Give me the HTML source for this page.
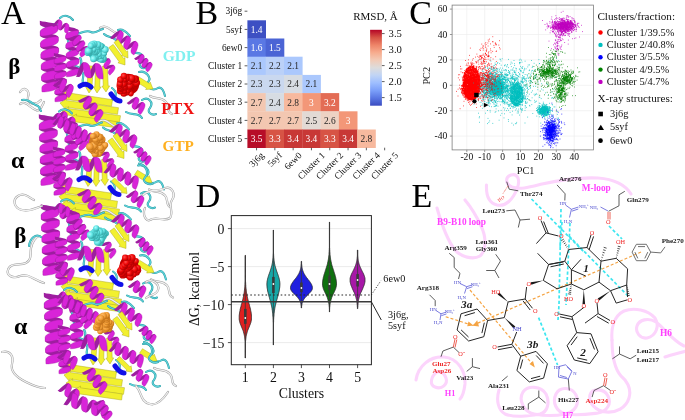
<!DOCTYPE html>
<html><head><meta charset="utf-8"><title>Figure</title>
<style>
html,body{margin:0;padding:0;background:#fff;width:685px;height:420px;overflow:hidden}
svg{display:block}
text{font-family:"Liberation Serif","Times New Roman",serif}
.bd{font-weight:bold}
</style></head><body>
<svg width="685" height="420" viewBox="0 0 685 420">
<rect width="685" height="420" fill="#fff"/>
<g id="A">
<defs>
<radialGradient id="gc" cx="0.38" cy="0.38" r="0.65"><stop offset="0" stop-color="#b0ffff"/><stop offset="0.55" stop-color="#60e4e4"/><stop offset="1" stop-color="#34a8a8"/></radialGradient>
<radialGradient id="gr" cx="0.38" cy="0.38" r="0.65"><stop offset="0" stop-color="#ff5050"/><stop offset="0.55" stop-color="#f00808"/><stop offset="1" stop-color="#b00000"/></radialGradient>
<radialGradient id="go" cx="0.38" cy="0.38" r="0.65"><stop offset="0" stop-color="#ffc070"/><stop offset="0.55" stop-color="#f4a038"/><stop offset="1" stop-color="#c07018"/></radialGradient>
</defs>
<defs><g id="mono">
<path d="M100 28 C106 24 110 30 116 33" fill="none" stroke="#9a9a9a" stroke-width="2.2" stroke-linecap="round" stroke-linejoin="round"/>
<path d="M100 28 C106 24 110 30 116 33" fill="none" stroke="#f2f2f2" stroke-width="1.3" stroke-linecap="round" stroke-linejoin="round"/>
<path d="M150 96 C156 100 160 96 166 102 C170 106 166 112 172 114" fill="none" stroke="#9a9a9a" stroke-width="2.2" stroke-linecap="round" stroke-linejoin="round"/>
<path d="M150 96 C156 100 160 96 166 102 C170 106 166 112 172 114" fill="none" stroke="#f2f2f2" stroke-width="1.3" stroke-linecap="round" stroke-linejoin="round"/>
<path d="M41 32 C46 28 52 22 58 25" fill="none" stroke="#2a9aa2" stroke-width="2.1" stroke-linecap="round" stroke-linejoin="round"/>
<path d="M41 32 C46 28 52 22 58 25" fill="none" stroke="#5fd3da" stroke-width="1.2" stroke-linecap="round" stroke-linejoin="round"/>
<path d="M70 34 C76 38 84 28 91 32 C95 34 99 30 103 29" fill="none" stroke="#2a9aa2" stroke-width="2.1" stroke-linecap="round" stroke-linejoin="round"/>
<path d="M70 34 C76 38 84 28 91 32 C95 34 99 30 103 29" fill="none" stroke="#5fd3da" stroke-width="1.2" stroke-linecap="round" stroke-linejoin="round"/>
<path d="M67 37 C70 46 70 56 72 62 C74 68 80 66 82 70" fill="none" stroke="#2a9aa2" stroke-width="2.1" stroke-linecap="round" stroke-linejoin="round"/>
<path d="M67 37 C70 46 70 56 72 62 C74 68 80 66 82 70" fill="none" stroke="#5fd3da" stroke-width="1.2" stroke-linecap="round" stroke-linejoin="round"/>
<path d="M134 53 C142 52 146 58 141 62 C137 66 143 70 146 67" fill="none" stroke="#2a9aa2" stroke-width="2.1" stroke-linecap="round" stroke-linejoin="round"/>
<path d="M134 53 C142 52 146 58 141 62 C137 66 143 70 146 67" fill="none" stroke="#5fd3da" stroke-width="1.2" stroke-linecap="round" stroke-linejoin="round"/>
<path d="M139 72 C146 70 152 78 148 82 C144 86 152 92 158 88 C162 86 164 92 165 96" fill="none" stroke="#2a9aa2" stroke-width="2.1" stroke-linecap="round" stroke-linejoin="round"/>
<path d="M139 72 C146 70 152 78 148 82 C144 86 152 92 158 88 C162 86 164 92 165 96" fill="none" stroke="#5fd3da" stroke-width="1.2" stroke-linecap="round" stroke-linejoin="round"/>
<path d="M118 30 C124 28 128 34 130 36" fill="none" stroke="#2a9aa2" stroke-width="2.1" stroke-linecap="round" stroke-linejoin="round"/>
<path d="M118 30 C124 28 128 34 130 36" fill="none" stroke="#5fd3da" stroke-width="1.2" stroke-linecap="round" stroke-linejoin="round"/>
<path d="M60 18 C64 14 70 16 73 20" fill="none" stroke="#2a9aa2" stroke-width="2.1" stroke-linecap="round" stroke-linejoin="round"/>
<path d="M60 18 C64 14 70 16 73 20" fill="none" stroke="#5fd3da" stroke-width="1.2" stroke-linecap="round" stroke-linejoin="round"/>
<path d="M80 58 C84 62 78 66 82 72 C86 76 80 80 84 84" fill="none" stroke="#2a9aa2" stroke-width="2.1" stroke-linecap="round" stroke-linejoin="round"/>
<path d="M80 58 C84 62 78 66 82 72 C86 76 80 80 84 84" fill="none" stroke="#5fd3da" stroke-width="1.2" stroke-linecap="round" stroke-linejoin="round"/>
<path d="M112 88 C118 92 116 98 112 100" fill="none" stroke="#2a9aa2" stroke-width="2.1" stroke-linecap="round" stroke-linejoin="round"/>
<path d="M112 88 C118 92 116 98 112 100" fill="none" stroke="#5fd3da" stroke-width="1.2" stroke-linecap="round" stroke-linejoin="round"/>
<path d="M142 100 C148 96 154 102 150 108 C146 112 152 116 156 114" fill="none" stroke="#2a9aa2" stroke-width="2.1" stroke-linecap="round" stroke-linejoin="round"/>
<path d="M142 100 C148 96 154 102 150 108 C146 112 152 116 156 114" fill="none" stroke="#5fd3da" stroke-width="1.2" stroke-linecap="round" stroke-linejoin="round"/>
<path d="M64 86 C60 92 66 96 62 100" fill="none" stroke="#2a9aa2" stroke-width="2.1" stroke-linecap="round" stroke-linejoin="round"/>
<path d="M64 86 C60 92 66 96 62 100" fill="none" stroke="#5fd3da" stroke-width="1.2" stroke-linecap="round" stroke-linejoin="round"/>
<path d="M126 112 C132 116 138 112 142 118" fill="none" stroke="#2a9aa2" stroke-width="2.1" stroke-linecap="round" stroke-linejoin="round"/>
<path d="M126 112 C132 116 138 112 142 118" fill="none" stroke="#5fd3da" stroke-width="1.2" stroke-linecap="round" stroke-linejoin="round"/>
<path d="M104 34 C108 38 112 36 116 40" fill="none" stroke="#2a9aa2" stroke-width="2.1" stroke-linecap="round" stroke-linejoin="round"/>
<path d="M104 34 C108 38 112 36 116 40" fill="none" stroke="#5fd3da" stroke-width="1.2" stroke-linecap="round" stroke-linejoin="round"/>
<path d="M39.8 20.8 L40.5 21.1 L42.4 21.4 L45.4 21.8 L48.8 22.4 L52.3 23.0 L55.2 23.8 L57.2 24.8 L57.9 25.8 L58.1 29.6 L57.4 29.3 L55.4 29.0 L52.5 28.6 L49.0 28.1 L45.5 27.4 L42.6 26.6 L40.6 25.6 L39.9 24.6ZM40.1 32.0 L40.8 32.3 L42.8 32.6 L45.7 33.0 L49.2 33.5 L52.6 34.2 L55.6 35.0 L57.6 36.0 L58.3 37.0 L58.4 40.8 L57.7 40.5 L55.7 40.1 L52.8 39.7 L49.3 39.2 L45.9 38.5 L42.9 37.7 L40.9 36.8 L40.2 35.7ZM40.4 43.1 L41.1 43.4 L43.1 43.8 L46.0 44.2 L49.5 44.7 L53.0 45.4 L55.9 46.2 L57.9 47.1 L58.6 48.2 L58.7 52.0 L58.0 51.6 L56.1 51.3 L53.1 50.9 L49.7 50.4 L46.2 49.7 L43.3 48.9 L41.3 48.0 L40.6 46.9ZM40.8 54.3 L41.5 54.6 L43.4 54.9 L46.4 55.3 L49.8 55.9 L53.3 56.5 L56.2 57.3 L58.2 58.3 L58.9 59.3 L59.1 63.1 L58.4 62.8 L56.4 62.5 L53.5 62.1 L50.0 61.6 L46.5 60.9 L43.6 60.1 L41.6 59.1 L40.9 58.1ZM41.1 65.5 L41.8 65.8 L43.8 66.1 L46.7 66.5 L50.2 67.0 L53.6 67.7 L56.6 68.5 L58.6 69.5 L59.3 70.5 L59.4 74.3 L58.7 74.0 L56.7 73.6 L53.8 73.2 L50.3 72.7 L46.9 72.0 L43.9 71.2 L41.9 70.3 L41.2 69.2ZM41.4 76.6 L42.1 76.9 L44.1 77.3 L47.0 77.7 L50.5 78.2 L54.0 78.9 L56.9 79.7 L58.9 80.6 L59.6 81.7 L59.7 85.5 L59.0 85.1 L57.1 84.8 L54.1 84.4 L50.7 83.9 L47.2 83.2 L44.3 82.4 L42.3 81.5 L41.6 80.4Z" fill="#9e1ea0"/>
<path d="M57.9 25.7 L57.2 25.6 L55.3 25.5 L52.4 25.8 L49.0 26.4 L45.5 27.4 L42.7 28.7 L40.7 30.2 L40.1 31.9 L40.2 35.8 L40.9 36.0 L42.9 36.0 L45.8 35.8 L49.2 35.1 L52.6 34.2 L55.5 32.9 L57.4 31.3 L58.1 29.7ZM58.3 36.9 L57.6 36.7 L55.6 36.7 L52.7 37.0 L49.3 37.6 L45.9 38.6 L43.0 39.9 L41.1 41.4 L40.4 43.0 L40.6 47.0 L41.3 47.2 L43.2 47.2 L46.1 46.9 L49.5 46.3 L53.0 45.3 L55.8 44.0 L57.8 42.5 L58.4 40.9ZM58.6 48.1 L57.9 47.9 L56.0 47.9 L53.0 48.1 L49.6 48.8 L46.2 49.7 L43.3 51.0 L41.4 52.6 L40.8 54.2 L40.9 58.2 L41.6 58.4 L43.5 58.4 L46.5 58.1 L49.9 57.5 L53.3 56.5 L56.2 55.2 L58.1 53.7 L58.7 52.1ZM58.9 59.2 L58.2 59.1 L56.3 59.0 L53.4 59.3 L50.0 59.9 L46.5 60.9 L43.7 62.2 L41.7 63.7 L41.1 65.4 L41.2 69.3 L41.9 69.5 L43.9 69.5 L46.8 69.3 L50.2 68.6 L53.6 67.7 L56.5 66.4 L58.4 64.8 L59.1 63.2ZM59.3 70.4 L58.6 70.2 L56.6 70.2 L53.7 70.5 L50.3 71.1 L46.9 72.1 L44.0 73.4 L42.1 74.9 L41.4 76.5 L41.6 80.5 L42.3 80.7 L44.2 80.7 L47.1 80.4 L50.5 79.8 L54.0 78.8 L56.8 77.5 L58.8 76.0 L59.4 74.4ZM59.6 81.6 L58.9 81.4 L57.0 81.4 L54.0 81.6 L50.6 82.3 L47.2 83.2 L44.3 84.5 L42.4 86.1 L41.8 87.7 L41.9 91.7 L42.6 91.9 L44.5 91.9 L47.5 91.6 L50.9 91.0 L54.3 90.0 L57.2 88.7 L59.1 87.2 L59.7 85.6Z" fill="#d824d8" stroke="#a01aa0" stroke-width="0.35"/>
<path d="M65.4 26.0 L65.9 26.3 L67.3 26.6 L69.4 27.1 L71.9 27.5 L74.4 28.1 L76.5 28.9 L78.0 29.6 L78.5 30.5 L78.5 33.2 L78.0 32.9 L76.6 32.6 L74.5 32.1 L72.0 31.7 L69.5 31.1 L67.4 30.3 L65.9 29.6 L65.4 28.7ZM65.6 35.6 L66.1 35.9 L67.5 36.2 L69.6 36.7 L72.1 37.1 L74.6 37.7 L76.7 38.5 L78.2 39.2 L78.7 40.1 L78.7 42.8 L78.2 42.5 L76.8 42.2 L74.7 41.7 L72.2 41.3 L69.7 40.7 L67.6 39.9 L66.1 39.2 L65.6 38.3ZM65.8 45.2 L66.3 45.5 L67.7 45.8 L69.8 46.3 L72.3 46.7 L74.8 47.3 L76.9 48.1 L78.4 48.8 L78.9 49.7 L78.9 52.4 L78.4 52.1 L77.0 51.8 L74.9 51.3 L72.4 50.9 L69.9 50.3 L67.8 49.5 L66.3 48.8 L65.8 47.9ZM66.0 54.8 L66.5 55.1 L67.9 55.4 L70.0 55.9 L72.5 56.3 L75.0 56.9 L77.1 57.7 L78.6 58.4 L79.1 59.3 L79.1 62.0 L78.6 61.7 L77.2 61.4 L75.1 60.9 L72.6 60.5 L70.1 59.9 L68.0 59.1 L66.5 58.4 L66.0 57.5ZM66.2 64.4 L66.7 64.7 L68.1 65.0 L70.2 65.5 L72.7 65.9 L75.2 66.5 L77.3 67.3 L78.8 68.0 L79.3 68.9 L79.3 71.6 L78.8 71.3 L77.4 71.0 L75.3 70.5 L72.8 70.1 L70.3 69.5 L68.2 68.7 L66.7 68.0 L66.2 67.1Z" fill="#9e1ea0"/>
<path d="M78.5 30.4 L78.0 30.4 L76.6 30.5 L74.5 30.7 L72.0 31.3 L69.5 32.0 L67.4 33.0 L66.0 34.2 L65.6 35.5 L65.6 38.4 L66.1 38.4 L67.5 38.3 L69.6 38.1 L72.1 37.5 L74.6 36.8 L76.7 35.8 L78.1 34.6 L78.5 33.3ZM78.7 40.0 L78.2 40.0 L76.8 40.1 L74.7 40.3 L72.2 40.9 L69.7 41.6 L67.6 42.6 L66.2 43.8 L65.8 45.1 L65.8 48.0 L66.3 48.0 L67.7 47.9 L69.8 47.7 L72.3 47.1 L74.8 46.4 L76.9 45.4 L78.3 44.2 L78.7 42.9ZM78.9 49.6 L78.4 49.6 L77.0 49.7 L74.9 49.9 L72.4 50.5 L69.9 51.2 L67.8 52.2 L66.4 53.4 L66.0 54.7 L66.0 57.6 L66.5 57.6 L67.9 57.5 L70.0 57.3 L72.5 56.7 L75.0 56.0 L77.1 55.0 L78.5 53.8 L78.9 52.5ZM79.1 59.2 L78.6 59.2 L77.2 59.3 L75.1 59.5 L72.6 60.1 L70.1 60.8 L68.0 61.8 L66.6 63.0 L66.2 64.3 L66.2 67.2 L66.7 67.2 L68.1 67.1 L70.2 66.9 L72.7 66.3 L75.2 65.6 L77.3 64.6 L78.7 63.4 L79.1 62.1ZM79.3 68.8 L78.8 68.8 L77.4 68.9 L75.3 69.1 L72.8 69.7 L70.3 70.4 L68.2 71.4 L66.8 72.6 L66.4 73.9 L66.4 76.8 L66.9 76.8 L68.3 76.7 L70.4 76.5 L72.9 75.9 L75.4 75.2 L77.5 74.2 L78.9 73.0 L79.3 71.7Z" fill="#d824d8" stroke="#a01aa0" stroke-width="0.35"/>
<path d="M51.6 25.8 L52.0 25.6 L52.7 24.9 L53.7 23.8 L54.9 22.4 L56.1 21.1 L57.3 20.1 L58.3 19.5 L59.1 19.5 L60.9 20.4 L60.5 20.6 L59.8 21.3 L58.8 22.5 L57.6 23.8 L56.4 25.1 L55.2 26.1 L54.2 26.7 L53.4 26.7ZM58.6 29.3 L59.0 29.1 L59.7 28.4 L60.7 27.3 L61.9 25.9 L63.1 24.6 L64.3 23.6 L65.3 23.0 L66.1 23.0 L67.9 23.9 L67.5 24.1 L66.8 24.8 L65.8 26.0 L64.6 27.3 L63.4 28.6 L62.2 29.6 L61.2 30.2 L60.4 30.2Z" fill="#9e1ea0"/>
<path d="M59.1 19.5 L58.9 19.8 L58.5 20.7 L58.1 22.1 L57.7 23.8 L57.4 25.6 L57.4 27.3 L57.8 28.6 L58.5 29.3 L60.4 30.3 L60.6 29.9 L61.0 29.0 L61.4 27.6 L61.8 25.9 L62.1 24.1 L62.1 22.5 L61.7 21.2 L61.0 20.5ZM66.1 23.0 L65.9 23.3 L65.5 24.2 L65.1 25.6 L64.7 27.3 L64.4 29.1 L64.4 30.8 L64.8 32.1 L65.5 32.8 L67.4 33.8 L67.6 33.4 L68.0 32.5 L68.4 31.1 L68.8 29.4 L69.1 27.6 L69.1 26.0 L68.7 24.7 L68.0 24.0Z" fill="#d824d8" stroke="#a01aa0" stroke-width="0.35"/>
<path d="M68.9 38.2 L69.4 38.1 L70.5 37.7 L72.2 37.0 L74.1 36.1 L76.2 35.4 L78.0 34.9 L79.3 34.7 L80.0 35.0 L81.2 37.0 L80.8 37.0 L79.7 37.5 L78.0 38.2 L76.0 39.0 L74.0 39.8 L72.2 40.3 L70.9 40.4 L70.2 40.1ZM72.6 43.8 L73.0 43.8 L74.2 43.3 L75.8 42.6 L77.8 41.8 L79.8 41.0 L81.6 40.5 L83.0 40.4 L83.7 40.7 L84.9 42.7 L84.5 42.7 L83.3 43.2 L81.7 43.9 L79.7 44.7 L77.7 45.5 L75.9 46.0 L74.5 46.1 L73.8 45.8ZM76.3 49.5 L76.7 49.5 L77.8 49.0 L79.5 48.3 L81.5 47.5 L83.5 46.7 L85.3 46.2 L86.6 46.1 L87.3 46.4 L88.6 48.3 L88.1 48.4 L87.0 48.8 L85.3 49.5 L83.4 50.4 L81.3 51.1 L79.5 51.6 L78.2 51.8 L77.5 51.5Z" fill="#9e1ea0"/>
<path d="M80.0 35.0 L79.5 35.1 L78.5 35.7 L77.1 36.8 L75.5 38.2 L74.0 39.8 L72.9 41.4 L72.4 42.8 L72.6 43.8 L73.9 45.8 L74.3 45.7 L75.3 45.1 L76.8 44.1 L78.4 42.7 L79.8 41.1 L80.9 39.5 L81.5 38.1 L81.3 37.0ZM83.6 40.7 L83.2 40.8 L82.2 41.4 L80.7 42.4 L79.1 43.8 L77.7 45.4 L76.6 47.0 L76.0 48.4 L76.2 49.5 L77.5 51.5 L78.0 51.4 L79.0 50.8 L80.4 49.7 L82.0 48.3 L83.5 46.7 L84.6 45.1 L85.1 43.7 L84.9 42.7ZM87.3 46.3 L86.9 46.4 L85.8 47.0 L84.4 48.1 L82.8 49.5 L81.3 51.1 L80.2 52.7 L79.7 54.1 L79.9 55.1 L81.2 57.2 L81.6 57.1 L82.7 56.5 L84.1 55.4 L85.7 54.0 L87.2 52.4 L88.3 50.8 L88.8 49.4 L88.6 48.4Z" fill="#d824d8" stroke="#a01aa0" stroke-width="0.35"/>
<path d="M109.8 37.4 L110.3 37.3 L111.4 36.4 L112.9 35.1 L114.6 33.6 L116.5 32.1 L118.2 30.9 L119.6 30.3 L120.5 30.4 L122.6 31.9 L122.0 32.1 L121.0 32.9 L119.5 34.2 L117.7 35.8 L115.9 37.3 L114.1 38.4 L112.7 39.0 L111.8 38.9ZM117.1 42.8 L117.6 42.6 L118.7 41.8 L120.2 40.4 L122.0 38.9 L123.8 37.4 L125.5 36.2 L126.9 35.6 L127.8 35.7 L129.9 37.2 L129.4 37.4 L128.3 38.2 L126.8 39.6 L125.0 41.1 L123.2 42.6 L121.5 43.8 L120.1 44.4 L119.2 44.3ZM124.4 48.1 L125.0 47.9 L126.0 47.1 L127.5 45.8 L129.3 44.2 L131.1 42.7 L132.9 41.6 L134.3 41.0 L135.2 41.1 L137.2 42.6 L136.7 42.7 L135.6 43.6 L134.1 44.9 L132.4 46.4 L130.5 47.9 L128.8 49.1 L127.4 49.7 L126.5 49.6Z" fill="#9e1ea0"/>
<path d="M120.5 30.4 L120.2 30.7 L119.4 31.8 L118.5 33.5 L117.5 35.6 L116.7 37.9 L116.3 40.0 L116.4 41.7 L117.1 42.7 L119.2 44.3 L119.5 44.0 L120.2 42.9 L121.2 41.2 L122.2 39.0 L123.0 36.8 L123.4 34.7 L123.3 33.0 L122.6 31.9ZM127.8 35.7 L127.5 36.0 L126.8 37.1 L125.8 38.8 L124.8 41.0 L124.0 43.2 L123.6 45.3 L123.7 47.0 L124.4 48.1 L126.5 49.6 L126.8 49.3 L127.6 48.2 L128.5 46.5 L129.5 44.4 L130.3 42.1 L130.7 40.0 L130.6 38.3 L129.9 37.3ZM135.1 41.0 L134.8 41.4 L134.1 42.5 L133.1 44.2 L132.1 46.3 L131.4 48.6 L130.9 50.7 L131.1 52.3 L131.7 53.4 L133.9 55.0 L134.2 54.6 L134.9 53.5 L135.9 51.8 L136.9 49.7 L137.6 47.4 L138.1 45.3 L137.9 43.7 L137.3 42.6Z" fill="#d824d8" stroke="#a01aa0" stroke-width="0.35"/>
<path d="M134.1 58.5 L134.5 58.3 L135.3 57.8 L136.5 56.9 L137.9 55.9 L139.4 55.0 L140.8 54.3 L141.8 54.0 L142.5 54.1 L143.9 55.5 L143.5 55.7 L142.7 56.2 L141.5 57.1 L140.1 58.1 L138.6 59.0 L137.2 59.7 L136.2 60.0 L135.5 59.9ZM138.1 62.5 L138.5 62.3 L139.3 61.8 L140.5 60.9 L141.9 59.9 L143.4 59.0 L144.8 58.3 L145.8 58.0 L146.5 58.1 L147.9 59.5 L147.5 59.7 L146.7 60.2 L145.5 61.1 L144.1 62.1 L142.6 63.0 L141.2 63.7 L140.2 64.0 L139.5 63.9ZM142.1 66.5 L142.5 66.3 L143.3 65.8 L144.5 64.9 L145.9 63.9 L147.4 63.0 L148.8 62.3 L149.8 62.0 L150.5 62.1 L151.9 63.5 L151.5 63.7 L150.7 64.2 L149.5 65.1 L148.1 66.1 L146.6 67.0 L145.2 67.7 L144.2 68.0 L143.5 67.9Z" fill="#9e1ea0"/>
<path d="M142.4 54.1 L142.1 54.2 L141.4 54.9 L140.4 56.0 L139.4 57.4 L138.5 58.9 L137.9 60.4 L137.7 61.6 L138.1 62.4 L139.6 63.9 L139.9 63.8 L140.6 63.1 L141.6 62.0 L142.6 60.6 L143.5 59.1 L144.1 57.6 L144.3 56.4 L143.9 55.6ZM146.4 58.1 L146.1 58.2 L145.4 58.9 L144.4 60.0 L143.4 61.4 L142.5 62.9 L141.9 64.4 L141.7 65.6 L142.1 66.4 L143.6 67.9 L143.9 67.8 L144.6 67.1 L145.6 66.0 L146.6 64.6 L147.5 63.1 L148.1 61.6 L148.3 60.4 L147.9 59.6ZM150.4 62.1 L150.1 62.2 L149.4 62.9 L148.4 64.0 L147.4 65.4 L146.5 66.9 L145.9 68.4 L145.7 69.6 L146.1 70.4 L147.6 71.9 L147.9 71.8 L148.6 71.1 L149.6 70.0 L150.6 68.6 L151.5 67.1 L152.1 65.6 L152.3 64.4 L151.9 63.6Z" fill="#d824d8" stroke="#a01aa0" stroke-width="0.35"/>
<path d="M108.8 47.6 L119.2 61.8 L117.9 62.8 L125.0 65.0 L125.0 57.6 L123.7 58.5 L113.2 44.4Z" fill="#f2f02e" stroke="#aeac22" stroke-width="0.5" stroke-linejoin="round"/>
<path d="M114.0 42.4 L122.5 54.5 L121.4 55.3 L128.0 58.0 L127.7 50.8 L126.5 51.7 L118.0 39.6Z" fill="#f2f02e" stroke="#aeac22" stroke-width="0.5" stroke-linejoin="round"/>
<path d="M88.6 65.8 L87.0 86.8 L85.5 86.7 L89.0 93.0 L93.3 87.3 L91.9 87.2 L93.4 66.2Z" fill="#f2f02e" stroke="#aeac22" stroke-width="0.5" stroke-linejoin="round"/>
<path d="M95.6 65.9 L94.8 86.9 L93.3 86.9 L97.0 93.0 L101.1 87.1 L99.7 87.1 L100.4 66.1Z" fill="#f2f02e" stroke="#aeac22" stroke-width="0.5" stroke-linejoin="round"/>
<path d="M102.6 66.1 L103.3 86.1 L101.9 86.2 L106.0 92.0 L109.7 85.9 L108.2 85.9 L107.4 65.9Z" fill="#f2f02e" stroke="#aeac22" stroke-width="0.5" stroke-linejoin="round"/>
<path d="M112.5 99.7 L66.4 92.6 L66.7 90.6 L60.0 95.0 L65.1 101.2 L65.4 99.2 L111.5 106.3Z" fill="#f2f02e" stroke="#aeac22" stroke-width="0.5" stroke-linejoin="round"/>
<path d="M118.5 107.7 L66.4 100.5 L66.7 98.5 L60.0 103.0 L65.2 109.1 L65.5 107.1 L117.5 114.3Z" fill="#f2f02e" stroke="#aeac22" stroke-width="0.5" stroke-linejoin="round"/>
<path d="M120.5 115.7 L68.4 108.5 L68.7 106.5 L62.0 111.0 L67.2 117.1 L67.5 115.1 L119.5 122.3Z" fill="#f2f02e" stroke="#aeac22" stroke-width="0.5" stroke-linejoin="round"/>
<path d="M118.4 122.0 L76.4 115.8 L76.6 114.0 L70.0 118.0 L75.2 123.7 L75.5 121.9 L117.6 128.0Z" fill="#f2f02e" stroke="#aeac22" stroke-width="0.5" stroke-linejoin="round"/>
<path d="M135.5 81.3 L146.5 88.1 L145.6 89.5 L153.0 89.0 L150.2 82.1 L149.4 83.5 L138.5 76.7Z" fill="#f2f02e" stroke="#aeac22" stroke-width="0.5" stroke-linejoin="round"/>
<path d="M53.9 53.0 L54.4 53.3 L55.7 53.5 L57.6 53.8 L59.9 54.2 L62.2 54.7 L64.2 55.2 L65.5 55.9 L66.0 56.6 L66.0 59.1 L65.6 58.9 L64.3 58.7 L62.3 58.4 L60.0 58.0 L57.7 57.5 L55.7 56.9 L54.4 56.3 L53.9 55.6ZM54.1 60.7 L54.5 60.9 L55.8 61.2 L57.8 61.5 L60.1 61.9 L62.4 62.3 L64.4 62.9 L65.7 63.6 L66.1 64.3 L66.2 66.8 L65.7 66.6 L64.4 66.3 L62.5 66.0 L60.2 65.6 L57.9 65.2 L55.9 64.6 L54.6 63.9 L54.1 63.2ZM54.2 68.4 L54.7 68.6 L56.0 68.8 L57.9 69.1 L60.3 69.5 L62.6 70.0 L64.5 70.6 L65.8 71.2 L66.3 71.9 L66.4 74.5 L65.9 74.2 L64.6 74.0 L62.6 73.7 L60.3 73.3 L58.0 72.8 L56.1 72.3 L54.8 71.6 L54.3 70.9ZM54.4 76.0 L54.9 76.3 L56.2 76.5 L58.1 76.8 L60.4 77.2 L62.7 77.7 L64.7 78.2 L66.0 78.9 L66.5 79.6 L66.5 82.1 L66.1 81.9 L64.8 81.7 L62.8 81.4 L60.5 81.0 L58.2 80.5 L56.2 79.9 L54.9 79.3 L54.4 78.6ZM54.6 83.7 L55.0 83.9 L56.3 84.2 L58.3 84.5 L60.6 84.9 L62.9 85.3 L64.9 85.9 L66.2 86.6 L66.6 87.3 L66.7 89.8 L66.2 89.6 L64.9 89.3 L63.0 89.0 L60.7 88.6 L58.4 88.2 L56.4 87.6 L55.1 86.9 L54.6 86.2ZM54.7 91.4 L55.2 91.6 L56.5 91.8 L58.4 92.1 L60.8 92.5 L63.1 93.0 L65.0 93.6 L66.3 94.2 L66.8 94.9 L66.9 97.5 L66.4 97.2 L65.1 97.0 L63.1 96.7 L60.8 96.3 L58.5 95.8 L56.6 95.3 L55.3 94.6 L54.8 93.9Z" fill="#9e1ea0"/>
<path d="M66.0 56.5 L65.5 56.4 L64.2 56.4 L62.3 56.6 L60.0 57.0 L57.7 57.7 L55.8 58.5 L54.5 59.5 L54.1 60.6 L54.1 63.3 L54.6 63.4 L55.9 63.4 L57.8 63.2 L60.1 62.8 L62.4 62.2 L64.3 61.3 L65.6 60.3 L66.0 59.2ZM66.1 64.2 L65.7 64.1 L64.4 64.1 L62.4 64.3 L60.1 64.7 L57.9 65.3 L55.9 66.2 L54.7 67.2 L54.2 68.3 L54.3 71.0 L54.7 71.1 L56.0 71.1 L58.0 70.9 L60.3 70.5 L62.6 69.8 L64.5 69.0 L65.8 68.0 L66.2 66.9ZM66.3 71.9 L65.8 71.8 L64.5 71.8 L62.6 71.9 L60.3 72.3 L58.0 73.0 L56.1 73.9 L54.8 74.9 L54.4 76.0 L54.4 78.6 L54.9 78.7 L56.2 78.7 L58.2 78.6 L60.4 78.2 L62.7 77.5 L64.6 76.6 L65.9 75.6 L66.4 74.5ZM66.5 79.5 L66.0 79.4 L64.7 79.4 L62.8 79.6 L60.5 80.0 L58.2 80.7 L56.3 81.5 L55.0 82.5 L54.6 83.6 L54.6 86.3 L55.1 86.4 L56.4 86.4 L58.3 86.2 L60.6 85.8 L62.9 85.2 L64.8 84.3 L66.1 83.3 L66.5 82.2ZM66.6 87.2 L66.2 87.1 L64.9 87.1 L62.9 87.3 L60.6 87.7 L58.4 88.3 L56.4 89.2 L55.2 90.2 L54.7 91.3 L54.8 94.0 L55.2 94.1 L56.5 94.1 L58.5 93.9 L60.8 93.5 L63.1 92.8 L65.0 92.0 L66.3 91.0 L66.7 89.9ZM66.8 94.9 L66.3 94.8 L65.0 94.8 L63.1 94.9 L60.8 95.3 L58.5 96.0 L56.6 96.9 L55.3 97.9 L54.9 99.0 L54.9 101.6 L55.4 101.7 L56.7 101.7 L58.7 101.6 L60.9 101.2 L63.2 100.5 L65.1 99.6 L66.4 98.6 L66.9 97.5Z" fill="#d824d8" stroke="#a01aa0" stroke-width="0.35"/>
<path d="M75.8 76.8 L76.3 76.3 L76.9 74.7 L77.7 72.4 L78.6 69.6 L79.7 66.8 L80.8 64.4 L82.0 62.9 L83.0 62.4 L86.2 62.7 L85.7 63.2 L85.1 64.8 L84.3 67.1 L83.4 69.9 L82.3 72.7 L81.2 75.1 L80.0 76.6 L79.0 77.1ZM87.8 77.8 L88.3 77.3 L88.9 75.7 L89.7 73.4 L90.6 70.6 L91.7 67.8 L92.8 65.4 L94.0 63.9 L95.0 63.4 L98.2 63.7 L97.7 64.2 L97.1 65.8 L96.3 68.1 L95.4 70.9 L94.3 73.7 L93.2 76.1 L92.0 77.6 L91.0 78.1Z" fill="#9e1ea0"/>
<path d="M83.0 62.4 L82.9 63.0 L82.9 64.6 L83.0 67.0 L83.4 69.9 L84.0 72.9 L85.0 75.4 L86.3 77.1 L87.7 77.8 L91.0 78.1 L91.1 77.5 L91.1 75.9 L91.0 73.5 L90.6 70.6 L90.0 67.6 L89.0 65.1 L87.7 63.4 L86.3 62.7ZM95.0 63.4 L94.9 64.0 L94.9 65.6 L95.0 68.0 L95.4 70.9 L96.0 73.9 L97.0 76.4 L98.3 78.1 L99.7 78.8 L103.0 79.1 L103.1 78.5 L103.1 76.9 L103.0 74.5 L102.6 71.6 L102.0 68.6 L101.0 66.1 L99.7 64.4 L98.3 63.7Z" fill="#d824d8" stroke="#a01aa0" stroke-width="0.35"/>
<path d="M99.5 60.5 L99.9 60.5 L100.9 60.2 L102.3 59.7 L104.0 59.1 L105.7 58.6 L107.3 58.2 L108.4 58.2 L109.1 58.6 L110.3 60.3 L109.8 60.2 L108.8 60.5 L107.4 61.0 L105.7 61.6 L104.0 62.2 L102.5 62.5 L101.3 62.5 L100.6 62.1ZM104.0 67.0 L104.4 67.0 L105.4 66.7 L106.8 66.2 L108.5 65.6 L110.2 65.1 L111.8 64.7 L112.9 64.7 L113.6 65.1 L114.8 66.8 L114.3 66.7 L113.3 67.0 L111.9 67.5 L110.2 68.1 L108.5 68.7 L107.0 69.0 L105.8 69.0 L105.1 68.6Z" fill="#9e1ea0"/>
<path d="M109.1 58.6 L108.8 58.8 L108.1 59.4 L107.0 60.4 L105.8 61.7 L104.7 63.2 L104.0 64.6 L103.7 65.9 L103.9 66.9 L105.2 68.7 L105.4 68.5 L106.2 67.9 L107.3 66.8 L108.5 65.5 L109.5 64.1 L110.3 62.6 L110.6 61.3 L110.3 60.3ZM113.6 65.1 L113.3 65.3 L112.6 65.9 L111.5 66.9 L110.3 68.2 L109.2 69.7 L108.5 71.1 L108.2 72.4 L108.4 73.4 L109.7 75.2 L109.9 75.0 L110.7 74.4 L111.8 73.3 L113.0 72.0 L114.0 70.6 L114.8 69.1 L115.1 67.8 L114.8 66.8Z" fill="#d824d8" stroke="#a01aa0" stroke-width="0.35"/>
<path d="M77.8 100.6 L78.3 100.5 L79.5 99.9 L81.3 99.0 L83.4 97.9 L85.5 96.9 L87.4 96.1 L88.9 95.8 L89.8 96.2 L91.4 98.1 L90.8 98.1 L89.6 98.7 L87.9 99.7 L85.8 100.8 L83.7 101.8 L81.8 102.6 L80.3 102.8 L79.4 102.5ZM83.4 107.3 L84.0 107.2 L85.2 106.6 L86.9 105.7 L89.0 104.6 L91.2 103.5 L93.1 102.8 L94.6 102.5 L95.4 102.8 L97.1 104.7 L96.5 104.8 L95.3 105.4 L93.6 106.3 L91.5 107.4 L89.3 108.5 L87.4 109.2 L85.9 109.5 L85.1 109.2ZM89.1 113.9 L89.7 113.9 L90.9 113.3 L92.6 112.3 L94.7 111.2 L96.8 110.2 L98.7 109.4 L100.2 109.2 L101.1 109.5 L102.7 111.4 L102.2 111.5 L101.0 112.1 L99.2 113.0 L97.1 114.1 L95.0 115.1 L93.1 115.9 L91.6 116.2 L90.7 115.8Z" fill="#9e1ea0"/>
<path d="M89.7 96.1 L89.3 96.4 L88.4 97.2 L87.0 98.6 L85.5 100.5 L84.2 102.4 L83.3 104.4 L83.0 106.0 L83.4 107.2 L85.1 109.2 L85.5 109.0 L86.5 108.1 L87.8 106.7 L89.3 104.9 L90.6 102.9 L91.5 100.9 L91.8 99.3 L91.4 98.1ZM95.4 102.8 L95.0 103.0 L94.0 103.9 L92.7 105.3 L91.2 107.1 L89.9 109.1 L89.0 111.1 L88.7 112.7 L89.1 113.9 L90.8 115.9 L91.2 115.6 L92.1 114.8 L93.5 113.4 L95.0 111.5 L96.3 109.6 L97.2 107.6 L97.5 106.0 L97.1 104.8ZM101.0 109.4 L100.7 109.7 L99.7 110.6 L98.3 112.0 L96.9 113.8 L95.6 115.8 L94.6 117.7 L94.3 119.4 L94.7 120.5 L96.5 122.6 L96.8 122.3 L97.8 121.4 L99.2 120.0 L100.6 118.2 L101.9 116.2 L102.9 114.3 L103.2 112.6 L102.8 111.5Z" fill="#d824d8" stroke="#a01aa0" stroke-width="0.35"/>
<path d="M126.6 103.0 L127.1 102.8 L128.1 102.1 L129.5 101.0 L131.2 99.6 L132.9 98.4 L134.5 97.4 L135.8 96.9 L136.6 97.0 L138.4 98.5 L137.9 98.7 L136.9 99.4 L135.5 100.5 L133.8 101.9 L132.1 103.1 L130.5 104.1 L129.2 104.6 L128.4 104.5ZM132.6 108.0 L133.1 107.8 L134.1 107.1 L135.5 106.0 L137.2 104.6 L138.9 103.4 L140.5 102.4 L141.8 101.9 L142.6 102.0 L144.4 103.5 L143.9 103.7 L142.9 104.4 L141.5 105.5 L139.8 106.9 L138.1 108.1 L136.5 109.1 L135.2 109.6 L134.4 109.5Z" fill="#9e1ea0"/>
<path d="M136.6 97.0 L136.3 97.3 L135.5 98.2 L134.5 99.7 L133.5 101.5 L132.6 103.5 L132.0 105.4 L132.0 107.0 L132.5 107.9 L134.4 109.5 L134.7 109.2 L135.5 108.3 L136.5 106.8 L137.5 105.0 L138.4 103.0 L139.0 101.1 L139.0 99.5 L138.5 98.6ZM142.6 102.0 L142.3 102.3 L141.5 103.2 L140.5 104.7 L139.5 106.5 L138.6 108.5 L138.0 110.4 L138.0 112.0 L138.5 112.9 L140.4 114.5 L140.7 114.2 L141.5 113.3 L142.5 111.8 L143.5 110.0 L144.4 108.0 L145.0 106.1 L145.0 104.5 L144.5 103.6Z" fill="#d824d8" stroke="#a01aa0" stroke-width="0.35"/>
<path d="M52.8 85.2 L53.3 85.0 L54.4 84.2 L55.9 82.9 L57.8 81.5 L59.7 80.0 L61.4 78.9 L62.8 78.4 L63.7 78.5 L65.7 80.1 L65.2 80.2 L64.1 81.0 L62.6 82.3 L60.7 83.8 L58.8 85.2 L57.1 86.3 L55.7 86.9 L54.8 86.7ZM59.8 90.7 L60.3 90.5 L61.4 89.7 L62.9 88.4 L64.8 87.0 L66.7 85.5 L68.4 84.4 L69.8 83.9 L70.7 84.0 L72.7 85.6 L72.2 85.7 L71.1 86.5 L69.6 87.8 L67.7 89.3 L65.8 90.7 L64.1 91.8 L62.7 92.4 L61.8 92.2Z" fill="#9e1ea0"/>
<path d="M63.7 78.5 L63.3 78.8 L62.6 79.8 L61.5 81.5 L60.5 83.6 L59.6 85.8 L59.1 87.9 L59.1 89.6 L59.7 90.6 L61.8 92.3 L62.2 92.0 L62.9 90.9 L64.0 89.2 L65.0 87.2 L65.9 84.9 L66.4 82.9 L66.4 81.2 L65.8 80.1ZM70.7 84.0 L70.3 84.3 L69.6 85.3 L68.5 87.0 L67.5 89.1 L66.6 91.3 L66.1 93.4 L66.1 95.1 L66.7 96.1 L68.8 97.8 L69.2 97.5 L69.9 96.4 L71.0 94.7 L72.0 92.7 L72.9 90.4 L73.4 88.4 L73.4 86.7 L72.8 85.6Z" fill="#d824d8" stroke="#a01aa0" stroke-width="0.35"/>
<path d="M53.6 118.5 L54.1 118.3 L55.2 117.5 L56.7 116.1 L58.4 114.6 L60.3 113.0 L62.0 111.8 L63.4 111.2 L64.4 111.3 L66.4 112.8 L65.9 112.9 L64.8 113.8 L63.3 115.1 L61.6 116.7 L59.7 118.2 L58.0 119.4 L56.6 120.0 L55.6 119.9ZM61.6 124.0 L62.1 123.8 L63.2 123.0 L64.7 121.6 L66.4 120.1 L68.3 118.5 L70.0 117.3 L71.4 116.7 L72.4 116.8 L74.4 118.3 L73.9 118.4 L72.8 119.3 L71.3 120.6 L69.6 122.2 L67.7 123.7 L66.0 124.9 L64.6 125.5 L63.6 125.4Z" fill="#9e1ea0"/>
<path d="M64.3 111.3 L64.0 111.7 L63.4 112.8 L62.5 114.6 L61.6 116.7 L60.9 119.0 L60.6 121.2 L60.8 122.9 L61.5 123.9 L63.7 125.4 L64.0 125.1 L64.6 123.9 L65.5 122.2 L66.4 120.0 L67.1 117.7 L67.4 115.6 L67.2 113.9 L66.5 112.8ZM72.3 116.8 L72.0 117.2 L71.4 118.3 L70.5 120.1 L69.6 122.2 L68.9 124.5 L68.6 126.7 L68.8 128.4 L69.5 129.4 L71.7 130.9 L72.0 130.6 L72.6 129.4 L73.5 127.7 L74.4 125.5 L75.1 123.2 L75.4 121.1 L75.2 119.4 L74.5 118.3Z" fill="#d824d8" stroke="#a01aa0" stroke-width="0.35"/>
<path d="M80 86 Q86 82 91 87" fill="none" stroke="#1010e8" stroke-width="5" stroke-linecap="round"/>
<path d="M111 94 Q116 101 120 101" fill="none" stroke="#1010e8" stroke-width="5" stroke-linecap="round"/>
</g></defs>
<use href="#mono" transform="translate(0 0)"/>
<use href="#mono" transform="translate(-1 93.5)"/>
<use href="#mono" transform="translate(1 183.5)"/>
<use href="#mono" transform="translate(4 272)"/>
<g transform="translate(-1 93.5)">
<path d="M104.3 78.7 L104.8 78.4 L105.7 77.4 L106.9 75.9 L108.5 74.1 L110.0 72.4 L111.5 71.0 L112.8 70.2 L113.7 70.1 L115.9 71.3 L115.5 71.6 L114.6 72.6 L113.3 74.1 L111.8 75.9 L110.2 77.6 L108.7 79.0 L107.4 79.8 L106.5 79.9ZM111.8 82.7 L112.3 82.4 L113.2 81.4 L114.4 79.9 L116.0 78.1 L117.5 76.4 L119.0 75.0 L120.3 74.2 L121.2 74.1 L123.4 75.3 L123.0 75.6 L122.1 76.6 L120.8 78.1 L119.3 79.9 L117.7 81.6 L116.2 83.0 L114.9 83.8 L114.0 83.9ZM119.3 86.7 L119.8 86.4 L120.7 85.4 L121.9 83.9 L123.5 82.1 L125.0 80.4 L126.5 79.0 L127.8 78.2 L128.7 78.1 L130.9 79.3 L130.5 79.6 L129.6 80.6 L128.3 82.1 L126.8 83.9 L125.2 85.6 L123.7 87.0 L122.4 87.8 L121.5 87.9ZM126.8 90.7 L127.3 90.4 L128.2 89.4 L129.4 87.9 L131.0 86.1 L132.5 84.4 L134.0 83.0 L135.3 82.2 L136.2 82.1 L138.4 83.3 L138.0 83.6 L137.1 84.6 L135.8 86.1 L134.3 87.9 L132.7 89.6 L131.2 91.0 L129.9 91.8 L129.0 91.9Z" fill="#9e1ea0"/>
<path d="M113.7 70.1 L113.4 70.5 L112.8 71.6 L112.0 73.4 L111.3 75.6 L110.8 78.0 L110.7 80.1 L111.0 81.7 L111.8 82.7 L114.1 83.9 L114.4 83.5 L115.0 82.4 L115.7 80.6 L116.4 78.4 L116.9 76.0 L117.1 73.9 L116.8 72.3 L116.0 71.3ZM121.2 74.1 L120.9 74.5 L120.3 75.6 L119.5 77.4 L118.8 79.6 L118.3 82.0 L118.2 84.1 L118.5 85.7 L119.3 86.7 L121.6 87.9 L121.9 87.5 L122.5 86.4 L123.2 84.6 L123.9 82.4 L124.4 80.0 L124.6 77.9 L124.3 76.3 L123.5 75.3ZM128.7 78.1 L128.4 78.5 L127.8 79.6 L127.0 81.4 L126.3 83.6 L125.8 86.0 L125.7 88.1 L126.0 89.7 L126.8 90.7 L129.1 91.9 L129.4 91.5 L130.0 90.4 L130.7 88.6 L131.4 86.4 L131.9 84.0 L132.1 81.9 L131.8 80.3 L131.0 79.3ZM136.2 82.1 L135.9 82.5 L135.3 83.6 L134.5 85.4 L133.8 87.6 L133.3 90.0 L133.2 92.1 L133.5 93.7 L134.3 94.7 L136.6 95.9 L136.9 95.5 L137.5 94.4 L138.2 92.6 L138.9 90.4 L139.4 88.0 L139.6 85.9 L139.3 84.3 L138.5 83.3Z" fill="#d824d8" stroke="#a01aa0" stroke-width="0.35"/>
<path d="M112.4 87.6 L122.9 98.1 L121.8 99.1 L128.0 100.0 L127.1 93.8 L126.1 94.9 L115.6 84.4Z" fill="#f2f02e" stroke="#aeac22" stroke-width="0.5" stroke-linejoin="round"/>
<path d="M53.3 30.6 L53.7 30.3 L54.5 29.4 L55.6 28.0 L57.0 26.3 L58.4 24.7 L59.8 23.4 L60.9 22.7 L61.7 22.6 L63.7 23.8 L63.3 24.0 L62.5 24.9 L61.4 26.4 L60.0 28.0 L58.6 29.6 L57.2 30.9 L56.1 31.7 L55.3 31.7ZM59.3 33.9 L59.7 33.6 L60.5 32.7 L61.6 31.3 L63.0 29.7 L64.4 28.0 L65.8 26.8 L66.9 26.0 L67.7 26.0 L69.7 27.1 L69.3 27.4 L68.5 28.3 L67.4 29.7 L66.0 31.3 L64.6 33.0 L63.2 34.2 L62.1 35.0 L61.3 35.0ZM65.3 37.2 L65.7 37.0 L66.5 36.1 L67.6 34.6 L69.0 33.0 L70.4 31.4 L71.8 30.1 L72.9 29.3 L73.7 29.3 L75.7 30.4 L75.3 30.7 L74.5 31.6 L73.4 33.0 L72.0 34.7 L70.6 36.3 L69.2 37.6 L68.1 38.3 L67.3 38.4ZM71.3 40.6 L71.7 40.3 L72.5 39.4 L73.6 38.0 L75.0 36.3 L76.4 34.7 L77.8 33.4 L78.9 32.7 L79.7 32.6 L81.7 33.8 L81.3 34.0 L80.5 34.9 L79.4 36.4 L78.0 38.0 L76.6 39.6 L75.2 40.9 L74.1 41.7 L73.3 41.7ZM77.3 43.9 L77.7 43.6 L78.5 42.7 L79.6 41.3 L81.0 39.7 L82.4 38.0 L83.8 36.8 L84.9 36.0 L85.7 36.0 L87.7 37.1 L87.3 37.4 L86.5 38.3 L85.4 39.7 L84.0 41.3 L82.6 43.0 L81.2 44.2 L80.1 45.0 L79.3 45.0ZM83.3 47.2 L83.7 47.0 L84.5 46.1 L85.6 44.6 L87.0 43.0 L88.4 41.4 L89.8 40.1 L90.9 39.3 L91.7 39.3 L93.7 40.4 L93.3 40.7 L92.5 41.6 L91.4 43.0 L90.0 44.7 L88.6 46.3 L87.2 47.6 L86.1 48.3 L85.3 48.4Z" fill="#9e1ea0"/>
<path d="M61.6 22.6 L61.3 22.9 L60.7 23.9 L59.9 25.5 L59.2 27.5 L58.6 29.6 L58.4 31.6 L58.6 33.0 L59.3 33.9 L61.4 35.1 L61.7 34.8 L62.3 33.7 L63.1 32.1 L63.8 30.1 L64.4 28.0 L64.6 26.1 L64.4 24.6 L63.7 23.8ZM67.6 25.9 L67.3 26.2 L66.7 27.3 L65.9 28.9 L65.2 30.9 L64.6 33.0 L64.4 34.9 L64.6 36.4 L65.3 37.2 L67.4 38.4 L67.7 38.1 L68.3 37.1 L69.1 35.5 L69.8 33.5 L70.4 31.4 L70.6 29.4 L70.4 28.0 L69.7 27.1ZM73.6 29.3 L73.3 29.6 L72.7 30.6 L71.9 32.2 L71.2 34.2 L70.6 36.3 L70.4 38.2 L70.6 39.7 L71.3 40.6 L73.4 41.7 L73.7 41.4 L74.3 40.4 L75.1 38.8 L75.8 36.8 L76.4 34.7 L76.6 32.8 L76.4 31.3 L75.7 30.4ZM79.6 32.6 L79.3 32.9 L78.7 33.9 L77.9 35.5 L77.2 37.5 L76.6 39.6 L76.4 41.6 L76.6 43.0 L77.3 43.9 L79.4 45.1 L79.7 44.8 L80.3 43.7 L81.1 42.1 L81.8 40.1 L82.4 38.0 L82.6 36.1 L82.4 34.6 L81.7 33.8ZM85.6 35.9 L85.3 36.2 L84.7 37.3 L83.9 38.9 L83.2 40.9 L82.6 43.0 L82.4 44.9 L82.6 46.4 L83.3 47.2 L85.4 48.4 L85.7 48.1 L86.3 47.1 L87.1 45.5 L87.8 43.5 L88.4 41.4 L88.6 39.4 L88.4 38.0 L87.7 37.1ZM91.6 39.3 L91.3 39.6 L90.7 40.6 L89.9 42.2 L89.2 44.2 L88.6 46.3 L88.4 48.2 L88.6 49.7 L89.3 50.6 L91.4 51.7 L91.7 51.4 L92.3 50.4 L93.1 48.8 L93.8 46.8 L94.4 44.7 L94.6 42.8 L94.4 41.3 L93.7 40.4Z" fill="#d824d8" stroke="#a01aa0" stroke-width="0.35"/>
<path d="M140 70 C148 72 150 80 146 84 C142 88 150 92 154 90" fill="none" stroke="#2a9aa2" stroke-width="2.1" stroke-linecap="round" stroke-linejoin="round"/>
<path d="M140 70 C148 72 150 80 146 84 C142 88 150 92 154 90" fill="none" stroke="#5fd3da" stroke-width="1.2" stroke-linecap="round" stroke-linejoin="round"/>
</g>
<g transform="translate(4 272)">
<path d="M104.3 78.7 L104.8 78.4 L105.7 77.4 L106.9 75.9 L108.5 74.1 L110.0 72.4 L111.5 71.0 L112.8 70.2 L113.7 70.1 L115.9 71.3 L115.5 71.6 L114.6 72.6 L113.3 74.1 L111.8 75.9 L110.2 77.6 L108.7 79.0 L107.4 79.8 L106.5 79.9ZM111.8 82.7 L112.3 82.4 L113.2 81.4 L114.4 79.9 L116.0 78.1 L117.5 76.4 L119.0 75.0 L120.3 74.2 L121.2 74.1 L123.4 75.3 L123.0 75.6 L122.1 76.6 L120.8 78.1 L119.3 79.9 L117.7 81.6 L116.2 83.0 L114.9 83.8 L114.0 83.9ZM119.3 86.7 L119.8 86.4 L120.7 85.4 L121.9 83.9 L123.5 82.1 L125.0 80.4 L126.5 79.0 L127.8 78.2 L128.7 78.1 L130.9 79.3 L130.5 79.6 L129.6 80.6 L128.3 82.1 L126.8 83.9 L125.2 85.6 L123.7 87.0 L122.4 87.8 L121.5 87.9ZM126.8 90.7 L127.3 90.4 L128.2 89.4 L129.4 87.9 L131.0 86.1 L132.5 84.4 L134.0 83.0 L135.3 82.2 L136.2 82.1 L138.4 83.3 L138.0 83.6 L137.1 84.6 L135.8 86.1 L134.3 87.9 L132.7 89.6 L131.2 91.0 L129.9 91.8 L129.0 91.9Z" fill="#9e1ea0"/>
<path d="M113.7 70.1 L113.4 70.5 L112.8 71.6 L112.0 73.4 L111.3 75.6 L110.8 78.0 L110.7 80.1 L111.0 81.7 L111.8 82.7 L114.1 83.9 L114.4 83.5 L115.0 82.4 L115.7 80.6 L116.4 78.4 L116.9 76.0 L117.1 73.9 L116.8 72.3 L116.0 71.3ZM121.2 74.1 L120.9 74.5 L120.3 75.6 L119.5 77.4 L118.8 79.6 L118.3 82.0 L118.2 84.1 L118.5 85.7 L119.3 86.7 L121.6 87.9 L121.9 87.5 L122.5 86.4 L123.2 84.6 L123.9 82.4 L124.4 80.0 L124.6 77.9 L124.3 76.3 L123.5 75.3ZM128.7 78.1 L128.4 78.5 L127.8 79.6 L127.0 81.4 L126.3 83.6 L125.8 86.0 L125.7 88.1 L126.0 89.7 L126.8 90.7 L129.1 91.9 L129.4 91.5 L130.0 90.4 L130.7 88.6 L131.4 86.4 L131.9 84.0 L132.1 81.9 L131.8 80.3 L131.0 79.3ZM136.2 82.1 L135.9 82.5 L135.3 83.6 L134.5 85.4 L133.8 87.6 L133.3 90.0 L133.2 92.1 L133.5 93.7 L134.3 94.7 L136.6 95.9 L136.9 95.5 L137.5 94.4 L138.2 92.6 L138.9 90.4 L139.4 88.0 L139.6 85.9 L139.3 84.3 L138.5 83.3Z" fill="#d824d8" stroke="#a01aa0" stroke-width="0.35"/>
<path d="M112.4 87.6 L122.9 98.1 L121.8 99.1 L128.0 100.0 L127.1 93.8 L126.1 94.9 L115.6 84.4Z" fill="#f2f02e" stroke="#aeac22" stroke-width="0.5" stroke-linejoin="round"/>
<path d="M53.3 30.6 L53.7 30.3 L54.5 29.4 L55.6 28.0 L57.0 26.3 L58.4 24.7 L59.8 23.4 L60.9 22.7 L61.7 22.6 L63.7 23.8 L63.3 24.0 L62.5 24.9 L61.4 26.4 L60.0 28.0 L58.6 29.6 L57.2 30.9 L56.1 31.7 L55.3 31.7ZM59.3 33.9 L59.7 33.6 L60.5 32.7 L61.6 31.3 L63.0 29.7 L64.4 28.0 L65.8 26.8 L66.9 26.0 L67.7 26.0 L69.7 27.1 L69.3 27.4 L68.5 28.3 L67.4 29.7 L66.0 31.3 L64.6 33.0 L63.2 34.2 L62.1 35.0 L61.3 35.0ZM65.3 37.2 L65.7 37.0 L66.5 36.1 L67.6 34.6 L69.0 33.0 L70.4 31.4 L71.8 30.1 L72.9 29.3 L73.7 29.3 L75.7 30.4 L75.3 30.7 L74.5 31.6 L73.4 33.0 L72.0 34.7 L70.6 36.3 L69.2 37.6 L68.1 38.3 L67.3 38.4ZM71.3 40.6 L71.7 40.3 L72.5 39.4 L73.6 38.0 L75.0 36.3 L76.4 34.7 L77.8 33.4 L78.9 32.7 L79.7 32.6 L81.7 33.8 L81.3 34.0 L80.5 34.9 L79.4 36.4 L78.0 38.0 L76.6 39.6 L75.2 40.9 L74.1 41.7 L73.3 41.7ZM77.3 43.9 L77.7 43.6 L78.5 42.7 L79.6 41.3 L81.0 39.7 L82.4 38.0 L83.8 36.8 L84.9 36.0 L85.7 36.0 L87.7 37.1 L87.3 37.4 L86.5 38.3 L85.4 39.7 L84.0 41.3 L82.6 43.0 L81.2 44.2 L80.1 45.0 L79.3 45.0ZM83.3 47.2 L83.7 47.0 L84.5 46.1 L85.6 44.6 L87.0 43.0 L88.4 41.4 L89.8 40.1 L90.9 39.3 L91.7 39.3 L93.7 40.4 L93.3 40.7 L92.5 41.6 L91.4 43.0 L90.0 44.7 L88.6 46.3 L87.2 47.6 L86.1 48.3 L85.3 48.4Z" fill="#9e1ea0"/>
<path d="M61.6 22.6 L61.3 22.9 L60.7 23.9 L59.9 25.5 L59.2 27.5 L58.6 29.6 L58.4 31.6 L58.6 33.0 L59.3 33.9 L61.4 35.1 L61.7 34.8 L62.3 33.7 L63.1 32.1 L63.8 30.1 L64.4 28.0 L64.6 26.1 L64.4 24.6 L63.7 23.8ZM67.6 25.9 L67.3 26.2 L66.7 27.3 L65.9 28.9 L65.2 30.9 L64.6 33.0 L64.4 34.9 L64.6 36.4 L65.3 37.2 L67.4 38.4 L67.7 38.1 L68.3 37.1 L69.1 35.5 L69.8 33.5 L70.4 31.4 L70.6 29.4 L70.4 28.0 L69.7 27.1ZM73.6 29.3 L73.3 29.6 L72.7 30.6 L71.9 32.2 L71.2 34.2 L70.6 36.3 L70.4 38.2 L70.6 39.7 L71.3 40.6 L73.4 41.7 L73.7 41.4 L74.3 40.4 L75.1 38.8 L75.8 36.8 L76.4 34.7 L76.6 32.8 L76.4 31.3 L75.7 30.4ZM79.6 32.6 L79.3 32.9 L78.7 33.9 L77.9 35.5 L77.2 37.5 L76.6 39.6 L76.4 41.6 L76.6 43.0 L77.3 43.9 L79.4 45.1 L79.7 44.8 L80.3 43.7 L81.1 42.1 L81.8 40.1 L82.4 38.0 L82.6 36.1 L82.4 34.6 L81.7 33.8ZM85.6 35.9 L85.3 36.2 L84.7 37.3 L83.9 38.9 L83.2 40.9 L82.6 43.0 L82.4 44.9 L82.6 46.4 L83.3 47.2 L85.4 48.4 L85.7 48.1 L86.3 47.1 L87.1 45.5 L87.8 43.5 L88.4 41.4 L88.6 39.4 L88.4 38.0 L87.7 37.1ZM91.6 39.3 L91.3 39.6 L90.7 40.6 L89.9 42.2 L89.2 44.2 L88.6 46.3 L88.4 48.2 L88.6 49.7 L89.3 50.6 L91.4 51.7 L91.7 51.4 L92.3 50.4 L93.1 48.8 L93.8 46.8 L94.4 44.7 L94.6 42.8 L94.4 41.3 L93.7 40.4Z" fill="#d824d8" stroke="#a01aa0" stroke-width="0.35"/>
<path d="M140 70 C148 72 150 80 146 84 C142 88 150 92 154 90" fill="none" stroke="#2a9aa2" stroke-width="2.1" stroke-linecap="round" stroke-linejoin="round"/>
<path d="M140 70 C148 72 150 80 146 84 C142 88 150 92 154 90" fill="none" stroke="#5fd3da" stroke-width="1.2" stroke-linecap="round" stroke-linejoin="round"/>
</g>
<path d="M20 92 C24 86 30 90 28 97 C26 104 36 106 41 100" fill="none" stroke="#9a9a9a" stroke-width="2.2" stroke-linecap="round" stroke-linejoin="round"/>
<path d="M20 92 C24 86 30 90 28 97 C26 104 36 106 41 100" fill="none" stroke="#f2f2f2" stroke-width="1.3" stroke-linecap="round" stroke-linejoin="round"/>
<path d="M20 104 C26 100 30 108 36 110 C40 112 42 106 44 102" fill="none" stroke="#9a9a9a" stroke-width="2.2" stroke-linecap="round" stroke-linejoin="round"/>
<path d="M20 104 C26 100 30 108 36 110 C40 112 42 106 44 102" fill="none" stroke="#f2f2f2" stroke-width="1.3" stroke-linecap="round" stroke-linejoin="round"/>
<path d="M42 206 C36 208 30 212 22 210 C14 208 12 200 18 196 C24 192 30 198 34 200" fill="none" stroke="#9a9a9a" stroke-width="2.2" stroke-linecap="round" stroke-linejoin="round"/>
<path d="M42 206 C36 208 30 212 22 210 C14 208 12 200 18 196 C24 192 30 198 34 200" fill="none" stroke="#f2f2f2" stroke-width="1.3" stroke-linecap="round" stroke-linejoin="round"/>
<path d="M40 236 C36 236 32 242 31 248 C30 254 32 260 26 263 C20 266 10 262 8 270 C6 276 14 279 20 276 C28 273 34 280 44 283" fill="none" stroke="#9a9a9a" stroke-width="2.2" stroke-linecap="round" stroke-linejoin="round"/>
<path d="M40 236 C36 236 32 242 31 248 C30 254 32 260 26 263 C20 266 10 262 8 270 C6 276 14 279 20 276 C28 273 34 280 44 283" fill="none" stroke="#f2f2f2" stroke-width="1.3" stroke-linecap="round" stroke-linejoin="round"/>
<path d="M2 352 C10 350 14 356 12 364 C10 372 18 378 26 382 C34 386 40 388 45 388" fill="none" stroke="#9a9a9a" stroke-width="2.2" stroke-linecap="round" stroke-linejoin="round"/>
<path d="M2 352 C10 350 14 356 12 364 C10 372 18 378 26 382 C34 386 40 388 45 388" fill="none" stroke="#f2f2f2" stroke-width="1.3" stroke-linecap="round" stroke-linejoin="round"/>
<path d="M143 195 C150 188 160 192 165 188 C172 186 176 194 172 200 C168 206 174 212 170 218 C164 222 156 216 150 220 C146 222 142 214 145 208" fill="none" stroke="#9a9a9a" stroke-width="2.2" stroke-linecap="round" stroke-linejoin="round"/>
<path d="M143 195 C150 188 160 192 165 188 C172 186 176 194 172 200 C168 206 174 212 170 218 C164 222 156 216 150 220 C146 222 142 214 145 208" fill="none" stroke="#f2f2f2" stroke-width="1.3" stroke-linecap="round" stroke-linejoin="round"/>
<path d="M146 282 C152 278 160 284 158 290 C156 296 150 294 146 298" fill="none" stroke="#9a9a9a" stroke-width="2.2" stroke-linecap="round" stroke-linejoin="round"/>
<path d="M146 282 C152 278 160 284 158 290 C156 296 150 294 146 298" fill="none" stroke="#f2f2f2" stroke-width="1.3" stroke-linecap="round" stroke-linejoin="round"/>
<path d="M22 100 C28 98 32 104 38 106 C40 108 40 110 41 111" fill="none" stroke="#2a9aa2" stroke-width="2.1" stroke-linecap="round" stroke-linejoin="round"/>
<path d="M22 100 C28 98 32 104 38 106 C40 108 40 110 41 111" fill="none" stroke="#5fd3da" stroke-width="1.2" stroke-linecap="round" stroke-linejoin="round"/>
<path d="M29 246 C30 238 36 233 41 237" fill="none" stroke="#2a9aa2" stroke-width="2.1" stroke-linecap="round" stroke-linejoin="round"/>
<path d="M29 246 C30 238 36 233 41 237" fill="none" stroke="#5fd3da" stroke-width="1.2" stroke-linecap="round" stroke-linejoin="round"/>
<path d="M63.3 404.4 L63.8 404.0 L64.7 402.7 L66.0 400.7 L67.4 398.4 L69.0 396.1 L70.5 394.2 L71.9 393.1 L72.9 392.9 L75.7 393.9 L75.2 394.3 L74.3 395.5 L73.0 397.5 L71.6 399.9 L70.0 402.1 L68.5 404.0 L67.1 405.2 L66.1 405.3ZM73.3 407.9 L73.8 407.5 L74.7 406.2 L76.0 404.2 L77.4 401.9 L79.0 399.6 L80.5 397.7 L81.9 396.6 L82.9 396.4 L85.7 397.4 L85.2 397.8 L84.3 399.0 L83.0 401.0 L81.6 403.4 L80.0 405.6 L78.5 407.5 L77.1 408.7 L76.1 408.8ZM83.3 411.4 L83.8 411.0 L84.7 409.7 L86.0 407.7 L87.4 405.4 L89.0 403.1 L90.5 401.2 L91.9 400.1 L92.9 399.9 L95.7 400.9 L95.2 401.3 L94.3 402.5 L93.0 404.5 L91.6 406.9 L90.0 409.1 L88.5 411.0 L87.1 412.2 L86.1 412.3ZM93.3 414.9 L93.8 414.5 L94.7 413.2 L96.0 411.2 L97.4 408.9 L99.0 406.6 L100.5 404.7 L101.9 403.6 L102.9 403.4 L105.7 404.4 L105.2 404.8 L104.3 406.0 L103.0 408.0 L101.6 410.4 L100.0 412.6 L98.5 414.5 L97.1 415.7 L96.1 415.8Z" fill="#9e1ea0"/>
<path d="M72.9 392.9 L72.6 393.4 L72.2 394.8 L71.7 397.1 L71.3 399.8 L71.2 402.5 L71.4 405.0 L72.1 406.9 L73.2 407.8 L76.1 408.9 L76.4 408.4 L76.8 406.9 L77.3 404.7 L77.7 402.0 L77.8 399.2 L77.6 396.7 L76.9 394.9 L75.8 393.9ZM82.9 396.4 L82.6 396.9 L82.2 398.3 L81.7 400.6 L81.3 403.3 L81.2 406.0 L81.4 408.5 L82.1 410.4 L83.2 411.3 L86.1 412.4 L86.4 411.9 L86.8 410.4 L87.3 408.2 L87.7 405.5 L87.8 402.7 L87.6 400.2 L86.9 398.4 L85.8 397.4ZM92.9 399.9 L92.6 400.4 L92.2 401.8 L91.7 404.1 L91.3 406.8 L91.2 409.5 L91.4 412.0 L92.1 413.9 L93.2 414.8 L96.1 415.9 L96.4 415.4 L96.8 413.9 L97.3 411.7 L97.7 409.0 L97.8 406.2 L97.6 403.7 L96.9 401.9 L95.8 400.9ZM102.9 403.4 L102.6 403.9 L102.2 405.3 L101.7 407.6 L101.3 410.3 L101.2 413.0 L101.4 415.5 L102.1 417.4 L103.2 418.3 L106.1 419.4 L106.4 418.9 L106.8 417.4 L107.3 415.2 L107.7 412.5 L107.8 409.7 L107.6 407.2 L106.9 405.4 L105.8 404.4Z" fill="#d824d8" stroke="#a01aa0" stroke-width="0.35"/>
<path d="M93.4 403.3 L93.9 403.2 L94.9 402.8 L96.4 402.1 L98.2 401.4 L100.0 400.6 L101.6 400.2 L102.9 400.0 L103.5 400.3 L104.7 402.0 L104.3 402.1 L103.3 402.5 L101.8 403.2 L100.0 404.0 L98.1 404.7 L96.5 405.2 L95.3 405.3 L94.6 405.0ZM97.1 408.6 L97.5 408.6 L98.6 408.2 L100.1 407.5 L101.9 406.7 L103.7 406.0 L105.3 405.5 L106.5 405.3 L107.2 405.6 L108.4 407.4 L108.0 407.4 L106.9 407.8 L105.4 408.5 L103.6 409.3 L101.8 410.0 L100.2 410.5 L99.0 410.7 L98.3 410.4ZM100.8 414.0 L101.2 413.9 L102.2 413.5 L103.7 412.8 L105.5 412.0 L107.4 411.3 L109.0 410.8 L110.2 410.7 L110.9 411.0 L112.1 412.7 L111.6 412.8 L110.6 413.2 L109.1 413.9 L107.3 414.6 L105.5 415.4 L103.9 415.8 L102.6 416.0 L102.0 415.7Z" fill="#9e1ea0"/>
<path d="M103.5 400.3 L103.1 400.4 L102.2 401.0 L100.9 402.0 L99.5 403.3 L98.3 404.8 L97.3 406.3 L96.9 407.6 L97.1 408.6 L98.3 410.4 L98.7 410.3 L99.6 409.7 L100.9 408.7 L102.3 407.3 L103.6 405.8 L104.5 404.3 L104.9 403.0 L104.7 402.1ZM107.2 405.6 L106.8 405.7 L105.9 406.3 L104.6 407.3 L103.2 408.7 L101.9 410.2 L101.0 411.7 L100.6 413.0 L100.8 413.9 L102.0 415.7 L102.4 415.6 L103.3 415.0 L104.6 414.0 L106.0 412.7 L107.2 411.2 L108.2 409.7 L108.6 408.4 L108.4 407.4ZM110.8 410.9 L110.5 411.1 L109.6 411.7 L108.3 412.7 L106.9 414.0 L105.6 415.5 L104.6 417.0 L104.2 418.3 L104.4 419.3 L105.7 421.1 L106.0 420.9 L106.9 420.3 L108.2 419.3 L109.6 418.0 L110.9 416.5 L111.9 415.0 L112.3 413.7 L112.1 412.7Z" fill="#d824d8" stroke="#a01aa0" stroke-width="0.35"/>
<path d="M136 386 C142 392 140 402 150 404 C158 406 164 398 168 392" fill="none" stroke="#9a9a9a" stroke-width="2.2" stroke-linecap="round" stroke-linejoin="round"/>
<path d="M136 386 C142 392 140 402 150 404 C158 406 164 398 168 392" fill="none" stroke="#f2f2f2" stroke-width="1.3" stroke-linecap="round" stroke-linejoin="round"/>
<ellipse cx="97.5" cy="51.5" rx="9.8" ry="9.8" fill="#3cbcbc"/>
<circle cx="103.1" cy="58.7" r="3.7" fill="url(#gc)"/>
<circle cx="102.4" cy="59.3" r="3.7" fill="url(#gc)"/>
<circle cx="102.6" cy="58.3" r="3.7" fill="url(#gc)"/>
<circle cx="100.5" cy="59.3" r="3.3" fill="url(#gc)"/>
<circle cx="101.5" cy="55.9" r="3.1" fill="url(#gc)"/>
<circle cx="104.1" cy="53.2" r="2.8" fill="url(#gc)"/>
<circle cx="98.9" cy="56.1" r="3.4" fill="url(#gc)"/>
<circle cx="105.2" cy="49.6" r="3.5" fill="url(#gc)"/>
<circle cx="95.4" cy="57.5" r="3.6" fill="url(#gc)"/>
<circle cx="98.5" cy="54.0" r="3.1" fill="url(#gc)"/>
<circle cx="95.2" cy="57.1" r="3.0" fill="url(#gc)"/>
<circle cx="93.5" cy="58.8" r="3.4" fill="url(#gc)"/>
<circle cx="95.2" cy="52.1" r="3.6" fill="url(#gc)"/>
<circle cx="96.0" cy="51.0" r="3.8" fill="url(#gc)"/>
<circle cx="101.1" cy="45.9" r="3.0" fill="url(#gc)"/>
<circle cx="100.3" cy="46.2" r="3.3" fill="url(#gc)"/>
<circle cx="94.3" cy="51.2" r="3.7" fill="url(#gc)"/>
<circle cx="97.5" cy="46.5" r="3.2" fill="url(#gc)"/>
<circle cx="92.7" cy="50.2" r="3.4" fill="url(#gc)"/>
<circle cx="93.5" cy="48.9" r="2.8" fill="url(#gc)"/>
<circle cx="97.7" cy="44.6" r="3.5" fill="url(#gc)"/>
<circle cx="88.3" cy="52.4" r="3.7" fill="url(#gc)"/>
<circle cx="89.4" cy="50.9" r="3.6" fill="url(#gc)"/>
<circle cx="88.4" cy="50.8" r="3.7" fill="url(#gc)"/>
<circle cx="94.1" cy="43.9" r="3.5" fill="url(#gc)"/>
<circle cx="91.6" cy="45.7" r="3.0" fill="url(#gc)"/>
<circle cx="92.0" cy="44.8" r="3.6" fill="url(#gc)"/>
<circle cx="90.7" cy="45.7" r="3.0" fill="url(#gc)"/>
<ellipse cx="128" cy="84.5" rx="11.1" ry="10.7" fill="#c00000"/>
<circle cx="130.9" cy="93.6" r="2.8" fill="url(#gr)"/>
<circle cx="136.5" cy="82.8" r="3.6" fill="url(#gr)"/>
<circle cx="126.7" cy="92.6" r="2.9" fill="url(#gr)"/>
<circle cx="130.1" cy="88.3" r="3.3" fill="url(#gr)"/>
<circle cx="127.6" cy="90.0" r="3.3" fill="url(#gr)"/>
<circle cx="130.7" cy="86.5" r="3.4" fill="url(#gr)"/>
<circle cx="123.8" cy="93.4" r="3.3" fill="url(#gr)"/>
<circle cx="128.9" cy="86.7" r="3.7" fill="url(#gr)"/>
<circle cx="129.7" cy="85.7" r="3.6" fill="url(#gr)"/>
<circle cx="135.7" cy="78.9" r="3.4" fill="url(#gr)"/>
<circle cx="123.7" cy="90.5" r="3.4" fill="url(#gr)"/>
<circle cx="135.2" cy="78.9" r="3.3" fill="url(#gr)"/>
<circle cx="134.4" cy="79.5" r="3.8" fill="url(#gr)"/>
<circle cx="132.5" cy="79.4" r="3.0" fill="url(#gr)"/>
<circle cx="124.5" cy="87.3" r="3.5" fill="url(#gr)"/>
<circle cx="120.2" cy="91.1" r="3.4" fill="url(#gr)"/>
<circle cx="124.1" cy="87.0" r="2.8" fill="url(#gr)"/>
<circle cx="129.3" cy="81.7" r="3.1" fill="url(#gr)"/>
<circle cx="131.6" cy="78.2" r="3.7" fill="url(#gr)"/>
<circle cx="120.6" cy="88.3" r="3.6" fill="url(#gr)"/>
<circle cx="120.1" cy="87.9" r="2.8" fill="url(#gr)"/>
<circle cx="125.2" cy="82.4" r="3.1" fill="url(#gr)"/>
<circle cx="124.2" cy="83.0" r="2.8" fill="url(#gr)"/>
<circle cx="123.2" cy="83.8" r="3.6" fill="url(#gr)"/>
<circle cx="119.4" cy="86.0" r="2.9" fill="url(#gr)"/>
<circle cx="125.8" cy="79.0" r="2.9" fill="url(#gr)"/>
<circle cx="125.9" cy="78.0" r="3.8" fill="url(#gr)"/>
<circle cx="119.9" cy="83.7" r="3.2" fill="url(#gr)"/>
<circle cx="123.9" cy="79.4" r="3.1" fill="url(#gr)"/>
<circle cx="120.7" cy="79.4" r="2.8" fill="url(#gr)"/>
<circle cx="120.3" cy="79.6" r="3.2" fill="url(#gr)"/>
<circle cx="123.9" cy="76.0" r="3.2" fill="url(#gr)"/>
<ellipse cx="97" cy="145" rx="8.6" ry="11.5" fill="#d07a20"/>
<circle cx="98.7" cy="153.4" r="3.5" fill="url(#go)"/>
<circle cx="103.8" cy="146.7" r="3.1" fill="url(#go)"/>
<circle cx="101.5" cy="149.0" r="3.7" fill="url(#go)"/>
<circle cx="105.1" cy="145.1" r="3.1" fill="url(#go)"/>
<circle cx="95.6" cy="153.6" r="3.4" fill="url(#go)"/>
<circle cx="94.9" cy="154.0" r="3.2" fill="url(#go)"/>
<circle cx="100.4" cy="147.7" r="3.4" fill="url(#go)"/>
<circle cx="95.6" cy="150.8" r="3.0" fill="url(#go)"/>
<circle cx="95.3" cy="147.3" r="3.0" fill="url(#go)"/>
<circle cx="92.4" cy="150.0" r="3.5" fill="url(#go)"/>
<circle cx="101.9" cy="139.7" r="3.6" fill="url(#go)"/>
<circle cx="98.9" cy="142.6" r="3.4" fill="url(#go)"/>
<circle cx="91.3" cy="148.5" r="3.7" fill="url(#go)"/>
<circle cx="90.6" cy="149.1" r="3.0" fill="url(#go)"/>
<circle cx="100.0" cy="139.4" r="3.7" fill="url(#go)"/>
<circle cx="93.9" cy="145.5" r="3.0" fill="url(#go)"/>
<circle cx="93.8" cy="145.6" r="3.8" fill="url(#go)"/>
<circle cx="96.7" cy="141.3" r="3.4" fill="url(#go)"/>
<circle cx="100.2" cy="137.2" r="3.4" fill="url(#go)"/>
<circle cx="89.9" cy="146.7" r="3.8" fill="url(#go)"/>
<circle cx="96.3" cy="140.0" r="3.6" fill="url(#go)"/>
<circle cx="99.0" cy="137.1" r="3.6" fill="url(#go)"/>
<circle cx="95.5" cy="139.4" r="2.9" fill="url(#go)"/>
<circle cx="96.4" cy="134.4" r="3.2" fill="url(#go)"/>
<circle cx="94.0" cy="136.0" r="2.9" fill="url(#go)"/>
<circle cx="92.8" cy="136.1" r="3.0" fill="url(#go)"/>
<ellipse cx="98.5" cy="235" rx="8.6" ry="7.8" fill="#3cbcbc"/>
<circle cx="99.9" cy="242.2" r="3.7" fill="url(#gc)"/>
<circle cx="101.3" cy="240.2" r="3.2" fill="url(#gc)"/>
<circle cx="100.5" cy="239.7" r="3.5" fill="url(#gc)"/>
<circle cx="106.2" cy="233.6" r="2.8" fill="url(#gc)"/>
<circle cx="97.6" cy="242.1" r="3.7" fill="url(#gc)"/>
<circle cx="103.5" cy="234.6" r="3.3" fill="url(#gc)"/>
<circle cx="104.3" cy="232.9" r="3.6" fill="url(#gc)"/>
<circle cx="104.0" cy="233.1" r="3.1" fill="url(#gc)"/>
<circle cx="100.8" cy="234.7" r="3.2" fill="url(#gc)"/>
<circle cx="103.1" cy="232.0" r="3.1" fill="url(#gc)"/>
<circle cx="96.2" cy="237.8" r="3.8" fill="url(#gc)"/>
<circle cx="102.7" cy="231.1" r="3.2" fill="url(#gc)"/>
<circle cx="96.3" cy="237.3" r="3.3" fill="url(#gc)"/>
<circle cx="99.6" cy="232.1" r="3.8" fill="url(#gc)"/>
<circle cx="94.7" cy="235.5" r="3.7" fill="url(#gc)"/>
<circle cx="91.9" cy="237.8" r="3.2" fill="url(#gc)"/>
<circle cx="97.0" cy="232.7" r="3.1" fill="url(#gc)"/>
<circle cx="92.7" cy="235.1" r="3.6" fill="url(#gc)"/>
<circle cx="91.8" cy="235.3" r="2.9" fill="url(#gc)"/>
<circle cx="94.6" cy="232.2" r="3.2" fill="url(#gc)"/>
<circle cx="92.0" cy="234.2" r="3.7" fill="url(#gc)"/>
<circle cx="90.5" cy="235.0" r="3.7" fill="url(#gc)"/>
<circle cx="96.0" cy="228.9" r="3.0" fill="url(#gc)"/>
<circle cx="96.3" cy="228.1" r="2.9" fill="url(#gc)"/>
<ellipse cx="129" cy="267" rx="9.8" ry="11.5" fill="#c00000"/>
<circle cx="136.4" cy="272.2" r="3.5" fill="url(#gr)"/>
<circle cx="137.9" cy="270.3" r="3.3" fill="url(#gr)"/>
<circle cx="133.6" cy="274.4" r="3.0" fill="url(#gr)"/>
<circle cx="130.3" cy="277.2" r="3.4" fill="url(#gr)"/>
<circle cx="138.0" cy="268.0" r="2.9" fill="url(#gr)"/>
<circle cx="134.5" cy="269.2" r="3.5" fill="url(#gr)"/>
<circle cx="130.5" cy="273.0" r="3.4" fill="url(#gr)"/>
<circle cx="129.5" cy="273.1" r="3.2" fill="url(#gr)"/>
<circle cx="122.8" cy="274.9" r="3.6" fill="url(#gr)"/>
<circle cx="135.9" cy="261.0" r="3.0" fill="url(#gr)"/>
<circle cx="130.7" cy="265.1" r="3.2" fill="url(#gr)"/>
<circle cx="129.9" cy="265.9" r="3.6" fill="url(#gr)"/>
<circle cx="123.9" cy="271.8" r="3.2" fill="url(#gr)"/>
<circle cx="127.3" cy="268.3" r="3.5" fill="url(#gr)"/>
<circle cx="128.9" cy="266.6" r="3.4" fill="url(#gr)"/>
<circle cx="121.7" cy="273.2" r="3.7" fill="url(#gr)"/>
<circle cx="128.0" cy="264.6" r="3.8" fill="url(#gr)"/>
<circle cx="130.8" cy="261.2" r="3.5" fill="url(#gr)"/>
<circle cx="120.5" cy="271.3" r="3.6" fill="url(#gr)"/>
<circle cx="124.5" cy="266.8" r="3.0" fill="url(#gr)"/>
<circle cx="121.1" cy="270.1" r="3.5" fill="url(#gr)"/>
<circle cx="131.1" cy="259.6" r="3.6" fill="url(#gr)"/>
<circle cx="124.0" cy="266.4" r="3.2" fill="url(#gr)"/>
<circle cx="124.7" cy="265.2" r="3.4" fill="url(#gr)"/>
<circle cx="122.8" cy="266.8" r="3.3" fill="url(#gr)"/>
<circle cx="131.9" cy="257.8" r="3.8" fill="url(#gr)"/>
<circle cx="124.4" cy="265.1" r="3.1" fill="url(#gr)"/>
<circle cx="126.4" cy="262.7" r="3.2" fill="url(#gr)"/>
<circle cx="128.6" cy="258.0" r="2.8" fill="url(#gr)"/>
<circle cx="125.2" cy="257.8" r="3.2" fill="url(#gr)"/>
<ellipse cx="103" cy="323" rx="8.2" ry="9.8" fill="#d07a20"/>
<circle cx="108.7" cy="328.4" r="3.6" fill="url(#go)"/>
<circle cx="109.7" cy="326.5" r="3.2" fill="url(#go)"/>
<circle cx="109.8" cy="325.8" r="2.8" fill="url(#go)"/>
<circle cx="110.7" cy="323.5" r="3.5" fill="url(#go)"/>
<circle cx="105.1" cy="329.1" r="3.6" fill="url(#go)"/>
<circle cx="106.3" cy="327.8" r="3.8" fill="url(#go)"/>
<circle cx="109.2" cy="322.4" r="3.0" fill="url(#go)"/>
<circle cx="100.2" cy="331.1" r="3.1" fill="url(#go)"/>
<circle cx="106.5" cy="324.7" r="3.6" fill="url(#go)"/>
<circle cx="106.4" cy="324.3" r="2.9" fill="url(#go)"/>
<circle cx="107.0" cy="322.1" r="3.1" fill="url(#go)"/>
<circle cx="99.8" cy="327.2" r="3.3" fill="url(#go)"/>
<circle cx="106.7" cy="319.5" r="3.2" fill="url(#go)"/>
<circle cx="106.0" cy="318.0" r="3.3" fill="url(#go)"/>
<circle cx="96.6" cy="327.3" r="3.7" fill="url(#go)"/>
<circle cx="97.5" cy="325.0" r="3.4" fill="url(#go)"/>
<circle cx="106.2" cy="315.7" r="3.5" fill="url(#go)"/>
<circle cx="101.8" cy="320.0" r="3.4" fill="url(#go)"/>
<circle cx="101.1" cy="320.6" r="3.0" fill="url(#go)"/>
<circle cx="106.5" cy="315.2" r="3.2" fill="url(#go)"/>
<circle cx="98.6" cy="321.7" r="3.8" fill="url(#go)"/>
<circle cx="99.2" cy="320.3" r="3.7" fill="url(#go)"/>
<circle cx="103.3" cy="316.1" r="3.6" fill="url(#go)"/>
<circle cx="100.9" cy="318.2" r="3.3" fill="url(#go)"/>
<text x="1" y="23.8" font-size="34">A</text>
<text x="8.2" y="73.8" font-size="23" font-weight="bold">β</text>
<text x="11.1" y="167.7" font-size="24" font-weight="bold">α</text>
<text x="14.3" y="243" font-size="23" font-weight="bold">β</text>
<text x="14" y="333.8" font-size="24" font-weight="bold">α</text>
<text x="162.7" y="61.1" font-size="15.6" font-weight="bold" fill="#80f0f0">GDP</text>
<text x="161.2" y="114.4" font-size="16.6" font-weight="bold" fill="#f01010">PTX</text>
<text x="162.6" y="151" font-size="15.2" font-weight="bold" fill="#ffb020">GTP</text>
</g>
<g id="B">
<text x="195.6" y="23.9" font-size="34">B</text>
<rect x="247.40" y="20.30" width="18.60" height="18.50" fill="#3d50c3"/>
<text x="256.55" y="32.70" font-size="9.4" fill="#ffffff" text-anchor="middle">1.4</text>
<rect x="247.40" y="38.50" width="18.60" height="18.50" fill="#5a78e4"/>
<text x="256.55" y="50.90" font-size="9.4" fill="#ffffff" text-anchor="middle">1.6</text>
<rect x="265.70" y="38.50" width="18.60" height="18.50" fill="#4b64d5"/>
<text x="274.85" y="50.90" font-size="9.4" fill="#ffffff" text-anchor="middle">1.5</text>
<rect x="247.40" y="56.70" width="18.60" height="18.50" fill="#abc8fd"/>
<text x="256.55" y="69.10" font-size="9.4" fill="#262626" text-anchor="middle">2.1</text>
<rect x="265.70" y="56.70" width="18.60" height="18.50" fill="#bbd1f8"/>
<text x="274.85" y="69.10" font-size="9.4" fill="#262626" text-anchor="middle">2.2</text>
<rect x="284.00" y="56.70" width="18.60" height="18.50" fill="#abc8fd"/>
<text x="293.15" y="69.10" font-size="9.4" fill="#262626" text-anchor="middle">2.1</text>
<rect x="247.40" y="74.90" width="18.60" height="18.50" fill="#cad8ef"/>
<text x="256.55" y="87.30" font-size="9.4" fill="#262626" text-anchor="middle">2.3</text>
<rect x="265.70" y="74.90" width="18.60" height="18.50" fill="#cad8ef"/>
<text x="274.85" y="87.30" font-size="9.4" fill="#262626" text-anchor="middle">2.3</text>
<rect x="284.00" y="74.90" width="18.60" height="18.50" fill="#d7dce3"/>
<text x="293.15" y="87.30" font-size="9.4" fill="#262626" text-anchor="middle">2.4</text>
<rect x="302.30" y="74.90" width="18.60" height="18.50" fill="#abc8fd"/>
<text x="311.45" y="87.30" font-size="9.4" fill="#262626" text-anchor="middle">2.1</text>
<rect x="247.40" y="93.10" width="18.60" height="18.50" fill="#f3c7b1"/>
<text x="256.55" y="105.50" font-size="9.4" fill="#262626" text-anchor="middle">2.7</text>
<rect x="265.70" y="93.10" width="18.60" height="18.50" fill="#d7dce3"/>
<text x="274.85" y="105.50" font-size="9.4" fill="#262626" text-anchor="middle">2.4</text>
<rect x="284.00" y="93.10" width="18.60" height="18.50" fill="#f7b99e"/>
<text x="293.15" y="105.50" font-size="9.4" fill="#262626" text-anchor="middle">2.8</text>
<rect x="302.30" y="93.10" width="18.60" height="18.50" fill="#f39778"/>
<text x="311.45" y="105.50" font-size="9.4" fill="#ffffff" text-anchor="middle">3</text>
<rect x="320.60" y="93.10" width="18.60" height="18.50" fill="#e36c55"/>
<text x="329.75" y="105.50" font-size="9.4" fill="#ffffff" text-anchor="middle">3.2</text>
<rect x="247.40" y="111.30" width="18.60" height="18.50" fill="#f3c7b1"/>
<text x="256.55" y="123.70" font-size="9.4" fill="#262626" text-anchor="middle">2.7</text>
<rect x="265.70" y="111.30" width="18.60" height="18.50" fill="#f3c7b1"/>
<text x="274.85" y="123.70" font-size="9.4" fill="#262626" text-anchor="middle">2.7</text>
<rect x="284.00" y="111.30" width="18.60" height="18.50" fill="#f3c7b1"/>
<text x="293.15" y="123.70" font-size="9.4" fill="#262626" text-anchor="middle">2.7</text>
<rect x="302.30" y="111.30" width="18.60" height="18.50" fill="#e2dad5"/>
<text x="311.45" y="123.70" font-size="9.4" fill="#262626" text-anchor="middle">2.5</text>
<rect x="320.60" y="111.30" width="18.60" height="18.50" fill="#edd2c3"/>
<text x="329.75" y="123.70" font-size="9.4" fill="#262626" text-anchor="middle">2.6</text>
<rect x="338.90" y="111.30" width="18.60" height="18.50" fill="#f39778"/>
<text x="348.05" y="123.70" font-size="9.4" fill="#ffffff" text-anchor="middle">3</text>
<rect x="247.40" y="129.50" width="18.60" height="18.50" fill="#b70d28"/>
<text x="256.55" y="141.90" font-size="9.4" fill="#ffffff" text-anchor="middle">3.5</text>
<rect x="265.70" y="129.50" width="18.60" height="18.50" fill="#d75445"/>
<text x="274.85" y="141.90" font-size="9.4" fill="#ffffff" text-anchor="middle">3.3</text>
<rect x="284.00" y="129.50" width="18.60" height="18.50" fill="#c83836"/>
<text x="293.15" y="141.90" font-size="9.4" fill="#ffffff" text-anchor="middle">3.4</text>
<rect x="302.30" y="129.50" width="18.60" height="18.50" fill="#c83836"/>
<text x="311.45" y="141.90" font-size="9.4" fill="#ffffff" text-anchor="middle">3.4</text>
<rect x="320.60" y="129.50" width="18.60" height="18.50" fill="#d75445"/>
<text x="329.75" y="141.90" font-size="9.4" fill="#ffffff" text-anchor="middle">3.3</text>
<rect x="338.90" y="129.50" width="18.60" height="18.50" fill="#c83836"/>
<text x="348.05" y="141.90" font-size="9.4" fill="#ffffff" text-anchor="middle">3.4</text>
<rect x="357.20" y="129.50" width="18.60" height="18.50" fill="#f7b99e"/>
<text x="366.35" y="141.90" font-size="9.4" fill="#262626" text-anchor="middle">2.8</text>
<text x="242.2" y="14.40" font-size="9.4" text-anchor="end" fill="#111">3j6g</text>
<line x1="244.6" y1="11.20" x2="247.4" y2="11.20" stroke="#333" stroke-width="0.8"/>
<text x="242.2" y="32.60" font-size="9.4" text-anchor="end" fill="#111">5syf</text>
<line x1="244.6" y1="29.40" x2="247.4" y2="29.40" stroke="#333" stroke-width="0.8"/>
<text x="242.2" y="50.80" font-size="9.4" text-anchor="end" fill="#111">6ew0</text>
<line x1="244.6" y1="47.60" x2="247.4" y2="47.60" stroke="#333" stroke-width="0.8"/>
<text x="242.2" y="69.00" font-size="9.4" text-anchor="end" fill="#111">Cluster 1</text>
<line x1="244.6" y1="65.80" x2="247.4" y2="65.80" stroke="#333" stroke-width="0.8"/>
<text x="242.2" y="87.20" font-size="9.4" text-anchor="end" fill="#111">Cluster 2</text>
<line x1="244.6" y1="84.00" x2="247.4" y2="84.00" stroke="#333" stroke-width="0.8"/>
<text x="242.2" y="105.40" font-size="9.4" text-anchor="end" fill="#111">Cluster 3</text>
<line x1="244.6" y1="102.20" x2="247.4" y2="102.20" stroke="#333" stroke-width="0.8"/>
<text x="242.2" y="123.60" font-size="9.4" text-anchor="end" fill="#111">Cluster 4</text>
<line x1="244.6" y1="120.40" x2="247.4" y2="120.40" stroke="#333" stroke-width="0.8"/>
<text x="242.2" y="141.80" font-size="9.4" text-anchor="end" fill="#111">Cluster 5</text>
<line x1="244.6" y1="138.60" x2="247.4" y2="138.60" stroke="#333" stroke-width="0.8"/>
<line x1="256.55" y1="147.70" x2="256.55" y2="150.30" stroke="#333" stroke-width="0.8"/>
<text transform="translate(256.55,159.70) rotate(-45)" x="0" y="2.93" font-size="9.4" text-anchor="middle" fill="#111">3j6g</text>
<line x1="274.85" y1="147.70" x2="274.85" y2="150.30" stroke="#333" stroke-width="0.8"/>
<text transform="translate(274.85,159.52) rotate(-45)" x="0" y="2.93" font-size="9.4" text-anchor="middle" fill="#111">5syf</text>
<line x1="293.15" y1="147.70" x2="293.15" y2="150.30" stroke="#333" stroke-width="0.8"/>
<text transform="translate(293.15,160.99) rotate(-45)" x="0" y="2.93" font-size="9.4" text-anchor="middle" fill="#111">6ew0</text>
<line x1="311.45" y1="147.70" x2="311.45" y2="150.30" stroke="#333" stroke-width="0.8"/>
<text transform="translate(311.45,165.89) rotate(-45)" x="0" y="2.93" font-size="9.4" text-anchor="middle" fill="#111">Cluster 1</text>
<line x1="329.75" y1="147.70" x2="329.75" y2="150.30" stroke="#333" stroke-width="0.8"/>
<text transform="translate(329.75,165.89) rotate(-45)" x="0" y="2.93" font-size="9.4" text-anchor="middle" fill="#111">Cluster 2</text>
<line x1="348.05" y1="147.70" x2="348.05" y2="150.30" stroke="#333" stroke-width="0.8"/>
<text transform="translate(348.05,165.89) rotate(-45)" x="0" y="2.93" font-size="9.4" text-anchor="middle" fill="#111">Cluster 3</text>
<line x1="366.35" y1="147.70" x2="366.35" y2="150.30" stroke="#333" stroke-width="0.8"/>
<text transform="translate(366.35,165.89) rotate(-45)" x="0" y="2.93" font-size="9.4" text-anchor="middle" fill="#111">Cluster 4</text>
<line x1="384.65" y1="147.70" x2="384.65" y2="150.30" stroke="#333" stroke-width="0.8"/>
<text transform="translate(384.65,165.89) rotate(-45)" x="0" y="2.93" font-size="9.4" text-anchor="middle" fill="#111">Cluster 5</text>
<defs><linearGradient id="cbar" x1="0" y1="0" x2="0" y2="1"><stop offset="0.00" stop-color="#b40426"/><stop offset="0.10" stop-color="#d65244"/><stop offset="0.20" stop-color="#ee8468"/><stop offset="0.30" stop-color="#f7ac8e"/><stop offset="0.40" stop-color="#f2cbb7"/><stop offset="0.50" stop-color="#dddcdc"/><stop offset="0.60" stop-color="#c0d4f5"/><stop offset="0.70" stop-color="#9ebeff"/><stop offset="0.80" stop-color="#7b9ff9"/><stop offset="0.90" stop-color="#5977e3"/><stop offset="1.00" stop-color="#3b4cc0"/></linearGradient></defs>
<rect x="370.1" y="29.8" width="11.8" height="75.9" fill="url(#cbar)"/>
<line x1="381.9" y1="33.6" x2="384.6" y2="33.6" stroke="#333" stroke-width="0.8"/>
<text x="388.6" y="37.2" font-size="10.7" fill="#111">3.5</text>
<line x1="381.9" y1="49.6" x2="384.6" y2="49.6" stroke="#333" stroke-width="0.8"/>
<text x="388.6" y="53.2" font-size="10.7" fill="#111">3.0</text>
<line x1="381.9" y1="65.6" x2="384.6" y2="65.6" stroke="#333" stroke-width="0.8"/>
<text x="388.6" y="69.2" font-size="10.7" fill="#111">2.5</text>
<line x1="381.9" y1="81.6" x2="384.6" y2="81.6" stroke="#333" stroke-width="0.8"/>
<text x="388.6" y="85.2" font-size="10.7" fill="#111">2.0</text>
<line x1="381.9" y1="97.6" x2="384.6" y2="97.6" stroke="#333" stroke-width="0.8"/>
<text x="388.6" y="101.2" font-size="10.7" fill="#111">1.5</text>
<text x="353.2" y="19.9" font-size="11" fill="#111">RMSD, Å</text>
</g>
<g id="C">
<text x="409.3" y="23.6" font-size="34">C</text>
<line x1="466.8" y1="5.1" x2="466.8" y2="149.9" stroke="#ebebeb" stroke-width="0.6"/>
<line x1="484.7" y1="5.1" x2="484.7" y2="149.9" stroke="#ebebeb" stroke-width="0.6"/>
<line x1="502.6" y1="5.1" x2="502.6" y2="149.9" stroke="#ebebeb" stroke-width="0.6"/>
<line x1="520.5" y1="5.1" x2="520.5" y2="149.9" stroke="#ebebeb" stroke-width="0.6"/>
<line x1="538.4" y1="5.1" x2="538.4" y2="149.9" stroke="#ebebeb" stroke-width="0.6"/>
<line x1="556.3" y1="5.1" x2="556.3" y2="149.9" stroke="#ebebeb" stroke-width="0.6"/>
<line x1="574.2" y1="5.1" x2="574.2" y2="149.9" stroke="#ebebeb" stroke-width="0.6"/>
<line x1="452.1" y1="9.1" x2="593.4" y2="9.1" stroke="#ebebeb" stroke-width="0.6"/>
<line x1="452.1" y1="34.5" x2="593.4" y2="34.5" stroke="#ebebeb" stroke-width="0.6"/>
<line x1="452.1" y1="59.9" x2="593.4" y2="59.9" stroke="#ebebeb" stroke-width="0.6"/>
<line x1="452.1" y1="85.3" x2="593.4" y2="85.3" stroke="#ebebeb" stroke-width="0.6"/>
<line x1="452.1" y1="110.7" x2="593.4" y2="110.7" stroke="#ebebeb" stroke-width="0.6"/>
<line x1="452.1" y1="136.1" x2="593.4" y2="136.1" stroke="#ebebeb" stroke-width="0.6"/>
<path d="M503.0 90.7h0M499.7 80.0h0M497.5 79.1h0M503.7 100.1h0M497.1 82.4h0M508.9 91.2h0M504.3 79.6h0M502.6 94.3h0M486.9 83.9h0M480.2 76.4h0M480.9 85.9h0M487.8 90.4h0M504.9 86.3h0M472.8 83.2h0M502.4 89.0h0M484.6 83.7h0M491.3 80.7h0M515.7 80.7h0M502.6 96.0h0M496.0 87.0h0M504.3 88.6h0M488.3 88.7h0M519.3 74.1h0M513.3 89.1h0M495.3 106.0h0M512.1 77.2h0M503.9 93.2h0M500.7 94.1h0M502.2 94.0h0M520.3 81.9h0M505.4 83.8h0M504.5 77.3h0M496.0 86.2h0M513.8 98.3h0M487.1 80.8h0M510.8 70.1h0M497.4 87.1h0M518.1 94.2h0M499.1 84.7h0M500.0 101.7h0M497.9 85.3h0M507.2 86.9h0M500.6 78.0h0M502.9 84.0h0M517.0 93.9h0M502.7 94.0h0M498.9 97.5h0M502.9 93.3h0M487.5 91.1h0M482.7 69.7h0M499.3 79.9h0M505.0 108.2h0M493.0 82.4h0M505.5 92.4h0M500.9 86.1h0M511.4 92.7h0M490.6 87.3h0M503.4 78.5h0M506.1 80.3h0M514.7 89.7h0M504.1 82.7h0M501.6 70.0h0M489.4 91.3h0M477.5 95.6h0M482.0 94.8h0M492.9 95.0h0M504.6 74.2h0M518.0 101.0h0M502.2 85.5h0M501.1 79.2h0M516.2 83.1h0M502.4 80.9h0M495.5 76.5h0M518.1 86.6h0M514.6 88.1h0M494.7 85.1h0M496.3 88.1h0M498.5 85.3h0M486.5 80.7h0M522.8 82.0h0M490.4 91.0h0M519.9 74.9h0M500.5 82.3h0M481.9 94.6h0M502.7 88.6h0M494.0 92.1h0M496.5 86.7h0M489.7 77.1h0M519.0 83.4h0M506.5 87.7h0M497.7 83.4h0M510.6 85.3h0M501.2 88.2h0M517.1 94.1h0M507.6 82.9h0M486.4 96.5h0M514.6 86.7h0M509.5 95.0h0M513.0 96.3h0M497.5 101.6h0M488.0 95.8h0M508.9 95.9h0M525.5 101.4h0M489.3 72.8h0M512.8 78.9h0M502.9 95.6h0M483.3 69.0h0M506.1 88.4h0M500.1 88.3h0M492.7 74.4h0M501.0 79.3h0M483.3 92.6h0M502.3 91.7h0M491.1 82.1h0M491.0 80.0h0M505.3 81.0h0M507.3 91.1h0M527.3 75.5h0M513.7 87.2h0M502.8 75.0h0M497.5 94.7h0M502.0 88.7h0M499.5 98.4h0M502.7 68.2h0M494.7 70.3h0M464.0 83.2h0M519.0 88.4h0M488.9 79.5h0M516.6 89.4h0M503.6 87.5h0M503.5 95.2h0M509.6 89.9h0M490.5 92.6h0M494.8 97.8h0M487.7 86.8h0M502.9 76.1h0M523.7 101.1h0M497.4 94.9h0M507.5 64.5h0M506.0 87.4h0M504.0 78.3h0M499.8 86.4h0M517.3 91.0h0M502.9 101.8h0M496.3 84.5h0M481.2 102.1h0M514.6 96.3h0M511.0 89.0h0M505.6 85.7h0M500.6 88.5h0M521.1 93.0h0M502.3 82.8h0M495.4 102.4h0M509.1 88.6h0M498.8 78.0h0M502.2 95.9h0M498.3 86.0h0M500.3 89.0h0M483.9 85.9h0M492.7 96.0h0M493.8 93.2h0M521.3 85.2h0M495.8 89.7h0M503.0 79.1h0M508.5 106.1h0M499.9 86.2h0M490.5 90.9h0M488.0 78.0h0M518.4 79.9h0M516.0 101.7h0M506.1 93.0h0M526.4 86.2h0M495.9 75.8h0M503.5 101.3h0M514.5 79.5h0M492.7 83.5h0M506.5 86.2h0M505.6 90.7h0M499.4 87.6h0M505.5 87.2h0M509.0 104.8h0M510.1 88.5h0M482.8 91.5h0M479.6 75.3h0M513.3 94.4h0M501.2 72.6h0M498.5 81.9h0M510.6 108.3h0M505.6 81.0h0M489.0 87.5h0M500.9 77.6h0M504.4 77.6h0M516.3 97.6h0M516.0 83.7h0M509.2 86.8h0M498.3 84.9h0M487.4 75.0h0M512.5 86.3h0M505.6 97.0h0M482.2 80.9h0M505.1 91.5h0M498.5 97.3h0M505.5 77.1h0M491.8 95.2h0M508.6 70.9h0M519.2 93.4h0M519.1 84.5h0M499.5 77.9h0M533.4 86.4h0M522.1 82.2h0M505.0 73.0h0M498.4 96.9h0M488.0 97.7h0M507.0 78.6h0M497.0 83.9h0M502.4 83.2h0M493.1 85.3h0M490.7 76.4h0M502.4 95.9h0M484.6 88.0h0M495.2 79.2h0M513.2 83.3h0M521.0 81.0h0M507.6 86.0h0M494.0 93.3h0M501.1 93.4h0M502.4 78.2h0M501.8 88.5h0M514.5 79.8h0M502.5 72.5h0M510.8 78.3h0M481.3 87.5h0M516.3 74.3h0M489.9 81.3h0M489.4 91.4h0M493.3 81.5h0M510.0 81.2h0M508.2 79.3h0M488.5 71.5h0M525.3 85.1h0M505.9 87.7h0M504.9 88.4h0M525.9 78.6h0M484.3 78.9h0M487.0 94.7h0M512.8 79.3h0M486.3 84.8h0M519.7 62.6h0M509.3 78.3h0M515.5 78.3h0M499.6 74.4h0M491.3 100.5h0M512.8 84.4h0M492.6 71.0h0M498.3 87.7h0M502.0 87.2h0M489.5 87.4h0M502.5 99.6h0M525.4 86.8h0M493.8 87.4h0M495.7 81.3h0M502.3 78.6h0M510.3 87.1h0M506.0 86.4h0M494.3 79.5h0M500.2 83.1h0M505.8 88.0h0M486.7 88.6h0M486.9 82.5h0M499.5 69.3h0M504.1 89.4h0M501.1 84.2h0M498.5 79.2h0M499.8 83.0h0M504.1 77.2h0M505.8 89.3h0M501.3 84.0h0M509.6 73.0h0M508.5 90.2h0M506.4 91.4h0M495.2 85.7h0M510.6 91.9h0M505.5 74.4h0M509.5 98.5h0M515.1 90.1h0M484.3 96.5h0M501.2 65.2h0M507.5 74.6h0M487.4 82.3h0M518.3 84.7h0M506.3 103.7h0M522.1 87.1h0M500.1 76.7h0M494.7 91.8h0M507.7 89.0h0M514.9 81.0h0M502.3 94.6h0M510.0 97.6h0M507.8 85.2h0M507.3 79.0h0M483.3 93.2h0M502.3 90.8h0M482.6 84.7h0M495.8 80.2h0M475.9 85.0h0M513.8 91.4h0M495.8 87.9h0M512.1 63.2h0M501.5 92.9h0M511.2 103.3h0M516.6 90.8h0M506.6 95.1h0M496.5 87.6h0M513.9 105.6h0M501.1 87.6h0M505.4 100.1h0M502.6 101.2h0M491.4 86.3h0M500.6 95.1h0M515.5 74.4h0M492.0 91.0h0M495.1 74.3h0M515.5 92.4h0M508.9 83.7h0M515.3 85.8h0M516.2 79.8h0M492.8 89.8h0M494.6 94.1h0M506.1 79.7h0M503.9 84.8h0M514.0 82.3h0M497.7 98.9h0M529.9 106.0h0M503.8 90.0h0M521.4 86.9h0M491.3 89.1h0M508.4 80.5h0M483.2 75.1h0M511.0 81.2h0M501.3 89.9h0M510.4 85.0h0M509.0 80.0h0M498.7 78.8h0M516.6 87.8h0M494.1 84.8h0M500.3 94.3h0M483.9 78.7h0M498.5 110.8h0M514.5 87.0h0M511.5 106.5h0M500.2 84.7h0M517.5 92.4h0M511.1 83.4h0M526.1 103.4h0M509.8 94.2h0M478.7 93.7h0M500.7 91.9h0M511.2 84.9h0M482.7 91.3h0M494.1 85.0h0M495.7 84.9h0M475.3 99.0h0M506.0 98.0h0M526.8 88.2h0M481.4 80.0h0M488.5 83.5h0M504.0 70.0h0M507.1 74.4h0M506.6 87.0h0M499.2 87.3h0M496.5 82.5h0M482.8 87.7h0M525.1 105.8h0M518.9 94.4h0M494.9 101.0h0M502.3 87.4h0M499.5 88.8h0M497.8 87.2h0M490.0 84.6h0M530.4 87.4h0M500.1 92.8h0M511.5 78.0h0M500.5 96.3h0M506.2 89.1h0M521.6 81.9h0M504.0 83.3h0M520.9 70.4h0M495.0 83.2h0M511.0 93.5h0M519.7 73.8h0M512.0 85.4h0M495.0 92.9h0M492.0 69.3h0M498.6 74.5h0M495.2 91.3h0M506.7 102.3h0M500.6 74.2h0M493.9 79.7h0M488.4 91.9h0M495.3 70.2h0M511.4 87.0h0M507.3 89.0h0M510.6 88.3h0M517.8 91.8h0M507.7 91.7h0M485.5 86.5h0M499.9 89.9h0M486.7 102.7h0M504.3 77.1h0M482.5 85.5h0M501.9 81.5h0M504.1 82.2h0M509.6 81.5h0M502.5 96.8h0M533.9 78.9h0M497.4 80.4h0M512.4 77.7h0M497.2 87.7h0M491.3 79.4h0M497.3 69.1h0M485.7 84.3h0M504.8 86.3h0M481.7 83.8h0M512.6 93.0h0M502.1 80.0h0M510.6 82.8h0M489.0 80.8h0M520.4 90.0h0M516.9 83.7h0M514.3 82.6h0M501.1 110.4h0M512.2 83.5h0M502.0 90.9h0M517.5 83.6h0M482.1 85.5h0M503.2 89.0h0M518.8 90.9h0M512.8 78.1h0M513.4 106.9h0M512.3 90.3h0M504.8 104.1h0M491.9 87.0h0M508.5 94.7h0M497.8 90.8h0M499.7 89.1h0M501.4 77.7h0M502.7 95.9h0M491.4 85.8h0M511.0 78.4h0M505.2 78.5h0M516.6 108.8h0M527.3 86.0h0M511.9 89.1h0M504.2 101.9h0M487.2 97.5h0M502.4 100.7h0M505.2 81.9h0M506.3 94.6h0M503.4 92.4h0M496.7 68.8h0M513.8 94.3h0M504.8 88.6h0M515.4 83.9h0M494.5 86.3h0M517.3 75.5h0M517.3 82.2h0M489.8 99.3h0M501.8 76.3h0M498.7 96.4h0M517.3 84.2h0M507.9 94.4h0M495.3 91.2h0M502.6 83.2h0M497.1 88.6h0M503.4 82.9h0M497.9 98.0h0M505.6 96.0h0M517.4 93.3h0M530.3 80.6h0M512.7 85.1h0M525.3 103.3h0M479.5 79.3h0M511.0 95.1h0M511.8 87.4h0M508.5 93.9h0M502.1 97.2h0M475.9 93.7h0M490.6 96.6h0M500.3 80.0h0M507.5 79.8h0M492.0 73.9h0M502.7 92.5h0M515.3 86.7h0M515.6 88.2h0M501.9 93.2h0M515.7 84.9h0M500.1 86.6h0M504.0 79.9h0M515.3 84.4h0M508.5 80.6h0M507.3 91.5h0M498.0 106.2h0M507.5 104.0h0M514.5 82.0h0M498.4 91.9h0M503.7 88.4h0M499.6 71.7h0M500.3 68.0h0M507.5 81.5h0M494.4 86.0h0M506.3 75.1h0M482.0 78.4h0M478.5 79.3h0M522.1 78.5h0M510.8 75.7h0M506.6 85.1h0M502.3 93.1h0M524.1 89.8h0M504.5 79.2h0M510.0 85.8h0M513.0 87.6h0M523.9 70.2h0M499.4 95.9h0M498.8 80.9h0M499.8 75.6h0M504.4 110.0h0M516.7 78.0h0M492.5 84.4h0M515.1 80.6h0M494.7 96.0h0M513.4 84.6h0M489.6 74.1h0M494.6 67.9h0M512.0 82.3h0M508.8 104.8h0M517.1 77.6h0M513.4 98.4h0M494.0 79.4h0M501.7 73.6h0M520.6 66.4h0M489.7 85.6h0M500.3 89.5h0M506.3 86.1h0M516.6 68.7h0M503.0 81.6h0M504.6 90.0h0M492.1 82.2h0M512.5 91.1h0M494.8 106.4h0M530.7 74.8h0M506.6 110.6h0M512.4 90.0h0M500.5 83.1h0M500.4 83.0h0M511.9 84.4h0M497.7 77.2h0M502.4 80.0h0M500.8 97.4h0M507.4 92.5h0M507.3 88.5h0M501.5 85.2h0M512.1 78.2h0M519.1 88.3h0M494.0 83.6h0M494.9 89.4h0M494.4 98.3h0M493.6 67.5h0M494.2 69.9h0M502.5 97.5h0M510.8 76.0h0M493.9 104.0h0M506.8 88.0h0M515.7 110.1h0M518.6 89.3h0M507.3 93.6h0M495.6 78.5h0M503.6 79.5h0M502.3 88.9h0M531.1 80.3h0M501.5 86.5h0M508.2 97.4h0M497.1 80.6h0M483.3 79.7h0M509.4 88.4h0M490.8 84.6h0M503.4 92.5h0M495.9 85.7h0M481.2 77.6h0M522.4 68.3h0M498.9 90.0h0M498.5 80.7h0M502.3 88.0h0M502.0 71.1h0M501.2 80.3h0M496.4 90.0h0M510.7 96.1h0M497.0 96.3h0M517.1 98.2h0M519.7 86.7h0M500.9 95.4h0M486.6 89.9h0M496.6 84.7h0M482.1 80.0h0M502.8 96.0h0M514.9 87.3h0M500.7 80.5h0M507.8 85.8h0M510.3 103.8h0M502.6 74.5h0M492.7 74.9h0M488.6 99.7h0M505.7 74.3h0M510.8 99.3h0M498.7 81.9h0M499.0 90.6h0M510.7 98.6h0M517.5 98.7h0M519.3 94.0h0M484.6 86.8h0M506.8 84.6h0M513.9 84.8h0M491.9 101.0h0M511.0 90.0h0M514.1 97.6h0M507.1 65.9h0M494.9 83.9h0M491.2 89.8h0M517.3 83.6h0M489.4 106.3h0M497.6 76.9h0M505.9 91.8h0M494.5 95.1h0M497.2 79.7h0M505.1 94.9h0M495.4 91.0h0M501.9 113.4h0M494.5 100.5h0M502.4 86.9h0M511.7 96.0h0M518.2 91.0h0M495.8 83.2h0M509.1 93.2h0M519.8 91.8h0M515.7 101.7h0M505.0 74.6h0M488.8 75.1h0M522.1 80.4h0M517.8 93.3h0M523.6 97.0h0M501.8 86.2h0M504.0 89.6h0M496.6 87.7h0M522.3 72.7h0M506.1 79.8h0M505.2 95.6h0M502.3 95.0h0M483.9 98.0h0M495.8 93.6h0M505.2 64.7h0M493.9 90.0h0M521.6 90.6h0M506.1 75.3h0M520.2 104.3h0M503.3 86.0h0M483.6 95.9h0M535.4 94.5h0M518.2 92.9h0M491.2 100.0h0M488.2 86.1h0M506.3 95.9h0M508.0 91.5h0M493.9 76.4h0M503.7 81.6h0M487.3 76.6h0M497.1 71.3h0M486.8 73.3h0M505.2 91.7h0M527.1 74.5h0M494.8 96.2h0M500.4 85.1h0M523.5 85.0h0M489.1 76.1h0M507.0 90.7h0M486.5 79.1h0M509.4 93.2h0M495.3 93.6h0M509.9 72.0h0M499.3 91.7h0M496.1 68.7h0M499.6 94.8h0M522.0 68.3h0M534.4 77.9h0M514.5 99.1h0M514.8 89.3h0M489.1 93.6h0M494.4 65.3h0M536.9 94.4h0M524.8 79.8h0M520.6 102.3h0M521.7 87.8h0M488.6 86.4h0M476.6 72.7h0M504.1 79.1h0M501.0 87.0h0M526.2 99.7h0M502.5 98.9h0M493.6 85.0h0M513.9 76.8h0M499.7 76.1h0M504.4 102.7h0M494.0 90.0h0M492.2 77.7h0M488.2 101.1h0M531.3 92.3h0M494.4 94.3h0M499.0 95.2h0M506.5 90.5h0M510.3 82.8h0M498.1 72.5h0M497.7 75.2h0M501.3 79.4h0M504.2 92.1h0M486.0 80.7h0M491.7 94.7h0M523.5 95.7h0M498.8 101.2h0M484.8 101.5h0M495.1 63.0h0M534.8 102.2h0M490.6 89.5h0M500.4 88.9h0M485.2 81.9h0M508.6 90.0h0M517.4 88.7h0M531.2 81.6h0M506.1 70.8h0M488.0 100.0h0M491.7 92.8h0M502.3 78.6h0M498.8 83.4h0M497.2 94.8h0M510.8 82.8h0M492.1 90.5h0M501.8 97.3h0M534.9 95.6h0M502.6 86.5h0M492.7 79.8h0M491.0 84.4h0M497.9 94.7h0M498.2 86.2h0M488.4 102.8h0M509.1 104.1h0M512.6 101.4h0M500.0 94.5h0M535.5 77.0h0M517.1 103.3h0M508.1 94.9h0M518.4 82.0h0M508.0 80.0h0M494.7 82.3h0M501.2 89.3h0M508.6 74.9h0M527.3 98.7h0M511.9 84.7h0M501.9 93.1h0M508.1 72.5h0M512.1 114.9h0M480.3 97.2h0M507.5 87.0h0M519.9 77.1h0M505.0 101.5h0M500.6 84.1h0M504.4 83.9h0M522.1 79.6h0M513.8 76.4h0M511.3 87.0h0M471.1 87.9h0M489.8 83.9h0M522.0 77.7h0M489.9 101.3h0M504.4 102.3h0M507.0 79.8h0M502.2 99.4h0M514.6 88.0h0M503.6 87.0h0M495.9 105.9h0M503.1 77.5h0M497.1 94.7h0M510.9 86.7h0M494.8 88.2h0M482.4 76.0h0M512.9 83.6h0M507.6 99.3h0M511.0 88.2h0M529.3 94.2h0M498.6 94.8h0M508.0 80.1h0M503.9 86.5h0M478.7 86.4h0M499.5 83.9h0M481.2 82.1h0M492.7 85.8h0M484.8 90.2h0M484.3 83.2h0M502.4 79.3h0M489.3 93.8h0M490.2 82.6h0M494.6 93.6h0M477.1 78.2h0M485.8 76.1h0M486.9 78.1h0M495.2 77.7h0M493.9 88.3h0M487.8 86.1h0M504.7 87.6h0M488.4 84.5h0M486.4 87.2h0M499.2 78.3h0M491.5 94.1h0M489.4 86.5h0M485.7 78.3h0M489.3 102.4h0M490.1 80.8h0M489.1 83.7h0M497.6 86.5h0M507.4 86.7h0M503.1 87.2h0M497.2 73.5h0M492.1 84.4h0M491.3 67.8h0M499.2 81.9h0M489.9 83.0h0M491.4 88.3h0M484.1 77.6h0M495.0 86.2h0M490.4 80.4h0M487.2 84.5h0M501.3 76.5h0M503.7 91.8h0M489.8 91.3h0M482.7 71.1h0M484.0 81.7h0M490.7 80.9h0M493.7 67.9h0M496.5 73.6h0M488.4 81.7h0M484.9 74.0h0M486.0 84.9h0M497.1 89.5h0M486.0 78.7h0M486.6 88.6h0M478.7 94.9h0M489.6 78.7h0M495.4 93.3h0M495.4 93.4h0M493.9 94.8h0M501.7 84.2h0M503.1 86.3h0M493.6 77.6h0M491.0 91.2h0M483.8 90.2h0M495.4 87.2h0M477.6 84.2h0M497.5 78.9h0M493.6 66.0h0M497.7 79.7h0M499.1 70.3h0M497.8 83.1h0M498.7 77.6h0M488.7 102.9h0M487.2 79.4h0M491.1 76.8h0M501.3 98.8h0M488.1 71.2h0M501.2 93.9h0M498.8 94.3h0M486.9 83.7h0M483.3 73.7h0M499.9 79.6h0M509.0 85.6h0M488.5 91.4h0M505.6 88.9h0M484.5 88.0h0M502.6 81.1h0M487.6 93.1h0M494.0 76.2h0M490.3 79.0h0M495.1 85.9h0M501.1 90.7h0M482.1 88.3h0M499.3 88.6h0M500.2 80.6h0M486.3 92.4h0M485.5 67.7h0M500.2 79.2h0M490.9 73.8h0M483.7 75.7h0M490.5 88.0h0M476.9 91.0h0M484.7 76.5h0M497.7 84.4h0M482.2 99.8h0M487.0 87.0h0M494.4 96.3h0M489.8 93.1h0M487.8 94.0h0M487.7 82.1h0M506.3 87.5h0M493.8 102.9h0M495.5 78.5h0M498.1 75.5h0M500.9 94.6h0M489.0 80.0h0M494.2 85.1h0M486.2 89.5h0M478.7 81.5h0M490.2 82.8h0M495.2 75.2h0M497.1 83.6h0M488.4 74.1h0M484.7 87.9h0M486.3 85.5h0M500.4 93.3h0M503.9 82.6h0M485.4 93.2h0M495.2 94.0h0M493.1 94.6h0M498.9 90.7h0M496.5 88.2h0M494.6 86.8h0M499.9 80.9h0M505.1 84.2h0M499.9 84.3h0M491.3 101.3h0M490.8 74.8h0M488.0 82.5h0M508.1 86.7h0M499.5 77.0h0M495.5 90.4h0M505.6 79.4h0M497.2 87.4h0M485.8 84.8h0M491.2 66.4h0M497.2 89.3h0M489.9 74.3h0M503.4 87.1h0M500.1 96.3h0M489.4 91.5h0M491.3 84.5h0M492.4 85.0h0M500.8 86.0h0M491.9 82.8h0M495.4 77.8h0M489.5 84.6h0M489.0 84.1h0M488.7 101.0h0M502.3 88.6h0M492.6 102.5h0M495.3 84.3h0M495.1 87.4h0M502.9 84.8h0M507.7 77.9h0M497.9 77.0h0M505.7 82.4h0M492.6 92.4h0M501.8 76.1h0M490.6 73.8h0M494.0 84.2h0M490.6 79.5h0M490.3 79.0h0M496.7 97.1h0M479.5 84.1h0M490.1 88.9h0M486.3 83.8h0M485.7 90.6h0M493.7 83.7h0M495.6 83.0h0M482.1 89.8h0M495.0 83.8h0M499.9 94.7h0M485.4 78.8h0M503.8 96.4h0M487.8 75.6h0M488.5 81.0h0M481.9 85.2h0M484.0 75.3h0M499.4 79.5h0M492.5 90.0h0M498.7 82.3h0M493.3 78.4h0M505.2 90.2h0M485.3 85.0h0M498.0 88.8h0M505.8 96.0h0M489.2 84.3h0M484.0 87.0h0M494.1 106.6h0M493.7 68.3h0M488.3 85.9h0M484.2 78.1h0M490.4 87.7h0M491.8 77.9h0M498.5 80.7h0M489.5 74.0h0M487.5 90.2h0M481.7 84.4h0M498.0 82.0h0M494.7 76.1h0M502.2 93.8h0M494.6 71.0h0M485.7 92.8h0M505.0 87.4h0M501.7 80.1h0M491.7 85.0h0M496.0 72.8h0M499.6 95.6h0M485.0 74.2h0M495.5 79.8h0M476.4 91.5h0M494.1 81.2h0M507.8 86.1h0M487.7 85.8h0M485.7 78.9h0M495.7 80.6h0M489.8 98.4h0M499.0 91.4h0M496.7 88.9h0M503.2 84.8h0M506.0 77.4h0M491.2 74.0h0M490.6 89.1h0M503.2 79.7h0M493.0 82.1h0M487.8 75.5h0M493.4 71.1h0M493.8 85.2h0M488.4 76.9h0M483.3 100.0h0M483.6 97.5h0M497.2 82.1h0M484.9 93.3h0M505.1 77.5h0M490.9 93.4h0M495.4 101.0h0M489.0 89.3h0M484.2 101.8h0M487.9 67.3h0M492.1 83.9h0M506.4 82.3h0M492.9 89.7h0M504.1 84.5h0M500.3 89.1h0M490.9 85.6h0M493.2 77.7h0M501.5 73.9h0M501.2 92.6h0M492.3 78.9h0M491.4 88.8h0M498.2 87.3h0M499.9 80.5h0M494.6 72.5h0M498.3 86.2h0M490.1 94.3h0M497.8 62.5h0M493.3 73.4h0M500.5 104.9h0M489.4 85.6h0M491.2 87.8h0M497.5 95.3h0M486.1 97.6h0M486.5 87.2h0M501.1 90.7h0M486.4 79.4h0M489.8 84.6h0M501.0 74.7h0M496.3 89.9h0M496.9 88.7h0M503.6 88.9h0M499.0 89.5h0M505.6 69.8h0M502.0 82.9h0M491.0 77.2h0M479.9 81.9h0M488.2 89.0h0M482.7 96.5h0M494.9 83.0h0M488.0 78.7h0M485.1 80.6h0M493.0 83.6h0M483.1 82.9h0M486.7 86.3h0M506.1 90.0h0M490.8 72.0h0M483.1 71.5h0M498.1 78.9h0M493.4 80.0h0M493.6 96.2h0M488.2 82.3h0M487.4 92.0h0M485.8 75.9h0M483.3 73.7h0M496.3 105.6h0M486.0 92.6h0M494.8 76.2h0M491.1 83.1h0M488.2 100.4h0M479.7 88.0h0M495.3 80.4h0M494.0 92.0h0M494.1 88.3h0M497.9 68.7h0M503.3 103.2h0M499.9 93.1h0M483.1 84.1h0M487.3 80.3h0M499.8 78.6h0M492.1 69.7h0M491.9 85.7h0M488.1 79.2h0M506.2 75.3h0M485.6 78.5h0M501.4 101.8h0M495.3 79.3h0M490.0 93.5h0M486.6 96.6h0M502.9 85.6h0M497.5 91.0h0M503.9 76.6h0M501.3 82.0h0M487.6 85.8h0M491.5 77.1h0M481.8 77.5h0M503.2 100.7h0M497.6 94.5h0M489.4 84.4h0M495.0 76.3h0M486.1 85.8h0M490.8 76.5h0M495.7 82.9h0M500.1 85.0h0M490.9 86.0h0M491.8 79.7h0M490.2 91.0h0M497.5 95.3h0M481.1 81.9h0M490.1 86.4h0M489.8 80.9h0M498.5 86.4h0M484.8 95.7h0M500.0 80.4h0M498.8 79.1h0M500.9 83.3h0M487.4 82.0h0M487.6 86.5h0M494.2 85.3h0M489.1 55.7h0M493.6 69.8h0M494.7 94.0h0M494.9 81.9h0M491.7 83.9h0M489.2 80.3h0M486.5 94.5h0M492.9 92.7h0M491.2 85.6h0M491.8 88.7h0M498.8 86.9h0M488.3 78.8h0M504.6 82.8h0M491.0 96.7h0M500.6 89.3h0M490.2 103.8h0M495.8 89.4h0M491.8 73.7h0M483.7 88.3h0M495.7 83.1h0M484.8 73.5h0M490.7 73.4h0M499.3 94.2h0M512.8 92.0h0M488.9 78.0h0M468.8 80.2h0M491.8 92.7h0M497.3 89.7h0M494.5 90.3h0M503.1 76.5h0M489.8 73.9h0M504.3 95.4h0M498.3 75.4h0M494.2 83.1h0M493.6 83.5h0M496.6 81.8h0M499.0 86.9h0M490.9 84.1h0M489.9 91.5h0M491.1 87.4h0M490.3 73.1h0M499.3 76.5h0M497.8 88.4h0M481.4 77.4h0M489.4 78.4h0M484.7 90.9h0M491.3 88.1h0M490.0 87.4h0M487.7 84.8h0M497.1 85.4h0M489.8 76.3h0M494.2 87.8h0M491.2 78.8h0M496.8 104.9h0M490.9 87.7h0M495.6 64.5h0M493.9 79.3h0M502.7 83.0h0M487.6 83.3h0M494.2 80.5h0M492.6 74.2h0M491.4 91.2h0M506.8 90.7h0M494.9 94.5h0M500.1 98.3h0M500.6 84.1h0M494.8 86.4h0M495.1 86.6h0M487.5 68.2h0M488.3 68.8h0M493.5 85.0h0M481.3 90.5h0M499.1 85.8h0M504.7 100.0h0M484.6 93.3h0M496.1 88.3h0M499.5 79.2h0M488.9 78.4h0M487.7 84.2h0M482.8 76.6h0M497.0 84.4h0M495.7 69.9h0M487.5 80.6h0M493.2 80.3h0M499.5 84.5h0M493.1 85.1h0M498.0 81.2h0M500.9 88.7h0M494.1 85.3h0M496.6 93.1h0M499.6 88.0h0M499.1 85.9h0M501.8 84.8h0M478.5 95.7h0M493.8 75.6h0M491.6 77.9h0M507.7 89.0h0M482.0 89.4h0M490.2 100.3h0M485.6 67.0h0M493.5 82.2h0M490.1 67.9h0M496.0 98.4h0M479.6 94.4h0M489.0 103.8h0M496.1 83.5h0M500.7 89.2h0M488.9 90.7h0M489.4 70.7h0M507.2 82.2h0M488.7 87.7h0M482.1 74.2h0M489.5 80.8h0M493.5 94.0h0M489.7 88.9h0M497.2 76.3h0M494.6 77.5h0M500.4 88.6h0M493.1 74.3h0M493.8 78.9h0M497.9 84.0h0M487.3 92.4h0M498.1 80.3h0M501.1 82.6h0M490.8 86.0h0M487.7 81.5h0M491.9 97.2h0M503.5 82.9h0M504.3 84.7h0M495.7 92.1h0M495.0 104.3h0M494.7 75.4h0M502.1 81.7h0M490.9 61.1h0M500.0 91.5h0M498.6 92.8h0M504.8 84.6h0M499.6 79.0h0M490.5 93.5h0M495.7 74.3h0M495.5 83.5h0M487.3 88.5h0M490.2 72.4h0M485.2 99.2h0M482.4 86.8h0M500.1 85.7h0M494.3 93.9h0M499.3 89.6h0M499.9 88.8h0M501.2 83.5h0M495.8 91.4h0M499.5 90.7h0M492.4 84.3h0M498.9 84.7h0M492.1 83.9h0M500.1 93.2h0M492.4 91.6h0M496.7 91.3h0M499.8 88.3h0M502.1 86.7h0M491.7 89.6h0M498.9 90.5h0M499.0 85.9h0M499.9 87.7h0M497.9 85.6h0M496.9 92.5h0M498.6 92.6h0M492.3 87.1h0M495.8 87.2h0M498.9 85.9h0M499.0 87.5h0M499.6 86.1h0M495.6 90.5h0M492.0 84.5h0M499.6 91.0h0M494.8 87.7h0M501.4 90.5h0M501.5 92.4h0M500.9 92.3h0M495.5 93.3h0M495.6 92.0h0M495.9 83.7h0M499.9 89.8h0M501.1 92.0h0M494.0 82.8h0M495.0 83.7h0M495.6 81.7h0M496.1 82.4h0M494.4 83.1h0M494.1 86.8h0M496.8 84.6h0M499.5 89.6h0M498.4 94.5h0M496.7 81.7h0M499.0 94.2h0M491.7 86.8h0M496.7 94.3h0M493.4 89.9h0M499.6 82.7h0M495.7 85.6h0M492.4 89.9h0M496.8 89.4h0M499.0 81.5h0M493.9 82.5h0M494.7 89.0h0M500.6 83.5h0M495.1 82.1h0M498.2 87.8h0M494.7 83.5h0M500.1 85.3h0M492.5 86.3h0M495.6 81.6h0M499.8 83.0h0M499.3 89.7h0M492.6 88.8h0M493.5 84.8h0M497.6 88.3h0M497.5 85.5h0M496.2 83.9h0M499.3 86.8h0M495.0 90.5h0M492.2 89.1h0M502.0 84.4h0M493.6 90.5h0M499.4 83.1h0M492.4 90.9h0M494.4 92.9h0M496.2 93.6h0M497.0 88.2h0M491.9 90.7h0M498.3 90.4h0M498.2 85.4h0M501.2 87.2h0M500.8 91.1h0M501.9 90.1h0M500.2 88.1h0M502.3 85.2h0M501.3 90.5h0M494.7 82.2h0M495.6 92.6h0M497.5 89.8h0M497.0 88.8h0M495.2 82.8h0M500.9 88.5h0M499.6 84.5h0M493.9 86.3h0M497.2 90.9h0M498.1 92.7h0M495.3 85.1h0M493.1 83.2h0M495.9 90.7h0M494.0 93.9h0M491.6 89.5h0M500.1 85.7h0M491.9 86.5h0M499.5 83.5h0M494.4 84.3h0M492.0 85.6h0M491.5 88.4h0M495.9 85.2h0M491.3 88.4h0M496.8 86.8h0M497.2 88.5h0M495.2 92.4h0M499.3 85.3h0M493.9 90.8h0M499.3 84.0h0M500.8 86.2h0M492.0 84.8h0M501.6 92.0h0M497.2 83.9h0M495.4 84.8h0M495.8 93.5h0M498.7 85.6h0M493.2 88.5h0M501.8 90.1h0M497.4 88.2h0M497.7 94.1h0M493.0 84.2h0M498.5 84.0h0M499.4 90.0h0M501.4 88.7h0M494.7 85.4h0M492.4 91.4h0M492.7 89.9h0M498.4 84.5h0M501.7 84.9h0M501.6 86.9h0M497.4 85.5h0M500.9 88.1h0M499.5 92.0h0M492.0 84.5h0M500.3 86.9h0M500.5 90.3h0M491.1 87.4h0M493.9 90.8h0M492.5 91.5h0M496.8 90.2h0M496.5 92.4h0M497.2 91.0h0M501.5 92.0h0M492.8 86.3h0M494.4 89.1h0M496.6 85.9h0M494.5 84.5h0M498.8 87.4h0M494.8 92.1h0M500.8 84.0h0M494.5 90.6h0M495.7 85.6h0M498.2 84.0h0M495.1 89.7h0M491.8 90.1h0M495.7 86.4h0M501.0 91.9h0M493.6 87.2h0M501.2 91.4h0M497.8 94.1h0M495.4 86.2h0M502.1 86.9h0M502.8 88.0h0M496.7 93.3h0M499.9 92.5h0M493.6 87.5h0M494.7 89.1h0M493.2 92.1h0M497.6 81.7h0M496.3 84.9h0M495.1 87.1h0M494.4 85.1h0M492.9 85.3h0M495.4 84.2h0M502.3 85.0h0M502.0 86.0h0M502.7 87.1h0M500.0 83.8h0M501.1 91.7h0M491.4 90.0h0M497.2 86.7h0M495.7 93.1h0M495.0 86.1h0M502.0 90.1h0M497.8 91.2h0M492.8 91.5h0M500.1 89.7h0M492.7 90.6h0M497.6 93.7h0M500.7 82.9h0M494.7 93.9h0M494.1 91.2h0M498.6 82.5h0M494.6 86.9h0M498.8 88.7h0M498.0 93.8h0M492.6 83.7h0M498.6 93.7h0M497.0 93.0h0M493.6 84.1h0M491.9 88.2h0M496.5 93.2h0M493.6 86.5h0M493.3 83.2h0M500.5 89.0h0M496.1 94.6h0M495.1 93.9h0M500.9 83.7h0M502.2 90.0h0M493.6 93.7h0M499.0 94.5h0M495.6 83.3h0M498.4 84.0h0M501.8 90.1h0M500.9 82.8h0M495.4 82.8h0M497.2 89.1h0M498.0 87.3h0M495.9 92.6h0M498.3 82.0h0M502.0 91.0h0M493.5 89.2h0M492.7 87.8h0M500.4 85.0h0M498.0 86.2h0M496.8 87.9h0M501.1 89.6h0M493.1 90.1h0M493.1 92.6h0M499.6 87.9h0M494.7 82.1h0M494.4 90.0h0M494.1 91.9h0M497.6 82.1h0M498.9 89.5h0M499.4 81.8h0M494.2 82.0h0M491.6 90.7h0M496.9 87.7h0M493.1 91.4h0M500.1 92.5h0M492.1 91.3h0M499.6 89.0h0M498.8 89.3h0M492.0 90.4h0M498.4 84.8h0M497.4 89.7h0M495.2 88.0h0M501.8 87.3h0M499.1 83.5h0M501.2 84.5h0M494.6 82.4h0M496.7 87.8h0M492.0 84.7h0M492.5 84.1h0M491.3 89.5h0M493.6 92.7h0M497.3 92.3h0M499.7 89.4h0M493.1 92.9h0M497.5 83.5h0M493.0 86.4h0M499.6 93.0h0M499.0 82.7h0M501.8 89.5h0M501.3 85.7h0M494.5 83.9h0M492.1 85.9h0M493.8 90.3h0M498.4 84.8h0M502.7 88.3h0M502.5 88.6h0M492.0 87.2h0M496.3 90.7h0M496.0 88.9h0M491.4 86.5h0M502.6 89.8h0M500.1 87.6h0M494.9 83.0h0M497.7 88.6h0M496.7 83.6h0M492.1 86.8h0M495.6 84.1h0M496.6 81.7h0M502.7 87.6h0M498.6 89.8h0M502.0 87.9h0M493.4 88.6h0M497.8 90.8h0M494.5 91.0h0M494.3 91.7h0M501.5 84.0h0M491.8 87.1h0M497.4 88.2h0M496.7 86.4h0M491.0 88.1h0M498.8 83.2h0M501.5 89.6h0M499.4 84.9h0M501.3 84.0h0M501.5 88.3h0M492.4 88.8h0M499.2 90.4h0M491.8 86.9h0M499.4 89.7h0M498.7 86.3h0M498.9 92.9h0M494.3 82.4h0M495.2 84.9h0M495.6 91.5h0M497.5 90.6h0M501.0 85.2h0M502.1 89.5h0M496.9 90.5h0M495.0 92.5h0M493.2 85.4h0M495.7 89.7h0M500.3 91.3h0M494.2 86.4h0M496.6 84.9h0M495.3 81.3h0M495.2 88.1h0M495.8 91.8h0M501.7 88.4h0M493.3 87.1h0M496.4 87.3h0M491.8 90.4h0M499.8 87.1h0M498.1 92.3h0M499.2 81.9h0M495.8 81.2h0M501.6 84.0h0M500.4 86.0h0M497.4 94.0h0M501.9 85.0h0M494.8 89.8h0M494.5 81.8h0M498.8 87.3h0M493.0 84.8h0M494.5 86.3h0M499.5 89.4h0M495.2 86.5h0M497.3 94.8h0M495.4 89.6h0M492.9 92.6h0M499.4 87.5h0M494.8 84.9h0M496.6 84.8h0M499.8 94.2h0M496.4 90.0h0M501.0 83.5h0M499.4 90.6h0M502.6 86.0h0M492.3 90.7h0M494.6 90.3h0M492.7 87.5h0M494.7 89.0h0M493.2 88.8h0M496.1 88.5h0M495.5 82.5h0M496.2 93.3h0M498.6 91.2h0M496.4 88.3h0M501.9 91.6h0M495.0 88.8h0M493.6 88.1h0M497.2 86.9h0M499.9 90.7h0M494.0 90.7h0M497.8 83.0h0M495.2 91.4h0M498.5 85.0h0M496.0 81.9h0M500.1 89.0h0M494.4 90.7h0M497.4 83.1h0M493.9 87.4h0M494.6 82.7h0M498.7 87.9h0M495.5 84.5h0M493.3 86.7h0M498.7 85.1h0M492.0 90.7h0M500.6 88.3h0M496.5 92.5h0M493.6 85.3h0M502.2 86.0h0M494.8 86.0h0M495.9 94.2h0M502.8 87.7h0M494.5 90.1h0M497.3 90.9h0M492.0 86.0h0M495.1 91.3h0M499.2 90.2h0M496.6 86.1h0M495.3 82.9h0M502.7 86.8h0M500.7 93.0h0M500.9 85.1h0M498.2 83.6h0M496.9 94.9h0M492.2 88.7h0M493.0 83.0h0M495.0 93.3h0M500.9 91.7h0M499.6 83.0h0M498.1 90.1h0M494.0 88.2h0M495.6 88.7h0M501.8 84.1h0M491.4 85.5h0M492.8 90.5h0M499.3 87.6h0M495.7 90.0h0M496.4 83.4h0M497.4 92.4h0M497.1 84.9h0M497.0 85.9h0M499.3 83.0h0M491.7 88.6h0M497.3 89.7h0M494.7 85.1h0M499.8 85.9h0M495.4 92.8h0M501.6 88.7h0M498.5 92.1h0M502.1 85.3h0M500.7 88.2h0M500.1 89.3h0M501.3 91.6h0M501.3 84.0h0M492.8 92.4h0M496.1 85.3h0M496.3 85.0h0M493.3 89.9h0M496.3 81.2h0M492.4 89.3h0M492.4 86.6h0M495.8 91.7h0M503.0 88.1h0M494.9 86.3h0M496.6 93.2h0M496.2 93.7h0M500.9 83.7h0M493.5 92.8h0M500.0 90.6h0M494.9 85.3h0M491.2 86.3h0M501.2 89.8h0M495.1 91.0h0M495.3 86.3h0M496.0 94.2h0M502.5 87.4h0M498.4 83.0h0M493.3 87.9h0M501.2 85.1h0M502.8 89.5h0M497.7 93.3h0M501.6 84.8h0M491.4 87.6h0M499.5 93.3h0M493.2 85.9h0M496.7 85.1h0M493.0 84.5h0M502.2 89.8h0M502.7 89.6h0M495.0 89.5h0M499.0 88.2h0M501.1 90.8h0M493.6 83.0h0M495.5 88.7h0M501.0 90.8h0M499.2 85.5h0M492.9 93.1h0M499.7 85.2h0M495.7 86.7h0M493.2 83.7h0M494.1 89.8h0M495.2 84.0h0M497.1 90.5h0M496.8 92.0h0M498.5 86.2h0M497.9 91.4h0M493.6 91.5h0M496.9 84.2h0M494.6 93.0h0M497.7 83.4h0M495.8 82.4h0M501.5 75.4h0M496.0 102.3h0M495.5 81.2h0M496.9 95.7h0M496.3 91.7h0M497.4 85.8h0M511.2 88.4h0M494.6 85.1h0M498.7 90.5h0M500.5 88.8h0M490.6 91.2h0M495.6 86.3h0M490.3 84.6h0M493.7 87.8h0M490.5 88.3h0M497.6 81.3h0M494.2 82.9h0M501.1 72.8h0M495.5 78.0h0M495.1 93.1h0M494.2 88.8h0M493.2 99.6h0M501.1 94.8h0M491.0 81.4h0M501.9 86.8h0M495.8 90.0h0M491.4 92.6h0M497.1 90.9h0M494.0 91.1h0M493.8 93.7h0M502.1 93.5h0M499.3 91.8h0M484.8 93.0h0M495.8 88.6h0M495.7 79.7h0M494.6 92.0h0M503.4 84.3h0M492.9 96.7h0M493.0 100.4h0M497.2 82.7h0M501.4 98.2h0M490.5 97.4h0M495.7 96.9h0M495.3 78.5h0M499.3 93.6h0M506.4 98.3h0M500.1 86.6h0M494.7 86.2h0M493.3 86.4h0M485.5 89.1h0M496.9 103.4h0M500.4 85.1h0M499.5 80.6h0M494.3 76.8h0M503.5 91.6h0M491.7 87.6h0M501.3 91.0h0M498.7 82.9h0M494.1 88.6h0M501.1 83.0h0M492.0 94.9h0M492.8 94.5h0M498.1 93.3h0M504.8 92.1h0M500.5 82.5h0M493.9 91.9h0M503.9 96.4h0M507.4 89.9h0M497.9 94.0h0M497.1 87.6h0M492.3 93.9h0M492.2 91.1h0M490.6 94.6h0M492.4 93.1h0M489.8 85.4h0M502.3 83.2h0M497.3 85.1h0M486.6 89.8h0M498.9 81.4h0M499.6 83.2h0M492.5 88.0h0M493.9 101.8h0M490.0 92.4h0M501.5 76.1h0M489.2 91.4h0M494.8 90.3h0M502.1 85.8h0M492.2 71.6h0M497.9 82.4h0M498.4 89.4h0M490.8 98.3h0M501.9 93.1h0M491.7 85.6h0M494.5 85.5h0M491.9 90.6h0M498.0 90.2h0M494.7 95.7h0M497.8 71.6h0M494.1 87.7h0M501.3 86.2h0M495.9 84.0h0M500.0 85.3h0M494.3 83.5h0M499.5 84.8h0M489.5 91.7h0M493.8 90.1h0M498.7 95.2h0M501.7 84.5h0M496.3 80.3h0M504.5 90.6h0M503.3 86.1h0M487.8 97.2h0M497.4 88.8h0M497.2 91.9h0M499.4 78.5h0M501.9 84.8h0M494.9 98.4h0M501.1 86.0h0M488.6 89.0h0M499.4 87.5h0M491.4 83.3h0M491.4 89.3h0M500.7 94.2h0M493.7 89.4h0M499.5 84.9h0M496.3 100.7h0M497.9 93.3h0M495.0 88.3h0M489.3 87.8h0M502.4 100.6h0M502.4 92.1h0M497.2 84.4h0M496.3 91.7h0M493.5 93.6h0M492.6 77.3h0M492.4 78.0h0M490.8 94.8h0M496.1 89.3h0M502.2 95.6h0M494.7 96.0h0M498.7 88.0h0M499.0 79.4h0M493.5 87.4h0M499.7 85.8h0M496.4 93.8h0M503.4 92.6h0M502.7 85.6h0M495.6 89.9h0M495.6 85.0h0M504.4 86.8h0M492.7 90.9h0M505.3 88.5h0M502.5 85.4h0M494.8 83.9h0M496.4 99.0h0M491.8 97.8h0M492.5 86.6h0M500.8 91.8h0M498.3 78.1h0M498.6 81.9h0M508.6 86.7h0M497.8 81.1h0M494.8 80.3h0M501.4 86.4h0M499.5 83.9h0M494.7 95.7h0M492.6 77.2h0M498.8 81.2h0M495.0 93.5h0M493.3 93.3h0M493.9 96.9h0M503.0 85.2h0M496.0 83.0h0M497.9 94.9h0M490.5 93.5h0M491.0 82.8h0M489.0 100.6h0M497.3 89.5h0M494.0 94.4h0M487.5 88.2h0M506.9 85.7h0M497.1 92.0h0M493.3 88.1h0M501.3 89.2h0M498.7 85.9h0M498.4 88.3h0M503.5 92.3h0M495.9 73.3h0M500.2 92.5h0M492.9 76.0h0M491.9 93.6h0M492.2 85.2h0M498.0 95.3h0M496.9 87.4h0M494.5 97.8h0M501.8 87.4h0M490.7 83.3h0M499.6 83.7h0M501.0 90.2h0M498.3 91.9h0M499.2 82.9h0M495.5 102.0h0M491.6 85.2h0M501.8 87.0h0M493.3 80.1h0M499.4 94.1h0M503.3 88.3h0M501.7 81.8h0M497.8 83.9h0M497.8 92.5h0M501.8 82.1h0M502.7 85.2h0M492.4 87.0h0M490.4 88.0h0M498.3 86.8h0M499.4 86.1h0M497.0 79.4h0M497.2 82.9h0M495.0 87.4h0M497.9 78.1h0M490.0 86.2h0M499.1 90.2h0M501.0 95.8h0M499.2 87.9h0M492.4 82.3h0M494.9 89.6h0M498.0 88.0h0M496.3 91.8h0M497.9 89.8h0M498.4 84.7h0M492.4 90.9h0M498.9 86.7h0M495.1 101.7h0M493.6 86.7h0M498.2 81.1h0M497.5 98.8h0M501.2 91.8h0M499.7 88.7h0M501.3 87.1h0M495.1 88.6h0M501.1 90.0h0M500.0 75.9h0M502.4 102.0h0M503.0 86.1h0M493.2 89.7h0M492.6 92.4h0M494.6 93.8h0M503.1 75.8h0M498.3 83.8h0M490.7 84.3h0M496.0 94.2h0M490.2 94.3h0M506.1 91.6h0M499.5 87.9h0M491.7 91.2h0M498.7 92.4h0M508.6 92.4h0M498.9 97.4h0M490.9 81.1h0M495.3 84.1h0M500.1 86.1h0M504.8 97.1h0M500.5 85.7h0M499.8 92.9h0M492.2 90.1h0M500.2 89.3h0M504.1 95.3h0M493.3 88.7h0M493.2 91.5h0M493.1 93.5h0M498.7 93.8h0M496.3 79.3h0M504.9 87.0h0M503.2 90.6h0M500.0 99.0h0M498.5 96.4h0M490.3 93.2h0M495.9 87.2h0M497.0 90.1h0M504.5 76.9h0M497.2 83.7h0M502.2 85.5h0M499.1 85.6h0M500.0 94.1h0M495.2 88.3h0M490.6 89.8h0M500.9 84.7h0M502.0 75.6h0M488.7 79.7h0M494.8 88.1h0M496.6 87.6h0M500.3 85.2h0M491.3 80.5h0M506.5 73.9h0M496.2 96.7h0M499.2 83.0h0M497.0 93.2h0M502.4 82.6h0M515.8 84.1h0M517.6 98.0h0M520.4 94.8h0M517.1 105.8h0M515.5 105.7h0M518.7 98.3h0M511.9 100.9h0M512.7 101.2h0M514.7 88.7h0M521.4 89.1h0M516.6 103.8h0M517.7 90.1h0M514.7 102.2h0M511.6 100.1h0M520.3 101.3h0M520.5 89.9h0M512.3 101.8h0M515.7 91.2h0M517.9 95.4h0M516.1 93.1h0M517.3 103.6h0M512.1 97.2h0M513.6 86.1h0M519.8 104.5h0M514.2 94.4h0M518.7 89.2h0M518.8 101.1h0M511.4 96.6h0M519.2 104.6h0M519.9 101.7h0M512.6 95.4h0M511.0 97.4h0M514.0 90.0h0M519.8 88.6h0M515.9 91.7h0M513.8 102.1h0M511.7 95.7h0M513.9 87.2h0M519.3 88.0h0M514.3 87.4h0M510.5 94.8h0M518.2 98.0h0M520.6 88.0h0M515.4 103.5h0M511.7 100.1h0M519.8 90.4h0M517.0 98.1h0M522.3 89.6h0M517.3 104.9h0M522.4 100.7h0M511.8 94.4h0M518.3 85.1h0M511.2 100.9h0M519.4 88.2h0M511.2 101.3h0M519.0 85.9h0M518.2 97.3h0M516.0 98.9h0M519.7 99.9h0M516.2 87.0h0M510.9 96.7h0M513.6 88.1h0M517.0 105.3h0M515.9 85.2h0M518.7 94.8h0M520.1 98.1h0M513.7 104.4h0M520.6 88.0h0M517.0 93.9h0M520.3 88.7h0M516.9 98.9h0M511.9 92.0h0M522.5 100.6h0M514.8 96.3h0M510.9 90.4h0M516.2 102.6h0M510.4 100.1h0M512.2 102.6h0M518.0 96.4h0M521.6 98.7h0M517.8 85.0h0M520.2 95.1h0M522.4 94.2h0M519.3 91.7h0M519.7 94.6h0M517.4 88.8h0M520.3 95.1h0M521.6 102.2h0M515.1 99.8h0M518.4 101.5h0M521.0 97.8h0M521.5 90.4h0M522.3 89.2h0M517.1 86.4h0M516.4 105.2h0M518.0 91.8h0M518.9 86.9h0M515.2 99.1h0M521.0 102.4h0M520.1 101.4h0M514.3 97.2h0M519.7 86.2h0M521.0 98.7h0M512.1 98.3h0M515.3 97.5h0M521.7 88.4h0M519.4 101.5h0M512.9 86.5h0M515.6 97.7h0M513.0 87.8h0M518.4 88.9h0M518.8 87.8h0M519.6 87.8h0M514.8 104.6h0M515.4 105.4h0M518.6 98.1h0M516.3 105.2h0M518.3 97.6h0M516.7 93.9h0M520.2 96.8h0M517.8 100.5h0M518.0 85.6h0M517.1 86.8h0M520.8 93.9h0M511.9 101.5h0M523.0 98.0h0M518.5 86.8h0M515.2 103.7h0M517.4 84.9h0M520.3 95.7h0M523.3 97.4h0M514.1 92.3h0M515.9 92.9h0M510.6 91.2h0M513.6 94.1h0M513.2 91.3h0M519.9 100.8h0M518.6 96.4h0M513.8 100.8h0M512.5 93.1h0M516.5 98.2h0M518.8 102.7h0M512.1 97.4h0M514.1 97.4h0M515.8 104.7h0M520.5 91.9h0M517.6 94.4h0M522.8 98.0h0M512.1 95.9h0M516.7 98.3h0M514.6 100.1h0M520.0 96.0h0M517.8 96.1h0M520.4 96.3h0M518.5 98.2h0M514.6 90.9h0M521.6 99.3h0M518.6 92.1h0M516.8 93.5h0M516.1 99.6h0M515.1 89.4h0M519.2 93.7h0M520.5 100.7h0M510.4 91.2h0M510.3 97.2h0M514.7 102.0h0M515.0 104.5h0M521.8 100.1h0M513.1 88.0h0M518.5 104.3h0M512.7 98.2h0M521.9 90.8h0M513.6 101.5h0M514.1 103.6h0M522.0 91.1h0M514.9 93.6h0M510.7 90.7h0M516.7 97.1h0M513.6 89.4h0M512.6 100.8h0M510.4 92.3h0M515.2 96.6h0M521.5 99.4h0M519.5 90.5h0M516.0 92.9h0M520.4 93.4h0M514.6 103.3h0M516.1 98.1h0M520.7 102.6h0M516.0 97.1h0M514.9 99.8h0M518.1 100.8h0M516.3 97.8h0M514.7 105.2h0M520.8 86.6h0M510.2 98.5h0M517.8 90.6h0M522.6 98.1h0M518.0 100.9h0M520.1 93.3h0M522.0 97.8h0M518.4 96.4h0M516.0 94.9h0M514.8 105.3h0M517.9 101.1h0M511.7 88.8h0M513.0 90.5h0M517.3 98.1h0M511.8 93.2h0M513.7 96.3h0M517.6 92.4h0M517.4 95.6h0M517.0 101.9h0M513.2 92.8h0M520.5 96.3h0M520.4 86.1h0M522.7 93.0h0M513.7 103.1h0M517.0 89.6h0M516.5 104.5h0M522.0 92.1h0M517.7 102.8h0M519.9 95.2h0M519.4 97.1h0M512.1 96.8h0M520.1 96.4h0M523.0 93.7h0M513.3 89.5h0M511.3 91.2h0M511.8 87.6h0M511.7 99.3h0M518.6 92.1h0M515.6 89.0h0M510.4 99.5h0M516.2 97.3h0M518.5 99.1h0M514.3 102.9h0M512.6 103.1h0M522.0 99.8h0M521.8 90.7h0M516.2 104.2h0M512.4 93.3h0M518.1 96.1h0M511.2 92.2h0M515.4 92.6h0M522.0 99.7h0M519.0 94.4h0M517.1 96.5h0M515.9 106.0h0M516.3 90.5h0M513.7 102.2h0M517.7 93.1h0M517.0 105.9h0M516.1 96.3h0M514.4 86.5h0M520.6 87.2h0M519.3 91.0h0M516.4 96.0h0M515.2 94.6h0M515.0 96.4h0M513.8 86.5h0M517.2 102.9h0M520.0 86.2h0M515.2 86.5h0M519.0 102.6h0M515.3 99.5h0M514.8 99.5h0M522.8 90.4h0M509.9 97.9h0M513.1 90.1h0M522.2 90.9h0M511.8 100.6h0M520.0 93.1h0M515.7 99.7h0M522.5 95.8h0M522.0 101.5h0M514.0 84.8h0M513.4 99.5h0M517.4 92.6h0M512.6 93.7h0M515.8 92.3h0M512.3 103.7h0M513.2 91.8h0M514.4 85.4h0M514.0 98.8h0M509.7 95.6h0M519.2 88.6h0M522.3 90.7h0M513.3 101.9h0M522.1 98.9h0M517.5 92.5h0M514.5 96.1h0M520.6 93.7h0M517.0 84.7h0M512.0 102.7h0M520.0 87.5h0M511.3 92.5h0M516.1 92.6h0M521.6 88.0h0M511.5 90.7h0M521.7 92.2h0M511.3 101.0h0M514.0 98.7h0M513.0 88.3h0M511.7 100.1h0M514.9 85.8h0M514.4 94.3h0M516.2 85.6h0M519.5 85.7h0M511.4 91.4h0M519.0 92.7h0M517.8 84.7h0M517.9 92.3h0M519.8 95.6h0M522.9 96.0h0M512.9 88.7h0M514.5 100.5h0M520.9 87.9h0M512.1 100.6h0M516.4 91.2h0M516.6 100.3h0M512.2 87.8h0M521.6 89.2h0M517.7 92.7h0M513.1 100.9h0M510.6 96.1h0M512.6 93.6h0M515.5 97.3h0M512.0 95.7h0M523.1 92.7h0M520.9 88.6h0M515.2 99.7h0M513.9 85.7h0M521.9 92.1h0M514.1 99.5h0M518.6 90.4h0M517.4 90.6h0M519.9 90.4h0M520.1 98.3h0M519.8 92.3h0M523.0 93.8h0M516.8 104.6h0M513.2 89.3h0M522.3 100.8h0M511.9 89.6h0M514.7 84.6h0M516.3 85.0h0M520.0 88.1h0M514.9 103.8h0M521.1 101.4h0M519.0 86.3h0M523.0 96.7h0M516.9 101.4h0M516.8 101.6h0M517.0 89.6h0M510.2 98.8h0M520.0 86.1h0M514.2 88.6h0M518.9 89.2h0M517.1 91.1h0M521.5 87.6h0M515.6 103.9h0M512.3 103.5h0M512.6 88.7h0M512.1 91.1h0M517.6 85.6h0M518.9 85.3h0M514.3 104.5h0M519.5 99.5h0M516.2 87.2h0M513.9 85.1h0M515.7 102.7h0M522.4 98.5h0M521.5 96.2h0M516.6 105.0h0M516.2 97.8h0M516.6 95.4h0M518.5 96.0h0M518.7 101.4h0M514.0 100.4h0M522.2 100.9h0M518.4 105.6h0M514.1 96.5h0M520.2 86.8h0M520.0 89.3h0M511.2 100.7h0M519.5 99.8h0M515.8 104.6h0M516.3 94.3h0M512.5 99.1h0M512.8 92.3h0M516.2 89.5h0M514.4 89.9h0M519.4 89.5h0M520.7 99.0h0M515.0 102.6h0M522.4 97.0h0M510.2 93.7h0M511.3 87.9h0M516.4 104.0h0M519.8 96.9h0M511.3 96.9h0M518.8 101.3h0M517.7 100.0h0M513.5 99.3h0M519.7 93.2h0M513.2 101.2h0M516.0 92.3h0M512.9 100.8h0M512.8 99.0h0M516.9 95.7h0M518.0 100.3h0M517.4 84.3h0M511.7 98.6h0M516.1 97.7h0M521.8 94.3h0M520.7 88.6h0M516.3 99.0h0M512.4 97.8h0M513.5 92.9h0M519.1 102.0h0M510.8 99.4h0M515.8 100.3h0M517.5 91.2h0M518.7 97.3h0M522.0 94.5h0M516.7 97.9h0M514.0 102.0h0M522.1 99.5h0M521.7 90.0h0M519.2 87.1h0M517.2 95.5h0M512.0 93.7h0M513.8 98.4h0M512.6 90.1h0M515.1 98.7h0M519.0 93.9h0M517.9 105.5h0M519.3 85.7h0M516.3 98.4h0M512.7 86.9h0M514.9 96.2h0M512.5 94.0h0M509.6 93.5h0M511.7 87.4h0M520.9 98.1h0M522.0 98.4h0M520.8 93.8h0M516.4 105.1h0M514.1 99.8h0M516.7 100.0h0M514.9 91.7h0M522.0 94.1h0M512.2 99.7h0M513.6 104.4h0M514.9 98.4h0M522.7 96.7h0M522.2 100.7h0M522.3 97.8h0M515.4 98.3h0M519.2 94.6h0M517.8 97.5h0M512.6 93.1h0M518.1 104.2h0M519.1 96.0h0M518.9 88.7h0M517.5 96.7h0M520.3 101.8h0M517.4 91.8h0M516.7 104.8h0M518.2 103.2h0M519.4 93.3h0M518.5 103.6h0M518.5 89.3h0M514.7 102.5h0M511.7 91.7h0M515.1 100.3h0M514.1 101.0h0M522.2 91.0h0M521.9 89.4h0M519.4 104.0h0M515.7 86.8h0M520.7 102.9h0M515.7 98.9h0M522.8 99.7h0M515.6 93.1h0M515.5 84.7h0M516.4 85.2h0M517.2 88.2h0M511.6 101.0h0M519.5 104.7h0M519.3 95.1h0M511.3 98.3h0M516.9 94.7h0M511.1 97.8h0M515.2 93.2h0M521.5 90.5h0M517.2 93.6h0M516.2 88.0h0M511.0 89.4h0M516.9 101.0h0M516.4 84.2h0M512.3 98.7h0M515.7 90.5h0M517.6 105.5h0M519.1 93.4h0M519.3 102.3h0M518.2 84.7h0M521.7 88.2h0M519.5 101.7h0M518.6 91.2h0M513.4 88.9h0M513.5 91.4h0M516.4 101.2h0M514.6 100.5h0M516.8 99.9h0M515.2 95.8h0M512.9 87.4h0M516.4 93.8h0M515.0 87.0h0M514.1 100.5h0M513.6 102.6h0M517.0 86.6h0M521.3 93.8h0M517.6 104.5h0M512.0 99.3h0M515.4 105.3h0M521.8 93.7h0M523.0 96.1h0M521.6 88.6h0M517.1 85.8h0M514.5 100.5h0M514.4 88.0h0M515.2 97.3h0M512.6 87.9h0M511.5 99.0h0M522.0 89.9h0M514.5 95.8h0M517.5 91.4h0M511.5 90.9h0M512.3 101.8h0M518.4 94.4h0M516.9 96.8h0M519.8 91.6h0M520.6 94.2h0M517.4 93.0h0M514.8 92.8h0M514.2 91.5h0M517.2 94.4h0M514.0 96.7h0M517.0 93.4h0M517.2 88.4h0M520.3 87.6h0M511.2 98.3h0M513.4 88.0h0M520.5 99.1h0M519.2 97.1h0M517.7 96.5h0M516.2 90.3h0M512.3 103.5h0M521.8 89.6h0M521.1 99.0h0M519.1 102.6h0M519.6 86.9h0M511.0 99.9h0M517.1 100.3h0M517.7 85.3h0M517.1 103.8h0M520.1 94.0h0M515.9 100.8h0M518.3 91.5h0M511.4 96.0h0M522.8 90.7h0M514.7 104.4h0M519.0 93.0h0M515.7 98.6h0M513.0 96.9h0M514.6 91.7h0M514.0 93.6h0M513.6 86.7h0M515.2 89.2h0M515.9 103.2h0M520.4 95.3h0M515.3 84.2h0M512.1 90.0h0M514.1 93.4h0M510.3 95.3h0M519.9 92.4h0M515.1 102.1h0M519.7 91.9h0M518.9 101.7h0M515.2 89.3h0M520.2 92.8h0M518.1 98.6h0M517.4 84.3h0M516.0 100.0h0M520.0 97.1h0M512.4 98.0h0M515.7 91.4h0M515.8 100.1h0M520.8 92.8h0M521.8 95.1h0M515.9 103.0h0M514.2 100.6h0M512.5 101.6h0M514.6 104.0h0M520.1 95.8h0M517.4 100.2h0M516.1 103.7h0M514.4 88.8h0M511.9 102.0h0M516.4 93.9h0M511.7 97.9h0M514.3 100.5h0M518.2 99.3h0M517.4 105.2h0M519.2 92.0h0M510.5 97.7h0M514.0 104.4h0M517.9 105.6h0M518.2 92.4h0M515.7 90.8h0M515.8 92.0h0M517.8 89.1h0M516.9 105.5h0M515.8 86.2h0M519.0 96.9h0M515.3 91.9h0M513.8 103.6h0M513.6 87.6h0M516.6 95.5h0M513.3 101.7h0M515.0 90.8h0M520.0 92.8h0M515.3 97.9h0M519.9 104.6h0M519.9 100.2h0M513.9 87.4h0M519.0 91.9h0M520.8 95.7h0M513.3 102.3h0M519.4 103.3h0M522.9 92.1h0M518.8 99.0h0M519.6 97.3h0M517.0 88.1h0M520.4 95.0h0M517.4 85.2h0M519.7 99.4h0M512.9 98.7h0M511.6 94.0h0M520.7 90.1h0M516.6 88.5h0M517.1 95.4h0M510.8 97.7h0M516.9 91.3h0M510.3 92.3h0M514.8 90.3h0M520.0 93.9h0M521.6 93.9h0M520.0 86.0h0M512.6 92.0h0M514.8 102.1h0M518.9 101.0h0M517.7 98.2h0M514.1 90.4h0M517.5 84.6h0M520.8 86.7h0M519.5 92.1h0M514.9 105.3h0M516.1 96.2h0M518.5 103.8h0M515.4 94.5h0M520.8 92.6h0M516.7 87.9h0M512.2 97.8h0M520.2 104.0h0M518.8 89.6h0M517.2 94.1h0M516.8 91.4h0M514.9 104.2h0M514.6 97.5h0M515.0 93.7h0M519.2 92.6h0M516.8 105.9h0M512.4 98.5h0M519.0 96.6h0M522.2 95.2h0M516.7 101.8h0M518.4 87.4h0M513.3 85.2h0M510.7 96.3h0M512.2 99.3h0M515.8 105.9h0M517.0 87.2h0M511.8 95.6h0M522.3 99.3h0M511.7 87.3h0M522.4 94.6h0M520.3 97.9h0M517.8 94.2h0M510.2 97.7h0M520.4 83.9h0M519.3 98.7h0M518.7 86.5h0M519.2 83.8h0M523.9 96.0h0M510.7 105.1h0M522.3 90.1h0M527.5 87.5h0M518.1 103.9h0M505.1 102.5h0M516.2 94.9h0M511.1 97.5h0M511.0 87.7h0M514.3 85.8h0M524.4 85.0h0M512.7 92.6h0M516.5 100.9h0M520.6 92.7h0M514.6 95.3h0M520.6 100.2h0M513.9 79.6h0M527.2 102.1h0M517.8 97.6h0M513.9 87.5h0M514.8 93.3h0M513.4 84.1h0M514.9 99.3h0M514.0 95.2h0M506.1 93.4h0M515.9 85.8h0M507.9 98.1h0M512.5 98.7h0M514.4 99.7h0M514.8 83.7h0M516.1 92.5h0M519.8 91.6h0M514.5 101.4h0M522.3 100.7h0M521.7 98.4h0M520.4 101.6h0M518.5 95.5h0M517.2 113.0h0M516.6 93.2h0M514.7 94.7h0M517.7 86.5h0M506.6 97.2h0M508.5 96.9h0M517.2 103.6h0M524.9 97.8h0M513.7 86.2h0M512.5 95.3h0M506.2 95.6h0M516.4 99.8h0M514.8 95.8h0M512.8 91.5h0M507.6 95.9h0M524.2 96.2h0M518.3 87.6h0M523.7 89.2h0M520.5 95.8h0M511.7 102.7h0M516.6 96.3h0M518.8 94.8h0M514.6 98.5h0M514.5 95.5h0M513.2 83.8h0M513.1 91.3h0M516.6 103.9h0M508.1 96.0h0M505.4 87.2h0M514.0 78.1h0M507.2 96.2h0M516.9 94.1h0M512.5 111.2h0M515.7 88.5h0M524.9 99.6h0M514.6 103.9h0M517.3 99.8h0M517.7 87.3h0M521.4 96.2h0M511.5 89.3h0M521.3 92.2h0M516.7 99.9h0M517.1 83.6h0M519.7 102.0h0M520.8 107.1h0M518.3 100.8h0M524.4 92.8h0M525.2 108.0h0M520.4 108.8h0M520.8 88.4h0M522.2 97.4h0M518.6 96.2h0M523.3 99.1h0M513.0 98.6h0M520.1 89.6h0M514.3 92.1h0M513.5 97.6h0M521.6 109.2h0M522.5 102.7h0M522.2 105.0h0M514.6 100.2h0M518.1 94.0h0M514.2 91.2h0M515.2 85.7h0M519.1 94.8h0M517.0 97.5h0M520.1 90.6h0M516.0 82.9h0M505.4 80.4h0M524.2 81.3h0M518.9 106.1h0M514.2 107.2h0M525.7 102.1h0M528.4 99.7h0M512.9 98.9h0M514.3 85.3h0M510.1 112.4h0M513.8 94.9h0M513.2 96.1h0M515.3 92.0h0M510.5 84.5h0M512.8 97.3h0M526.9 103.0h0M525.7 98.7h0M516.1 85.2h0M516.6 79.0h0M515.1 107.3h0M518.2 103.6h0M514.7 84.8h0M514.2 92.2h0M522.6 110.0h0M512.9 92.5h0M515.9 92.6h0M510.4 95.9h0M518.4 98.1h0M510.6 94.3h0M507.9 102.0h0M511.5 93.1h0M514.4 90.8h0M511.3 82.0h0M525.3 97.1h0M518.0 111.0h0M516.1 99.4h0M516.8 104.1h0M519.2 97.6h0M515.4 97.3h0M522.5 79.7h0M516.0 92.1h0M515.2 80.4h0M520.3 88.9h0M515.5 91.5h0M508.3 91.9h0M507.5 88.2h0M515.1 95.2h0M516.9 94.2h0M527.4 98.5h0M510.6 90.7h0M513.4 93.9h0M513.6 88.8h0M524.9 95.6h0M515.0 93.4h0M515.6 105.7h0M519.1 103.7h0M501.1 97.7h0M522.0 110.1h0M516.8 82.4h0M519.6 90.8h0M507.7 90.6h0M522.0 104.3h0M520.3 87.4h0M529.3 86.5h0M516.3 84.4h0M523.3 98.6h0M521.1 96.0h0M516.3 96.6h0M507.3 102.7h0M521.3 92.4h0M516.6 97.5h0M524.6 98.5h0M516.9 91.5h0M509.2 90.8h0M517.1 93.4h0M517.1 100.9h0M518.9 97.4h0M520.0 96.7h0M516.6 98.9h0M508.1 104.7h0M510.3 101.6h0M516.8 103.7h0M516.9 88.3h0M522.1 96.7h0M517.3 96.0h0M521.8 101.5h0M517.9 83.7h0M514.7 96.2h0M525.7 98.3h0M516.3 104.4h0M516.2 95.2h0M517.6 84.2h0M521.6 98.6h0M515.4 86.8h0M517.8 105.9h0M513.6 87.5h0M518.9 83.4h0M505.7 92.1h0M513.3 93.3h0M514.0 97.9h0M515.7 90.9h0M514.5 100.2h0M521.6 102.2h0M520.3 70.7h0M511.8 93.1h0M517.8 83.3h0M523.9 97.7h0M513.7 96.7h0M515.1 89.7h0M519.3 92.0h0M509.7 90.7h0M516.2 87.4h0M523.1 87.3h0M525.6 102.2h0M512.1 96.4h0M522.7 94.0h0M510.9 96.3h0M526.8 84.3h0M519.6 95.6h0M516.2 92.6h0M515.2 103.3h0M519.8 88.0h0M524.6 85.8h0M520.2 96.9h0M522.8 98.2h0M522.1 95.3h0M521.7 98.1h0M527.6 90.3h0M522.8 99.0h0M517.7 91.3h0M519.1 84.5h0M510.0 100.9h0M509.1 106.3h0M515.5 97.4h0M517.2 98.7h0M515.5 92.8h0M516.2 103.4h0M522.5 105.1h0M518.7 94.1h0M508.5 100.4h0M521.1 92.5h0M520.9 105.2h0M517.4 103.5h0M518.4 82.6h0M514.5 92.5h0M519.5 89.1h0M514.7 88.4h0M516.7 96.1h0M521.8 101.6h0M517.7 97.4h0M517.4 96.4h0M524.6 76.9h0M516.0 97.9h0M522.5 87.4h0M518.6 102.0h0M514.7 81.3h0M515.1 86.6h0M520.1 89.2h0M525.8 96.6h0M512.9 91.8h0M511.4 98.5h0M524.3 94.0h0M521.5 88.5h0M518.4 112.9h0M509.9 104.8h0M522.8 81.5h0M509.7 88.3h0M521.7 92.4h0M516.0 100.9h0M517.5 97.3h0M515.3 104.0h0M513.0 108.1h0M515.2 89.6h0M520.1 99.0h0M507.0 97.2h0M510.1 89.3h0M520.8 89.1h0M518.6 92.7h0M526.5 94.8h0M511.0 87.3h0M512.3 96.5h0M516.8 102.8h0M517.7 96.5h0M518.5 94.5h0M518.3 101.4h0M520.8 91.4h0M508.0 89.4h0M518.2 76.8h0M514.4 98.8h0M514.0 87.1h0M525.6 105.9h0M515.5 105.4h0M523.3 87.0h0M530.2 88.4h0M515.5 87.2h0M517.2 85.6h0M516.8 103.5h0M517.8 93.4h0M524.5 88.7h0M521.6 93.1h0M517.8 95.6h0M517.4 95.0h0M512.8 91.1h0M519.0 94.6h0M510.9 90.1h0M513.3 94.9h0M517.6 96.0h0M513.5 95.5h0M509.9 73.7h0M516.4 82.9h0M512.0 86.2h0M519.8 86.2h0M518.1 91.6h0M510.5 83.4h0M519.0 98.1h0M520.5 108.9h0M518.0 97.3h0M516.0 96.0h0M514.9 88.5h0M526.6 81.2h0M517.9 98.4h0M517.3 87.9h0M515.6 91.6h0M511.2 94.7h0M514.5 90.9h0M520.0 87.1h0M518.7 90.5h0M518.7 95.5h0M517.7 87.7h0M512.6 88.6h0M517.4 100.6h0M521.9 91.2h0M516.9 82.8h0M505.4 88.5h0M513.1 83.3h0M507.6 98.9h0M512.4 82.3h0M528.0 96.2h0M514.8 100.0h0M512.6 106.8h0M508.7 85.1h0M515.7 89.1h0M523.4 82.8h0M512.7 96.6h0M519.2 102.3h0M518.1 111.3h0M514.0 96.1h0M520.6 92.4h0M514.9 91.3h0M513.1 86.3h0M513.6 83.2h0M518.2 82.8h0M526.6 107.4h0M521.8 93.1h0M513.4 103.8h0M517.2 98.9h0M512.7 102.6h0M512.3 95.5h0M507.7 89.8h0M518.8 91.3h0M514.0 100.5h0M515.9 103.9h0M504.2 98.9h0M518.8 83.1h0M509.8 101.2h0M510.9 89.9h0M519.2 92.1h0M518.6 88.1h0M517.7 102.7h0M517.9 78.2h0M519.5 95.0h0M511.7 105.0h0M507.6 108.6h0M513.1 106.4h0M516.0 84.7h0M516.7 97.1h0M518.9 102.5h0M511.8 98.3h0M519.9 92.6h0M511.6 87.5h0M520.0 100.6h0M512.1 84.6h0M522.4 83.0h0M517.0 88.6h0M507.5 95.5h0M515.3 105.3h0M527.5 93.2h0M521.3 102.4h0M513.6 88.1h0M524.2 91.9h0M544.2 109.5h0M543.8 108.7h0M546.9 113.8h0M543.0 106.5h0M544.5 106.2h0M542.1 113.8h0M552.4 111.4h0M540.6 112.5h0M536.5 108.4h0M549.6 112.4h0M539.5 105.7h0M547.3 110.2h0M542.2 111.5h0M542.3 105.0h0M547.1 108.5h0M540.8 106.6h0M545.2 108.1h0M546.5 109.6h0M548.1 109.3h0M542.0 104.9h0M540.5 112.4h0M554.9 106.9h0M540.7 111.3h0M546.0 108.5h0M544.6 105.9h0M543.3 112.9h0M550.0 109.9h0M543.4 111.6h0M548.2 111.7h0M541.7 111.3h0M547.7 108.4h0M539.7 111.8h0M545.6 113.0h0M544.6 108.6h0M542.8 107.5h0M541.0 108.8h0M542.6 113.5h0M540.0 110.2h0M542.3 114.5h0M545.2 109.3h0M547.2 110.5h0M542.7 114.6h0M546.8 115.2h0M548.4 112.5h0M544.8 107.3h0M546.8 110.6h0M546.7 110.3h0M541.9 107.6h0M546.8 114.0h0M543.3 111.6h0M549.2 108.1h0M543.2 107.3h0M548.4 111.1h0M542.7 105.8h0M543.7 113.2h0M543.3 109.2h0M546.6 107.0h0M544.5 112.1h0M541.6 108.1h0M545.2 110.1h0M543.5 111.0h0M545.1 107.8h0M542.0 111.6h0M548.3 114.2h0M541.4 113.4h0M547.0 110.3h0M546.1 112.7h0M550.6 107.5h0M546.5 110.0h0M543.7 113.6h0M547.2 107.6h0M543.4 111.0h0M539.5 112.8h0M544.1 110.9h0M545.6 115.4h0M544.5 109.4h0M550.4 109.0h0M542.6 106.6h0M548.1 111.2h0M546.0 110.9h0M543.9 108.2h0M541.7 111.6h0M544.8 114.9h0M541.8 109.1h0M540.9 114.2h0M540.1 112.6h0M549.4 110.0h0M546.9 104.5h0M543.1 105.8h0M545.0 110.4h0M541.7 113.0h0M545.6 109.0h0M542.6 106.4h0M543.8 116.3h0M541.9 111.6h0M542.5 112.7h0M545.9 109.8h0M538.2 109.0h0M548.6 109.8h0M546.6 109.1h0M538.0 111.6h0M545.5 108.8h0M543.1 111.2h0M542.4 111.4h0M543.7 103.9h0M543.9 108.8h0M541.5 111.5h0M542.7 111.9h0M548.2 110.8h0M539.1 108.4h0M547.6 109.7h0M541.6 110.2h0M546.2 111.2h0M546.7 108.2h0M543.5 109.7h0M544.4 104.6h0M543.6 106.7h0M549.2 114.7h0M550.2 112.7h0M542.8 113.1h0M543.7 112.1h0M541.3 108.8h0M546.0 115.4h0M544.3 116.7h0M554.0 106.9h0M544.3 107.8h0M544.0 109.0h0M544.2 113.1h0M547.7 111.2h0M544.5 110.8h0M544.9 112.0h0M544.5 111.8h0M539.9 112.7h0M550.5 111.0h0M539.6 114.2h0M543.3 102.2h0M543.7 112.1h0M545.8 113.9h0M546.6 110.8h0M537.6 107.4h0M545.1 112.3h0M540.9 108.8h0M546.1 105.2h0M537.7 109.8h0M545.3 109.1h0M536.5 110.5h0M539.9 112.3h0M544.1 111.2h0M546.7 109.0h0M547.3 113.9h0M545.8 114.2h0M542.3 113.0h0M545.4 107.7h0M544.2 109.0h0M542.5 110.7h0M548.1 109.6h0M544.9 106.4h0M544.8 113.7h0M547.3 111.8h0M542.6 107.8h0M544.1 106.8h0M540.2 113.1h0M541.3 115.4h0M539.5 111.7h0M540.4 111.0h0M540.9 110.6h0M543.9 109.2h0M546.2 114.7h0M542.4 112.9h0M544.8 110.4h0M552.1 104.4h0M542.1 105.4h0M543.4 109.8h0M557.7 111.4h0M550.7 114.1h0M542.9 111.8h0M550.2 110.9h0M545.2 111.9h0M539.2 108.2h0M545.6 112.0h0M541.3 109.6h0M544.0 110.0h0M546.9 110.8h0M545.0 106.5h0M540.8 111.4h0M538.9 111.2h0M542.2 108.2h0M546.7 108.6h0M541.5 108.6h0M544.6 118.1h0M537.1 110.4h0M543.6 113.1h0M543.2 103.6h0M549.0 107.4h0M544.2 106.6h0M540.6 109.1h0M547.4 112.8h0M542.3 111.8h0M543.1 110.7h0M545.0 112.2h0M542.3 110.1h0M545.2 110.7h0M541.6 115.2h0M542.8 112.5h0M545.1 113.8h0M536.8 116.1h0M543.7 107.0h0M544.9 116.7h0M546.2 107.0h0M542.8 114.1h0M539.5 109.9h0M543.4 116.4h0M543.4 114.1h0M542.0 108.2h0M547.9 112.1h0M538.4 112.2h0M546.6 108.7h0M545.2 111.2h0M542.7 108.8h0M542.1 109.7h0M539.8 110.3h0M539.2 110.6h0M544.1 107.5h0M547.3 115.8h0M549.0 106.6h0M548.8 111.0h0M544.2 108.8h0M544.4 114.3h0M546.3 109.3h0M542.1 109.2h0M546.4 115.6h0M540.7 110.4h0M543.0 108.3h0M545.8 111.9h0M539.5 107.5h0M548.5 111.3h0M546.2 109.0h0M543.1 111.7h0M542.7 107.3h0M544.4 112.9h0M540.8 113.3h0M546.8 108.0h0M544.4 110.3h0M546.6 112.3h0M539.9 106.7h0M547.9 110.7h0M545.8 111.3h0M549.7 107.1h0M548.2 108.1h0M546.9 114.1h0M539.6 111.5h0M543.4 109.6h0M544.5 107.5h0M541.0 112.2h0M547.3 108.8h0M539.3 116.8h0M548.2 111.4h0M540.8 108.8h0M545.2 107.7h0M549.9 110.8h0M545.7 107.6h0M541.2 108.2h0M545.3 109.7h0M543.4 111.3h0M545.2 114.5h0M543.7 107.6h0M544.3 114.4h0M542.5 110.5h0M543.1 111.5h0M545.3 108.2h0M543.6 113.0h0M548.2 112.9h0M547.4 109.5h0M543.1 113.0h0M540.3 110.2h0M538.0 109.4h0M542.0 107.1h0M546.4 108.4h0M543.1 109.7h0M541.9 114.3h0M542.7 110.9h0M539.9 109.1h0M543.3 109.6h0M542.4 110.8h0M549.7 110.0h0M543.9 109.3h0M553.1 114.8h0M546.3 112.3h0M541.9 110.0h0M545.1 110.7h0M541.4 108.3h0M546.2 111.3h0M537.2 110.7h0M548.8 108.6h0M545.2 106.4h0M547.2 107.4h0M540.1 109.5h0M552.5 108.7h0M540.1 111.7h0M545.2 115.0h0M540.0 106.0h0M543.3 111.5h0M545.6 113.4h0M539.3 108.1h0M543.9 112.7h0M546.0 109.3h0M540.9 112.8h0M547.7 117.9h0M543.8 114.9h0M540.2 108.9h0M542.1 109.1h0M541.4 108.9h0M544.2 109.2h0M546.7 110.2h0M544.4 114.5h0M545.5 110.8h0M544.3 110.6h0M546.4 108.2h0M548.3 114.7h0M548.4 109.1h0M538.9 109.2h0M544.9 112.7h0M543.8 109.6h0M549.6 108.6h0M548.1 112.9h0M539.8 111.2h0M542.5 107.8h0M538.1 106.1h0M545.8 109.4h0M545.3 107.5h0M543.3 109.7h0M539.1 105.9h0M545.9 110.8h0M541.2 110.1h0M546.7 115.4h0M541.4 112.1h0M551.7 110.6h0M549.4 103.3h0M549.4 110.4h0M538.0 112.6h0M548.0 113.7h0M548.5 110.3h0M541.8 109.2h0M544.3 111.5h0M542.7 110.6h0M547.4 111.3h0M552.3 116.3h0M540.5 108.9h0M539.9 107.2h0M546.3 107.7h0M540.8 109.7h0M547.1 109.4h0M543.2 112.9h0M546.0 111.7h0M547.7 107.6h0M545.1 108.7h0M547.9 112.7h0M540.8 114.1h0M540.4 113.6h0M545.1 108.0h0M540.6 109.6h0M544.3 108.5h0M546.3 106.6h0M544.4 110.4h0M538.0 111.3h0M540.0 103.5h0M542.3 109.8h0M547.5 109.1h0M549.5 114.4h0M548.2 114.1h0M545.6 108.9h0M546.6 113.1h0M545.2 109.7h0M539.0 112.3h0M545.6 106.8h0M544.7 112.4h0M544.0 112.6h0M547.0 106.3h0M543.4 111.8h0M547.6 114.3h0M537.8 110.2h0M546.9 113.8h0M550.2 107.8h0M543.1 107.5h0M547.2 106.8h0M548.5 113.0h0M546.1 104.4h0M542.1 112.5h0M539.5 109.8h0M544.0 112.9h0M545.4 111.2h0M542.9 110.4h0M543.9 112.4h0M543.8 113.3h0M538.5 113.7h0M543.8 113.5h0M544.7 112.8h0M549.6 108.9h0M544.7 109.9h0M545.1 105.9h0M543.8 109.7h0M541.7 109.9h0M539.1 114.3h0M545.9 115.6h0M541.4 107.2h0M545.4 105.8h0M545.2 108.5h0M543.2 111.1h0M544.5 115.6h0M546.6 106.8h0M547.8 106.7h0M544.7 107.0h0M541.5 114.0h0M542.5 108.6h0M542.4 109.5h0M549.4 107.1h0M540.1 112.0h0M538.9 109.4h0M548.3 110.4h0M542.7 108.4h0M541.2 108.8h0M544.8 113.8h0M547.7 108.8h0M541.8 112.3h0M538.1 109.2h0M543.2 107.3h0M540.9 111.3h0M538.6 107.8h0M542.1 110.6h0M539.6 113.4h0M543.2 109.6h0M543.1 108.5h0M540.9 113.5h0M545.0 110.0h0M547.7 108.4h0M546.5 110.4h0M541.2 112.4h0M539.1 112.1h0M541.2 111.4h0M549.0 111.9h0M542.2 110.2h0M543.0 107.1h0M540.4 110.4h0M546.1 105.4h0M544.0 111.7h0M544.6 107.5h0M547.8 106.9h0M546.4 114.7h0M537.2 111.0h0M545.3 110.9h0M503.6 107.7h0M545.6 92.9h0M539.4 63.5h0M539.8 97.3h0M532.1 97.8h0M496.9 97.9h0M535.9 78.0h0M492.3 75.9h0M489.6 80.1h0M519.3 60.1h0M492.1 68.8h0M488.5 77.2h0M526.6 92.3h0M558.0 119.1h0M482.6 105.0h0M514.4 92.6h0M485.4 106.0h0M522.2 87.8h0M525.1 61.2h0M518.2 104.0h0M481.2 105.3h0M535.5 101.9h0M519.6 115.1h0M525.0 110.4h0M532.8 113.5h0M552.3 61.1h0M513.6 125.0h0M552.9 97.4h0M492.4 97.7h0M515.2 99.1h0M492.5 76.1h0M508.5 78.3h0M552.1 116.8h0M558.0 98.2h0M516.7 122.4h0M500.7 72.0h0M504.5 97.2h0M551.9 98.2h0M514.0 60.5h0M494.3 99.9h0M546.5 83.8h0M519.8 86.8h0M513.0 70.4h0M552.1 97.8h0M539.2 103.1h0M479.2 117.8h0M557.3 114.4h0M515.3 123.7h0M492.8 123.4h0M552.6 104.9h0M512.4 76.8h0M534.1 94.2h0M539.6 63.6h0M494.0 95.9h0M558.6 78.5h0M524.2 93.9h0M482.7 108.3h0M522.0 62.1h0M479.5 116.7h0M558.3 60.5h0M532.6 90.8h0M509.1 72.6h0M543.5 60.6h0M543.1 90.1h0M535.4 75.6h0M497.3 63.4h0M485.6 113.2h0M548.2 74.5h0M550.8 120.9h0M506.3 98.8h0M509.7 81.8h0M511.1 62.1h0M500.7 115.3h0M554.9 65.3h0M521.6 110.0h0M536.2 93.4h0M527.6 88.5h0M485.3 63.4h0M483.9 86.2h0M490.1 59.1h0M518.7 109.1h0M529.5 105.4h0M559.7 67.1h0M551.9 92.1h0M538.6 69.9h0M509.4 105.7h0M506.3 70.7h0M535.2 69.6h0M506.3 77.1h0M540.8 123.1h0M537.7 112.8h0M487.8 85.0h0M543.9 111.2h0M485.7 82.2h0M504.1 70.6h0M558.0 118.1h0M531.4 60.5h0M548.2 111.1h0M554.0 122.3h0M499.7 63.6h0M543.2 115.6h0M508.5 110.3h0M483.3 60.8h0M486.8 87.8h0M488.4 75.4h0M529.8 83.7h0M530.6 83.6h0M547.5 84.4h0M502.2 58.7h0M540.5 76.2h0M499.9 77.4h0M503.7 101.5h0M531.8 104.6h0M510.2 108.3h0M559.8 100.7h0M504.0 117.9h0M497.5 95.3h0M550.1 79.0h0M549.6 60.7h0M491.4 106.7h0M505.7 95.7h0M519.8 68.9h0M483.4 92.3h0M508.4 121.3h0M541.2 98.6h0M541.0 78.7h0M490.2 112.0h0M502.9 84.4h0M500.0 59.0h0M534.1 63.3h0M488.8 122.4h0M558.8 64.3h0M487.5 110.5h0M521.4 60.1h0M535.7 86.4h0M555.8 76.9h0M528.4 81.1h0M548.1 64.1h0M521.5 84.9h0M496.1 108.9h0M512.5 93.2h0M527.8 66.9h0M521.5 112.0h0M542.2 116.4h0M522.2 88.6h0M509.4 82.1h0M520.2 59.2h0M520.6 62.7h0M478.8 83.1h0M504.9 65.6h0M525.0 123.0h0M536.4 101.2h0M513.1 79.0h0M539.2 97.2h0M519.3 69.3h0M508.3 119.5h0M497.9 91.6h0M543.4 104.9h0M553.6 70.2h0M537.8 89.7h0M496.1 105.8h0M535.9 84.0h0M519.4 62.4h0M553.8 89.4h0M478.5 113.2h0M541.4 89.0h0M516.2 123.6h0M548.2 95.5h0M527.7 117.1h0M478.6 60.2h0M534.7 100.3h0M521.7 92.2h0M497.6 82.0h0M488.0 118.4h0M510.7 64.2h0M524.0 90.6h0M517.2 78.5h0M479.4 122.3h0M490.1 110.4h0M533.8 71.4h0M522.8 66.6h0M538.9 59.6h0M512.0 70.0h0M499.1 120.2h0M543.4 116.5h0M495.9 111.6h0M483.0 84.8h0M508.2 90.3h0M515.0 96.5h0M495.1 112.3h0M556.4 58.3h0M497.0 70.1h0M488.0 97.0h0M532.2 67.5h0M489.7 120.9h0M501.0 61.0h0M511.9 123.2h0M500.5 72.4h0M531.6 71.0h0M489.5 86.4h0M530.8 100.7h0M487.5 123.6h0M525.6 89.9h0M558.3 118.2h0M542.5 117.7h0M555.6 124.0h0M522.8 82.1h0M491.0 89.8h0M508.4 59.4h0M541.7 83.7h0M488.8 81.7h0M532.5 66.3h0M504.4 113.8h0M553.2 76.7h0M506.7 66.8h0M504.4 65.7h0M500.3 59.6h0M522.3 108.6h0M556.1 93.6h0M522.3 93.1h0M517.2 79.6h0M517.9 82.2h0M512.4 76.9h0M507.3 75.4h0M512.7 82.4h0M523.6 78.4h0M531.9 82.8h0M523.4 72.8h0M507.1 75.9h0M515.3 73.0h0M515.8 68.2h0M529.2 70.6h0M512.9 78.7h0M505.7 80.3h0M525.1 74.5h0M509.9 73.8h0M504.0 82.5h0M518.4 72.5h0M511.1 78.7h0M529.4 70.0h0M513.7 67.7h0M523.1 76.7h0M535.1 75.4h0M514.7 72.6h0M524.5 68.3h0M523.7 77.2h0M514.2 71.7h0M526.0 84.8h0M514.6 78.5h0M531.2 73.1h0M516.1 70.2h0M516.9 75.6h0M514.8 72.5h0M506.0 69.6h0M510.6 79.0h0M514.1 72.0h0M523.0 78.7h0M512.3 73.0h0M523.0 77.7h0M511.6 77.1h0M517.8 81.3h0M511.4 80.2h0M521.3 71.2h0M526.0 80.3h0M507.9 85.4h0M509.3 71.6h0M515.5 79.7h0M522.4 75.5h0M528.4 77.9h0M528.7 89.5h0M519.5 63.7h0M514.5 70.8h0M518.7 76.5h0M508.6 70.5h0M516.0 75.1h0M498.0 80.7h0M518.2 76.0h0M520.3 71.1h0M517.6 81.0h0M526.3 78.2h0M515.8 72.0h0M528.2 78.5h0M514.7 65.5h0M511.3 66.6h0M527.7 76.9h0M512.2 74.7h0M538.2 81.9h0M507.5 75.4h0M508.4 67.6h0M519.4 87.8h0M530.2 76.2h0M515.1 77.0h0M526.1 68.8h0M503.3 85.2h0M520.2 83.9h0M519.9 83.3h0M513.2 78.4h0M530.2 81.0h0M514.4 80.4h0M512.8 69.0h0M522.1 82.9h0M524.7 69.8h0M524.9 79.4h0M514.4 63.7h0M526.0 80.4h0M521.9 67.4h0M506.2 81.0h0M524.4 78.5h0M516.0 78.0h0M513.7 74.4h0M511.1 77.3h0M514.7 80.7h0M523.7 72.0h0M532.6 70.4h0M521.6 81.4h0M528.2 65.0h0M526.0 82.1h0M529.5 64.9h0M512.6 75.5h0M514.4 82.7h0" stroke="#00bfbf" stroke-width="0.95" stroke-linecap="round" stroke-opacity="0.85"/>
<path d="M475.1 86.7h0M470.9 77.5h0M467.0 69.0h0M466.8 96.5h0M478.4 81.0h0M477.7 85.8h0M470.5 95.8h0M468.7 91.8h0M466.3 70.5h0M466.0 76.2h0M469.6 67.7h0M476.2 72.1h0M478.7 84.7h0M464.8 77.8h0M465.2 91.7h0M468.5 68.8h0M464.3 80.6h0M468.6 90.9h0M476.0 83.4h0M470.0 90.0h0M463.8 88.2h0M468.3 93.1h0M471.4 83.2h0M467.5 72.3h0M467.3 96.6h0M476.5 69.9h0M466.0 95.6h0M464.0 89.3h0M468.1 85.9h0M476.7 76.0h0M465.6 74.2h0M478.4 80.0h0M476.8 83.3h0M473.1 82.1h0M474.3 98.1h0M477.7 74.0h0M479.4 87.3h0M474.9 74.7h0M468.6 76.7h0M468.3 68.7h0M466.0 91.7h0M466.0 92.0h0M472.4 85.6h0M473.3 87.3h0M466.0 72.5h0M467.0 96.4h0M476.6 84.8h0M475.5 96.9h0M473.3 89.3h0M473.8 95.1h0M466.5 85.9h0M476.9 76.4h0M468.1 79.3h0M471.2 72.5h0M476.2 90.1h0M469.1 70.9h0M474.1 77.2h0M478.3 82.6h0M470.5 75.4h0M464.7 72.5h0M475.7 81.0h0M473.5 87.1h0M472.7 74.5h0M470.2 70.4h0M470.6 71.8h0M467.1 93.9h0M474.1 85.7h0M475.1 91.5h0M468.6 71.6h0M468.2 98.5h0M479.4 78.0h0M476.3 91.9h0M473.4 74.4h0M468.5 83.8h0M469.6 96.0h0M471.3 95.8h0M467.8 92.3h0M466.5 93.6h0M472.4 94.5h0M473.0 97.7h0M476.1 81.4h0M467.1 87.6h0M465.5 71.7h0M469.5 70.6h0M467.3 97.5h0M473.5 81.3h0M469.2 98.7h0M472.3 86.8h0M478.8 87.1h0M471.0 95.9h0M474.3 85.2h0M468.1 76.3h0M466.1 77.6h0M478.0 84.8h0M477.3 79.3h0M471.3 80.2h0M463.2 77.7h0M476.4 79.6h0M464.2 80.3h0M475.3 97.7h0M473.1 66.5h0M475.1 81.0h0M479.2 88.9h0M465.2 82.7h0M472.6 96.6h0M475.1 78.2h0M474.3 86.7h0M473.8 70.9h0M473.8 98.5h0M467.9 74.5h0M468.4 67.5h0M472.0 68.7h0M472.6 83.8h0M463.0 84.7h0M473.6 87.0h0M474.4 88.7h0M475.0 93.8h0M476.6 96.2h0M474.5 80.5h0M467.0 79.6h0M471.5 86.6h0M468.9 83.5h0M476.9 86.8h0M472.9 95.6h0M467.1 74.3h0M470.8 79.5h0M467.2 75.6h0M477.3 81.9h0M479.9 80.9h0M474.0 74.6h0M464.7 85.9h0M471.8 71.1h0M471.5 98.0h0M476.0 73.1h0M471.8 99.9h0M478.5 82.2h0M476.6 83.9h0M473.1 72.4h0M463.4 82.9h0M473.7 73.6h0M463.1 80.8h0M474.4 73.2h0M469.3 67.1h0M469.3 77.9h0M478.9 78.5h0M475.8 90.7h0M475.2 79.4h0M464.8 81.2h0M470.9 79.0h0M469.6 76.4h0M465.2 92.8h0M465.2 80.9h0M476.5 81.3h0M468.2 83.5h0M474.6 79.6h0M475.7 83.4h0M466.2 77.8h0M471.0 80.8h0M468.3 87.7h0M476.5 88.4h0M473.7 67.6h0M471.7 67.2h0M465.3 94.2h0M474.9 87.6h0M473.2 77.9h0M472.8 67.5h0M475.2 70.7h0M473.3 75.3h0M471.0 94.2h0M465.5 71.5h0M463.7 86.3h0M464.9 93.5h0M466.3 89.4h0M469.7 76.4h0M478.0 82.9h0M468.6 84.0h0M469.5 87.3h0M469.7 79.3h0M468.5 76.8h0M468.5 86.8h0M468.8 76.1h0M467.4 71.2h0M471.3 69.1h0M472.2 85.4h0M466.8 70.1h0M464.6 90.6h0M477.7 71.6h0M468.5 77.6h0M474.3 69.5h0M473.9 71.2h0M473.2 96.9h0M478.9 90.6h0M471.6 78.2h0M479.1 88.3h0M479.2 78.0h0M468.9 70.3h0M466.6 88.0h0M468.4 72.0h0M473.7 87.7h0M466.6 71.8h0M477.2 76.9h0M478.2 83.0h0M478.4 77.6h0M470.5 88.0h0M470.0 85.2h0M474.3 80.8h0M472.2 78.4h0M465.6 93.1h0M474.7 82.2h0M476.8 85.1h0M467.7 71.3h0M467.0 82.5h0M477.9 72.5h0M479.9 84.9h0M469.1 92.6h0M464.8 84.8h0M478.5 89.7h0M466.2 69.7h0M475.7 71.4h0M476.4 76.7h0M472.6 85.8h0M464.5 82.5h0M478.6 81.7h0M478.1 89.2h0M470.0 73.4h0M469.7 98.4h0M477.2 75.9h0M467.3 76.4h0M475.0 77.9h0M473.0 83.9h0M465.6 74.2h0M467.2 87.6h0M477.8 92.9h0M467.3 88.2h0M471.2 73.6h0M464.7 75.6h0M467.0 77.2h0M469.9 99.6h0M464.9 82.3h0M463.5 88.4h0M474.1 79.8h0M472.9 80.5h0M470.6 83.8h0M463.3 82.7h0M469.9 94.3h0M464.6 77.1h0M475.9 92.0h0M480.0 79.4h0M464.7 90.8h0M477.6 83.7h0M470.4 89.9h0M476.7 79.7h0M469.5 92.9h0M467.5 89.7h0M478.8 80.7h0M473.2 67.8h0M466.4 94.9h0M473.5 89.5h0M468.7 87.4h0M466.5 93.0h0M477.4 74.1h0M463.9 79.3h0M478.9 75.6h0M476.6 82.1h0M473.1 79.8h0M467.0 88.7h0M467.6 89.1h0M468.7 81.3h0M468.4 70.3h0M475.2 73.1h0M474.4 70.8h0M468.3 97.6h0M470.9 70.2h0M465.6 94.2h0M472.8 67.9h0M477.9 84.0h0M475.5 72.1h0M469.6 72.0h0M474.8 91.4h0M471.5 97.5h0M468.9 95.2h0M466.2 82.1h0M477.4 75.3h0M477.8 80.7h0M469.2 79.6h0M477.4 92.3h0M477.6 81.4h0M479.7 79.0h0M478.6 91.5h0M470.0 78.1h0M469.2 75.4h0M467.6 71.0h0M470.9 75.5h0M479.5 83.5h0M468.9 96.0h0M467.0 97.1h0M468.4 74.9h0M477.5 90.9h0M470.4 96.0h0M474.8 95.5h0M479.7 87.9h0M466.3 84.7h0M472.7 90.8h0M463.7 84.7h0M472.4 89.4h0M473.2 70.8h0M478.0 93.6h0M472.6 67.5h0M467.5 71.2h0M472.1 84.7h0M465.2 94.6h0M467.1 90.7h0M466.9 85.6h0M470.5 79.1h0M474.8 83.6h0M472.5 86.1h0M469.4 70.9h0M476.0 88.8h0M474.2 75.3h0M466.0 94.2h0M473.9 84.1h0M472.2 72.0h0M471.7 98.2h0M479.5 82.9h0M478.1 76.3h0M476.3 74.9h0M474.1 78.5h0M476.5 87.8h0M478.9 85.4h0M465.2 91.8h0M465.5 89.4h0M464.5 91.7h0M466.1 75.7h0M473.2 67.7h0M473.5 67.3h0M474.8 80.0h0M470.0 77.2h0M477.8 71.2h0M475.5 88.0h0M477.3 84.8h0M466.0 86.3h0M477.5 72.5h0M470.8 84.3h0M476.2 90.6h0M475.7 91.2h0M471.9 88.3h0M475.4 74.4h0M467.3 96.6h0M472.8 80.0h0M475.6 80.0h0M472.6 69.9h0M477.3 77.2h0M471.2 97.8h0M473.3 92.3h0M471.7 89.0h0M476.8 84.2h0M478.8 76.5h0M473.1 93.8h0M467.7 75.2h0M469.8 97.7h0M465.0 79.8h0M468.5 85.5h0M470.5 72.7h0M474.0 98.4h0M471.1 85.8h0M476.5 94.3h0M469.3 91.4h0M475.3 70.3h0M475.0 81.4h0M478.6 84.3h0M476.1 70.0h0M471.3 78.7h0M479.1 90.9h0M473.0 87.7h0M472.2 81.5h0M474.2 97.5h0M476.8 76.4h0M469.9 82.2h0M478.6 81.7h0M465.2 82.6h0M477.5 95.4h0M464.7 72.6h0M463.7 88.4h0M477.2 88.3h0M474.8 69.0h0M477.6 74.4h0M476.0 81.0h0M466.8 71.4h0M467.4 78.4h0M473.4 93.4h0M473.9 81.9h0M471.2 76.7h0M468.4 72.5h0M468.7 68.4h0M475.8 70.3h0M469.6 88.6h0M476.4 91.1h0M476.4 82.5h0M475.4 84.5h0M470.8 93.2h0M464.3 83.7h0M479.7 87.1h0M470.5 87.9h0M474.8 76.3h0M466.1 72.6h0M466.1 77.0h0M476.9 84.2h0M464.4 89.7h0M472.4 84.6h0M465.0 93.8h0M468.0 88.7h0M464.3 90.1h0M468.3 97.2h0M473.1 67.7h0M464.8 86.1h0M477.4 75.5h0M470.4 86.1h0M475.1 91.7h0M467.2 93.6h0M474.7 76.6h0M466.9 93.9h0M474.3 71.6h0M469.0 70.0h0M471.1 98.7h0M473.3 92.2h0M476.8 91.7h0M469.6 84.2h0M468.8 68.7h0M469.3 97.8h0M478.5 79.0h0M478.8 84.3h0M473.0 70.6h0M473.9 91.5h0M479.4 82.8h0M474.1 86.6h0M477.4 76.8h0M469.1 86.2h0M469.8 97.3h0M477.5 86.1h0M472.8 96.3h0M468.8 87.7h0M476.7 78.7h0M478.5 80.2h0M476.6 88.4h0M464.6 77.5h0M474.0 84.0h0M475.7 89.2h0M469.3 79.3h0M464.0 80.5h0M476.0 76.7h0M477.8 74.6h0M475.6 95.5h0M470.4 80.5h0M473.9 70.4h0M472.6 67.9h0M463.8 76.3h0M468.9 82.6h0M469.1 80.8h0M466.5 88.9h0M464.5 77.1h0M473.8 79.4h0M466.4 96.9h0M464.6 88.2h0M470.5 83.8h0M476.6 72.1h0M471.7 94.1h0M468.1 85.6h0M471.6 69.2h0M465.7 92.0h0M475.8 72.4h0M467.2 81.0h0M474.6 87.2h0M470.1 86.1h0M473.7 88.5h0M466.6 86.8h0M468.1 90.4h0M470.3 86.8h0M475.4 69.3h0M474.5 78.6h0M471.6 78.2h0M471.9 75.3h0M476.1 76.0h0M477.5 76.4h0M472.6 87.3h0M474.2 79.0h0M472.3 85.3h0M470.7 93.6h0M473.7 66.6h0M476.3 94.8h0M479.4 79.5h0M479.1 76.2h0M475.6 83.0h0M466.9 72.7h0M476.6 78.0h0M466.4 80.4h0M464.0 79.6h0M465.9 76.4h0M464.9 78.6h0M467.5 78.7h0M467.9 68.1h0M478.4 79.3h0M477.6 89.7h0M472.3 97.7h0M479.9 83.6h0M474.9 85.9h0M472.9 91.3h0M478.6 73.3h0M468.6 95.8h0M464.8 73.5h0M469.6 92.0h0M480.2 81.7h0M473.5 93.4h0M465.3 92.4h0M465.8 94.8h0M472.9 94.9h0M476.6 87.9h0M466.7 90.6h0M472.4 88.8h0M473.8 83.7h0M477.9 72.1h0M467.6 94.4h0M474.0 83.4h0M466.5 74.3h0M467.2 84.2h0M468.5 68.5h0M468.1 90.8h0M472.2 84.7h0M466.9 72.3h0M464.5 93.1h0M476.9 72.8h0M467.5 97.8h0M472.0 88.4h0M473.4 91.4h0M471.2 98.0h0M471.9 94.5h0M467.8 82.0h0M467.9 90.2h0M476.1 81.3h0M473.6 96.7h0M478.7 77.5h0M467.6 95.5h0M464.3 84.5h0M478.9 79.3h0M473.1 67.0h0M475.8 80.1h0M467.0 80.8h0M467.9 98.3h0M467.8 68.8h0M468.7 70.3h0M479.1 86.9h0M477.0 91.5h0M476.1 79.9h0M470.3 70.4h0M473.4 75.5h0M472.5 87.9h0M476.6 81.4h0M469.0 97.5h0M473.6 87.9h0M470.3 85.8h0M469.0 89.6h0M478.8 88.4h0M476.2 69.9h0M474.7 76.5h0M474.3 98.8h0M465.7 79.3h0M476.5 72.8h0M466.3 92.6h0M465.6 82.4h0M471.8 98.6h0M463.3 86.2h0M469.2 93.8h0M473.7 74.7h0M476.1 96.8h0M478.7 85.9h0M475.8 77.0h0M473.2 89.1h0M466.2 79.8h0M470.0 72.0h0M467.8 96.6h0M478.2 76.9h0M468.2 93.3h0M474.2 98.3h0M477.7 88.2h0M478.1 73.7h0M472.0 87.2h0M473.5 80.1h0M463.6 87.3h0M478.4 77.0h0M475.3 87.5h0M473.4 78.3h0M473.8 82.4h0M470.3 73.7h0M477.0 94.9h0M475.4 82.9h0M472.9 75.0h0M473.5 98.0h0M475.2 81.7h0M475.2 87.3h0M476.7 93.7h0M479.6 84.5h0M464.4 74.0h0M470.0 85.0h0M475.8 88.0h0M464.6 83.6h0M475.2 76.3h0M477.8 91.0h0M468.8 76.8h0M474.8 94.5h0M468.0 82.5h0M469.6 88.5h0M470.2 98.0h0M478.5 84.0h0M465.7 76.9h0M466.4 86.6h0M468.9 70.0h0M474.9 98.2h0M476.9 81.9h0M473.4 83.5h0M473.0 91.1h0M466.6 71.3h0M474.7 89.9h0M471.0 97.7h0M467.5 82.9h0M471.8 69.9h0M475.0 75.3h0M468.9 94.3h0M468.5 74.3h0M478.2 84.9h0M477.3 73.7h0M468.0 70.5h0M476.2 76.6h0M471.9 86.2h0M463.5 83.3h0M471.4 77.5h0M476.9 84.7h0M475.7 70.3h0M469.2 66.8h0M473.3 68.9h0M473.1 87.9h0M473.0 66.5h0M469.8 81.5h0M472.5 85.6h0M476.6 93.8h0M476.8 70.3h0M465.8 91.1h0M470.4 98.8h0M466.7 93.1h0M470.5 78.5h0M476.0 93.1h0M475.5 95.7h0M467.9 73.3h0M477.3 74.2h0M468.7 72.7h0M474.2 81.2h0M469.8 98.4h0M469.1 89.1h0M468.7 88.5h0M469.5 87.7h0M470.9 92.9h0M473.0 72.6h0M470.7 90.4h0M468.4 86.4h0M465.7 85.0h0M472.5 83.0h0M468.5 93.5h0M470.5 77.8h0M470.0 88.5h0M472.4 77.4h0M465.3 93.1h0M479.4 85.1h0M462.9 80.6h0M467.4 96.0h0M470.9 95.0h0M470.0 93.3h0M478.2 83.2h0M470.7 69.6h0M463.1 78.0h0M468.2 75.6h0M463.9 76.2h0M465.2 94.3h0M463.2 87.3h0M464.6 85.0h0M477.5 76.4h0M466.4 96.8h0M474.8 91.9h0M478.2 90.5h0M470.2 87.1h0M467.6 79.4h0M466.1 77.0h0M470.5 68.6h0M469.5 76.9h0M478.4 90.7h0M466.4 91.2h0M469.3 87.6h0M472.8 85.2h0M466.8 77.3h0M472.7 67.8h0M479.9 87.5h0M464.0 80.2h0M474.6 88.5h0M472.9 67.1h0M468.3 80.6h0M476.6 87.3h0M464.3 81.6h0M471.8 92.9h0M472.8 92.4h0M468.6 73.3h0M464.6 92.1h0M476.9 77.9h0M473.8 80.5h0M474.7 74.9h0M465.8 90.0h0M476.8 76.0h0M479.2 90.3h0M472.5 71.0h0M466.6 94.7h0M476.6 72.0h0M477.4 85.2h0M466.4 78.0h0M476.9 87.9h0M470.7 88.6h0M469.1 81.0h0M473.4 87.4h0M470.4 77.2h0M469.0 82.6h0M472.4 93.6h0M468.2 81.5h0M463.3 88.6h0M477.0 85.3h0M471.4 81.9h0M469.9 69.5h0M477.8 75.3h0M479.5 77.1h0M468.5 89.1h0M468.4 75.5h0M465.6 73.8h0M478.1 87.3h0M470.4 69.7h0M470.3 99.3h0M463.7 90.7h0M470.9 81.9h0M466.0 82.7h0M469.9 99.2h0M472.3 81.4h0M475.8 88.5h0M465.4 74.1h0M472.5 87.3h0M477.5 77.1h0M479.3 76.7h0M470.0 70.9h0M471.9 82.3h0M471.8 77.3h0M468.3 74.0h0M471.5 81.1h0M477.6 75.7h0M472.4 91.6h0M470.8 73.1h0M474.8 96.6h0M464.2 86.5h0M467.3 95.8h0M468.9 77.5h0M468.2 75.4h0M477.2 75.2h0M474.8 72.8h0M478.8 89.1h0M474.1 92.7h0M479.6 87.5h0M470.5 75.3h0M467.5 94.3h0M479.3 80.6h0M473.4 99.5h0M476.7 80.2h0M471.8 67.0h0M472.0 69.8h0M466.0 74.5h0M474.8 77.3h0M472.3 98.9h0M473.0 79.8h0M477.9 71.5h0M466.3 75.1h0M468.0 72.0h0M472.0 90.0h0M464.3 83.8h0M468.5 79.5h0M468.3 97.2h0M478.8 86.9h0M474.9 80.8h0M474.2 68.8h0M466.9 93.1h0M466.8 81.1h0M465.5 75.5h0M478.6 79.3h0M465.7 78.7h0M470.3 69.0h0M474.1 68.7h0M478.2 92.5h0M464.5 75.4h0M474.1 80.6h0M475.2 68.9h0M479.1 75.2h0M474.7 93.1h0M472.9 67.1h0M470.7 90.9h0M472.8 80.6h0M472.8 71.9h0M469.3 87.2h0M468.7 80.1h0M465.7 85.2h0M479.6 77.0h0M465.5 78.9h0M479.2 90.9h0M465.4 80.3h0M477.4 84.4h0M472.3 84.9h0M469.0 83.3h0M463.5 86.8h0M478.1 88.9h0M467.9 93.8h0M469.6 98.6h0M469.9 96.3h0M467.1 86.2h0M479.5 86.4h0M478.9 86.0h0M471.7 87.8h0M469.8 67.8h0M476.4 79.0h0M471.8 67.4h0M478.6 90.2h0M475.3 68.6h0M472.8 77.8h0M475.7 70.9h0M470.8 73.6h0M470.9 98.7h0M468.5 83.2h0M463.8 88.9h0M480.0 86.6h0M465.4 79.9h0M470.9 95.5h0M478.1 79.1h0M467.3 69.1h0M472.5 78.3h0M479.5 86.2h0M470.3 73.2h0M473.3 72.8h0M463.5 86.8h0M471.5 88.9h0M468.2 83.5h0M464.6 78.7h0M464.6 88.9h0M469.8 90.3h0M467.9 70.7h0M475.6 76.6h0M471.3 85.8h0M474.8 77.1h0M474.8 85.3h0M469.3 72.4h0M468.2 92.5h0M466.1 81.4h0M466.4 95.8h0M476.3 88.1h0M473.4 89.4h0M480.0 81.6h0M465.4 89.8h0M479.7 77.9h0M465.6 81.6h0M477.0 75.2h0M466.8 86.3h0M480.1 82.1h0M466.9 84.3h0M471.0 99.4h0M473.8 91.9h0M478.4 89.5h0M477.0 91.7h0M468.3 69.3h0M468.9 88.8h0M477.7 70.9h0M473.5 94.3h0M473.7 81.1h0M474.2 96.1h0M471.2 87.7h0M467.7 94.6h0M470.9 97.3h0M468.1 86.9h0M472.5 77.5h0M474.4 85.7h0M471.8 96.8h0M478.7 87.8h0M472.8 66.9h0M475.2 89.6h0M468.8 82.7h0M476.2 73.1h0M468.3 97.2h0M477.1 92.6h0M470.9 94.8h0M475.7 79.7h0M477.7 91.2h0M476.8 71.1h0M474.5 88.5h0M475.3 95.3h0M472.6 68.2h0M465.9 70.0h0M469.2 92.4h0M469.9 72.8h0M472.6 85.9h0M474.1 78.4h0M464.8 76.3h0M475.8 80.1h0M464.6 73.8h0M467.0 78.8h0M476.4 71.2h0M466.9 77.9h0M478.0 90.7h0M467.1 75.7h0M470.4 90.5h0M468.9 77.1h0M476.2 82.9h0M469.2 79.3h0M475.6 69.3h0M466.4 95.9h0M479.3 84.1h0M472.1 83.3h0M479.7 84.8h0M473.1 97.8h0M470.5 98.5h0M468.5 95.2h0M469.2 76.6h0M471.5 73.7h0M472.1 72.5h0M471.5 75.7h0M472.4 80.8h0M470.0 66.7h0M466.2 85.7h0M465.6 89.9h0M474.0 85.7h0M479.6 84.3h0M476.3 71.5h0M472.6 85.7h0M474.1 77.3h0M465.4 91.7h0M473.5 84.5h0M472.1 80.7h0M470.8 77.3h0M474.8 82.9h0M464.0 79.1h0M478.5 76.6h0M464.9 82.5h0M471.1 92.4h0M465.2 91.8h0M467.7 71.6h0M473.2 80.3h0M473.0 76.2h0M478.2 77.0h0M465.1 80.0h0M466.1 85.6h0M465.2 81.0h0M475.5 79.6h0M467.0 92.7h0M474.5 85.3h0M464.7 93.6h0M466.8 70.5h0M474.6 72.6h0M479.6 77.1h0M468.7 70.1h0M474.1 71.1h0M474.2 70.4h0M474.2 69.7h0M464.4 73.1h0M478.8 77.9h0M474.8 77.8h0M473.6 83.2h0M477.6 94.3h0M479.1 82.3h0M468.1 71.8h0M475.4 92.2h0M478.8 74.2h0M473.0 84.9h0M468.1 81.4h0M467.7 89.2h0M469.4 99.5h0M472.0 97.1h0M477.3 89.8h0M467.8 89.9h0M474.3 87.0h0M470.7 81.5h0M470.1 88.8h0M471.9 76.0h0M477.3 78.4h0M475.5 76.3h0M470.9 66.2h0M473.1 67.0h0M477.0 89.9h0M475.0 81.8h0M467.1 78.6h0M470.1 82.3h0M468.2 70.7h0M473.6 92.7h0M463.2 86.1h0M475.1 89.6h0M478.6 75.3h0M466.0 83.0h0M476.3 93.2h0M476.7 81.1h0M464.6 75.6h0M471.6 75.0h0M472.7 76.6h0M470.8 79.4h0M466.4 86.6h0M470.1 97.3h0M477.2 86.7h0M465.7 72.0h0M476.7 91.3h0M467.1 92.1h0M476.3 75.3h0M473.0 81.1h0M474.5 71.3h0M472.8 90.0h0M473.9 81.2h0M473.3 87.2h0M474.6 79.6h0M471.4 69.6h0M476.1 81.3h0M476.3 82.1h0M465.9 81.3h0M468.2 98.4h0M475.4 78.8h0M469.6 91.6h0M469.3 90.4h0M467.0 79.0h0M474.5 90.2h0M463.8 87.2h0M477.1 95.8h0M466.2 86.1h0M478.3 74.3h0M474.0 80.3h0M477.4 79.9h0M470.3 67.8h0M471.4 77.9h0M463.6 90.5h0M475.9 76.4h0M475.6 92.0h0M475.8 97.3h0M477.7 94.0h0M468.1 87.2h0M477.0 87.2h0M469.3 69.0h0M473.9 93.5h0M468.3 67.7h0M467.9 80.0h0M468.4 67.3h0M469.5 70.2h0M473.1 70.0h0M464.3 84.9h0M467.4 79.2h0M471.5 94.3h0M467.4 82.9h0M478.2 91.1h0M476.4 80.2h0M474.5 80.2h0M478.9 90.2h0M476.6 83.7h0M464.7 93.2h0M465.7 81.1h0M464.5 84.8h0M467.4 95.9h0M467.0 74.5h0M464.6 92.7h0M464.9 91.5h0M479.6 86.2h0M466.2 76.1h0M474.2 86.0h0M473.8 77.5h0M468.2 83.9h0M467.6 92.8h0M467.0 68.9h0M476.4 74.7h0M474.3 92.7h0M469.1 86.3h0M476.8 81.3h0M474.0 77.5h0M466.9 90.3h0M467.6 91.8h0M474.9 68.0h0M476.3 88.4h0M477.6 93.8h0M469.9 81.5h0M466.8 78.8h0M464.7 76.9h0M472.1 71.7h0M473.3 79.8h0M467.2 89.0h0M468.5 94.2h0M476.5 69.5h0M471.6 91.3h0M473.4 79.4h0M469.5 68.7h0M475.4 72.0h0M468.1 75.4h0M475.8 89.6h0M470.4 73.5h0M464.3 83.3h0M474.8 97.5h0M475.4 88.6h0M470.8 99.2h0M475.5 90.8h0M475.6 92.0h0M474.0 75.8h0M474.0 81.5h0M475.4 82.8h0M467.4 79.9h0M466.2 78.5h0M477.3 87.4h0M477.4 93.6h0M472.2 72.9h0M464.6 76.6h0M467.4 79.5h0M471.6 71.2h0M472.4 78.7h0M469.4 67.4h0M476.7 83.7h0M464.7 79.3h0M474.9 72.1h0M474.1 72.2h0M475.6 80.4h0M463.6 81.1h0M465.5 81.4h0M474.7 84.0h0M468.7 82.6h0M465.8 78.3h0M477.3 76.7h0M475.0 77.1h0M475.4 86.1h0M476.5 95.1h0M466.1 92.5h0M472.1 76.7h0M475.5 96.2h0M471.8 79.0h0M464.8 74.4h0M477.3 72.2h0M469.8 88.0h0M464.3 92.7h0M479.3 89.0h0M467.8 82.2h0M472.6 69.4h0M465.5 82.0h0M468.2 82.1h0M474.9 79.1h0M471.9 75.3h0M468.7 95.8h0M477.8 78.6h0M470.1 66.5h0M470.0 91.9h0M473.0 94.4h0M469.1 73.7h0M466.1 82.5h0M466.0 75.4h0M476.9 93.9h0M472.2 69.0h0M473.4 78.6h0M467.5 87.3h0M469.2 95.7h0M479.1 80.7h0M479.6 80.5h0M475.2 90.2h0M465.7 80.1h0M469.7 84.4h0M470.3 95.0h0M466.7 81.9h0M468.4 72.3h0M466.9 92.8h0M470.2 89.6h0M473.1 79.5h0M467.4 71.0h0M468.9 96.6h0M476.4 97.0h0M466.8 91.0h0M473.6 81.4h0M472.7 78.9h0M473.7 99.2h0M465.6 74.0h0M475.1 83.2h0M476.3 76.9h0M475.1 80.3h0M473.1 97.7h0M467.4 95.1h0M468.8 98.5h0M474.3 95.7h0M469.2 73.1h0M465.5 94.3h0M476.9 83.3h0M472.9 97.3h0M469.3 76.2h0M470.1 74.5h0M478.3 84.4h0M467.0 80.2h0M466.2 70.9h0M467.4 73.7h0M466.6 69.7h0M472.8 70.1h0M468.1 94.1h0M475.2 73.3h0M467.9 85.7h0M476.3 86.7h0M466.7 69.9h0M467.5 94.7h0M466.4 71.8h0M467.5 90.8h0M467.5 83.1h0M464.1 77.8h0M470.0 72.4h0M469.3 97.4h0M470.4 79.1h0M472.1 93.0h0M473.3 69.7h0M472.5 99.3h0M475.0 86.3h0M480.0 87.0h0M465.6 74.9h0M469.8 89.8h0M470.5 82.1h0M468.3 98.2h0M464.8 88.2h0M476.6 72.5h0M476.5 77.9h0M474.0 84.3h0M477.3 79.2h0M464.4 82.6h0M471.2 74.1h0M479.3 75.9h0M474.4 96.8h0M470.6 84.6h0M475.1 77.0h0M463.2 81.0h0M477.6 74.2h0M475.6 70.0h0M475.3 82.9h0M467.1 69.5h0M478.0 88.6h0M476.1 76.8h0M474.4 95.9h0M473.9 90.0h0M465.8 94.8h0M472.2 87.6h0M474.4 89.8h0M466.7 72.0h0M476.3 77.1h0M470.8 98.9h0M465.9 94.0h0M466.9 72.1h0M469.9 92.7h0M465.7 83.5h0M475.8 77.9h0M475.1 89.4h0M470.6 82.6h0M472.5 91.4h0M472.6 69.0h0M473.2 95.1h0M473.4 73.9h0M467.4 88.6h0M474.9 80.0h0M469.9 86.6h0M468.0 83.3h0M476.9 91.3h0M470.1 99.1h0M465.2 90.1h0M475.5 76.8h0M465.8 76.4h0M472.7 77.2h0M473.0 79.1h0M473.4 85.3h0M468.9 94.7h0M474.8 71.7h0M471.6 76.3h0M463.6 76.5h0M468.8 86.6h0M465.2 83.1h0M478.6 84.3h0M472.6 85.2h0M468.7 90.0h0M475.6 92.6h0M472.4 96.9h0M474.0 69.8h0M472.3 69.3h0M471.2 78.4h0M469.6 81.3h0M478.7 75.6h0M471.9 89.5h0M467.6 76.0h0M464.4 90.4h0M473.2 81.7h0M467.0 96.1h0M472.0 96.7h0M472.1 72.5h0M473.1 75.3h0M470.3 71.0h0M473.2 67.9h0M472.9 90.1h0M468.0 77.8h0M465.4 80.2h0M478.2 74.8h0M467.0 89.6h0M471.7 93.9h0M468.5 98.6h0M465.1 82.1h0M479.3 81.4h0M469.2 69.8h0M470.3 70.6h0M465.8 85.3h0M465.8 91.3h0M478.8 76.5h0M468.3 85.0h0M474.7 89.3h0M472.3 75.3h0M473.9 97.6h0M467.6 89.2h0M467.0 75.6h0M474.6 72.4h0M480.1 83.7h0M471.2 82.2h0M474.0 88.5h0M465.9 71.4h0M466.8 76.0h0M466.2 81.9h0M463.9 90.4h0M468.7 81.6h0M472.6 82.4h0M466.5 96.0h0M463.7 85.8h0M475.4 93.0h0M468.0 88.6h0M478.9 87.8h0M474.4 79.4h0M468.3 92.2h0M474.9 80.3h0M475.2 91.1h0M471.1 81.9h0M466.7 76.1h0M468.4 73.3h0M473.9 66.8h0M476.3 87.7h0M471.1 70.6h0M474.9 84.1h0M470.0 91.6h0M473.9 76.3h0M463.7 75.8h0M474.4 80.4h0M476.1 72.6h0M464.4 90.2h0M469.8 99.2h0M473.6 96.7h0M475.1 84.9h0M469.7 67.1h0M473.7 71.5h0M477.6 86.6h0M463.2 83.8h0M472.0 81.1h0M466.7 71.9h0M464.9 90.4h0M478.3 78.6h0M468.1 86.5h0M468.3 98.0h0M467.2 83.1h0M468.6 90.9h0M465.2 92.7h0M463.1 83.3h0M475.5 87.1h0M466.7 75.9h0M464.5 75.2h0M470.0 70.9h0M471.7 91.1h0M476.7 85.6h0M469.7 70.0h0M466.4 93.6h0M467.5 77.6h0M471.0 90.3h0M467.0 95.2h0M471.1 92.3h0M467.1 83.4h0M468.7 75.7h0M471.9 91.1h0M470.2 88.7h0M466.2 85.5h0M470.2 76.0h0M466.7 93.0h0M474.1 85.1h0M466.3 81.8h0M463.3 87.7h0M477.5 82.8h0M464.2 75.3h0M475.5 85.3h0M466.7 71.2h0M473.7 85.5h0M465.5 94.9h0M479.9 86.6h0M465.6 74.6h0M473.3 89.8h0M478.7 77.9h0M474.2 97.3h0M478.5 80.3h0M478.1 75.3h0M467.1 82.0h0M463.9 86.4h0M468.3 88.2h0M471.5 70.9h0M473.6 92.9h0M469.0 89.2h0M475.7 86.1h0M464.1 90.1h0M472.3 86.9h0M476.9 77.2h0M465.7 86.6h0M472.0 88.6h0M471.1 87.9h0M474.0 93.1h0M476.0 88.4h0M475.7 85.8h0M470.6 74.6h0M474.8 88.0h0M475.3 71.6h0M480.0 79.6h0M475.7 78.2h0M474.0 92.6h0M473.5 69.3h0M467.5 77.6h0M474.5 81.0h0M469.6 96.2h0M467.4 76.8h0M471.1 82.3h0M473.4 92.1h0M464.8 73.6h0M471.2 79.1h0M474.4 68.0h0M475.8 72.5h0M479.4 85.6h0M471.9 70.3h0M468.2 95.8h0M472.3 67.1h0M473.6 88.7h0M469.4 87.0h0M466.0 90.1h0M469.5 71.9h0M466.8 74.8h0M473.6 73.6h0M480.2 83.6h0M470.0 95.9h0M470.9 69.8h0M471.6 85.9h0M474.1 75.6h0M469.8 91.4h0M467.1 68.3h0M474.6 85.1h0M476.9 76.9h0M477.2 92.4h0M465.6 90.1h0M465.6 92.5h0M469.8 92.6h0M468.0 81.5h0M467.4 81.8h0M473.3 70.9h0M477.7 80.9h0M473.3 72.7h0M470.1 66.9h0M473.3 93.2h0M472.5 90.6h0M478.3 84.0h0M477.1 90.2h0M473.1 68.3h0M477.7 87.4h0M471.4 84.5h0M466.9 90.9h0M473.6 89.1h0M469.2 90.0h0M471.4 97.9h0M464.2 92.0h0M475.1 97.3h0M475.7 84.3h0M476.3 77.0h0M471.1 67.2h0M472.5 67.5h0M471.4 87.1h0M475.8 79.7h0M474.9 71.7h0M468.2 87.1h0M471.2 85.4h0M472.6 75.3h0M477.9 84.6h0M464.8 76.7h0M476.6 72.2h0M477.1 76.3h0M477.6 77.0h0M465.8 88.3h0M479.3 84.5h0M467.3 94.1h0M470.6 96.9h0M464.1 75.4h0M471.0 77.2h0M473.2 82.6h0M468.8 94.2h0M467.7 91.6h0M478.7 91.4h0M473.9 74.8h0M464.3 83.1h0M472.3 97.1h0M467.2 82.9h0M470.7 83.1h0M473.8 73.0h0M472.0 90.6h0M467.7 82.7h0M465.9 86.9h0M474.5 87.2h0M475.8 92.7h0M471.9 96.3h0M466.0 87.6h0M465.3 78.6h0M471.4 75.4h0M477.1 76.1h0M478.3 91.5h0M479.5 80.4h0M469.0 85.9h0M472.5 73.5h0M467.8 95.5h0M470.7 70.0h0M469.3 73.3h0M479.5 84.9h0M477.3 71.4h0M477.9 86.5h0M467.1 83.4h0M473.3 99.3h0M466.4 76.6h0M473.6 92.1h0M469.1 79.2h0M472.6 66.6h0M465.4 75.2h0M472.7 79.1h0M468.7 87.9h0M467.4 68.8h0M469.2 84.5h0M477.7 75.9h0M477.0 90.2h0M475.7 74.2h0M478.8 84.2h0M474.6 75.2h0M477.5 89.9h0M468.8 68.0h0M476.8 90.7h0M472.7 70.9h0M472.7 96.1h0M474.9 86.1h0M475.0 75.8h0M464.9 76.3h0M475.3 72.5h0M472.3 77.4h0M478.3 91.8h0M476.1 89.2h0M470.5 74.8h0M473.4 77.6h0M475.1 97.8h0M477.2 73.5h0M476.3 84.6h0M471.9 75.6h0M465.9 71.7h0M469.0 87.3h0M466.8 91.3h0M469.0 96.0h0M463.1 85.5h0M464.2 83.0h0M473.0 87.8h0M477.8 84.0h0M463.2 80.3h0M473.2 91.2h0M473.6 85.9h0M471.5 87.1h0M476.4 95.2h0M477.1 70.7h0M470.0 94.2h0M468.6 75.5h0M477.0 83.7h0M469.5 76.9h0M477.1 79.8h0M471.7 71.3h0M472.1 70.6h0M469.0 85.7h0M462.9 85.4h0M477.2 75.2h0M472.1 95.8h0M463.5 82.5h0M471.2 79.3h0M468.0 94.1h0M466.2 84.8h0M478.4 86.0h0M468.0 68.0h0M472.7 86.9h0M471.3 90.1h0M472.3 92.9h0M470.2 70.8h0M465.0 92.1h0M479.0 82.4h0M473.5 71.0h0M474.9 79.6h0M469.1 71.9h0M472.2 94.2h0M470.2 88.1h0M466.0 95.3h0M473.9 97.9h0M464.8 85.8h0M472.6 74.8h0M464.9 81.2h0M474.0 91.4h0M470.7 69.4h0M473.2 82.3h0M464.8 85.1h0M475.6 92.9h0M470.5 66.8h0M465.0 79.9h0M474.3 69.0h0M468.2 78.1h0M476.0 73.9h0M476.5 83.9h0M466.4 69.3h0M464.6 73.1h0M472.3 74.7h0M472.9 96.2h0M469.5 80.7h0M470.8 95.5h0M471.8 66.1h0M474.4 86.1h0M475.6 95.1h0M477.4 78.9h0M470.8 66.1h0M471.4 93.9h0M468.4 97.3h0M465.3 88.3h0M472.3 98.1h0M476.7 95.1h0M478.5 80.4h0M472.7 92.8h0M471.4 69.9h0M469.9 68.2h0M470.8 67.7h0M469.2 95.8h0M472.5 94.3h0M469.6 79.7h0M474.5 82.8h0M466.1 91.8h0M472.6 93.5h0M464.3 82.3h0M473.8 94.4h0M468.3 91.8h0M471.1 75.3h0M471.9 98.6h0M467.2 85.8h0M467.2 72.4h0M473.0 87.6h0M476.8 96.1h0M474.9 81.5h0M475.7 74.1h0M477.4 72.9h0M467.7 79.4h0M464.4 82.6h0M475.9 89.9h0M472.0 99.6h0M473.9 87.0h0M467.7 81.5h0M465.5 87.9h0M474.9 95.4h0M476.9 90.5h0M468.1 79.7h0M475.4 92.2h0M473.7 83.3h0M472.6 96.8h0M473.1 73.8h0M466.8 69.1h0M466.0 81.8h0M471.8 86.8h0M470.6 83.4h0M476.5 83.6h0M469.4 90.7h0M463.0 85.1h0M478.0 91.2h0M466.8 78.0h0M467.3 86.1h0M473.7 84.5h0M473.4 87.8h0M463.9 84.1h0M473.2 80.6h0M478.8 88.3h0M466.4 78.9h0M469.9 96.7h0M466.2 91.6h0M474.1 80.4h0M466.3 72.2h0M469.7 98.6h0M468.7 84.7h0M480.1 81.0h0M476.8 71.7h0M465.4 88.9h0M464.3 80.4h0M469.7 83.9h0M474.0 89.6h0M479.7 79.7h0M472.6 98.7h0M471.2 93.7h0M463.7 87.8h0M467.5 94.6h0M474.0 98.8h0M471.2 86.1h0M467.5 83.7h0M471.8 90.6h0M468.1 85.5h0M478.5 90.7h0M476.6 94.4h0M462.7 94.9h0M474.2 90.9h0M464.1 89.1h0M469.3 87.1h0M470.1 98.3h0M469.5 86.9h0M478.7 94.2h0M476.1 93.7h0M463.5 90.1h0M476.2 91.1h0M470.8 83.7h0M477.4 84.1h0M478.8 90.4h0M472.3 84.1h0M462.7 86.2h0M476.3 89.0h0M471.3 87.3h0M474.2 87.3h0M474.3 84.8h0M474.3 84.7h0M470.7 85.8h0M477.1 85.3h0M474.5 92.5h0M473.1 82.4h0M467.5 83.5h0M465.5 96.1h0M462.2 93.6h0M476.6 95.5h0M467.7 97.3h0M468.8 81.9h0M464.0 87.7h0M479.0 85.6h0M470.2 99.0h0M471.0 93.9h0M470.2 86.1h0M476.5 88.2h0M464.4 97.1h0M467.7 92.3h0M474.9 91.6h0M471.4 100.0h0M477.4 85.3h0M477.4 88.9h0M466.6 90.2h0M471.5 88.6h0M471.6 95.6h0M468.0 86.5h0M478.1 85.1h0M466.5 95.8h0M466.1 84.6h0M470.2 82.2h0M474.7 95.4h0M470.2 94.9h0M463.7 85.3h0M470.0 98.6h0M475.3 98.1h0M474.0 95.9h0M471.2 86.5h0M461.5 92.4h0M469.4 89.6h0M468.0 87.0h0M466.9 97.5h0M465.7 82.2h0M461.7 92.9h0M476.6 94.2h0M465.6 89.2h0M468.8 90.0h0M467.4 82.1h0M477.9 88.0h0M473.6 91.0h0M464.4 84.2h0M467.8 80.7h0M466.4 90.5h0M463.8 93.2h0M469.0 83.7h0M463.3 88.0h0M467.7 91.7h0M465.5 82.2h0M466.5 86.6h0M477.0 94.2h0M467.6 93.8h0M473.7 87.4h0M475.5 98.2h0M465.7 89.3h0M464.5 82.6h0M476.9 96.4h0M472.7 97.1h0M467.4 96.7h0M469.2 89.0h0M476.3 96.3h0M471.3 81.8h0M467.5 83.0h0M473.3 81.5h0M470.9 96.9h0M464.8 88.4h0M475.7 83.3h0M464.3 92.7h0M463.8 86.7h0M467.4 92.1h0M470.2 85.5h0M467.7 86.9h0M470.6 81.0h0M479.8 88.1h0M472.2 80.3h0M464.2 86.7h0M470.3 98.9h0M467.2 89.7h0M475.6 88.1h0M479.7 89.1h0M474.2 93.8h0M468.7 86.5h0M476.7 90.9h0M477.0 95.5h0M464.0 97.2h0M471.9 91.0h0M466.1 83.5h0M461.8 90.1h0M464.0 96.0h0M475.9 82.3h0M465.8 96.3h0M470.7 99.2h0M469.2 96.2h0M477.7 91.1h0M469.3 82.7h0M466.6 84.7h0M465.0 93.4h0M473.8 82.3h0M468.7 93.4h0M472.4 98.9h0M478.3 91.7h0M472.4 94.0h0M465.2 91.8h0M466.3 98.0h0M464.7 92.2h0M478.8 93.1h0M476.4 91.0h0M466.3 81.1h0M465.4 93.2h0M472.6 80.3h0M473.8 84.9h0M466.5 95.0h0M466.7 91.1h0M471.3 81.2h0M472.3 92.1h0M473.4 81.7h0M466.0 95.2h0M470.6 99.3h0M463.2 91.6h0M464.9 82.2h0M474.1 83.9h0M472.5 85.7h0M479.4 92.1h0M475.1 98.1h0M465.9 97.8h0M477.3 92.8h0M465.9 91.7h0M469.3 90.4h0M462.0 88.7h0M466.0 96.6h0M470.9 96.6h0M464.7 86.2h0M478.4 93.1h0M474.9 91.2h0M470.5 88.6h0M471.6 92.9h0M475.6 98.4h0M470.6 94.6h0M462.1 85.5h0M470.6 91.7h0M466.5 83.0h0M466.1 84.4h0M465.0 94.0h0M470.6 89.9h0M470.8 82.5h0M475.3 96.0h0M471.6 99.1h0M477.2 95.8h0M468.5 81.3h0M471.3 92.3h0M462.0 92.8h0M476.2 94.0h0M476.8 83.5h0M470.3 80.5h0M469.1 87.6h0M468.6 83.9h0M466.1 95.4h0M473.2 97.2h0M479.6 91.1h0M469.0 91.0h0M476.7 85.8h0M477.1 91.2h0M471.7 93.4h0M462.7 88.6h0M477.8 93.8h0M469.6 93.2h0M470.5 86.8h0M472.0 96.8h0M467.4 99.2h0M468.8 98.9h0M472.6 97.8h0M472.6 84.1h0M479.3 86.9h0M465.0 86.3h0M470.4 93.7h0M470.8 97.7h0M469.4 87.2h0M468.8 80.9h0M473.2 83.5h0M475.8 96.5h0M473.3 98.8h0M465.9 97.5h0M462.9 93.9h0M473.8 81.8h0M475.5 93.2h0M470.0 91.6h0M474.1 93.3h0M473.1 82.4h0M469.2 84.5h0M473.8 80.7h0M468.3 95.1h0M462.6 88.7h0M473.0 87.7h0M476.9 90.9h0M473.1 81.5h0M471.5 80.5h0M468.2 91.1h0M471.8 81.1h0M471.0 80.2h0M471.1 91.4h0M478.9 88.2h0M472.3 89.2h0M470.2 98.2h0M479.6 87.2h0M467.8 89.2h0M462.3 89.4h0M471.0 86.7h0M476.8 86.1h0M470.3 95.9h0M475.6 95.2h0M474.9 82.6h0M466.6 91.6h0M465.6 88.3h0M467.3 90.4h0M474.9 85.6h0M468.0 88.8h0M470.0 88.4h0M471.4 81.5h0M478.5 90.2h0M469.0 89.4h0M464.4 85.1h0M476.7 95.0h0M473.3 95.1h0M475.2 92.2h0M466.6 92.5h0M471.7 82.3h0M470.6 93.7h0M475.4 84.7h0M476.0 92.6h0M466.7 95.9h0M471.4 98.7h0M474.8 88.7h0M473.1 94.8h0M474.4 84.4h0M465.1 89.3h0M469.5 98.2h0M467.4 91.9h0M476.7 97.0h0M463.3 83.9h0M468.8 86.9h0M464.3 92.5h0M472.0 84.3h0M471.1 84.2h0M468.6 86.0h0M470.6 82.7h0M462.8 93.9h0M473.1 94.0h0M462.2 88.4h0M462.5 92.1h0M475.0 96.4h0M467.5 81.1h0M463.6 92.7h0M466.7 82.0h0M473.9 99.1h0M471.4 99.2h0M476.5 94.2h0M474.8 87.0h0M467.8 82.8h0M467.6 97.9h0M478.1 92.7h0M467.4 95.4h0M472.0 81.5h0M474.9 86.6h0M472.2 93.1h0M478.8 85.5h0M473.2 99.1h0M476.5 91.4h0M475.2 95.5h0M471.7 90.1h0M471.0 99.7h0M471.2 84.1h0M463.1 91.0h0M471.4 86.5h0M473.5 92.0h0M470.4 82.3h0M475.6 96.2h0M466.4 98.9h0M477.8 86.6h0M469.6 82.2h0M469.6 82.3h0M467.5 85.8h0M466.6 94.5h0M465.3 84.3h0M467.3 91.6h0M471.8 84.7h0M468.7 86.4h0M471.9 88.8h0M473.8 84.3h0M473.6 84.8h0M476.4 94.2h0M476.4 90.8h0M468.6 91.8h0M478.8 86.9h0M469.0 88.8h0M469.3 89.3h0M471.1 88.7h0M464.9 83.4h0M474.9 93.9h0M461.4 91.6h0M474.1 85.8h0M472.6 84.0h0M477.9 93.2h0M479.7 89.9h0M461.5 88.7h0M469.1 95.9h0M463.4 93.5h0M472.7 89.1h0M476.2 85.4h0M465.8 96.3h0M467.3 86.0h0M477.4 93.5h0M471.9 84.7h0M477.9 94.0h0M470.0 87.4h0M467.7 96.6h0M475.8 98.0h0M475.2 96.2h0M479.6 88.3h0M472.1 99.6h0M462.4 91.6h0M475.2 97.4h0M462.4 90.5h0M473.4 83.5h0M470.5 98.9h0M468.6 81.3h0M465.1 97.3h0M471.1 90.6h0M471.2 88.2h0M466.9 95.7h0M465.3 83.5h0M476.4 88.1h0M469.5 83.9h0M469.8 91.2h0M465.0 84.8h0M470.4 80.2h0M472.1 97.7h0M475.0 88.6h0M471.6 97.9h0M476.1 91.4h0M464.9 88.8h0M468.3 90.4h0M475.0 97.0h0M470.2 90.0h0M469.3 99.1h0M470.8 89.3h0M462.1 90.5h0M464.9 89.1h0M474.0 94.6h0M476.8 87.7h0M470.4 94.3h0M466.8 87.7h0M471.8 81.7h0M461.5 88.8h0M469.0 93.4h0M467.4 85.9h0M468.6 80.3h0M475.6 96.3h0M470.2 99.6h0M472.9 95.7h0M478.7 91.2h0M464.7 84.2h0M478.7 89.9h0M469.6 96.8h0M475.3 87.9h0M466.2 94.0h0M473.6 88.0h0M472.7 91.6h0M468.1 95.6h0M475.5 82.4h0M475.1 86.9h0M472.8 82.9h0M466.9 81.7h0M469.4 93.0h0M476.3 89.4h0M465.3 87.3h0M473.9 82.3h0M463.2 95.7h0M471.3 89.7h0M465.5 84.9h0M470.4 89.5h0M473.8 94.3h0M465.3 93.3h0M474.6 93.0h0M466.8 95.1h0M465.3 87.5h0M468.8 96.8h0M475.2 90.2h0M465.1 92.6h0M470.7 85.3h0M466.0 94.5h0M471.9 81.7h0M469.2 91.1h0M461.5 86.9h0M469.3 93.6h0M477.7 94.6h0M471.5 84.7h0M468.0 89.8h0M472.8 81.5h0M472.0 82.7h0M471.4 85.0h0M466.2 94.2h0M468.1 99.0h0M471.7 98.3h0M465.6 91.0h0M466.8 87.1h0M475.1 84.3h0M473.8 90.0h0M469.9 85.3h0M462.7 86.3h0M468.6 98.3h0M469.2 89.2h0M469.2 96.5h0M474.6 85.4h0M471.6 98.5h0M465.3 93.5h0M471.2 94.7h0M472.2 99.0h0M470.9 85.6h0M472.7 97.7h0M468.3 94.8h0M477.7 92.1h0M473.8 87.8h0M477.6 84.4h0M466.4 94.3h0M477.4 86.0h0M471.6 98.6h0M470.4 96.8h0M464.0 87.5h0M471.2 93.4h0M476.3 85.9h0M477.3 88.7h0M477.0 96.6h0M465.2 91.9h0M467.2 91.8h0M476.5 89.6h0M478.9 89.2h0M471.4 90.4h0M472.2 89.5h0M464.8 82.0h0M463.5 91.3h0M463.1 93.3h0M474.5 84.6h0M473.4 93.2h0M464.3 94.9h0M474.3 92.9h0M465.4 94.0h0M471.9 85.6h0M475.0 81.7h0M474.3 94.9h0M470.6 98.3h0M469.3 85.9h0M474.0 96.9h0M475.4 91.7h0M472.7 87.5h0M475.8 90.8h0M472.4 88.4h0M464.5 85.5h0M464.9 94.6h0M467.8 98.8h0M469.3 91.0h0M475.3 86.1h0M462.2 85.3h0M475.7 89.9h0M468.9 74.4h0M467.8 79.9h0M471.5 83.3h0M476.7 83.1h0M479.9 93.0h0M469.2 91.5h0M458.0 96.0h0M473.4 87.5h0M463.6 105.9h0M470.3 82.8h0M476.8 82.3h0M467.5 89.7h0M466.7 90.5h0M472.1 93.8h0M465.8 94.8h0M472.9 101.2h0M468.4 100.1h0M474.8 90.9h0M468.1 88.9h0M474.7 76.8h0M466.1 77.3h0M478.4 85.4h0M475.9 86.5h0M472.0 85.9h0M469.6 94.6h0M472.3 86.0h0M465.0 86.7h0M468.3 79.6h0M476.4 74.5h0M470.6 89.5h0M476.9 79.5h0M473.0 86.5h0M466.2 65.4h0M462.4 89.2h0M472.0 72.4h0M468.5 80.5h0M469.8 83.7h0M481.9 77.2h0M472.2 77.3h0M468.5 76.3h0M470.4 79.2h0M473.1 85.8h0M467.3 100.6h0M466.0 87.1h0M481.7 77.8h0M477.7 96.3h0M473.1 67.9h0M478.2 84.8h0M468.9 95.1h0M468.1 93.2h0M468.9 88.6h0M466.4 80.6h0M467.2 77.8h0M472.4 82.5h0M472.4 95.1h0M471.0 67.8h0M470.1 84.7h0M476.3 93.0h0M476.0 82.0h0M474.5 71.5h0M477.6 87.8h0M473.9 80.7h0M471.8 78.2h0M474.2 72.5h0M476.1 88.7h0M481.0 83.7h0M471.1 85.7h0M471.7 83.1h0M466.3 74.4h0M468.8 81.5h0M465.9 73.9h0M470.2 90.4h0M470.6 89.9h0M476.1 90.7h0M469.5 80.5h0M462.7 78.1h0M473.7 74.6h0M477.9 96.4h0M469.8 92.0h0M464.8 74.9h0M469.8 84.1h0M470.6 76.5h0M480.7 86.5h0M472.8 89.9h0M472.3 82.0h0M468.9 69.8h0M478.5 76.0h0M463.7 77.0h0M464.0 101.3h0M473.2 96.2h0M478.3 88.9h0M474.2 77.7h0M471.1 78.8h0M471.7 77.9h0M477.4 90.6h0M471.0 69.5h0M474.7 91.7h0M471.2 73.1h0M473.5 93.1h0M462.5 88.9h0M463.0 84.7h0M479.7 84.8h0M473.8 81.2h0M471.5 104.4h0M477.8 81.3h0M469.7 84.2h0M481.8 85.8h0M476.7 80.8h0M465.5 95.5h0M471.1 77.2h0M468.3 78.2h0M468.7 70.7h0M477.1 87.3h0M476.1 81.0h0M473.1 85.4h0M477.0 91.1h0M473.2 78.4h0M465.9 77.1h0M468.5 79.3h0M465.7 98.4h0M472.8 66.6h0M466.4 72.4h0M472.6 93.2h0M466.9 89.4h0M470.2 93.9h0M477.9 86.7h0M474.9 84.0h0M469.8 74.0h0M473.0 83.4h0M469.7 83.3h0M470.6 75.0h0M469.0 93.9h0M470.4 96.0h0M466.1 72.3h0M472.1 90.7h0M468.4 89.4h0M475.9 93.2h0M471.0 83.6h0M463.8 84.2h0M472.8 96.2h0M465.6 76.7h0M466.8 91.7h0M459.7 74.7h0M481.1 89.6h0M465.3 83.5h0M475.4 88.7h0M470.5 77.2h0M475.4 83.9h0M475.3 87.4h0M469.3 96.4h0M469.2 87.7h0M468.6 82.0h0M470.3 78.3h0M472.6 95.3h0M480.1 96.3h0M470.7 96.5h0M473.4 99.4h0M465.7 96.7h0M468.7 93.9h0M469.3 91.8h0M470.2 67.9h0M467.0 81.9h0M471.6 64.8h0M465.9 77.7h0M470.5 85.9h0M467.7 71.0h0M472.9 81.2h0M475.6 79.5h0M474.5 76.4h0M472.7 84.8h0M473.6 76.0h0M470.9 76.7h0M470.8 89.3h0M485.3 84.3h0M474.8 85.0h0M476.8 88.0h0M476.3 87.0h0M482.6 95.8h0M463.6 86.6h0M471.9 65.2h0M467.5 80.1h0M468.1 85.1h0M463.2 90.4h0M475.1 87.0h0M470.0 84.1h0M469.4 93.8h0M473.9 101.1h0M469.8 96.4h0M468.9 82.6h0M466.7 88.5h0M471.2 89.3h0M478.4 83.6h0M473.3 91.7h0M471.3 79.4h0M473.2 88.3h0M475.1 91.2h0M468.4 87.8h0M477.2 80.1h0M473.2 78.8h0M472.3 98.9h0M472.3 75.8h0M473.1 85.9h0M476.7 72.4h0M467.3 83.4h0M464.4 93.7h0M462.2 77.0h0M464.7 78.5h0M475.2 89.2h0M475.8 89.2h0M462.2 86.6h0M463.0 79.8h0M469.7 79.4h0M473.8 77.2h0M479.5 89.2h0M477.0 90.5h0M475.7 83.7h0M480.6 75.1h0M473.7 84.1h0M470.5 86.8h0M468.1 91.5h0M475.2 84.9h0M474.9 75.2h0M463.2 79.1h0M470.4 105.3h0M470.5 92.9h0M475.4 102.0h0M472.1 89.6h0M470.6 76.7h0M466.9 77.4h0M478.1 86.5h0M470.8 84.2h0M468.9 83.8h0M471.4 89.6h0M475.7 70.2h0M472.6 95.8h0M466.8 81.9h0M472.3 93.5h0M474.3 82.2h0M473.8 92.9h0M473.3 99.9h0M473.5 75.1h0M467.9 82.9h0M470.6 89.4h0M473.2 98.7h0M475.3 96.7h0M468.0 80.5h0M474.7 84.9h0M474.4 86.2h0M468.7 98.6h0M476.8 70.9h0M468.7 84.3h0M474.7 83.5h0M465.3 91.2h0M470.6 94.4h0M473.0 92.7h0M475.4 91.7h0M469.2 92.9h0M472.5 73.6h0M469.8 81.3h0M473.7 90.0h0M466.5 90.3h0M471.3 75.2h0M475.4 77.7h0M466.1 90.6h0M475.7 78.6h0M476.5 92.7h0M469.2 101.2h0M471.3 86.1h0M460.7 89.6h0M468.8 88.0h0M463.8 94.0h0M478.3 100.3h0M458.1 89.2h0M473.2 58.6h0M468.3 83.5h0M478.2 77.2h0M472.6 83.8h0M473.3 80.9h0M475.8 92.5h0M465.4 93.8h0M468.2 82.0h0M476.8 85.2h0M474.3 91.0h0M474.4 79.8h0M467.3 90.1h0M475.2 87.4h0M470.8 91.7h0M471.6 72.8h0M473.0 88.7h0M475.3 76.8h0M468.3 87.2h0M469.7 83.9h0M476.0 87.8h0M480.1 86.9h0M479.6 93.5h0M483.4 84.7h0M471.4 95.6h0M469.4 80.7h0M473.0 87.8h0M465.4 86.8h0M470.4 84.4h0M472.7 83.1h0M476.8 88.8h0M471.0 85.4h0M476.7 91.4h0M477.7 83.6h0M472.5 101.8h0M471.8 99.0h0M475.8 81.2h0M465.6 90.2h0M468.7 78.9h0M464.0 94.9h0M472.4 85.1h0M473.8 86.9h0M472.4 89.2h0M470.7 63.1h0M475.3 88.5h0M472.1 98.3h0M465.6 60.5h0M478.8 88.4h0M464.5 81.4h0M474.8 74.6h0M474.5 102.8h0M478.3 84.6h0M473.5 76.9h0M472.6 82.1h0M467.4 73.6h0M480.8 85.6h0M467.3 81.3h0M478.8 98.6h0M469.2 86.5h0M476.0 82.0h0M466.6 76.7h0M472.0 78.4h0M466.1 82.9h0M476.2 90.6h0M470.9 101.0h0M468.4 84.2h0M465.7 91.4h0M471.4 70.7h0M468.2 100.0h0M475.3 85.8h0M475.9 71.4h0M468.2 73.7h0M468.2 81.6h0M474.4 93.3h0M476.4 107.5h0M469.7 84.7h0M474.3 77.8h0M470.6 88.3h0M467.9 88.8h0M477.5 75.4h0M461.5 85.5h0M467.2 86.2h0M469.9 87.3h0M477.1 91.7h0M470.3 74.9h0M460.6 66.4h0M468.3 85.5h0M468.8 79.6h0M464.6 70.7h0M464.0 89.8h0M462.8 90.2h0M467.6 89.0h0M472.8 90.8h0M477.1 77.7h0M467.2 80.6h0M468.1 89.8h0M471.1 84.2h0M473.5 80.2h0M476.6 68.6h0M472.6 88.3h0M468.0 78.2h0M475.7 81.4h0M462.7 72.7h0M476.1 76.6h0M477.5 95.6h0M470.6 88.6h0M467.7 80.6h0M468.3 89.0h0M465.6 82.9h0M471.7 88.4h0M461.8 68.9h0M467.5 82.1h0M472.1 85.6h0M480.7 89.5h0M474.2 79.8h0M475.0 89.8h0M474.5 83.0h0M474.3 96.8h0M467.8 65.7h0M475.2 90.1h0M470.4 80.1h0M484.0 80.0h0M465.9 79.9h0M473.7 78.7h0M469.7 86.5h0M469.5 84.9h0M471.2 74.9h0M471.8 74.1h0M475.7 76.0h0M470.3 68.5h0M469.4 73.3h0M478.2 82.8h0M473.8 69.1h0M465.8 82.4h0M465.2 93.5h0M469.6 85.1h0M472.8 82.6h0M474.9 78.1h0M473.1 93.9h0M472.4 84.9h0M469.9 84.3h0M474.5 81.7h0M463.7 85.2h0M470.7 87.7h0M471.6 97.0h0M465.9 75.6h0M474.3 75.2h0M472.9 83.6h0M462.5 89.4h0M477.6 85.5h0M465.0 90.4h0M466.7 82.8h0M473.2 77.2h0M463.7 82.6h0M471.2 76.6h0M467.8 89.9h0M471.0 79.8h0M468.7 85.2h0M471.8 82.3h0M465.1 80.6h0M468.5 84.3h0M476.6 91.6h0M474.2 84.6h0M469.9 86.5h0M469.2 80.9h0M467.6 83.3h0M471.0 99.0h0M473.8 80.6h0M474.8 79.8h0M475.9 90.1h0M484.3 74.7h0M471.0 82.8h0M472.7 89.6h0M467.0 77.7h0M472.7 91.7h0M466.3 70.9h0M476.4 90.7h0M476.2 75.7h0M470.5 85.6h0M473.3 82.7h0M471.1 92.0h0M469.4 79.2h0M469.4 79.5h0M471.9 82.0h0M469.4 95.4h0M472.7 80.9h0M476.9 79.2h0M471.3 82.9h0M468.8 80.6h0M471.7 72.0h0M469.6 85.7h0M472.6 86.1h0M481.7 89.1h0M470.7 82.7h0M471.3 87.3h0M470.0 96.0h0M466.5 88.8h0M473.6 74.4h0M474.1 88.2h0M468.5 102.5h0M474.5 81.0h0M469.2 77.7h0M472.5 84.2h0M465.1 75.3h0M468.2 80.4h0M469.7 78.3h0M474.1 91.4h0M471.7 65.9h0M470.6 88.2h0M471.0 85.9h0M471.8 71.6h0M460.3 88.7h0M469.0 87.0h0M470.0 82.3h0M477.3 74.0h0M471.3 74.8h0M471.6 87.5h0M474.2 84.9h0M465.3 85.6h0M475.2 91.7h0M480.7 88.2h0M466.9 79.5h0M471.7 92.1h0M466.3 91.0h0M474.2 76.7h0M474.0 77.5h0M471.3 81.2h0M472.4 74.2h0M473.6 66.2h0M469.5 79.1h0M478.2 88.0h0M469.2 76.5h0M471.5 78.6h0M481.1 61.3h0M471.6 63.9h0M475.9 77.2h0M478.3 79.3h0M476.0 85.3h0M476.5 83.9h0M458.3 77.8h0M464.5 91.3h0M473.7 83.7h0M473.3 85.3h0M468.8 99.5h0M472.4 82.1h0M464.9 78.7h0M471.4 82.2h0M469.2 83.3h0M466.4 83.7h0M464.6 76.7h0M468.1 90.7h0M473.5 84.3h0M466.3 80.5h0M474.8 93.8h0M464.9 80.2h0M471.8 86.5h0M471.4 89.1h0M465.0 96.3h0M466.3 84.2h0M473.6 93.1h0M475.3 90.8h0M476.9 82.5h0M474.6 96.2h0M468.0 72.4h0M467.0 95.2h0M476.8 80.9h0M472.4 87.6h0M476.0 68.5h0M468.9 81.7h0M472.8 84.4h0M470.0 86.1h0M460.1 108.7h0M475.0 91.0h0M468.5 87.2h0M480.4 98.6h0M471.7 73.8h0M472.1 81.4h0M475.2 73.5h0M470.6 86.0h0M469.4 92.4h0M466.4 73.8h0M469.9 90.6h0M470.1 79.0h0M475.0 85.7h0M469.1 84.9h0M470.4 88.8h0M472.1 77.4h0M469.3 80.5h0M473.1 86.9h0M467.8 82.3h0M472.8 92.8h0M472.5 99.7h0M471.5 89.8h0M470.0 75.8h0M471.9 87.8h0M472.8 85.0h0M470.0 77.2h0M470.1 87.7h0M475.6 57.1h0M474.1 92.7h0M477.0 87.0h0M474.4 80.2h0M471.0 88.1h0M466.6 77.4h0M472.3 73.0h0M471.6 71.8h0M472.3 84.1h0M468.9 76.2h0M469.2 65.6h0M469.7 84.8h0M476.7 79.7h0M470.6 95.2h0M479.1 79.9h0M476.0 93.4h0M473.7 75.8h0M467.3 88.5h0M481.7 82.4h0M478.3 99.3h0M465.9 79.0h0M478.1 91.8h0M473.8 83.7h0M474.2 78.7h0M482.5 74.4h0M463.5 85.1h0M477.8 79.8h0M471.2 75.5h0M471.1 75.5h0M467.0 71.8h0M469.0 99.0h0M471.2 85.4h0M481.3 78.7h0M467.0 88.1h0M466.0 86.6h0M476.5 75.0h0M469.1 97.7h0M466.7 78.3h0M472.5 81.3h0M467.6 96.9h0M468.8 86.5h0M469.6 82.0h0M465.3 91.4h0M469.5 94.3h0M466.3 79.9h0M473.5 84.7h0M468.5 82.7h0M465.7 84.3h0M459.7 85.2h0M477.4 91.1h0M475.2 80.4h0M473.6 80.5h0M471.0 83.0h0M456.5 91.4h0M473.4 90.7h0M467.2 89.5h0M473.5 65.6h0M463.6 84.3h0M468.5 83.7h0M468.6 96.1h0M463.0 72.7h0M467.1 72.7h0M468.8 83.6h0M465.5 86.8h0M477.2 92.8h0M480.3 93.1h0M471.3 98.4h0M474.5 99.2h0M470.6 66.7h0M466.3 85.3h0M473.9 82.2h0M475.9 74.5h0M468.3 92.0h0M471.7 84.7h0M477.7 92.9h0M467.9 85.6h0M463.9 83.8h0M473.2 69.8h0M478.4 100.3h0M473.7 91.5h0M478.1 82.5h0M476.1 87.1h0M464.7 76.6h0M469.0 92.8h0M471.9 92.1h0M469.4 73.5h0M480.6 106.3h0M473.2 82.4h0M476.8 74.9h0M470.6 72.3h0M473.6 86.0h0M469.7 78.7h0M464.8 77.2h0M477.0 81.1h0M477.1 76.9h0M471.1 80.3h0M470.4 90.3h0M462.4 90.1h0M474.6 84.0h0M471.8 82.2h0M474.6 84.5h0M467.8 85.3h0M475.7 87.0h0M471.6 85.7h0M469.3 80.3h0M463.2 82.5h0M475.9 80.8h0M467.5 91.3h0M472.2 85.2h0M473.6 89.7h0M471.3 77.2h0M479.2 84.5h0M468.1 85.5h0M476.8 72.5h0M477.3 82.9h0M480.3 89.5h0M471.0 94.2h0M477.1 81.2h0M472.5 79.8h0M475.6 72.6h0M470.7 66.7h0M474.1 65.9h0M466.9 86.2h0M470.0 80.4h0M467.3 80.2h0M463.8 86.6h0M475.1 90.2h0M471.4 93.9h0M473.6 91.8h0M473.2 84.3h0M468.2 62.7h0M474.3 83.1h0M480.2 68.0h0M475.2 76.4h0M471.5 76.9h0M473.1 83.8h0M475.4 85.2h0M473.6 94.4h0M473.8 83.0h0M477.0 83.1h0M473.3 81.4h0M468.6 59.8h0M474.6 74.7h0M474.7 98.6h0M465.8 91.2h0M471.1 87.7h0M466.3 84.3h0M472.2 95.6h0M480.9 86.6h0M469.9 102.0h0M471.1 83.6h0M472.0 87.8h0M474.7 79.4h0M471.1 99.3h0M478.6 87.7h0M472.8 82.2h0M476.0 79.9h0M472.1 80.4h0M468.8 84.4h0M471.6 79.4h0M471.3 84.7h0M469.5 78.8h0M471.0 89.8h0M476.4 85.6h0M470.4 83.9h0M479.9 91.5h0M467.4 83.7h0M469.3 81.2h0M464.2 84.4h0M465.6 79.4h0M478.2 92.2h0M467.8 75.8h0M467.6 68.9h0M467.3 82.0h0M467.0 90.3h0M471.4 79.9h0M479.2 89.9h0M471.9 99.1h0M477.3 78.4h0M473.0 80.6h0M465.3 99.5h0M478.2 73.9h0M473.7 70.9h0M476.3 83.7h0M470.3 94.4h0M471.6 82.1h0M475.6 81.7h0M475.4 84.2h0M475.2 89.3h0M475.1 76.0h0M479.9 82.8h0M479.3 79.3h0M470.4 82.0h0M476.7 80.7h0M473.4 71.4h0M469.5 86.0h0M471.1 68.9h0M473.8 76.3h0M480.1 82.6h0M481.6 89.6h0M473.6 80.2h0M471.1 87.9h0M463.0 92.3h0M466.4 82.1h0M459.5 87.9h0M474.9 86.5h0M473.0 81.1h0M472.3 94.1h0M469.7 88.3h0M474.8 82.2h0M472.6 86.0h0M469.4 104.1h0M469.7 98.2h0M476.3 67.5h0M472.7 92.6h0M475.2 76.7h0M472.7 74.3h0M467.0 82.2h0M472.4 97.4h0M473.2 92.9h0M466.2 74.6h0M469.4 98.6h0M465.6 71.1h0M471.2 93.9h0M464.3 82.1h0M465.5 96.1h0M474.7 86.4h0M471.4 82.2h0M472.2 78.8h0M467.4 72.4h0M472.1 75.4h0M476.7 62.7h0M475.1 88.3h0M478.6 80.7h0M464.0 74.2h0M478.1 80.2h0M469.9 77.4h0M471.7 80.9h0M463.7 77.3h0M477.5 97.2h0M471.4 78.1h0M479.3 81.4h0M465.8 81.9h0M475.8 98.3h0M469.5 88.4h0M470.3 94.2h0M473.4 85.7h0M466.8 80.0h0M470.3 48.1h0M476.6 83.0h0M470.9 79.6h0M472.2 85.4h0M465.1 84.3h0M472.7 83.4h0M464.1 81.7h0M465.2 86.5h0M479.1 91.6h0M470.2 77.8h0M469.0 86.5h0M468.5 77.9h0M458.6 74.8h0M467.9 77.8h0M478.5 69.9h0M464.9 88.9h0M466.8 81.5h0M473.0 83.2h0M467.9 92.0h0M480.1 73.3h0M470.6 92.2h0M470.9 73.3h0M469.7 91.1h0M466.7 85.5h0M474.1 76.7h0M475.1 89.5h0M477.4 92.1h0M464.1 91.8h0M475.1 92.6h0M467.5 91.8h0M474.0 71.8h0M478.8 75.5h0M466.6 86.9h0M468.8 86.6h0M470.7 85.8h0M476.4 82.8h0M476.7 91.3h0M467.6 91.4h0M475.3 84.4h0M478.0 99.2h0M476.1 68.9h0M474.4 81.8h0M470.6 86.4h0M470.3 98.9h0M473.5 83.3h0M476.2 90.9h0M478.4 89.3h0M471.9 84.5h0M460.6 68.9h0M477.6 80.0h0M481.7 100.6h0M465.4 86.2h0M487.5 75.5h0M474.2 80.9h0M470.8 80.5h0M472.0 90.6h0M467.8 88.1h0M468.3 88.2h0M473.8 75.6h0M472.8 76.0h0M467.6 94.5h0M462.4 88.6h0M475.9 77.4h0M477.9 92.0h0M465.2 88.3h0M474.6 76.0h0M475.2 90.4h0M468.3 63.8h0M474.2 76.0h0M462.9 79.4h0M459.4 79.9h0M480.1 55.5h0M474.5 74.2h0M469.9 74.3h0M475.5 83.1h0M467.9 70.5h0M469.8 94.4h0M465.6 87.2h0M473.9 63.7h0M478.0 82.8h0M484.0 100.1h0M470.8 81.7h0M466.7 69.8h0M476.4 80.7h0M469.9 81.5h0M475.7 92.4h0M472.1 81.3h0M472.7 103.4h0M461.0 71.9h0M474.7 84.6h0M478.7 96.0h0M482.7 75.4h0M475.4 80.9h0M477.3 85.0h0M476.9 76.0h0M473.0 78.2h0M470.7 78.8h0M466.6 94.1h0M473.7 93.9h0M466.8 64.1h0M468.6 81.7h0M488.3 54.0h0M488.4 56.7h0M484.8 59.2h0M482.0 58.3h0M476.8 61.7h0M484.0 68.3h0M495.3 42.8h0M490.9 50.7h0M472.6 64.3h0M486.8 48.9h0M482.8 47.6h0M481.1 64.0h0M488.3 56.6h0M483.1 46.5h0M486.5 51.3h0M488.9 71.7h0M484.2 61.8h0M471.9 63.6h0M476.7 67.0h0M482.3 57.4h0M480.1 67.0h0M478.0 60.7h0M472.7 62.9h0M480.0 58.8h0M482.7 63.9h0M484.6 56.8h0M476.9 54.1h0M488.1 46.0h0M485.5 53.4h0M483.1 62.0h0M476.3 62.8h0M485.3 53.6h0M471.2 62.2h0M481.0 48.3h0M485.6 53.2h0M492.5 41.7h0M479.5 66.6h0M489.1 56.3h0M476.1 66.4h0M478.8 64.2h0M475.8 61.7h0M489.4 39.1h0M499.4 47.7h0M483.1 45.5h0M483.2 48.5h0M485.8 42.6h0M480.0 56.6h0M492.8 36.7h0M480.5 56.5h0M486.1 44.5h0M474.3 68.7h0M488.9 51.7h0M483.4 60.4h0M496.6 51.0h0M479.1 66.5h0M488.6 56.2h0M498.8 45.1h0M484.8 59.4h0M481.8 57.5h0M485.8 57.8h0M487.9 43.0h0M484.4 56.7h0M488.6 55.7h0M490.1 60.4h0M496.1 51.5h0M483.2 54.1h0M486.7 50.0h0M480.6 68.8h0M488.4 63.1h0M481.5 57.6h0M480.3 50.5h0M481.8 44.1h0M487.4 56.6h0M483.9 55.3h0M477.8 56.4h0M481.0 56.1h0M479.0 57.5h0M474.1 68.6h0M488.9 41.3h0M482.9 63.9h0M483.6 58.7h0M482.2 55.3h0M469.6 55.4h0M483.2 50.1h0M484.9 61.7h0M488.3 52.7h0M475.8 68.4h0M479.3 59.6h0M486.2 55.5h0M479.9 49.6h0M478.2 62.0h0M500.2 49.0h0M495.3 43.5h0M495.7 56.7h0M495.9 44.7h0M494.2 47.4h0M493.9 45.4h0M490.4 43.9h0M490.5 48.9h0M484.7 65.7h0M486.6 54.5h0M486.2 50.6h0M488.0 55.4h0M485.9 54.7h0M481.5 56.0h0M471.2 64.8h0M493.1 41.8h0M491.1 52.8h0M481.9 66.6h0M483.8 63.2h0M496.1 44.1h0M472.6 60.1h0M492.7 51.4h0M483.8 61.7h0M479.0 68.3h0M499.6 40.7h0M484.2 61.5h0M488.2 40.0h0M486.6 61.8h0M481.4 58.7h0M496.2 44.8h0M488.1 59.2h0M485.8 47.5h0M485.4 46.0h0M488.5 64.9h0M481.7 64.2h0M485.1 43.8h0M481.0 63.3h0M480.0 55.9h0M487.0 66.0h0M487.4 83.9h0M494.7 84.9h0M488.5 69.5h0M476.9 66.8h0M473.5 81.9h0M489.0 75.1h0M489.7 85.6h0M486.6 70.3h0M495.7 93.0h0M483.6 97.5h0M487.3 75.8h0M484.6 67.2h0M484.9 69.3h0M493.8 84.6h0M478.7 86.6h0M476.7 83.3h0M489.9 82.6h0M480.3 81.2h0M485.9 82.5h0M495.9 95.6h0M496.5 77.0h0M482.5 82.2h0M489.6 65.6h0M483.3 96.4h0M479.6 76.1h0M482.8 85.9h0M486.6 79.4h0M477.9 86.9h0M487.0 76.7h0M487.2 88.3h0M478.2 69.6h0M480.9 75.0h0M468.7 77.2h0M493.7 79.4h0M493.1 59.0h0M486.3 93.1h0M496.4 78.0h0M482.0 85.1h0M479.7 79.1h0M477.0 82.7h0M487.0 95.0h0M489.2 76.7h0M486.4 71.7h0M487.2 80.3h0M489.5 89.5h0M475.0 84.6h0M491.4 72.4h0M498.4 76.2h0M501.8 88.3h0M492.8 84.2h0M493.1 73.7h0M482.2 66.3h0M490.3 76.3h0M491.5 86.8h0M478.9 87.6h0M488.6 83.6h0M489.8 81.8h0M487.1 90.5h0M481.0 72.4h0M482.4 90.3h0M485.1 97.4h0M468.5 76.3h0M484.3 84.2h0M495.0 80.5h0M480.9 88.7h0M496.3 61.5h0M490.5 84.4h0M482.0 78.2h0M488.7 82.2h0M485.5 72.6h0M488.7 76.7h0M487.5 77.3h0M488.2 88.0h0M488.4 87.3h0M478.7 85.7h0M488.7 77.0h0M486.0 59.6h0M487.5 78.7h0M473.4 86.0h0M483.1 84.2h0M485.5 85.8h0M487.5 79.7h0M489.9 88.6h0M473.4 82.2h0M483.4 73.1h0M494.8 89.7h0M480.8 73.0h0M491.9 76.9h0M485.0 66.2h0M486.2 91.1h0M484.2 81.0h0M497.4 89.0h0M495.5 87.0h0M494.2 68.6h0M482.0 68.7h0M500.3 83.4h0M486.2 75.9h0M480.9 59.5h0M500.4 81.3h0M487.3 70.7h0M486.6 85.0h0M486.5 86.9h0M481.9 84.5h0M492.3 86.4h0M489.2 81.1h0M481.0 86.4h0M484.6 74.4h0M491.5 69.1h0M483.6 88.1h0M492.6 78.9h0M487.3 86.3h0M486.5 75.8h0M489.6 83.2h0M487.6 90.9h0M488.8 78.3h0M487.9 97.5h0M482.6 79.8h0M482.1 84.8h0M479.4 85.5h0M491.5 75.7h0M481.9 70.0h0M487.2 73.0h0M483.2 78.6h0M482.8 88.6h0M496.5 64.9h0M482.1 83.9h0M480.6 77.6h0M488.2 93.1h0M494.0 79.6h0M487.7 79.0h0M485.9 72.5h0M476.3 79.0h0M492.8 88.1h0M475.8 80.4h0M483.2 84.3h0M480.4 89.3h0M485.7 86.6h0M492.2 66.4h0M485.7 94.1h0M487.1 90.3h0M489.5 78.0h0M488.7 90.4h0M494.7 93.5h0M480.3 88.6h0M478.7 80.9h0M485.7 87.0h0M488.9 91.9h0M483.3 88.7h0M489.3 82.0h0M479.8 86.5h0M488.9 88.3h0M486.7 79.9h0M489.3 85.7h0M491.1 97.1h0M483.3 98.0h0M469.2 89.6h0M482.1 98.0h0M481.7 90.4h0M481.1 72.9h0M491.8 88.9h0M482.8 101.2h0M485.1 94.5h0M480.9 74.3h0M487.5 73.9h0M489.7 64.8h0M488.0 77.5h0M481.2 83.7h0M485.7 78.4h0M491.8 84.3h0M489.3 92.6h0M486.5 88.7h0M484.5 86.8h0M490.1 77.6h0M477.9 71.8h0M481.3 86.4h0M486.2 79.6h0M489.8 87.8h0M495.3 77.2h0M490.3 87.6h0M481.3 83.0h0M481.5 80.2h0M489.5 68.4h0M481.8 75.6h0M487.5 76.1h0M489.2 75.2h0M483.9 86.8h0M488.9 83.2h0M486.8 90.0h0M495.2 79.0h0M482.7 73.7h0M497.3 74.9h0M479.1 84.1h0M493.3 72.2h0M486.2 70.6h0M482.8 94.9h0M488.0 79.9h0M487.4 84.2h0M486.4 72.5h0M479.9 98.0h0M482.4 91.5h0M482.7 92.3h0M491.1 80.3h0M499.0 74.6h0M485.6 75.2h0M482.4 79.1h0M481.3 79.4h0M496.4 68.2h0M479.5 74.4h0M484.2 90.0h0M491.3 85.8h0M488.2 101.0h0M480.3 72.8h0M486.8 83.6h0M485.6 75.3h0M479.2 79.8h0M482.8 78.2h0M480.5 92.6h0M489.7 96.7h0M483.9 82.5h0M485.5 82.2h0M485.5 80.7h0M475.2 79.8h0M491.1 66.5h0M484.9 86.5h0M494.5 81.3h0M489.7 95.9h0M494.7 78.4h0M483.4 90.1h0M488.3 77.7h0M485.6 84.5h0M485.8 80.0h0M485.6 70.1h0M497.3 91.7h0M496.0 80.9h0M487.7 86.6h0M491.9 67.5h0M489.1 74.1h0M486.6 76.7h0M497.1 86.3h0M486.8 93.1h0M486.6 76.2h0M485.9 79.1h0M487.3 88.7h0M486.3 81.5h0M493.0 84.3h0M492.6 83.1h0M479.2 73.1h0M477.1 91.0h0M489.5 78.2h0M481.1 84.9h0M486.2 84.5h0M482.0 73.2h0M496.3 74.4h0M486.9 92.6h0M476.1 87.6h0M487.4 80.9h0M488.6 72.6h0M473.8 97.0h0M485.3 89.1h0M493.6 84.3h0M489.7 87.6h0M496.4 85.9h0M494.5 79.7h0M484.5 82.7h0M489.4 86.3h0M498.6 88.7h0M487.4 97.8h0M489.0 84.8h0M489.9 79.4h0M480.5 83.1h0M485.2 75.2h0M487.7 80.4h0M483.5 68.0h0M486.0 95.9h0M492.3 90.6h0M486.9 90.4h0M483.0 78.4h0M490.1 70.7h0M487.4 84.4h0M497.0 76.5h0M489.5 76.9h0M483.8 60.7h0M481.4 91.1h0M490.1 83.3h0M501.6 86.3h0M479.7 80.4h0M486.7 94.7h0M481.7 85.4h0M492.8 75.6h0M487.5 66.1h0M487.6 64.6h0M484.7 95.6h0M489.5 82.4h0M487.9 99.1h0M490.3 90.3h0M484.4 78.6h0M480.8 80.7h0M482.9 89.8h0M490.8 81.1h0M483.8 59.2h0M483.5 84.5h0M490.9 57.6h0M472.8 83.3h0M480.9 80.3h0M484.2 86.7h0M476.0 77.5h0M492.6 83.7h0M482.1 85.6h0M488.7 75.0h0M491.1 87.4h0M486.2 89.5h0M480.1 88.1h0M485.9 74.6h0M483.5 91.3h0M483.7 79.3h0M483.1 75.8h0M492.7 99.5h0M495.0 86.1h0M491.5 79.3h0M484.1 72.8h0M495.6 79.4h0M482.8 77.0h0M488.2 77.7h0M487.1 83.4h0M495.0 72.2h0M488.8 76.6h0M484.5 94.9h0M490.8 79.0h0M490.0 81.9h0M493.6 78.2h0M489.9 80.4h0M487.1 80.9h0M483.4 82.9h0M492.9 77.3h0M484.8 85.0h0M482.6 88.9h0M491.2 63.9h0M483.2 73.5h0M492.0 89.5h0M480.0 76.7h0M486.6 79.2h0M491.3 89.8h0M490.6 90.7h0M492.6 81.5h0M484.5 76.3h0M491.9 89.1h0M493.1 79.5h0M484.8 84.2h0M494.5 84.9h0M488.4 75.6h0M489.7 86.3h0M481.5 95.9h0M481.6 89.4h0M485.9 83.4h0M482.4 77.7h0M491.2 80.6h0M485.1 89.1h0M491.3 83.4h0M488.5 95.7h0M486.1 85.2h0M489.6 71.1h0M475.7 83.1h0M492.2 83.7h0M483.9 77.0h0M491.9 79.8h0M477.6 87.5h0M488.5 85.1h0M493.2 92.5h0M490.4 80.7h0M474.6 84.4h0M486.2 92.5h0M494.6 85.9h0M495.2 81.5h0M486.8 75.4h0M485.2 83.8h0M493.3 76.3h0M491.8 100.5h0M479.1 80.1h0M487.2 90.0h0M498.8 91.8h0M486.9 75.4h0M486.7 81.8h0M488.5 75.1h0M496.1 76.4h0M491.1 83.8h0M480.6 82.6h0M487.2 80.6h0M491.8 78.4h0M502.1 91.0h0M481.7 62.5h0M494.5 84.1h0M487.5 74.4h0M478.5 67.4h0M502.3 94.7h0M483.8 96.9h0M476.1 87.6h0M491.2 75.3h0M484.4 73.8h0M487.3 92.5h0M492.9 85.4h0M493.7 67.9h0M499.0 81.7h0M479.2 79.0h0M483.2 82.8h0M488.9 63.5h0M494.5 95.7h0M480.9 93.7h0M494.5 90.1h0M496.7 71.0h0M491.3 74.0h0M501.1 74.3h0M479.7 91.0h0M490.7 82.3h0M487.8 86.9h0M497.3 76.4h0M483.7 77.4h0M486.6 82.1h0M479.3 84.4h0M479.5 79.5h0M485.5 80.1h0M495.9 95.1h0M493.5 94.7h0M485.3 93.3h0M486.7 83.8h0M488.6 71.3h0M483.4 80.7h0M489.2 81.0h0M481.9 72.8h0M487.1 72.6h0M479.9 81.2h0M488.1 75.4h0M476.3 84.3h0M491.9 78.7h0M484.8 63.4h0M492.4 73.2h0M491.3 77.3h0M486.2 80.5h0M476.2 104.0h0M477.6 82.9h0M482.1 80.1h0M495.3 67.1h0M486.1 85.9h0M487.7 85.2h0M482.5 68.9h0M479.1 78.7h0M491.5 82.6h0M496.6 82.8h0M488.2 83.6h0M476.6 86.6h0M480.3 79.0h0" stroke="#ff0000" stroke-width="0.95" stroke-linecap="round" stroke-opacity="0.85"/>
<path d="M543.4 70.4h0M551.1 72.2h0M552.7 71.7h0M560.1 72.0h0M559.8 70.8h0M551.8 75.5h0M541.9 70.2h0M550.9 75.5h0M556.0 74.0h0M554.3 69.7h0M546.6 76.2h0M545.9 72.0h0M539.6 72.2h0M540.4 73.5h0M556.5 73.4h0M549.7 71.6h0M551.7 69.9h0M546.4 78.0h0M541.9 71.2h0M541.4 75.7h0M547.5 69.5h0M542.2 75.4h0M552.3 74.6h0M548.4 74.9h0M555.7 74.3h0M540.3 67.7h0M541.0 73.3h0M540.8 69.9h0M548.9 70.4h0M541.9 75.0h0M551.3 74.5h0M553.5 76.2h0M548.4 72.1h0M539.4 71.9h0M545.4 75.2h0M552.1 76.2h0M554.3 75.5h0M551.4 72.9h0M546.5 72.5h0M543.5 73.5h0M548.1 67.5h0M534.3 70.7h0M546.1 71.8h0M555.3 70.9h0M541.8 73.5h0M553.8 76.6h0M543.1 71.9h0M546.2 76.3h0M552.2 72.6h0M552.3 71.6h0M547.4 72.4h0M545.8 71.9h0M550.3 73.1h0M556.3 74.6h0M548.1 67.0h0M540.6 71.2h0M546.4 69.2h0M546.5 72.7h0M545.1 72.1h0M547.9 70.7h0M543.9 72.1h0M549.8 69.9h0M537.7 70.1h0M551.0 68.4h0M553.2 71.0h0M549.0 70.5h0M551.4 72.6h0M550.3 67.6h0M552.1 68.3h0M546.6 73.7h0M547.3 73.7h0M549.2 72.6h0M544.1 74.9h0M554.2 71.1h0M543.6 72.9h0M544.4 72.8h0M552.6 74.1h0M556.0 73.6h0M542.9 70.3h0M551.1 77.1h0M546.5 70.2h0M555.6 72.1h0M551.9 75.1h0M543.2 71.5h0M545.4 73.7h0M551.7 71.2h0M551.2 68.0h0M550.1 73.3h0M548.3 68.8h0M547.8 69.8h0M555.8 71.7h0M547.2 72.1h0M551.1 72.6h0M551.1 70.1h0M554.0 71.2h0M552.2 73.0h0M553.8 72.2h0M540.7 69.6h0M547.1 75.8h0M546.1 72.5h0M554.8 71.0h0M549.9 73.1h0M545.2 73.0h0M553.7 75.0h0M546.6 79.5h0M550.1 71.7h0M544.6 70.0h0M552.5 65.4h0M547.5 69.0h0M547.4 72.3h0M541.5 70.0h0M554.8 71.1h0M548.3 71.6h0M552.6 75.4h0M553.0 73.7h0M551.2 69.5h0M555.0 71.0h0M543.7 71.5h0M544.2 73.4h0M552.0 75.5h0M547.8 70.9h0M546.8 69.5h0M544.5 77.3h0M544.3 71.3h0M551.5 73.0h0M552.2 70.3h0M542.8 75.6h0M544.8 72.2h0M549.4 67.9h0M547.3 70.8h0M551.0 71.6h0M536.7 74.3h0M535.1 71.4h0M544.7 70.9h0M548.2 74.7h0M543.8 70.9h0M552.1 73.6h0M552.0 73.2h0M547.0 71.2h0M545.8 74.6h0M556.0 77.2h0M542.9 71.8h0M548.3 72.0h0M542.5 77.7h0M556.1 72.0h0M545.9 72.4h0M542.0 71.6h0M552.3 76.5h0M552.9 75.6h0M542.8 64.5h0M555.4 72.9h0M547.9 76.5h0M543.3 70.1h0M544.4 76.4h0M553.2 68.0h0M556.9 72.4h0M550.5 70.5h0M558.1 73.5h0M555.2 70.0h0M551.9 72.6h0M547.1 70.4h0M544.7 69.5h0M544.8 72.3h0M551.3 68.6h0M542.9 70.9h0M539.7 71.7h0M546.9 71.9h0M550.4 74.7h0M552.5 73.1h0M551.4 70.4h0M543.4 74.0h0M551.2 77.8h0M547.1 70.0h0M549.8 71.3h0M543.6 75.8h0M558.4 73.3h0M544.9 73.0h0M548.0 69.0h0M552.7 73.3h0M554.9 71.0h0M548.2 72.1h0M539.3 78.6h0M537.4 69.6h0M546.5 68.5h0M550.5 71.3h0M548.7 73.0h0M548.7 72.7h0M547.6 73.5h0M552.6 71.8h0M546.0 71.4h0M550.0 71.5h0M546.4 68.7h0M558.5 69.4h0M557.2 74.4h0M553.8 73.1h0M551.0 73.2h0M551.5 74.6h0M556.4 70.0h0M551.0 76.5h0M555.8 69.9h0M550.1 73.2h0M549.8 66.9h0M553.0 68.5h0M560.1 74.1h0M548.0 74.1h0M549.3 71.2h0M548.0 73.4h0M544.3 74.3h0M554.5 75.2h0M554.8 75.8h0M552.3 75.8h0M548.9 73.6h0M556.1 77.4h0M546.7 68.9h0M560.0 75.4h0M558.3 74.8h0M549.9 70.9h0M543.5 76.2h0M553.8 73.4h0M542.7 71.2h0M545.3 71.8h0M533.2 73.1h0M556.9 71.2h0M548.8 73.2h0M543.3 73.6h0M544.3 71.4h0M550.0 72.4h0M549.1 70.2h0M552.5 69.8h0M553.1 71.3h0M542.3 72.3h0M543.0 71.2h0M547.8 74.5h0M552.9 73.8h0M547.1 68.7h0M547.4 71.7h0M547.9 71.2h0M545.8 74.6h0M541.5 72.6h0M555.4 70.6h0M543.3 72.0h0M546.8 73.2h0M555.9 72.2h0M551.6 71.1h0M546.0 73.3h0M545.0 75.6h0M546.4 72.1h0M543.0 71.4h0M543.2 71.3h0M539.1 72.5h0M558.0 67.8h0M558.0 72.2h0M553.4 70.0h0M559.5 69.8h0M548.2 76.5h0M541.7 66.6h0M548.2 70.6h0M543.3 70.2h0M540.7 76.1h0M555.2 69.1h0M548.0 71.4h0M554.5 70.4h0M557.4 72.5h0M544.3 72.3h0M545.4 78.3h0M549.4 71.3h0M549.1 76.3h0M543.3 68.2h0M555.7 74.1h0M546.1 72.3h0M554.6 65.5h0M555.5 72.1h0M552.2 72.4h0M565.4 70.9h0M554.6 65.8h0M548.8 74.6h0M540.1 67.3h0M549.1 75.1h0M555.0 70.7h0M550.4 68.9h0M558.1 71.0h0M555.5 71.8h0M546.7 76.7h0M543.8 75.9h0M546.6 70.2h0M543.9 75.4h0M548.1 71.6h0M540.2 75.6h0M554.3 73.3h0M552.8 64.1h0M545.6 72.9h0M549.1 71.0h0M549.8 70.6h0M544.9 69.3h0M549.3 70.6h0M545.7 76.1h0M548.3 72.4h0M540.1 71.1h0M553.9 73.9h0M548.8 72.0h0M567.5 80.1h0M566.2 70.8h0M574.2 82.4h0M566.8 83.3h0M562.7 82.9h0M568.0 81.6h0M566.1 79.3h0M569.3 82.2h0M569.1 80.2h0M565.2 84.3h0M568.0 78.1h0M566.2 74.9h0M564.7 73.9h0M568.0 78.5h0M568.1 74.8h0M565.8 76.7h0M570.8 74.0h0M562.0 82.9h0M568.6 73.8h0M572.0 83.6h0M571.3 72.2h0M567.7 76.0h0M566.4 73.7h0M573.4 76.6h0M568.3 81.4h0M569.4 80.1h0M565.9 79.5h0M566.5 71.5h0M570.8 76.8h0M565.5 77.5h0M562.4 74.9h0M561.0 80.3h0M571.4 79.0h0M563.3 83.0h0M566.2 73.7h0M560.7 79.4h0M572.3 77.6h0M565.1 77.9h0M564.3 77.0h0M568.2 76.5h0M570.5 75.7h0M569.8 79.9h0M565.9 77.8h0M566.1 84.2h0M564.4 82.6h0M570.8 77.7h0M572.9 71.2h0M568.1 79.2h0M567.3 81.5h0M565.9 78.2h0M571.3 78.4h0M563.7 80.6h0M567.0 77.0h0M569.2 76.3h0M563.8 77.9h0M566.6 78.9h0M563.1 84.3h0M569.6 79.2h0M568.1 70.8h0M570.5 75.5h0M569.0 75.0h0M570.7 77.1h0M566.5 83.7h0M570.7 74.4h0M564.8 79.4h0M566.5 81.4h0M564.9 72.8h0M564.1 78.2h0M569.2 81.2h0M571.6 79.5h0M566.6 81.1h0M566.9 77.3h0M565.6 81.7h0M572.5 83.0h0M561.7 82.3h0M563.4 77.7h0M569.3 74.5h0M563.0 76.4h0M573.2 82.2h0M564.1 79.2h0M567.8 79.8h0M564.8 83.4h0M565.9 81.4h0M561.4 80.0h0M567.8 83.1h0M558.2 80.6h0M570.1 77.9h0M571.9 85.5h0M570.4 81.4h0M572.0 80.2h0M571.6 80.7h0M564.9 75.4h0M571.4 80.7h0M564.9 78.9h0M572.4 73.3h0M564.1 81.0h0M570.2 75.0h0M563.8 79.3h0M572.2 78.8h0M559.2 82.1h0M567.2 77.3h0M563.2 82.6h0M568.2 80.1h0M568.5 80.2h0M570.2 84.3h0M563.6 78.5h0M565.7 84.2h0M566.3 73.6h0M567.2 76.4h0M564.7 77.4h0M562.7 72.6h0M574.1 78.4h0M564.0 80.8h0M572.0 73.2h0M565.7 79.7h0M564.3 80.2h0M562.9 76.6h0M566.9 80.2h0M567.4 76.6h0M566.0 72.0h0M574.8 77.5h0M566.2 79.6h0M569.3 79.9h0M564.9 73.5h0M566.7 76.2h0M565.3 78.8h0M568.1 82.9h0M566.8 73.2h0M569.3 81.7h0M561.5 80.7h0M567.9 77.0h0M567.9 80.0h0M569.3 82.5h0M567.2 78.8h0M575.7 75.3h0M566.3 77.6h0M570.0 82.3h0M562.6 82.7h0M563.1 87.1h0M564.9 82.3h0M566.3 81.0h0M564.6 79.2h0M567.4 79.1h0M570.1 77.4h0M566.1 74.6h0M566.8 77.2h0M570.4 80.9h0M564.7 80.2h0M571.9 78.1h0M563.2 86.7h0M569.2 81.0h0M576.1 76.2h0M568.3 72.7h0M569.0 80.0h0M564.5 76.0h0M566.7 78.0h0M572.8 78.0h0M566.7 78.2h0M561.7 77.2h0M562.5 79.2h0M559.6 75.2h0M568.2 72.0h0M561.8 82.0h0M562.6 78.7h0M568.3 75.4h0M561.4 83.7h0M565.3 80.4h0M564.6 79.9h0M562.7 74.4h0M563.6 76.8h0M565.1 77.7h0M568.8 77.1h0M570.5 76.6h0M569.6 83.0h0M573.4 72.4h0M573.3 73.1h0M572.2 78.7h0M568.5 75.7h0M570.5 81.0h0M565.3 76.8h0M570.3 82.1h0M570.0 77.6h0M567.3 81.8h0M570.2 82.4h0M567.8 76.5h0M568.3 80.2h0M565.4 80.2h0M564.3 79.6h0M565.2 85.6h0M571.5 79.6h0M562.7 74.8h0M569.7 78.3h0M568.4 73.7h0M562.0 79.1h0M566.5 74.5h0M564.5 81.3h0M565.8 80.6h0M573.1 79.9h0M567.7 76.9h0M571.5 74.2h0M563.4 78.7h0M562.1 81.9h0M565.1 80.5h0M566.2 78.0h0M567.3 72.5h0M563.5 77.3h0M575.1 81.4h0M569.8 75.5h0M570.4 82.8h0M569.9 87.2h0M562.6 75.3h0M566.4 75.7h0M567.5 80.4h0M567.2 79.1h0M568.7 81.3h0M565.0 76.6h0M571.4 77.7h0M564.4 79.7h0M566.0 79.2h0M567.0 80.8h0M570.5 76.1h0M563.0 83.9h0M564.9 73.8h0M560.6 78.6h0M565.0 72.9h0M563.9 75.4h0M570.7 79.5h0M567.2 74.7h0M566.6 80.9h0M567.8 82.1h0M567.5 81.0h0M568.8 76.9h0M571.9 79.9h0M570.1 75.3h0M563.4 78.2h0M564.4 80.7h0M568.7 82.7h0M569.3 75.1h0M570.6 76.7h0M564.7 78.9h0M567.2 82.1h0M577.1 80.1h0M572.3 78.1h0M568.4 77.1h0M565.8 83.0h0M568.8 80.2h0M564.4 84.2h0M566.6 76.7h0M567.2 80.9h0M569.9 83.4h0M563.5 77.4h0M572.7 86.0h0M565.1 78.4h0M561.9 76.1h0M564.2 78.4h0M563.1 81.7h0M567.1 77.9h0M570.5 77.9h0M562.9 78.8h0M574.8 79.1h0M562.5 90.8h0M560.3 94.7h0M553.0 85.1h0M559.2 90.5h0M565.3 105.4h0M562.8 94.1h0M563.0 100.2h0M558.0 89.2h0M561.4 93.6h0M555.3 94.3h0M556.2 96.1h0M563.5 79.5h0M562.5 93.0h0M559.1 97.1h0M567.0 94.6h0M557.7 84.0h0M557.5 86.3h0M564.3 93.5h0M560.9 96.7h0M561.0 92.1h0M558.4 88.5h0M561.0 85.5h0M565.9 92.6h0M559.3 97.3h0M557.8 97.7h0M561.2 102.2h0M559.3 89.7h0M558.4 85.1h0M561.7 86.1h0M561.9 88.4h0M564.1 77.9h0M562.2 92.2h0M561.0 88.4h0M566.2 89.7h0M562.2 90.5h0M559.9 92.4h0M563.0 85.8h0M559.5 84.2h0M562.1 87.2h0M558.7 95.5h0M560.9 94.1h0M560.5 94.1h0M561.2 85.8h0M561.6 90.0h0M560.2 93.4h0M559.3 86.1h0M564.5 102.0h0M559.9 98.2h0M562.1 88.4h0M558.4 90.3h0M559.7 90.1h0M560.6 85.7h0M563.5 85.7h0M557.7 97.0h0M563.2 99.9h0M561.3 88.4h0M564.4 91.4h0M560.6 87.2h0M562.1 78.9h0M562.5 80.9h0M563.6 83.3h0M563.0 105.5h0M560.1 85.5h0M566.8 89.5h0M557.6 98.8h0M552.4 83.7h0M557.0 88.1h0M554.9 96.4h0M564.0 91.6h0M559.7 83.3h0M562.3 88.0h0M562.8 97.5h0M561.1 80.3h0M558.1 99.4h0M561.8 99.7h0M554.2 91.3h0M560.4 83.0h0M559.0 97.3h0M562.6 89.0h0M561.9 98.5h0M557.7 93.5h0M564.1 88.1h0M564.9 91.4h0M564.3 97.0h0M561.7 90.3h0M559.0 92.8h0M561.6 99.6h0M560.7 93.9h0M566.0 93.7h0M562.3 100.8h0M561.2 94.1h0M563.2 91.3h0M557.6 83.9h0M560.3 98.1h0M563.9 100.9h0M563.7 88.4h0M556.6 89.1h0M560.2 87.8h0M563.7 87.6h0M562.7 96.2h0M555.7 89.6h0M564.7 96.6h0M561.3 85.8h0M558.8 92.4h0M564.7 94.6h0M560.7 93.2h0M563.3 82.3h0M558.0 92.1h0M564.6 97.8h0M558.6 92.0h0M558.7 89.8h0M561.4 89.9h0M559.3 85.5h0M556.2 90.8h0M561.5 95.3h0M558.5 87.9h0M564.7 94.2h0M563.6 88.8h0M558.8 85.6h0M563.9 85.7h0M555.8 87.8h0M564.7 92.0h0M561.6 92.5h0M560.8 91.0h0M556.7 101.0h0M560.5 98.5h0M556.3 94.9h0M557.4 84.8h0M561.7 97.5h0M565.0 99.2h0M560.1 96.2h0M559.1 88.9h0M561.7 91.2h0M563.5 81.8h0M564.3 88.7h0M565.4 98.2h0M557.5 91.6h0M563.0 87.6h0M558.7 90.2h0M563.2 96.9h0M559.7 96.4h0M565.4 96.9h0M558.8 87.3h0M561.8 96.4h0M562.2 89.8h0M558.2 98.9h0M560.5 102.1h0M557.5 90.1h0M559.0 102.0h0M564.7 89.2h0M555.2 98.2h0M561.4 85.8h0M556.5 94.1h0M560.4 92.7h0M562.2 89.9h0M560.2 95.6h0M560.6 90.4h0M562.9 81.1h0M564.7 94.4h0M558.7 91.0h0M564.6 95.0h0M555.7 86.4h0M561.5 101.7h0M563.3 90.9h0M562.7 92.1h0M560.1 94.1h0M554.6 97.5h0M562.6 89.6h0M558.4 85.4h0M561.8 92.8h0M561.5 101.3h0M554.4 88.1h0M558.7 97.2h0M560.3 86.9h0M561.6 94.2h0M565.8 93.4h0M559.7 89.3h0M558.6 94.7h0M563.4 90.8h0M560.6 99.5h0M561.3 94.7h0M557.8 88.7h0M554.6 84.5h0M562.1 98.8h0M560.2 85.5h0M561.3 98.2h0M560.5 97.0h0M560.8 85.3h0M558.3 90.6h0M567.8 95.2h0M560.3 93.6h0M561.6 89.6h0M560.7 90.6h0M563.2 100.5h0M565.0 90.3h0M562.7 88.1h0M557.8 92.4h0M562.8 91.7h0M563.5 96.5h0M563.3 91.2h0M557.0 101.8h0M559.6 96.0h0M562.5 90.1h0M566.4 95.7h0M561.0 89.7h0M558.1 85.1h0M562.7 89.6h0M559.7 94.8h0M560.0 95.6h0M559.1 89.2h0M563.7 88.3h0M562.8 94.8h0M561.0 83.0h0M557.1 86.1h0M557.2 96.7h0M558.4 85.3h0M559.5 91.5h0M556.1 95.3h0M563.1 88.8h0M563.4 83.6h0M559.4 91.1h0M561.2 98.2h0M560.0 86.5h0M561.6 92.8h0M562.3 90.2h0M561.5 88.9h0M562.7 88.4h0M559.2 98.3h0M558.7 92.0h0M562.7 90.3h0M563.7 88.8h0M564.0 83.6h0M557.0 92.4h0M565.2 100.7h0M558.5 91.8h0M559.5 80.4h0M563.1 90.0h0M565.0 93.5h0M559.4 88.2h0M560.4 94.4h0M559.5 107.2h0M561.6 85.8h0M561.2 98.2h0M562.3 90.2h0M559.0 87.7h0M557.5 89.2h0M561.8 88.9h0M565.8 94.0h0M559.7 91.8h0M565.3 82.8h0M561.7 106.5h0M564.0 87.1h0M561.4 90.7h0M569.2 88.4h0M560.2 90.2h0M556.8 74.1h0M560.3 94.8h0M559.7 94.7h0M563.2 95.8h0M556.0 100.2h0M565.3 87.9h0M556.1 79.9h0M550.1 84.1h0M566.0 74.4h0M564.8 75.4h0M562.4 78.5h0M565.3 99.0h0M558.4 75.1h0M551.4 86.1h0M550.6 89.6h0M559.2 88.9h0M550.0 70.6h0M547.9 83.9h0M547.5 86.8h0M533.7 73.4h0M554.2 62.0h0M549.4 65.3h0M555.2 77.6h0M564.1 71.7h0M538.4 74.7h0M557.4 80.9h0M557.8 92.0h0M552.2 77.9h0M546.9 74.2h0M567.3 83.6h0M527.7 91.9h0M534.5 76.0h0M566.6 81.3h0M562.1 88.6h0M559.3 67.7h0M560.1 73.2h0M529.9 77.2h0M562.0 81.2h0M556.2 97.2h0M559.0 89.1h0M559.6 96.3h0M552.1 91.7h0M575.8 76.4h0M567.5 66.7h0M559.5 87.4h0M547.1 62.4h0M556.7 76.9h0M558.2 83.0h0M565.2 95.6h0M560.9 65.1h0M563.5 84.0h0M557.8 95.8h0M559.1 76.7h0M561.3 64.4h0M566.6 80.8h0M574.6 87.0h0M560.3 82.1h0M543.5 79.5h0M559.5 90.0h0M561.0 87.1h0M563.8 75.1h0M559.6 78.2h0M542.8 65.4h0M565.3 94.5h0M571.8 72.0h0M572.6 95.7h0M548.2 85.2h0M574.9 81.3h0M569.2 74.3h0M552.7 89.0h0M554.6 81.6h0M557.4 70.3h0M572.6 79.0h0M552.9 76.0h0M557.1 71.2h0M565.8 77.0h0M565.0 71.8h0M545.4 71.3h0M558.9 67.4h0M565.5 77.1h0M566.1 76.6h0M565.2 70.2h0M544.5 86.2h0M550.4 90.8h0M548.8 85.4h0M547.5 63.2h0M571.9 78.3h0M566.9 82.1h0M537.7 84.2h0M568.0 93.0h0M574.1 84.1h0M555.2 81.0h0M543.7 87.5h0M564.2 83.7h0M547.9 86.6h0M550.3 92.6h0M549.7 75.1h0M552.8 70.1h0M546.5 77.4h0M529.6 100.0h0M560.3 83.1h0M546.7 82.1h0M556.1 81.2h0M540.1 79.0h0M535.7 78.2h0M546.5 74.2h0M552.6 88.5h0M569.4 80.4h0M544.5 94.8h0M540.9 74.7h0M553.8 72.8h0M570.6 84.1h0M567.9 77.2h0M565.6 78.6h0M554.5 83.1h0M560.4 85.8h0M553.8 65.2h0M552.6 53.5h0M553.0 72.0h0M565.0 53.2h0M577.9 76.6h0M538.7 84.2h0M561.3 84.2h0M579.8 71.8h0M559.2 81.5h0M548.6 82.9h0M569.7 71.6h0M560.9 90.0h0M563.1 64.2h0M559.1 76.2h0M569.4 78.8h0M577.4 67.8h0M561.5 71.3h0M575.4 95.6h0M545.9 87.5h0M555.6 63.9h0M544.6 81.0h0M561.6 76.3h0M559.2 83.1h0M559.1 68.3h0M557.5 85.3h0M539.7 95.3h0M571.9 81.6h0M578.8 72.1h0M545.7 73.8h0M548.2 98.3h0M556.6 79.5h0M560.0 95.8h0M557.9 76.3h0M559.0 92.5h0M553.8 94.0h0M559.4 78.3h0M561.4 99.6h0M553.4 93.7h0M562.2 81.6h0M556.6 88.2h0M562.8 83.7h0M563.2 71.5h0M549.0 70.2h0M552.3 78.0h0M552.0 85.3h0M545.8 77.7h0M565.5 96.7h0M556.6 91.9h0M571.0 70.0h0M558.7 69.7h0M551.8 84.1h0M542.3 85.3h0M554.5 77.7h0M561.9 71.9h0M537.7 80.3h0M548.2 78.1h0M544.1 70.8h0M544.9 67.4h0M547.2 72.3h0M556.3 111.1h0M549.3 64.3h0M562.2 67.8h0M546.3 76.6h0M556.4 80.6h0M558.6 78.8h0M567.9 88.2h0M550.0 77.8h0M541.3 86.4h0M553.7 98.6h0M548.6 94.8h0M546.0 63.4h0M546.6 83.2h0M566.8 71.3h0M566.3 74.7h0M550.3 76.9h0M573.6 81.6h0M559.1 65.1h0M557.6 82.6h0M573.4 71.3h0M548.2 70.8h0M548.8 86.4h0M547.2 92.3h0M556.2 70.9h0M548.8 66.4h0M540.2 91.1h0M565.2 70.2h0M550.9 95.5h0M547.9 81.9h0M561.2 77.8h0M550.3 58.0h0M548.4 70.6h0M542.9 71.4h0M539.8 77.8h0M541.9 69.8h0M557.1 66.4h0M542.7 75.0h0M552.3 62.3h0M547.4 66.4h0M541.9 75.1h0M542.3 73.8h0M536.5 74.4h0M538.5 68.4h0M546.3 70.5h0M546.0 64.8h0M549.0 58.9h0M542.4 77.1h0M533.3 79.6h0M533.5 78.1h0M537.4 79.4h0M552.6 61.9h0M537.8 87.2h0M549.7 70.0h0M544.1 65.5h0M553.8 72.5h0M537.3 81.9h0M561.6 61.3h0M550.2 66.5h0M544.7 61.7h0M540.8 75.4h0M542.1 69.7h0M533.5 74.3h0M549.2 75.3h0M542.8 73.6h0M541.3 67.7h0M539.2 70.6h0M536.7 79.7h0M555.1 63.9h0M538.7 79.2h0M548.4 61.4h0M528.9 73.7h0M546.4 60.6h0M530.1 82.5h0M543.8 72.4h0M551.5 60.7h0M541.5 76.4h0M537.4 66.9h0M549.4 64.5h0M537.7 68.5h0M550.3 62.6h0M552.5 65.0h0M546.3 57.0h0M560.3 51.7h0M549.8 62.3h0M527.0 84.0h0M531.1 81.5h0M545.1 61.9h0M536.3 74.8h0M550.7 66.6h0M535.1 81.9h0M544.1 73.5h0M544.5 74.1h0M542.5 68.9h0M537.5 69.7h0M537.1 76.9h0M535.2 70.1h0M557.1 61.6h0M530.2 77.7h0M550.2 66.0h0M544.5 73.2h0M532.7 82.5h0M553.8 62.5h0M535.3 77.6h0M554.8 73.4h0M535.4 83.5h0M555.4 51.6h0M550.4 65.0h0M536.3 65.1h0M545.6 72.0h0M545.0 69.5h0M542.0 67.5h0M541.4 66.6h0M548.9 67.6h0M533.4 78.5h0M555.6 64.6h0M536.0 83.1h0M552.7 57.7h0M530.3 78.5h0M542.5 77.8h0M552.6 65.1h0M544.3 67.3h0M530.1 80.3h0M548.1 61.7h0M552.3 68.6h0M542.5 76.0h0M542.7 71.3h0M549.3 54.5h0M530.5 85.5h0M544.1 60.4h0M541.5 67.1h0M531.6 76.2h0M539.1 78.0h0M543.0 74.4h0M536.0 75.8h0M553.4 59.0h0M543.6 60.7h0M547.8 69.4h0M549.0 73.4h0M555.0 62.5h0M530.0 86.2h0M535.9 74.3h0M533.9 66.5h0M542.8 66.7h0M525.9 85.1h0M540.3 74.4h0M540.6 80.9h0M533.3 77.6h0M559.1 61.5h0M547.4 64.9h0M539.9 74.3h0M547.2 76.7h0M533.5 76.4h0M553.4 60.1h0M539.2 69.9h0M545.0 79.4h0M535.2 71.4h0M544.0 68.4h0M549.4 62.8h0M550.9 61.9h0M534.1 78.8h0M551.2 63.9h0M548.0 64.7h0M547.9 62.7h0M549.5 65.4h0M554.4 61.3h0M555.1 61.8h0M552.5 59.6h0M549.6 68.9h0M555.3 54.0h0M549.7 70.6h0M554.1 54.3h0M550.8 62.7h0M540.3 74.0h0M558.5 49.5h0M549.5 68.5h0M547.2 71.9h0M558.9 53.6h0M552.9 65.9h0M551.8 60.8h0M556.7 60.9h0M556.1 51.4h0M548.9 69.9h0M553.6 54.1h0M562.7 52.5h0M554.5 53.7h0M549.6 68.5h0M541.8 69.3h0M554.6 56.1h0M550.6 59.1h0M548.8 64.4h0M553.5 54.0h0M543.9 74.6h0M553.6 54.2h0M549.8 65.5h0M547.6 70.3h0M552.5 65.6h0M550.8 50.3h0M552.4 69.4h0M548.2 60.2h0M547.7 69.5h0M554.4 65.0h0M543.3 62.3h0M546.8 61.5h0M555.1 50.9h0M554.1 57.4h0M546.7 67.7h0M558.2 50.8h0M548.7 63.1h0M546.4 53.3h0M551.1 57.7h0M562.0 51.6h0M550.8 54.7h0M551.7 52.8h0M550.2 61.9h0M550.2 67.1h0M556.4 51.4h0M555.2 54.9h0M552.0 61.5h0M552.1 67.7h0M550.7 60.2h0M549.4 69.4h0M553.3 58.0h0M554.8 70.3h0M556.3 57.9h0M551.0 61.1h0M541.1 75.0h0M552.4 52.0h0M544.6 66.4h0M556.6 56.9h0M553.7 49.7h0M554.0 60.4h0M550.0 66.3h0M539.6 69.2h0M553.1 69.4h0M553.1 58.8h0M553.3 67.6h0M546.6 63.6h0M552.4 56.5h0M548.6 47.5h0M546.5 60.3h0M549.9 63.9h0M549.9 68.1h0M557.1 68.7h0M553.8 53.8h0M555.6 53.8h0M549.8 70.8h0M543.6 64.2h0M555.9 55.7h0M557.6 62.1h0M548.5 62.3h0" stroke="#008000" stroke-width="0.95" stroke-linecap="round" stroke-opacity="0.85"/>
<path d="M558.5 124.2h0M551.4 132.6h0M551.4 131.0h0M549.2 142.0h0M544.6 125.4h0M555.7 134.0h0M548.6 126.1h0M550.2 145.5h0M552.6 125.3h0M551.8 127.6h0M555.8 132.6h0M555.0 131.9h0M557.5 133.3h0M551.9 125.4h0M549.7 133.1h0M549.4 144.7h0M551.0 126.8h0M554.2 128.1h0M552.3 130.5h0M548.7 138.6h0M551.3 137.0h0M549.9 123.2h0M547.0 128.1h0M550.4 131.3h0M552.6 124.2h0M551.7 124.3h0M548.8 145.1h0M555.1 129.0h0M556.7 138.8h0M553.8 139.1h0M550.2 130.3h0M548.2 134.2h0M547.0 128.2h0M552.5 128.2h0M552.1 141.0h0M547.8 138.7h0M548.8 125.9h0M551.7 136.7h0M548.7 127.0h0M549.6 127.0h0M551.6 127.1h0M550.2 132.9h0M549.7 137.3h0M548.8 126.8h0M557.5 139.3h0M551.2 135.6h0M552.1 128.2h0M553.2 132.7h0M555.1 120.9h0M553.6 131.9h0M548.8 128.6h0M549.7 123.7h0M549.2 135.3h0M546.1 128.9h0M543.4 127.8h0M552.3 130.7h0M551.1 124.8h0M552.8 126.0h0M553.9 132.2h0M549.8 139.2h0M549.7 136.6h0M551.3 131.0h0M554.2 133.4h0M551.0 130.4h0M551.7 131.5h0M550.0 125.3h0M542.7 130.4h0M550.2 137.7h0M552.4 137.3h0M556.6 130.4h0M548.3 135.5h0M549.1 129.6h0M555.6 134.0h0M554.5 123.6h0M551.1 137.2h0M546.9 132.1h0M552.3 118.3h0M556.1 127.1h0M550.6 140.2h0M545.3 133.6h0M549.6 131.3h0M548.4 138.5h0M547.4 133.0h0M552.7 130.5h0M550.1 129.6h0M554.3 133.5h0M550.7 125.0h0M551.5 134.0h0M550.9 138.9h0M544.9 144.7h0M550.4 124.7h0M545.4 135.8h0M552.8 129.8h0M550.9 132.0h0M549.7 137.4h0M553.0 130.4h0M545.8 138.6h0M549.5 125.3h0M555.1 133.8h0M544.6 121.9h0M549.7 124.1h0M550.5 145.4h0M560.6 130.8h0M553.6 135.9h0M550.6 122.9h0M554.5 130.1h0M552.5 134.9h0M548.4 140.3h0M551.3 132.3h0M549.6 135.0h0M554.3 128.0h0M552.9 128.7h0M547.1 129.2h0M553.0 134.1h0M554.5 127.3h0M550.1 131.5h0M553.0 130.4h0M548.0 122.5h0M554.8 137.0h0M548.9 139.2h0M550.8 133.6h0M555.1 128.4h0M548.6 121.5h0M552.0 133.6h0M553.8 134.4h0M551.4 137.4h0M547.8 133.2h0M552.7 130.4h0M556.6 133.5h0M555.4 136.0h0M550.5 141.8h0M554.6 131.2h0M550.7 125.4h0M550.6 129.8h0M551.7 128.8h0M552.9 130.6h0M546.0 128.3h0M548.2 124.1h0M550.2 136.1h0M547.5 120.0h0M550.5 147.6h0M549.2 132.6h0M549.7 135.8h0M555.7 130.2h0M554.9 125.1h0M551.7 124.1h0M551.7 127.7h0M551.8 124.9h0M551.8 131.7h0M549.2 126.7h0M547.3 128.9h0M552.4 130.4h0M551.6 138.1h0M550.0 132.7h0M553.7 134.0h0M552.3 131.6h0M557.3 130.7h0M549.8 134.4h0M556.3 138.9h0M551.2 135.7h0M552.7 131.6h0M553.2 134.6h0M551.5 140.7h0M549.9 138.8h0M557.8 142.8h0M552.0 130.1h0M546.0 130.8h0M558.9 122.5h0M546.1 135.8h0M553.1 121.1h0M550.9 133.0h0M546.2 136.4h0M546.8 137.4h0M551.7 127.3h0M545.9 129.3h0M550.8 130.4h0M549.2 130.0h0M553.9 126.1h0M550.4 133.7h0M551.0 135.9h0M556.1 129.2h0M551.8 114.9h0M550.0 134.8h0M547.5 138.5h0M545.0 138.6h0M549.4 125.5h0M549.5 129.6h0M547.8 123.5h0M549.4 136.3h0M552.4 138.5h0M549.1 129.1h0M550.0 131.9h0M552.5 140.8h0M553.3 132.0h0M555.4 126.8h0M546.8 134.8h0M551.6 131.8h0M554.0 129.2h0M550.7 133.2h0M553.1 136.5h0M551.4 132.5h0M543.3 137.8h0M546.0 130.8h0M559.2 129.3h0M546.0 140.0h0M549.3 130.2h0M550.5 135.1h0M553.5 130.4h0M554.6 126.1h0M553.2 127.6h0M553.3 127.4h0M549.6 139.2h0M547.4 124.6h0M552.9 129.6h0M549.6 130.3h0M557.8 125.3h0M550.2 132.0h0M548.0 130.8h0M552.6 126.0h0M554.6 124.7h0M550.6 132.9h0M561.2 121.4h0M551.9 144.9h0M549.1 137.0h0M551.7 123.2h0M552.3 126.1h0M551.3 122.8h0M553.4 117.7h0M550.5 138.1h0M552.7 129.1h0M550.3 128.7h0M559.7 130.7h0M551.0 127.0h0M549.5 134.4h0M549.1 126.6h0M549.2 129.1h0M551.6 128.3h0M550.4 126.9h0M555.0 131.5h0M550.0 132.6h0M550.9 122.4h0M550.4 140.1h0M552.6 137.5h0M548.9 122.8h0M548.8 138.4h0M547.8 126.6h0M554.5 129.6h0M550.4 133.1h0M551.3 129.3h0M551.8 127.1h0M550.9 134.6h0M547.6 129.8h0M547.3 135.1h0M553.0 136.2h0M554.3 136.6h0M553.3 126.7h0M554.0 126.0h0M558.5 132.6h0M552.9 124.2h0M554.4 137.5h0M546.0 127.9h0M549.5 127.4h0M555.4 142.9h0M547.6 136.8h0M550.2 138.5h0M543.2 128.6h0M554.9 126.8h0M554.8 128.2h0M554.6 134.2h0M549.6 126.8h0M550.5 137.4h0M551.0 127.3h0M561.6 122.3h0M550.3 134.0h0M547.6 130.9h0M549.6 122.8h0M552.4 124.7h0M548.6 137.8h0M547.4 134.3h0M554.8 136.4h0M552.5 129.7h0M546.5 131.8h0M552.4 128.2h0M547.8 135.7h0M547.6 133.4h0M549.4 121.7h0M556.1 134.3h0M552.7 123.2h0M550.6 132.5h0M548.6 140.0h0M544.5 134.8h0M544.9 122.3h0M546.8 134.0h0M548.6 127.2h0M548.0 122.7h0M548.0 125.4h0M549.9 128.7h0M543.2 127.2h0M554.7 128.1h0M550.6 126.7h0M548.6 130.3h0M546.5 129.7h0M545.4 132.5h0M545.7 134.2h0M554.0 121.6h0M552.9 128.3h0M554.5 127.6h0M549.8 128.9h0M554.7 119.8h0M553.2 131.0h0M549.1 129.2h0M553.7 135.0h0M556.1 126.9h0M544.6 127.4h0M550.1 128.0h0M554.6 143.0h0M551.9 120.6h0M554.0 126.9h0M550.8 135.1h0M551.8 130.1h0M551.6 134.6h0M552.7 141.8h0M541.1 126.1h0M548.8 135.0h0M551.4 135.1h0M546.1 129.2h0M552.7 130.1h0M549.4 131.9h0M555.9 118.8h0M555.7 131.9h0M547.9 134.0h0M550.8 137.1h0M548.1 135.7h0M547.8 132.2h0M552.9 130.0h0M552.7 127.1h0M554.1 127.6h0M548.4 129.8h0M550.5 125.8h0M553.2 129.7h0M552.6 122.2h0M546.5 128.9h0M547.5 129.7h0M552.5 136.5h0M555.4 134.7h0M548.4 133.4h0M549.0 133.4h0M547.3 137.8h0M552.0 128.8h0M546.3 132.0h0M549.0 131.8h0M548.4 127.4h0M552.7 138.6h0M546.6 129.4h0M551.9 129.6h0M549.3 142.3h0M548.0 132.4h0M549.1 129.9h0M543.4 135.3h0M550.0 125.1h0M556.0 128.9h0M548.7 125.8h0M554.1 130.6h0M549.7 123.2h0M547.8 132.3h0M550.6 119.4h0M547.9 131.7h0M559.3 126.3h0M543.6 134.7h0M549.1 123.2h0M552.5 129.2h0M547.6 123.2h0M550.3 130.9h0M545.0 135.9h0M546.6 138.1h0M551.7 129.4h0M551.8 127.2h0M550.5 139.5h0M548.8 134.9h0M547.8 130.3h0M553.8 123.8h0M551.8 118.6h0M547.0 128.1h0M553.5 134.4h0M547.8 129.7h0M551.3 121.8h0M552.0 137.9h0M554.7 127.2h0M549.4 125.3h0M549.1 129.1h0M552.9 130.9h0M547.7 135.0h0M553.5 127.1h0M549.9 129.9h0M545.4 131.2h0M552.8 141.2h0M551.3 128.9h0M550.2 133.8h0M553.2 125.7h0M551.3 134.1h0M544.3 138.0h0M550.0 135.3h0M550.5 129.1h0M550.4 132.1h0M553.5 129.0h0M547.1 126.6h0M547.6 134.7h0M547.6 138.8h0M551.1 130.0h0M554.9 128.5h0M549.8 134.8h0M553.1 125.0h0M558.6 133.6h0M546.7 129.6h0M553.7 131.7h0M553.5 143.5h0M553.7 141.6h0M552.9 126.9h0M555.6 126.7h0M553.8 134.2h0M548.0 126.7h0M550.2 132.8h0M555.0 131.0h0M556.9 135.5h0M548.8 127.3h0M551.1 127.8h0M550.5 135.0h0M551.7 136.1h0M548.6 126.0h0M546.4 121.0h0M549.4 131.1h0M550.2 130.8h0M557.4 124.8h0M550.0 128.1h0M548.0 138.2h0M550.8 137.7h0M547.3 141.1h0M558.1 126.0h0M550.9 130.1h0M552.7 123.7h0M552.4 134.8h0M549.0 118.4h0M548.7 128.7h0M553.4 127.5h0M547.2 134.3h0M552.1 134.9h0M551.1 136.7h0M552.6 121.1h0M551.6 135.1h0M551.1 138.9h0M549.5 134.7h0M547.0 130.9h0M549.2 125.4h0M546.8 132.1h0M552.3 127.4h0M547.0 126.1h0M553.4 124.3h0M554.6 121.7h0M551.8 134.6h0M554.9 128.6h0M548.5 123.1h0M553.9 130.2h0M549.5 128.6h0M551.8 131.1h0M554.7 119.1h0M553.7 128.0h0M550.7 129.2h0M550.7 135.1h0M551.7 123.0h0M550.7 130.4h0M552.2 131.2h0M550.7 136.6h0M547.5 142.9h0M549.2 125.3h0M553.5 136.9h0M555.0 139.0h0M552.5 131.3h0M552.2 131.0h0M549.2 139.8h0M556.8 131.0h0M550.3 128.3h0M545.6 127.3h0M549.3 130.9h0M547.8 120.5h0M553.1 140.5h0M544.2 130.2h0M553.7 124.6h0M546.4 131.2h0M550.3 127.5h0M556.3 139.3h0M553.1 130.7h0M550.0 135.9h0M550.3 139.2h0M555.0 127.7h0M553.5 139.7h0M553.2 125.9h0M550.2 129.3h0M551.5 131.3h0M550.0 135.9h0M555.4 128.1h0M546.4 133.2h0M551.1 133.5h0M548.9 132.8h0M548.2 137.3h0M556.5 126.2h0M542.9 128.6h0M549.5 132.4h0M551.3 134.0h0M559.9 128.3h0M550.0 133.7h0M545.3 135.7h0M549.2 123.5h0M548.5 134.2h0M553.9 138.3h0M552.6 127.4h0M553.0 131.0h0M558.7 120.1h0M556.4 135.7h0M552.6 131.0h0M549.5 126.2h0M546.3 142.7h0M554.3 135.2h0M552.5 121.0h0M550.4 132.2h0M555.0 126.0h0M552.2 130.2h0M551.4 127.3h0M552.5 132.0h0M545.3 138.2h0M558.4 126.7h0M555.0 126.2h0M549.6 141.3h0M552.0 139.9h0M552.3 137.2h0M550.8 139.5h0M557.1 135.4h0M549.6 129.6h0M548.4 135.0h0M553.1 127.8h0M554.3 128.5h0M557.2 136.2h0M556.5 127.8h0M548.2 121.7h0M553.5 125.5h0M555.7 132.5h0M553.9 124.7h0M549.5 132.8h0M553.8 124.7h0M552.5 127.2h0M554.0 130.5h0M550.5 134.2h0M555.1 130.4h0M555.4 126.3h0M552.4 125.6h0M552.1 126.8h0M551.6 135.2h0M548.4 122.1h0M550.9 134.6h0M552.2 126.8h0M554.1 130.2h0M553.9 126.9h0M552.8 138.2h0M549.3 130.1h0M553.4 134.6h0M552.6 131.1h0M546.4 131.7h0M547.3 132.2h0M544.0 139.6h0M557.5 134.1h0M548.7 130.0h0M554.2 135.3h0M549.2 138.2h0M553.7 134.6h0M550.3 131.7h0M549.1 132.7h0M549.3 138.1h0M551.5 132.8h0M552.4 133.4h0M546.9 138.6h0M551.7 128.7h0M548.3 127.9h0M549.4 131.7h0M548.6 132.2h0M551.8 127.9h0M558.4 131.0h0M552.4 132.2h0M550.9 135.3h0M555.7 131.2h0M548.6 134.6h0M544.5 132.4h0M550.7 133.4h0M546.5 129.2h0M548.1 128.6h0M553.2 130.5h0M549.4 138.0h0M551.3 120.5h0M548.0 133.7h0M552.6 132.6h0M552.1 126.5h0M550.9 124.9h0M548.6 126.4h0M548.6 129.5h0M550.5 127.0h0M554.6 128.8h0M556.0 136.7h0M547.3 136.1h0M546.7 139.1h0M552.2 125.8h0M544.2 129.0h0M546.8 137.1h0M547.1 129.9h0M552.6 131.1h0M551.9 129.7h0M553.3 126.0h0M552.8 124.5h0M551.6 124.8h0M550.4 134.2h0M554.9 121.2h0M548.6 125.7h0M554.8 126.3h0M553.2 128.2h0M546.4 131.6h0M547.4 134.9h0M553.6 138.2h0M547.8 139.5h0M554.0 121.2h0M558.0 140.1h0M547.7 132.7h0M546.7 130.2h0M551.6 134.3h0M548.4 130.8h0M548.0 133.0h0M553.1 131.3h0M554.6 135.0h0M552.1 137.2h0M547.0 130.7h0M545.4 130.8h0M549.5 135.4h0M549.6 127.5h0M550.7 130.2h0M552.6 126.2h0M546.2 122.3h0M554.6 124.1h0M549.5 124.9h0M553.7 127.9h0M554.8 127.1h0M551.9 135.1h0M554.0 124.5h0M549.8 130.5h0M545.2 134.8h0M552.2 133.7h0M546.6 132.0h0M552.4 136.6h0M549.3 134.6h0M557.2 128.6h0M549.7 129.2h0M546.3 129.0h0M556.1 125.9h0M550.4 137.5h0M552.8 132.2h0M549.9 130.4h0M551.0 134.7h0M551.2 136.1h0M545.1 135.4h0M549.3 131.1h0M549.7 134.5h0M550.6 134.4h0M548.5 132.0h0M554.9 137.1h0M549.9 131.8h0M549.8 130.4h0M551.1 137.6h0M552.8 138.9h0M555.9 124.1h0M552.0 128.6h0M545.9 125.2h0M549.4 140.1h0M551.3 130.0h0M550.9 127.0h0M551.6 130.5h0M545.9 128.1h0M561.6 134.4h0M550.7 134.6h0M548.0 131.5h0M553.8 122.3h0M548.7 128.9h0M550.1 128.3h0M551.9 136.5h0M552.1 136.6h0M554.3 127.8h0M551.9 129.0h0M553.1 129.2h0M550.4 140.2h0M550.5 122.6h0M551.4 132.6h0M549.4 131.4h0M554.2 128.3h0M550.4 127.2h0M552.1 130.4h0M548.1 130.2h0M561.8 114.1h0M542.9 132.1h0M542.9 146.3h0M542.3 117.6h0M548.1 138.6h0M555.8 134.1h0M552.8 140.6h0M540.4 131.6h0M559.5 119.7h0M553.0 139.9h0M558.4 127.9h0M562.0 133.6h0M557.4 119.7h0M546.7 122.4h0M561.4 108.6h0M540.3 136.1h0M551.9 103.1h0M548.8 126.4h0M558.2 112.3h0M548.0 138.5h0M555.5 121.1h0M549.4 116.2h0M559.1 125.4h0M558.5 136.2h0M545.9 127.9h0M554.9 133.0h0M560.0 139.0h0M553.0 135.2h0M547.0 124.0h0M554.6 132.1h0M544.7 128.5h0M546.5 124.4h0M558.7 121.0h0M547.3 134.2h0M551.6 130.7h0M542.8 129.0h0M549.0 122.2h0M547.9 126.7h0M556.1 145.7h0M551.8 142.2h0M551.8 116.3h0M551.5 140.5h0M559.3 121.6h0M564.2 122.9h0M547.0 124.8h0M559.6 132.8h0M556.5 110.0h0M550.9 128.4h0M555.3 125.3h0M558.2 123.4h0M543.1 115.1h0M558.6 136.0h0M546.7 139.0h0M550.3 128.3h0M542.8 124.6h0M551.9 131.2h0M548.0 138.0h0M559.6 122.4h0M553.6 116.1h0M553.7 121.0h0M550.4 130.9h0M549.9 138.5h0M546.8 125.4h0M553.2 129.1h0M552.8 127.6h0M546.6 135.2h0M551.7 137.3h0M559.0 126.4h0M547.0 125.5h0M547.5 112.2h0M560.8 133.0h0M564.8 124.6h0M554.7 131.9h0M550.9 138.0h0M551.3 128.8h0M552.3 110.1h0M547.2 123.1h0M560.9 134.6h0M555.9 135.0h0M550.2 143.8h0M550.1 117.3h0M555.0 139.7h0M551.9 132.7h0M556.9 142.8h0M554.7 144.1h0M553.0 147.7h0M543.4 137.7h0M553.0 130.6h0M544.0 138.9h0M550.2 120.9h0M547.7 127.5h0M552.0 121.7h0M546.0 133.2h0M551.0 146.6h0M548.9 136.0h0M561.4 127.8h0M557.1 132.2h0M551.7 143.5h0M545.6 124.3h0M541.2 128.5h0M557.1 127.4h0M556.1 123.0h0M558.0 128.6h0M548.6 143.7h0M551.3 134.5h0M552.1 135.6h0M552.1 119.1h0M553.0 133.7h0M553.6 127.6h0M561.8 123.2h0M552.1 131.4h0M545.1 119.2h0M555.2 135.4h0M552.2 115.7h0M549.7 131.6h0M554.9 139.8h0M554.0 137.9h0M560.9 109.4h0M557.1 125.8h0M554.1 131.3h0" stroke="#0000ff" stroke-width="0.95" stroke-linecap="round" stroke-opacity="0.85"/>
<path d="M559.9 22.0h0M556.4 24.3h0M564.7 23.6h0M564.2 25.2h0M562.8 24.7h0M565.8 26.1h0M548.5 26.9h0M564.7 24.1h0M565.1 23.9h0M564.8 23.3h0M568.1 27.1h0M555.6 23.9h0M568.2 27.3h0M564.9 22.5h0M560.1 26.6h0M565.8 26.0h0M559.2 25.3h0M561.2 22.4h0M557.6 23.5h0M555.2 27.5h0M568.6 28.8h0M559.5 23.7h0M565.5 24.6h0M562.2 25.0h0M554.6 30.0h0M555.6 21.1h0M568.8 22.6h0M570.3 27.1h0M566.1 24.8h0M555.7 22.3h0M564.6 25.7h0M556.9 22.4h0M558.9 25.8h0M566.6 28.8h0M561.8 30.5h0M568.2 30.6h0M558.9 27.8h0M570.4 20.5h0M569.4 27.3h0M569.4 26.5h0M570.7 24.7h0M561.0 28.2h0M568.2 21.8h0M571.0 29.7h0M570.0 23.7h0M571.4 27.6h0M569.4 25.8h0M561.5 23.8h0M560.4 28.8h0M559.5 24.1h0M565.9 25.2h0M552.1 24.0h0M561.9 31.0h0M567.9 22.9h0M557.6 24.6h0M565.3 23.6h0M566.5 21.6h0M565.9 29.7h0M548.6 25.9h0M565.5 27.4h0M564.6 25.8h0M565.6 26.3h0M564.5 30.9h0M570.0 28.9h0M560.3 24.5h0M570.1 22.8h0M569.9 21.8h0M576.3 29.8h0M560.8 24.6h0M552.2 25.8h0M570.9 27.9h0M562.5 32.3h0M567.2 27.3h0M562.3 27.8h0M579.2 27.4h0M554.3 26.7h0M575.1 29.7h0M561.0 27.1h0M555.4 28.0h0M558.9 24.4h0M560.7 23.8h0M573.8 30.6h0M562.3 26.3h0M573.8 25.1h0M561.4 23.4h0M573.1 26.5h0M564.1 24.7h0M558.7 28.9h0M559.5 24.4h0M554.2 22.6h0M561.0 24.5h0M555.2 24.1h0M563.2 17.9h0M567.3 25.1h0M556.2 25.1h0M566.5 26.0h0M564.2 26.0h0M567.7 21.8h0M560.5 27.1h0M564.1 22.7h0M562.3 23.8h0M564.0 20.8h0M554.5 21.5h0M563.1 33.6h0M569.6 29.7h0M564.0 30.9h0M566.0 26.2h0M570.2 22.2h0M551.2 22.3h0M572.1 28.7h0M565.0 25.2h0M562.9 27.1h0M558.9 28.3h0M558.2 30.1h0M561.9 23.1h0M562.2 23.1h0M563.1 20.3h0M561.0 26.2h0M566.1 24.7h0M570.9 20.7h0M562.6 24.4h0M563.8 25.1h0M571.9 25.9h0M558.5 33.7h0M564.1 25.4h0M569.0 24.1h0M562.5 28.6h0M556.9 24.5h0M569.3 31.5h0M563.4 25.6h0M570.2 21.3h0M559.8 23.4h0M551.8 16.9h0M561.5 28.7h0M567.7 29.9h0M547.9 25.5h0M571.6 23.2h0M556.2 27.0h0M563.9 27.9h0M563.8 29.8h0M567.9 26.7h0M561.6 28.1h0M560.0 28.9h0M570.6 28.9h0M556.4 27.3h0M566.0 28.7h0M554.8 24.1h0M563.4 30.3h0M560.4 28.7h0M564.7 32.0h0M565.8 20.9h0M562.3 26.7h0M571.3 28.0h0M562.2 22.0h0M564.1 25.6h0M571.7 28.8h0M555.7 18.7h0M561.5 26.8h0M558.2 24.3h0M570.9 28.3h0M553.8 27.0h0M564.8 25.3h0M567.2 27.8h0M578.5 26.7h0M559.6 24.4h0M568.1 32.0h0M567.5 27.6h0M565.5 24.6h0M564.4 22.2h0M568.3 27.5h0M565.0 23.3h0M562.4 24.2h0M565.7 25.1h0M566.1 28.9h0M571.4 22.8h0M562.0 22.5h0M571.3 23.3h0M571.9 24.4h0M570.0 24.3h0M562.6 26.4h0M564.5 25.5h0M567.9 29.7h0M569.0 24.5h0M553.1 26.3h0M547.3 28.1h0M567.6 22.2h0M567.4 23.9h0M571.4 23.6h0M559.1 23.9h0M565.4 22.7h0M577.2 24.8h0M574.3 25.1h0M562.1 23.8h0M559.5 27.4h0M571.0 26.3h0M558.7 26.7h0M559.3 17.6h0M564.7 20.5h0M560.3 26.2h0M561.6 25.2h0M573.1 29.0h0M572.9 26.7h0M565.3 31.5h0M560.3 27.0h0M564.8 26.9h0M567.5 26.4h0M568.7 23.3h0M566.9 22.7h0M570.3 29.1h0M562.8 24.4h0M563.8 27.7h0M555.1 22.8h0M569.4 25.3h0M556.4 19.0h0M561.3 20.5h0M564.7 25.7h0M574.6 22.0h0M567.6 22.2h0M557.8 25.3h0M558.9 31.6h0M563.5 23.6h0M577.3 23.4h0M561.6 25.2h0M559.3 27.8h0M570.8 21.9h0M560.9 24.7h0M555.6 21.8h0M561.6 23.1h0M565.6 28.4h0M564.8 26.7h0M558.4 24.0h0M566.0 27.6h0M563.2 27.5h0M562.2 22.2h0M565.5 24.5h0M553.8 28.4h0M565.9 28.1h0M560.9 30.4h0M566.5 28.9h0M559.9 24.9h0M571.1 25.8h0M563.8 30.4h0M570.4 26.5h0M574.7 21.2h0M563.3 24.1h0M572.2 30.7h0M560.9 26.3h0M569.1 27.5h0M565.3 28.9h0M575.0 26.2h0M557.4 25.5h0M563.5 24.7h0M567.8 28.1h0M569.0 27.3h0M565.3 22.7h0M561.8 23.2h0M565.6 25.5h0M563.6 27.5h0M562.1 29.1h0M569.8 23.0h0M571.3 24.9h0M559.6 24.9h0M556.5 26.9h0M570.7 21.3h0M566.2 27.7h0M567.6 27.8h0M566.3 24.5h0M568.9 26.9h0M568.3 26.8h0M562.3 25.7h0M567.3 29.1h0M552.9 22.0h0M554.5 24.3h0M560.0 26.5h0M562.0 29.9h0M560.3 23.7h0M559.1 25.0h0M564.7 24.4h0M558.5 21.7h0M564.8 24.2h0M558.1 25.0h0M565.6 32.1h0M573.0 23.2h0M561.2 19.9h0M552.5 20.2h0M568.9 25.4h0M555.3 23.8h0M560.8 23.8h0M572.1 20.0h0M561.1 26.6h0M566.4 19.2h0M564.8 22.0h0M560.4 21.0h0M568.1 35.3h0M569.5 24.9h0M553.7 28.5h0M570.5 22.5h0M569.1 20.4h0M556.4 26.3h0M555.8 28.2h0M571.9 26.0h0M566.6 30.7h0M566.7 29.9h0M572.0 22.7h0M576.3 29.5h0M564.7 28.4h0M565.7 26.6h0M558.2 24.7h0M562.0 29.3h0M566.6 27.2h0M563.3 29.8h0M549.9 23.2h0M569.4 24.7h0M567.6 30.8h0M568.5 21.5h0M562.6 22.5h0M566.6 29.1h0M562.6 27.5h0M562.8 31.8h0M564.7 26.7h0M567.2 29.2h0M567.9 25.9h0M564.3 27.5h0M567.3 24.8h0M560.7 25.3h0M566.6 24.6h0M557.8 25.0h0M561.2 27.8h0M561.1 24.8h0M574.7 27.4h0M558.7 29.7h0M561.9 23.5h0M567.7 21.7h0M563.6 27.7h0M568.3 24.4h0M561.2 25.7h0M570.9 20.6h0M568.7 26.9h0M571.8 22.6h0M570.6 23.4h0M565.7 24.8h0M550.0 25.8h0M566.3 28.6h0M560.4 22.5h0M568.1 24.9h0M570.0 30.3h0M562.7 25.5h0M559.9 19.9h0M564.0 28.2h0M570.1 26.0h0M574.6 24.4h0M563.9 24.4h0M561.5 25.2h0M560.1 24.8h0M565.7 26.4h0M558.1 27.6h0M559.4 27.4h0M564.5 20.2h0M558.2 28.9h0M560.4 24.0h0M561.6 26.4h0M567.4 25.2h0M573.7 24.3h0M561.4 25.5h0M565.0 30.5h0M577.5 25.0h0M563.1 28.0h0M563.4 28.7h0M558.0 28.7h0M551.6 27.7h0M567.9 33.6h0M558.9 28.2h0M567.8 23.2h0M565.6 23.5h0M557.4 21.4h0M562.8 22.8h0M552.2 26.9h0M554.2 28.2h0M565.5 23.5h0M554.9 23.2h0M556.3 24.9h0M561.9 33.6h0M552.0 24.2h0M567.2 29.2h0M571.8 23.0h0M568.7 17.1h0M562.7 28.6h0M568.1 21.6h0M559.2 19.3h0M559.7 21.7h0M565.6 23.6h0M567.5 25.6h0M562.0 31.5h0M570.8 21.9h0M572.0 28.4h0M571.7 27.4h0M553.5 24.8h0M549.8 21.6h0M559.9 29.9h0M564.2 26.7h0M568.3 23.2h0M570.4 26.7h0M558.4 24.2h0M562.5 27.9h0M572.3 25.0h0M562.7 31.6h0M582.6 31.6h0M565.1 24.9h0M568.0 26.9h0M559.3 30.2h0M578.8 23.3h0M559.3 24.4h0M556.6 28.5h0M555.5 28.1h0M566.3 28.3h0M555.3 26.4h0M565.6 28.8h0M566.2 24.2h0M570.7 30.3h0M571.9 23.6h0M567.1 23.1h0M563.0 28.4h0M555.5 34.7h0M571.2 23.6h0M560.6 25.7h0M563.1 22.2h0M563.2 21.1h0M560.3 31.6h0M563.6 24.8h0M573.3 27.0h0M567.7 24.2h0M570.5 24.9h0M569.2 28.0h0M574.2 29.1h0M563.9 22.6h0M562.2 23.8h0M573.0 24.6h0M550.4 27.2h0M568.8 23.1h0M568.2 21.8h0M565.4 25.5h0M565.8 27.3h0M560.0 28.5h0M561.0 26.4h0M572.4 23.1h0M564.4 31.1h0M571.5 23.8h0M560.3 27.7h0M560.1 26.2h0M555.8 28.0h0M554.4 26.4h0M568.1 23.9h0M554.6 21.9h0M552.6 31.7h0M552.5 21.9h0M565.9 26.1h0M570.1 30.2h0M566.6 25.8h0M560.6 25.4h0M569.6 27.9h0M567.7 20.6h0M559.4 23.8h0M560.7 22.6h0M568.0 29.4h0M574.8 24.3h0M563.4 26.3h0M563.9 23.3h0M568.7 19.5h0M561.1 19.9h0M567.7 21.5h0M557.0 25.9h0M557.7 26.8h0M561.6 32.3h0M556.7 23.4h0M567.4 26.4h0M566.7 25.1h0M569.7 27.1h0M571.9 21.7h0M565.5 25.3h0M566.4 23.0h0M568.8 21.7h0M569.3 27.7h0M553.2 27.3h0M552.3 27.8h0M554.4 25.8h0M562.4 20.8h0M552.8 27.6h0M561.1 29.5h0M563.7 34.8h0M565.1 31.7h0M566.1 26.3h0M567.3 23.6h0M560.1 31.3h0M562.9 22.3h0M567.1 23.3h0M564.5 29.7h0M571.9 31.9h0M571.2 28.2h0M567.4 27.0h0M563.9 33.4h0M563.7 31.5h0M563.5 30.0h0M547.1 26.6h0M560.5 31.2h0M573.3 24.1h0M563.8 29.1h0M566.1 26.5h0M570.2 22.0h0M574.1 27.6h0M547.0 23.3h0M563.9 33.5h0M564.4 21.4h0M572.7 27.5h0M564.5 29.6h0M562.2 25.9h0M570.6 27.7h0M570.4 25.1h0M574.8 21.8h0M556.4 28.0h0M562.8 27.0h0M564.9 25.9h0M558.3 27.4h0M572.6 23.7h0M576.1 31.4h0M559.7 29.0h0M558.2 26.0h0M558.2 24.7h0M553.6 25.9h0M558.5 23.5h0M552.9 26.5h0M576.2 25.2h0M563.8 22.8h0M561.9 23.7h0M555.4 23.5h0M561.6 27.4h0M562.7 27.3h0M572.5 29.3h0M562.2 20.7h0M563.5 26.6h0M570.6 26.8h0M581.4 25.3h0M568.6 23.4h0M558.6 25.4h0M565.8 28.5h0M545.7 29.9h0M573.6 30.6h0M569.7 25.9h0M567.9 30.4h0M558.7 28.4h0M567.6 25.8h0M575.3 24.1h0M558.6 26.1h0M560.7 30.6h0M554.5 22.1h0M566.4 28.6h0M557.4 30.4h0M553.0 29.5h0M559.1 24.7h0M575.2 26.0h0M560.6 27.0h0M575.7 26.4h0M559.8 26.9h0M557.0 24.0h0M561.0 28.3h0M561.4 27.7h0M571.3 31.2h0M554.2 26.0h0M557.4 28.2h0M565.8 26.1h0M561.1 23.1h0M554.2 29.3h0M563.1 26.3h0M566.2 28.7h0M575.6 25.6h0M568.2 20.9h0M562.0 23.9h0M560.6 29.9h0M565.0 26.4h0M564.8 25.5h0M563.0 24.1h0M561.1 24.8h0M563.2 20.2h0M564.7 26.0h0M566.8 22.6h0M558.7 28.7h0M560.0 27.7h0M560.3 22.3h0M555.6 24.2h0M561.5 22.3h0M572.7 26.2h0M559.0 30.9h0M569.2 23.7h0M558.2 25.6h0M568.6 21.7h0M571.1 24.9h0M569.3 25.7h0M567.2 28.2h0M572.0 23.9h0M575.6 22.1h0M566.2 28.3h0M564.5 29.0h0M554.7 26.0h0M570.3 26.2h0M557.8 26.7h0M565.5 23.1h0M572.2 24.5h0M558.3 26.5h0M560.5 25.6h0M565.8 24.9h0M567.9 27.1h0M571.6 23.1h0M564.8 27.0h0M566.1 19.6h0M558.1 27.2h0M567.8 26.3h0M565.5 30.1h0M562.3 23.8h0M573.3 28.2h0M563.4 24.0h0M573.9 25.4h0M559.6 30.2h0M555.7 25.8h0M568.1 25.3h0M561.4 27.6h0M557.2 25.5h0M568.7 22.8h0M572.6 25.6h0M564.0 24.7h0M567.8 24.7h0M565.8 30.2h0M571.8 21.4h0M572.4 24.7h0M566.2 26.5h0M566.1 24.3h0M567.9 29.4h0M561.0 26.2h0M569.2 29.6h0M566.4 27.1h0M567.3 25.2h0M566.4 25.3h0M562.4 18.8h0M553.8 27.4h0M568.8 27.6h0M565.0 25.3h0M567.7 24.9h0M564.3 30.9h0M556.2 24.3h0M562.9 20.2h0M557.3 29.5h0M567.4 25.7h0M572.0 23.1h0M575.6 26.0h0M560.8 29.6h0M567.4 26.8h0M563.6 20.5h0M552.0 26.2h0M570.0 23.6h0M564.8 21.2h0M555.4 26.0h0M568.4 28.5h0M571.3 23.6h0M563.3 28.6h0M558.2 25.2h0M564.2 26.1h0M569.4 27.5h0M561.6 18.8h0M568.9 29.2h0M567.2 27.2h0M566.8 29.9h0M561.2 25.9h0M558.3 25.4h0M559.3 23.5h0M552.4 25.8h0M570.1 16.6h0M571.7 26.0h0M560.1 27.0h0M562.6 25.8h0M572.5 26.6h0M566.3 25.2h0M563.1 23.2h0M563.4 23.6h0M570.8 25.3h0M568.4 30.1h0M570.1 23.9h0M573.9 20.1h0M572.5 18.1h0M558.7 25.8h0M559.8 19.4h0M555.2 26.8h0M553.9 28.0h0M570.8 30.3h0M565.5 25.9h0M561.7 34.7h0M571.1 28.0h0M566.0 29.5h0M552.7 28.7h0M560.6 18.7h0M570.5 23.6h0M566.6 23.7h0M561.7 31.1h0M566.0 27.3h0M554.7 28.9h0M560.2 27.5h0M558.0 27.2h0M567.3 21.4h0M565.9 23.2h0M571.4 27.2h0M564.3 35.6h0M569.0 24.8h0M569.2 26.9h0M572.0 22.9h0M575.7 24.4h0M561.8 23.7h0M562.3 32.1h0M565.2 22.7h0M563.2 26.8h0M569.7 25.0h0M565.2 35.3h0M563.3 26.4h0M557.0 29.1h0M561.3 31.9h0M571.2 28.6h0M561.1 25.0h0M561.8 26.3h0M562.0 24.3h0M564.7 26.0h0M561.8 28.9h0M570.3 24.3h0M576.8 27.3h0M571.4 32.0h0M555.7 27.6h0M569.5 29.9h0M568.8 29.2h0M555.2 23.0h0M567.5 19.6h0M560.8 25.5h0M566.3 28.9h0M565.5 23.4h0M558.4 27.4h0M567.6 27.2h0M564.9 26.4h0M555.8 26.0h0M568.6 22.5h0M566.7 28.3h0M578.0 25.9h0M562.6 22.2h0M557.6 20.9h0M553.5 28.3h0M564.1 27.0h0M554.7 19.6h0M553.6 31.2h0M570.8 21.8h0M564.7 26.6h0M558.3 24.0h0M569.8 28.3h0M569.5 27.1h0M564.9 27.7h0M563.2 31.4h0M565.5 27.8h0M563.7 24.0h0M563.9 25.1h0M559.4 28.7h0M576.1 27.0h0M563.6 23.8h0M555.5 28.0h0M567.6 23.6h0M564.7 23.4h0M572.7 26.5h0M566.9 31.5h0M551.0 27.4h0M565.9 25.2h0M564.4 30.1h0M560.4 24.1h0M574.6 29.4h0M567.2 28.7h0M564.9 25.3h0M563.5 27.2h0M561.6 21.2h0M563.4 27.1h0M563.6 28.3h0M566.1 29.3h0M565.2 25.7h0M567.8 29.0h0M561.8 23.5h0M572.3 24.6h0M566.6 24.8h0M565.7 30.6h0M574.4 22.1h0M555.9 15.7h0M567.9 31.1h0M566.0 25.3h0M569.3 23.3h0M568.3 30.5h0M571.7 28.4h0M561.4 25.2h0M559.0 32.1h0M571.8 26.0h0M564.0 27.0h0M560.5 27.8h0M567.3 27.6h0M564.7 18.3h0M563.2 21.8h0M554.5 33.2h0M561.4 25.6h0M562.6 23.5h0M573.9 20.4h0M567.1 24.3h0M571.8 28.8h0M564.8 21.5h0M568.9 29.2h0M568.2 25.2h0M568.0 23.7h0M565.7 27.3h0M562.9 23.0h0M562.9 23.4h0M557.2 29.4h0M563.3 24.5h0M561.2 27.5h0M562.3 23.9h0M565.8 26.6h0M558.9 22.7h0M571.9 25.2h0M571.3 28.0h0M563.8 25.4h0M573.8 24.1h0M561.9 23.5h0M563.3 23.2h0M564.9 22.1h0M567.3 27.2h0M565.4 24.2h0M571.8 32.4h0M563.4 23.7h0M568.0 25.4h0M565.0 28.1h0M556.2 28.4h0M558.0 22.2h0M561.9 30.7h0M560.4 27.6h0M558.7 28.1h0M566.1 29.7h0M565.2 26.1h0M553.1 27.1h0M568.8 26.7h0M565.2 27.9h0M569.3 23.3h0M563.7 27.4h0M565.7 23.1h0M552.4 27.1h0M568.4 31.4h0M566.6 23.3h0M566.8 25.7h0M560.1 21.5h0M553.4 23.9h0M561.7 26.3h0M564.2 26.8h0M575.4 25.9h0M572.2 23.6h0M559.8 24.4h0M553.5 31.3h0M565.6 28.3h0M574.3 27.5h0M573.8 18.6h0M571.6 27.0h0M560.8 29.5h0M564.3 23.8h0M552.6 31.7h0M548.6 26.3h0M573.6 28.1h0M560.4 25.2h0M560.5 26.8h0M563.6 22.0h0M555.3 29.7h0M556.5 22.4h0M577.9 23.4h0M556.2 22.9h0M568.6 23.6h0M563.2 18.7h0M560.3 26.1h0M564.3 30.7h0M567.0 16.8h0M554.2 23.1h0M562.2 26.1h0M567.7 20.6h0M550.6 28.5h0M557.9 18.4h0M558.2 24.5h0M556.6 22.2h0M569.9 22.4h0M565.7 26.6h0M561.7 33.4h0M555.7 34.2h0M558.1 25.0h0M565.6 29.5h0M568.0 24.8h0M561.7 29.7h0M573.0 24.2h0M571.2 27.7h0M565.4 22.4h0M556.3 27.3h0M547.2 24.3h0M566.3 17.9h0M575.9 37.9h0M554.4 27.2h0M561.9 24.7h0M559.0 30.8h0M576.2 28.4h0M563.8 28.7h0M557.4 31.7h0M559.0 22.0h0M568.2 16.8h0M558.9 25.6h0M561.9 18.7h0M555.4 27.1h0M567.8 27.3h0M561.3 23.0h0M563.1 11.3h0M568.1 33.8h0M562.8 22.2h0M573.6 23.9h0M573.7 26.4h0M556.9 26.7h0M557.5 27.0h0M566.9 26.4h0M559.3 27.9h0M566.1 28.0h0M567.3 31.5h0M565.3 32.3h0M563.1 34.8h0M566.2 33.0h0M561.5 19.6h0M559.5 28.2h0M565.9 27.8h0M574.7 20.3h0M549.0 26.9h0M557.6 28.2h0M568.2 44.1h0M552.6 21.7h0M562.6 19.3h0M557.0 35.6h0M562.5 27.8h0M571.7 17.9h0M564.0 27.7h0M565.1 22.1h0M559.6 27.4h0M568.8 23.7h0M567.8 15.5h0M566.3 32.6h0M555.9 26.3h0M563.0 29.7h0M572.4 29.1h0M561.2 26.8h0M565.1 32.6h0M565.0 24.8h0M560.4 23.4h0M556.2 25.1h0M558.5 32.5h0M553.7 28.4h0M553.9 32.6h0M565.4 35.4h0M567.3 22.0h0M563.3 24.3h0M558.9 22.0h0M560.6 28.5h0M564.7 42.5h0M561.7 28.5h0M562.3 26.5h0M560.7 28.3h0M561.5 32.3h0M566.3 22.9h0M563.0 29.8h0M560.9 26.7h0M562.3 31.6h0M564.4 24.9h0M562.7 35.2h0M555.7 31.8h0M561.1 49.5h0M567.9 28.3h0M562.2 19.3h0M559.1 39.6h0M565.8 26.4h0M563.0 28.3h0M555.7 28.6h0M566.9 19.5h0M561.2 12.3h0M550.1 32.8h0M572.4 38.7h0M553.1 27.5h0M560.5 34.1h0M565.5 28.5h0M567.6 25.4h0M570.5 26.1h0M571.5 29.1h0M564.8 21.5h0M551.3 19.1h0M566.8 15.7h0M573.5 26.2h0M552.8 30.0h0M553.6 28.3h0M561.0 34.9h0M569.9 33.4h0M559.5 35.2h0M562.5 28.7h0M566.4 29.6h0M552.9 31.7h0M551.0 30.7h0M562.5 28.5h0M554.7 33.7h0M561.9 32.9h0M557.5 23.9h0M563.6 33.9h0M553.0 24.7h0M559.2 26.5h0M559.6 34.2h0M568.4 28.2h0M569.4 33.9h0M558.3 23.9h0M568.3 40.1h0M545.0 24.5h0M569.0 23.4h0M569.6 29.3h0M553.5 25.4h0M565.9 22.9h0M567.5 29.8h0M560.7 30.3h0M560.3 29.3h0M555.4 36.1h0M561.0 34.7h0M579.4 37.0h0M562.9 28.9h0M562.7 29.8h0M556.7 17.7h0M565.5 28.3h0M574.7 38.4h0M552.6 22.7h0M568.9 34.8h0M564.0 28.4h0M549.0 41.1h0M557.7 31.3h0M565.7 22.9h0M569.6 36.4h0M562.7 28.9h0M568.1 33.7h0M569.7 22.9h0M555.9 24.9h0M542.5 20.5h0M561.6 24.2h0M556.6 33.1h0M565.6 32.7h0M561.8 25.6h0M556.4 29.4h0M557.7 48.8h0M560.2 38.0h0M558.4 37.4h0M558.6 37.1h0M560.6 35.2h0M557.3 46.8h0M563.0 39.7h0M556.9 50.8h0M556.3 49.5h0M558.2 49.3h0M558.8 36.4h0M557.5 41.3h0M557.2 46.6h0M555.8 40.7h0M562.3 35.9h0M555.3 48.4h0M558.2 39.9h0M557.4 45.4h0M557.3 43.5h0M561.8 45.0h0M555.2 43.3h0M558.1 41.7h0M560.9 47.2h0M558.8 55.1h0M561.1 40.4h0M554.8 46.8h0M553.5 44.8h0M556.2 46.1h0M563.7 34.7h0M557.7 45.3h0M559.4 37.2h0M565.7 32.3h0M559.8 37.8h0M551.4 48.7h0M555.5 40.2h0M557.1 48.4h0M558.0 43.6h0M560.0 47.1h0M562.2 38.7h0M557.7 48.8h0M560.6 40.7h0M557.1 42.8h0M556.9 42.3h0M559.3 41.6h0M565.0 30.9h0M560.5 39.7h0M560.3 35.7h0M561.1 32.6h0M555.3 44.3h0M558.7 34.5h0M558.2 54.8h0M554.4 43.2h0M558.0 39.3h0M561.6 34.5h0M561.9 32.2h0M561.3 46.3h0M557.5 48.6h0M556.5 36.9h0M560.2 48.6h0M555.3 39.8h0M561.2 40.6h0M557.2 34.7h0M560.1 37.6h0M555.2 47.7h0M560.1 36.9h0M557.0 36.6h0M557.0 42.6h0M558.0 53.2h0M558.9 45.8h0M555.9 35.7h0" stroke="#bf00bf" stroke-width="0.95" stroke-linecap="round" stroke-opacity="0.85"/>
<path d="M499.9 76.2h0M501.5 89.5h0M494.7 85.1h0M487.3 78.7h0M490.9 83.0h0M500.9 79.1h0M490.3 74.3h0M494.8 85.8h0M500.1 98.6h0M496.9 80.2h0M495.2 87.7h0M493.5 78.7h0M495.8 77.8h0M493.4 83.8h0M479.2 89.9h0M506.0 83.4h0M490.4 92.0h0M486.4 86.0h0M495.2 82.1h0M493.5 80.2h0M490.6 90.2h0M488.9 82.1h0M489.9 89.2h0M491.7 80.2h0M495.7 72.5h0M483.1 87.8h0M504.4 82.6h0M495.8 76.7h0M494.6 87.1h0M497.1 80.9h0M504.8 79.5h0M502.5 78.7h0M498.4 94.7h0M506.2 85.1h0M484.5 91.5h0M489.9 78.8h0M490.6 79.9h0M498.2 87.1h0M497.8 91.6h0M491.7 90.6h0M500.8 98.2h0M494.9 84.2h0M488.6 83.3h0M494.0 87.6h0M486.3 83.2h0M492.8 82.0h0M490.5 88.2h0M488.4 89.1h0M487.8 87.4h0M487.6 93.8h0M498.1 94.8h0M489.2 77.2h0M486.4 84.4h0M500.0 90.6h0M497.8 77.8h0M500.1 90.8h0M490.8 69.0h0M489.4 85.1h0M502.9 87.4h0M493.6 96.5h0M502.8 88.4h0M497.5 94.3h0M489.8 88.6h0M491.5 79.5h0M496.8 93.3h0M504.6 91.1h0M500.5 84.8h0M485.4 81.7h0M496.3 82.0h0M504.9 94.1h0M492.9 97.5h0M497.7 97.0h0M493.0 91.2h0M492.7 86.1h0M500.6 98.8h0M494.7 88.0h0M489.0 84.6h0M496.9 77.7h0M491.5 78.6h0M495.2 92.0h0M496.0 84.2h0M488.3 75.2h0M494.1 96.2h0M492.5 85.6h0M491.5 78.5h0M500.1 90.8h0M485.6 77.7h0M501.7 80.2h0M493.8 79.2h0M495.9 80.8h0M490.6 78.6h0M504.9 103.4h0M495.3 90.5h0M497.3 86.1h0M493.5 83.6h0M498.6 77.8h0M489.3 90.8h0M486.0 96.9h0M492.5 87.3h0M501.7 85.7h0M494.8 82.1h0M497.0 90.7h0M489.0 90.5h0M499.6 89.2h0M489.7 92.3h0M501.9 82.8h0M483.5 81.3h0M494.2 94.8h0M500.9 90.7h0M490.4 91.2h0M494.0 79.2h0M483.8 92.8h0M484.7 94.5h0M507.0 86.3h0M489.2 81.8h0M490.1 88.6h0M499.8 81.0h0M492.1 81.7h0M500.7 92.6h0M489.2 84.0h0M495.0 74.0h0M490.9 87.0h0M486.0 87.5h0M494.3 82.3h0M500.0 79.8h0M496.5 84.3h0M500.4 80.8h0M497.5 90.2h0M500.6 96.9h0M485.3 85.6h0M487.8 92.6h0M501.9 84.0h0M495.4 94.9h0M495.2 85.2h0M484.6 81.3h0M499.8 76.2h0M495.7 87.5h0M494.0 91.4h0M489.7 95.4h0M491.5 92.9h0M490.7 87.8h0M492.1 97.4h0M488.0 81.8h0M502.5 91.5h0M493.8 84.3h0M486.6 84.2h0M496.1 94.2h0M499.4 95.8h0M496.3 81.3h0M492.0 96.4h0M494.7 95.6h0M484.9 82.8h0M489.4 87.8h0M489.5 77.1h0M493.6 70.6h0M490.6 88.9h0M487.4 85.7h0M488.9 83.7h0M495.4 89.2h0M496.6 81.0h0M502.9 88.3h0M490.3 95.2h0M491.8 99.4h0M499.0 85.4h0M491.3 80.4h0M489.5 84.2h0M502.0 87.3h0M493.6 89.0h0M492.3 77.6h0M485.4 95.8h0M492.5 97.1h0M505.3 88.1h0M498.7 83.7h0M493.4 86.8h0M494.1 96.5h0M493.6 92.4h0M494.9 90.5h0M505.0 75.6h0M501.0 81.9h0M495.4 83.9h0M491.4 76.9h0M478.4 100.9h0M499.3 84.6h0M483.2 90.9h0M503.5 89.2h0M484.0 82.6h0M495.8 85.7h0M500.8 79.5h0M490.4 69.0h0M500.9 90.6h0M491.6 73.7h0M499.3 76.3h0M486.5 72.7h0M485.6 79.5h0M487.6 93.8h0M498.3 86.6h0M490.7 85.8h0M486.1 88.8h0M488.4 82.5h0M496.1 79.9h0M479.5 97.1h0M478.1 85.6h0M480.3 88.4h0M484.4 75.9h0M483.0 99.0h0M489.8 96.4h0M484.7 93.1h0M482.8 83.6h0M486.4 97.4h0M486.2 91.9h0M488.5 93.6h0M489.5 89.9h0M477.8 94.5h0M488.6 88.1h0M486.0 95.6h0M474.0 104.4h0M488.1 91.0h0M480.3 84.0h0M498.5 90.3h0M487.8 88.7h0M483.7 95.3h0M481.2 91.6h0M484.2 94.4h0M488.5 91.1h0M490.7 89.6h0M483.4 92.4h0M484.0 95.9h0M473.4 83.0h0M476.2 99.1h0M488.3 88.5h0M486.6 83.0h0M483.7 99.5h0M487.6 102.9h0M483.0 97.9h0M485.4 93.6h0M486.1 95.9h0M490.4 92.3h0M486.6 91.5h0M486.2 87.9h0M489.1 95.6h0M486.4 92.0h0M482.3 87.3h0M480.5 88.0h0M488.8 94.2h0M479.3 87.1h0M490.5 100.6h0M488.5 102.9h0M482.3 94.4h0M482.5 103.4h0M486.9 94.3h0M486.7 88.7h0M484.9 80.6h0M483.4 87.1h0M488.4 99.1h0M486.3 87.1h0M480.8 96.1h0M484.2 91.0h0M480.9 93.6h0M486.1 96.4h0M481.5 92.2h0M479.5 93.5h0M485.3 90.5h0M488.9 85.9h0M491.6 94.5h0M487.7 93.8h0M482.5 89.5h0M489.2 92.3h0M486.6 90.6h0M488.8 95.7h0M480.1 102.4h0M489.6 96.6h0M486.7 92.2h0M488.8 105.6h0M485.0 86.9h0M485.2 92.8h0M489.2 86.2h0M483.6 90.8h0M489.3 98.0h0M486.1 97.8h0M485.8 92.9h0" stroke="#00bfbf" stroke-width="0.9" stroke-linecap="round" stroke-opacity="0.7"/>
<rect x="474.2" y="92.8" width="4.4" height="4.4" fill="#000"/>
<circle cx="474.5" cy="101.3" r="2.1" fill="#000"/>
<path d="M483.8 102.7 L488.6 105.1 L483.8 107.5Z" fill="#000"/>
<rect x="452.1" y="5.1" width="141.3" height="144.8" fill="none" stroke="#7f7f7f" stroke-width="0.8"/>
<line x1="466.8" y1="149.9" x2="466.8" y2="152.1" stroke="#7f7f7f" stroke-width="0.8"/>
<text x="466.8" y="160.1" font-size="9.6" text-anchor="middle" fill="#111">-20</text>
<line x1="484.7" y1="149.9" x2="484.7" y2="152.1" stroke="#7f7f7f" stroke-width="0.8"/>
<text x="484.7" y="160.1" font-size="9.6" text-anchor="middle" fill="#111">-10</text>
<line x1="502.6" y1="149.9" x2="502.6" y2="152.1" stroke="#7f7f7f" stroke-width="0.8"/>
<text x="502.6" y="160.1" font-size="9.6" text-anchor="middle" fill="#111">0</text>
<line x1="520.5" y1="149.9" x2="520.5" y2="152.1" stroke="#7f7f7f" stroke-width="0.8"/>
<text x="520.5" y="160.1" font-size="9.6" text-anchor="middle" fill="#111">10</text>
<line x1="538.4" y1="149.9" x2="538.4" y2="152.1" stroke="#7f7f7f" stroke-width="0.8"/>
<text x="538.4" y="160.1" font-size="9.6" text-anchor="middle" fill="#111">20</text>
<line x1="556.3" y1="149.9" x2="556.3" y2="152.1" stroke="#7f7f7f" stroke-width="0.8"/>
<text x="556.3" y="160.1" font-size="9.6" text-anchor="middle" fill="#111">30</text>
<line x1="574.2" y1="149.9" x2="574.2" y2="152.1" stroke="#7f7f7f" stroke-width="0.8"/>
<text x="574.2" y="160.1" font-size="9.6" text-anchor="middle" fill="#111">40</text>
<line x1="449.90000000000003" y1="9.1" x2="452.1" y2="9.1" stroke="#7f7f7f" stroke-width="0.8"/>
<text x="447.4" y="12.4" font-size="9.6" text-anchor="end" fill="#111">60</text>
<line x1="449.90000000000003" y1="34.5" x2="452.1" y2="34.5" stroke="#7f7f7f" stroke-width="0.8"/>
<text x="447.4" y="37.8" font-size="9.6" text-anchor="end" fill="#111">40</text>
<line x1="449.90000000000003" y1="59.9" x2="452.1" y2="59.9" stroke="#7f7f7f" stroke-width="0.8"/>
<text x="447.4" y="63.2" font-size="9.6" text-anchor="end" fill="#111">20</text>
<line x1="449.90000000000003" y1="85.3" x2="452.1" y2="85.3" stroke="#7f7f7f" stroke-width="0.8"/>
<text x="447.4" y="88.6" font-size="9.6" text-anchor="end" fill="#111">0</text>
<line x1="449.90000000000003" y1="110.7" x2="452.1" y2="110.7" stroke="#7f7f7f" stroke-width="0.8"/>
<text x="447.4" y="114.0" font-size="9.6" text-anchor="end" fill="#111">-20</text>
<line x1="449.90000000000003" y1="136.1" x2="452.1" y2="136.1" stroke="#7f7f7f" stroke-width="0.8"/>
<text x="447.4" y="139.4" font-size="9.6" text-anchor="end" fill="#111">-40</text>
<text x="525.5" y="174" font-size="10.2" text-anchor="middle" fill="#111">PC1</text>
<text transform="translate(430.2,75.8) rotate(-90)" font-size="10.2" text-anchor="middle" fill="#111">PC2</text>
<text x="597.4" y="20.1" font-size="11.2" fill="#111">Clusters/fraction:</text>
<circle cx="600.5" cy="32.5" r="2.2" fill="#ff0000"/>
<text x="606.8" y="35.6" font-size="10.4" fill="#111">Cluster 1/39.5%</text>
<circle cx="600.5" cy="44.9" r="2.2" fill="#00bfbf"/>
<text x="606.8" y="48.0" font-size="10.4" fill="#111">Cluster 2/40.8%</text>
<circle cx="600.5" cy="57.2" r="2.2" fill="#0000ff"/>
<text x="606.8" y="60.3" font-size="10.4" fill="#111">Cluster 3/5.5%</text>
<circle cx="600.5" cy="69.6" r="2.2" fill="#008000"/>
<text x="606.8" y="72.7" font-size="10.4" fill="#111">Cluster 4/9.5%</text>
<circle cx="600.5" cy="81.9" r="2.2" fill="#bf00bf"/>
<text x="606.8" y="85.0" font-size="10.4" fill="#111">Cluster 5/4.7%</text>
<text x="597.4" y="101.5" font-size="11.2" fill="#111">X-ray structures:</text>
<rect x="598.3" y="111.7" width="4.6" height="4.6" fill="#000"/>
<path d="M597.6 130 L600.8 124.8 L604 130Z" fill="#000"/>
<circle cx="600.5" cy="140.7" r="2.35" fill="#000"/>
<text x="610" y="117.1" font-size="10.4" fill="#111">3j6g</text>
<text x="610" y="130.3" font-size="10.4" fill="#111">5syf</text>
<text x="610" y="144.2" font-size="10.4" fill="#111">6ew0</text>
</g>
<g id="D">
<text x="195.8" y="207" font-size="34">D</text>
<line x1="231.3" y1="228.6" x2="371.4" y2="228.6" stroke="#e6e6e6" stroke-width="0.8"/>
<line x1="231.3" y1="266.6" x2="371.4" y2="266.6" stroke="#e6e6e6" stroke-width="0.8"/>
<line x1="231.3" y1="304.6" x2="371.4" y2="304.6" stroke="#e6e6e6" stroke-width="0.8"/>
<line x1="231.3" y1="342.6" x2="371.4" y2="342.6" stroke="#e6e6e6" stroke-width="0.8"/>
<path d="M245.5 255.4 L245.5 256.3 L245.5 257.1 L245.5 258.0 L245.5 258.8 L245.5 259.7 L245.5 260.6 L245.5 261.4 L245.5 262.3 L245.5 263.2 L245.5 264.0 L245.5 264.9 L245.5 265.7 L245.5 266.6 L245.5 267.5 L245.5 268.3 L245.5 269.2 L245.5 270.1 L245.5 270.9 L245.5 271.8 L245.5 272.6 L245.5 273.5 L245.5 274.4 L245.5 275.2 L245.5 276.1 L245.5 277.0 L245.5 277.8 L245.5 278.7 L245.5 279.5 L245.5 280.4 L245.5 281.3 L245.6 282.1 L245.6 283.0 L245.7 283.9 L245.7 284.7 L245.8 285.6 L245.8 286.4 L245.9 287.3 L246.0 288.2 L246.1 289.0 L246.2 289.9 L246.3 290.7 L246.4 291.6 L246.5 292.5 L246.7 293.3 L246.8 294.2 L247.0 295.1 L247.1 295.9 L247.3 296.8 L247.5 297.6 L247.7 298.5 L247.9 299.4 L248.1 300.2 L248.3 301.1 L248.6 302.0 L248.8 302.8 L249.0 303.7 L249.3 304.5 L249.5 305.4 L249.7 306.3 L249.9 307.1 L250.2 308.0 L250.4 308.9 L250.6 309.7 L250.7 310.6 L250.9 311.4 L251.1 312.3 L251.2 313.2 L251.3 314.0 L251.4 314.9 L251.5 315.8 L251.5 316.6 L251.5 317.5 L251.5 318.3 L251.5 319.2 L251.4 320.1 L251.2 320.9 L251.0 321.8 L250.8 322.7 L250.5 323.5 L250.2 324.4 L249.8 325.2 L249.5 326.1 L249.1 327.0 L248.8 327.8 L248.4 328.7 L248.1 329.5 L247.7 330.4 L247.4 331.3 L247.2 332.1 L246.9 333.0 L246.7 333.9 L246.5 334.7 L246.3 335.6 L246.1 336.4 L246.0 337.3 L245.9 338.2 L245.8 339.0 L245.7 339.9 L245.6 340.8 L245.5 341.6 L245.5 342.5 L245.5 343.3 L245.5 344.2 L245.5 345.1 L245.5 345.9 L245.5 346.8 L245.5 347.7 L245.5 348.5 L245.5 349.4 L245.5 350.2 L245.5 351.1 L245.5 352.0 L245.5 352.8 L245.5 353.7 L245.5 354.6 L245.5 355.4 L245.5 356.3 L245.5 357.1 L245.5 358.0 L245.2 358.0 L245.2 357.1 L245.2 356.3 L245.2 355.4 L245.2 354.6 L245.2 353.7 L245.2 352.8 L245.2 352.0 L245.2 351.1 L245.2 350.2 L245.2 349.4 L245.2 348.5 L245.2 347.7 L245.2 346.8 L245.2 345.9 L245.2 345.1 L245.2 344.2 L245.2 343.3 L245.2 342.5 L245.2 341.6 L245.1 340.8 L245.0 339.9 L244.9 339.0 L244.8 338.2 L244.7 337.3 L244.6 336.4 L244.4 335.6 L244.2 334.7 L244.0 333.9 L243.8 333.0 L243.5 332.1 L243.3 331.3 L243.0 330.4 L242.6 329.5 L242.3 328.7 L241.9 327.8 L241.6 327.0 L241.2 326.1 L240.9 325.2 L240.5 324.4 L240.2 323.5 L239.9 322.7 L239.7 321.8 L239.5 320.9 L239.3 320.1 L239.2 319.2 L239.2 318.3 L239.2 317.5 L239.2 316.6 L239.2 315.8 L239.3 314.9 L239.4 314.0 L239.5 313.2 L239.6 312.3 L239.8 311.4 L240.0 310.6 L240.1 309.7 L240.3 308.9 L240.5 308.0 L240.8 307.1 L241.0 306.3 L241.2 305.4 L241.4 304.5 L241.7 303.7 L241.9 302.8 L242.1 302.0 L242.4 301.1 L242.6 300.2 L242.8 299.4 L243.0 298.5 L243.2 297.6 L243.4 296.8 L243.6 295.9 L243.7 295.1 L243.9 294.2 L244.0 293.3 L244.2 292.5 L244.3 291.6 L244.4 290.7 L244.5 289.9 L244.6 289.0 L244.7 288.2 L244.8 287.3 L244.9 286.4 L244.9 285.6 L245.0 284.7 L245.0 283.9 L245.1 283.0 L245.1 282.1 L245.2 281.3 L245.2 280.4 L245.2 279.5 L245.2 278.7 L245.2 277.8 L245.2 277.0 L245.2 276.1 L245.2 275.2 L245.2 274.4 L245.2 273.5 L245.2 272.6 L245.2 271.8 L245.2 270.9 L245.2 270.1 L245.2 269.2 L245.2 268.3 L245.2 267.5 L245.2 266.6 L245.2 265.7 L245.2 264.9 L245.2 264.0 L245.2 263.2 L245.2 262.3 L245.2 261.4 L245.2 260.6 L245.2 259.7 L245.2 258.8 L245.2 258.0 L245.2 257.1 L245.2 256.3 L245.2 255.4Z" fill="#df2020" stroke="#262626" stroke-width="0.8"/>
<line x1="245.3" y1="255.4" x2="245.3" y2="358.0" stroke="#3a3a3a" stroke-width="0.8"/>
<line x1="245.3" y1="308.9" x2="245.3" y2="323.9" stroke="#3a3a3a" stroke-width="2.6"/>
<circle cx="245.3" cy="318.0" r="0.9" fill="#fff"/>
<path d="M273.5 230.0 L273.5 231.0 L273.5 231.9 L273.5 232.9 L273.5 233.9 L273.5 234.8 L273.5 235.8 L273.5 236.8 L273.5 237.7 L273.5 238.7 L273.5 239.7 L273.5 240.6 L273.5 241.6 L273.5 242.6 L273.5 243.5 L273.5 244.5 L273.5 245.5 L273.5 246.4 L273.5 247.4 L273.5 248.4 L273.5 249.3 L273.5 250.3 L273.5 251.3 L273.5 252.2 L273.5 253.2 L273.6 254.2 L273.6 255.1 L273.7 256.1 L273.7 257.1 L273.8 258.0 L273.9 259.0 L274.0 260.0 L274.1 260.9 L274.3 261.9 L274.4 262.9 L274.6 263.8 L274.8 264.8 L275.0 265.8 L275.3 266.7 L275.6 267.7 L275.9 268.7 L276.2 269.6 L276.5 270.6 L276.8 271.6 L277.2 272.5 L277.5 273.5 L277.9 274.5 L278.2 275.4 L278.5 276.4 L278.8 277.4 L279.1 278.3 L279.3 279.3 L279.5 280.3 L279.7 281.2 L279.8 282.2 L279.9 283.2 L279.9 284.1 L279.9 285.1 L279.8 286.1 L279.8 287.0 L279.6 288.0 L279.5 288.9 L279.3 289.9 L279.2 290.9 L279.0 291.8 L278.7 292.8 L278.5 293.8 L278.2 294.7 L278.0 295.7 L277.7 296.7 L277.4 297.6 L277.2 298.6 L276.9 299.6 L276.6 300.5 L276.4 301.5 L276.1 302.5 L275.9 303.4 L275.6 304.4 L275.4 305.4 L275.2 306.3 L275.0 307.3 L274.8 308.3 L274.7 309.2 L274.5 310.2 L274.4 311.2 L274.3 312.1 L274.1 313.1 L274.0 314.1 L274.0 315.0 L273.9 316.0 L273.8 317.0 L273.7 317.9 L273.7 318.9 L273.6 319.9 L273.6 320.8 L273.6 321.8 L273.5 322.8 L273.5 323.7 L273.5 324.7 L273.5 325.7 L273.5 326.6 L273.5 327.6 L273.5 328.6 L273.5 329.5 L273.5 330.5 L273.5 331.5 L273.5 332.4 L273.5 333.4 L273.5 334.4 L273.5 335.3 L273.5 336.3 L273.5 337.3 L273.5 338.2 L273.5 339.2 L273.5 340.2 L273.5 341.1 L273.5 342.1 L273.5 343.1 L273.5 344.0 L273.5 345.0 L273.3 345.0 L273.3 344.0 L273.3 343.1 L273.3 342.1 L273.3 341.1 L273.3 340.2 L273.3 339.2 L273.3 338.2 L273.3 337.3 L273.3 336.3 L273.3 335.3 L273.3 334.4 L273.3 333.4 L273.3 332.4 L273.3 331.5 L273.3 330.5 L273.3 329.5 L273.3 328.6 L273.3 327.6 L273.3 326.6 L273.3 325.7 L273.3 324.7 L273.3 323.7 L273.3 322.8 L273.2 321.8 L273.2 320.8 L273.2 319.9 L273.1 318.9 L273.1 317.9 L273.0 317.0 L272.9 316.0 L272.8 315.0 L272.8 314.1 L272.7 313.1 L272.5 312.1 L272.4 311.2 L272.3 310.2 L272.1 309.2 L272.0 308.3 L271.8 307.3 L271.6 306.3 L271.4 305.4 L271.2 304.4 L270.9 303.4 L270.7 302.5 L270.4 301.5 L270.2 300.5 L269.9 299.6 L269.6 298.6 L269.4 297.6 L269.1 296.7 L268.8 295.7 L268.6 294.7 L268.3 293.8 L268.1 292.8 L267.8 291.8 L267.6 290.9 L267.5 289.9 L267.3 288.9 L267.2 288.0 L267.0 287.0 L267.0 286.1 L266.9 285.1 L266.9 284.1 L266.9 283.2 L267.0 282.2 L267.1 281.2 L267.3 280.3 L267.5 279.3 L267.7 278.3 L268.0 277.4 L268.3 276.4 L268.6 275.4 L268.9 274.5 L269.3 273.5 L269.6 272.5 L270.0 271.6 L270.3 270.6 L270.6 269.6 L270.9 268.7 L271.2 267.7 L271.5 266.7 L271.8 265.8 L272.0 264.8 L272.2 263.8 L272.4 262.9 L272.5 261.9 L272.7 260.9 L272.8 260.0 L272.9 259.0 L273.0 258.0 L273.1 257.1 L273.1 256.1 L273.2 255.1 L273.2 254.2 L273.3 253.2 L273.3 252.2 L273.3 251.3 L273.3 250.3 L273.3 249.3 L273.3 248.4 L273.3 247.4 L273.3 246.4 L273.3 245.5 L273.3 244.5 L273.3 243.5 L273.3 242.6 L273.3 241.6 L273.3 240.6 L273.3 239.7 L273.3 238.7 L273.3 237.7 L273.3 236.8 L273.3 235.8 L273.3 234.8 L273.3 233.9 L273.3 232.9 L273.3 231.9 L273.3 231.0 L273.3 230.0Z" fill="#18a7a7" stroke="#262626" stroke-width="0.8"/>
<line x1="273.4" y1="230.0" x2="273.4" y2="345.0" stroke="#3a3a3a" stroke-width="0.8"/>
<line x1="273.4" y1="276.9" x2="273.4" y2="293.1" stroke="#3a3a3a" stroke-width="2.6"/>
<circle cx="273.4" cy="284.0" r="0.9" fill="#fff"/>
<path d="M301.6 261.4 L301.6 261.8 L301.6 262.2 L301.6 262.6 L301.6 263.0 L301.6 263.4 L301.6 263.7 L301.7 264.1 L301.7 264.5 L301.7 264.9 L301.8 265.3 L301.8 265.7 L301.8 266.1 L301.9 266.5 L302.0 266.9 L302.0 267.3 L302.1 267.7 L302.2 268.1 L302.2 268.4 L302.3 268.8 L302.4 269.2 L302.5 269.6 L302.6 270.0 L302.7 270.4 L302.9 270.8 L303.0 271.2 L303.2 271.6 L303.3 272.0 L303.5 272.4 L303.7 272.8 L303.8 273.1 L304.0 273.5 L304.2 273.9 L304.5 274.3 L304.7 274.7 L304.9 275.1 L305.2 275.5 L305.4 275.9 L305.7 276.3 L306.0 276.7 L306.3 277.1 L306.5 277.5 L306.8 277.8 L307.1 278.2 L307.4 278.6 L307.7 279.0 L308.1 279.4 L308.4 279.8 L308.7 280.2 L309.0 280.6 L309.3 281.0 L309.6 281.4 L309.9 281.8 L310.1 282.2 L310.4 282.5 L310.7 282.9 L310.9 283.3 L311.1 283.7 L311.4 284.1 L311.6 284.5 L311.7 284.9 L311.9 285.3 L312.0 285.7 L312.2 286.1 L312.3 286.5 L312.4 286.9 L312.4 287.2 L312.4 287.6 L312.4 288.0 L312.4 288.4 L312.4 288.8 L312.3 289.2 L312.1 289.6 L311.9 290.0 L311.7 290.4 L311.5 290.8 L311.2 291.2 L310.9 291.6 L310.6 291.9 L310.3 292.3 L309.9 292.7 L309.5 293.1 L309.1 293.5 L308.7 293.9 L308.3 294.3 L307.9 294.7 L307.5 295.1 L307.1 295.5 L306.7 295.9 L306.4 296.3 L306.0 296.6 L305.6 297.0 L305.3 297.4 L305.0 297.8 L304.7 298.2 L304.4 298.6 L304.1 299.0 L303.8 299.4 L303.6 299.8 L303.4 300.2 L303.2 300.6 L303.0 301.0 L302.8 301.3 L302.6 301.7 L302.5 302.1 L302.4 302.5 L302.2 302.9 L302.1 303.3 L302.0 303.7 L302.0 304.1 L301.9 304.5 L301.8 304.9 L301.8 305.3 L301.7 305.7 L301.7 306.0 L301.6 306.4 L301.6 306.8 L301.6 307.2 L301.6 307.6 L301.6 308.0 L301.3 308.0 L301.3 307.6 L301.3 307.2 L301.3 306.8 L301.3 306.4 L301.2 306.0 L301.2 305.7 L301.1 305.3 L301.1 304.9 L301.0 304.5 L300.9 304.1 L300.9 303.7 L300.8 303.3 L300.7 302.9 L300.5 302.5 L300.4 302.1 L300.3 301.7 L300.1 301.3 L299.9 301.0 L299.7 300.6 L299.5 300.2 L299.3 299.8 L299.1 299.4 L298.8 299.0 L298.5 298.6 L298.2 298.2 L297.9 297.8 L297.6 297.4 L297.3 297.0 L296.9 296.6 L296.5 296.3 L296.2 295.9 L295.8 295.5 L295.4 295.1 L295.0 294.7 L294.6 294.3 L294.2 293.9 L293.8 293.5 L293.4 293.1 L293.0 292.7 L292.6 292.3 L292.3 291.9 L292.0 291.6 L291.7 291.2 L291.4 290.8 L291.2 290.4 L291.0 290.0 L290.8 289.6 L290.6 289.2 L290.5 288.8 L290.5 288.4 L290.5 288.0 L290.5 287.6 L290.5 287.2 L290.5 286.9 L290.6 286.5 L290.7 286.1 L290.9 285.7 L291.0 285.3 L291.2 284.9 L291.3 284.5 L291.5 284.1 L291.8 283.7 L292.0 283.3 L292.2 282.9 L292.5 282.5 L292.8 282.2 L293.0 281.8 L293.3 281.4 L293.6 281.0 L293.9 280.6 L294.2 280.2 L294.5 279.8 L294.8 279.4 L295.2 279.0 L295.5 278.6 L295.8 278.2 L296.1 277.8 L296.4 277.5 L296.6 277.1 L296.9 276.7 L297.2 276.3 L297.5 275.9 L297.7 275.5 L298.0 275.1 L298.2 274.7 L298.4 274.3 L298.7 273.9 L298.9 273.5 L299.1 273.1 L299.2 272.8 L299.4 272.4 L299.6 272.0 L299.7 271.6 L299.9 271.2 L300.0 270.8 L300.2 270.4 L300.3 270.0 L300.4 269.6 L300.5 269.2 L300.6 268.8 L300.7 268.4 L300.7 268.1 L300.8 267.7 L300.9 267.3 L300.9 266.9 L301.0 266.5 L301.1 266.1 L301.1 265.7 L301.1 265.3 L301.2 264.9 L301.2 264.5 L301.2 264.1 L301.3 263.7 L301.3 263.4 L301.3 263.0 L301.3 262.6 L301.3 262.2 L301.3 261.8 L301.3 261.4Z" fill="#2020df" stroke="#262626" stroke-width="0.8"/>
<line x1="301.4" y1="261.4" x2="301.4" y2="308.0" stroke="#3a3a3a" stroke-width="0.8"/>
<line x1="301.4" y1="282.5" x2="301.4" y2="292.2" stroke="#3a3a3a" stroke-width="2.6"/>
<circle cx="301.4" cy="288.0" r="0.9" fill="#fff"/>
<path d="M329.6 222.0 L329.6 222.8 L329.6 223.5 L329.6 224.3 L329.6 225.0 L329.6 225.8 L329.6 226.5 L329.6 227.3 L329.6 228.1 L329.6 228.8 L329.6 229.6 L329.6 230.3 L329.6 231.1 L329.6 231.8 L329.6 232.6 L329.6 233.3 L329.6 234.1 L329.6 234.9 L329.6 235.6 L329.6 236.4 L329.6 237.1 L329.6 237.9 L329.6 238.6 L329.6 239.4 L329.6 240.2 L329.6 240.9 L329.6 241.7 L329.6 242.4 L329.6 243.2 L329.6 243.9 L329.6 244.7 L329.6 245.4 L329.6 246.2 L329.6 247.0 L329.6 247.7 L329.7 248.5 L329.7 249.2 L329.7 250.0 L329.8 250.7 L329.8 251.5 L329.9 252.3 L329.9 253.0 L330.0 253.8 L330.0 254.5 L330.1 255.3 L330.2 256.0 L330.3 256.8 L330.4 257.5 L330.5 258.3 L330.6 259.1 L330.7 259.8 L330.9 260.6 L331.0 261.3 L331.2 262.1 L331.4 262.8 L331.5 263.6 L331.7 264.4 L331.9 265.1 L332.1 265.9 L332.4 266.6 L332.6 267.4 L332.8 268.1 L333.1 268.9 L333.3 269.6 L333.6 270.4 L333.8 271.2 L334.0 271.9 L334.3 272.7 L334.5 273.4 L334.8 274.2 L335.0 274.9 L335.2 275.7 L335.4 276.5 L335.6 277.2 L335.8 278.0 L335.9 278.7 L336.1 279.5 L336.2 280.2 L336.3 281.0 L336.4 281.7 L336.5 282.5 L336.5 283.3 L336.5 284.0 L336.5 284.8 L336.4 285.5 L336.3 286.3 L336.1 287.0 L335.9 287.8 L335.7 288.6 L335.4 289.3 L335.1 290.1 L334.8 290.8 L334.4 291.6 L334.1 292.3 L333.7 293.1 L333.3 293.8 L333.0 294.6 L332.7 295.4 L332.3 296.1 L332.0 296.9 L331.7 297.6 L331.5 298.4 L331.2 299.1 L331.0 299.9 L330.8 300.7 L330.6 301.4 L330.4 302.2 L330.3 302.9 L330.1 303.7 L330.0 304.4 L329.9 305.2 L329.9 305.9 L329.8 306.7 L329.7 307.5 L329.7 308.2 L329.6 309.0 L329.6 309.7 L329.6 310.5 L329.6 311.2 L329.6 312.0 L329.4 312.0 L329.4 311.2 L329.4 310.5 L329.4 309.7 L329.4 309.0 L329.3 308.2 L329.3 307.5 L329.2 306.7 L329.1 305.9 L329.1 305.2 L329.0 304.4 L328.9 303.7 L328.7 302.9 L328.6 302.2 L328.4 301.4 L328.2 300.7 L328.0 299.9 L327.8 299.1 L327.5 298.4 L327.3 297.6 L327.0 296.9 L326.7 296.1 L326.3 295.4 L326.0 294.6 L325.7 293.8 L325.3 293.1 L324.9 292.3 L324.6 291.6 L324.2 290.8 L323.9 290.1 L323.6 289.3 L323.3 288.6 L323.1 287.8 L322.9 287.0 L322.7 286.3 L322.6 285.5 L322.5 284.8 L322.5 284.0 L322.5 283.3 L322.5 282.5 L322.6 281.7 L322.7 281.0 L322.8 280.2 L322.9 279.5 L323.1 278.7 L323.2 278.0 L323.4 277.2 L323.6 276.5 L323.8 275.7 L324.0 274.9 L324.2 274.2 L324.5 273.4 L324.7 272.7 L325.0 271.9 L325.2 271.2 L325.4 270.4 L325.7 269.6 L325.9 268.9 L326.2 268.1 L326.4 267.4 L326.6 266.6 L326.9 265.9 L327.1 265.1 L327.3 264.4 L327.5 263.6 L327.6 262.8 L327.8 262.1 L328.0 261.3 L328.1 260.6 L328.3 259.8 L328.4 259.1 L328.5 258.3 L328.6 257.5 L328.7 256.8 L328.8 256.0 L328.9 255.3 L329.0 254.5 L329.0 253.8 L329.1 253.0 L329.1 252.3 L329.2 251.5 L329.2 250.7 L329.3 250.0 L329.3 249.2 L329.3 248.5 L329.4 247.7 L329.4 247.0 L329.4 246.2 L329.4 245.4 L329.4 244.7 L329.4 243.9 L329.4 243.2 L329.4 242.4 L329.4 241.7 L329.4 240.9 L329.4 240.2 L329.4 239.4 L329.4 238.6 L329.4 237.9 L329.4 237.1 L329.4 236.4 L329.4 235.6 L329.4 234.9 L329.4 234.1 L329.4 233.3 L329.4 232.6 L329.4 231.8 L329.4 231.1 L329.4 230.3 L329.4 229.6 L329.4 228.8 L329.4 228.1 L329.4 227.3 L329.4 226.5 L329.4 225.8 L329.4 225.0 L329.4 224.3 L329.4 223.5 L329.4 222.8 L329.4 222.0Z" fill="#107010" stroke="#262626" stroke-width="0.8"/>
<line x1="329.5" y1="222.0" x2="329.5" y2="312.0" stroke="#3a3a3a" stroke-width="0.8"/>
<line x1="329.5" y1="275.6" x2="329.5" y2="289.9" stroke="#3a3a3a" stroke-width="2.6"/>
<circle cx="329.5" cy="284.0" r="0.9" fill="#fff"/>
<path d="M357.7 250.0 L357.7 250.5 L357.7 251.0 L357.7 251.5 L357.7 252.0 L357.7 252.5 L357.7 253.0 L357.7 253.4 L357.7 253.9 L357.7 254.4 L357.7 254.9 L357.7 255.4 L357.8 255.9 L357.8 256.4 L357.8 256.9 L357.9 257.4 L357.9 257.9 L358.0 258.4 L358.0 258.9 L358.1 259.4 L358.2 259.8 L358.2 260.3 L358.3 260.8 L358.4 261.3 L358.5 261.8 L358.6 262.3 L358.8 262.8 L358.9 263.3 L359.0 263.8 L359.2 264.3 L359.3 264.8 L359.5 265.3 L359.7 265.8 L359.9 266.3 L360.1 266.7 L360.3 267.2 L360.5 267.7 L360.7 268.2 L361.0 268.7 L361.2 269.2 L361.4 269.7 L361.7 270.2 L361.9 270.7 L362.2 271.2 L362.4 271.7 L362.7 272.2 L362.9 272.7 L363.2 273.1 L363.4 273.6 L363.6 274.1 L363.8 274.6 L364.0 275.1 L364.2 275.6 L364.4 276.1 L364.5 276.6 L364.7 277.1 L364.8 277.6 L364.9 278.1 L365.0 278.6 L365.0 279.1 L365.0 279.5 L365.0 280.0 L365.0 280.5 L365.0 281.0 L365.0 281.5 L364.9 282.0 L364.8 282.5 L364.7 283.0 L364.6 283.5 L364.5 284.0 L364.3 284.5 L364.2 285.0 L364.0 285.5 L363.8 285.9 L363.6 286.4 L363.4 286.9 L363.2 287.4 L363.0 287.9 L362.8 288.4 L362.6 288.9 L362.4 289.4 L362.2 289.9 L361.9 290.4 L361.7 290.9 L361.5 291.4 L361.3 291.9 L361.0 292.3 L360.8 292.8 L360.6 293.3 L360.4 293.8 L360.2 294.3 L360.1 294.8 L359.9 295.3 L359.7 295.8 L359.5 296.3 L359.4 296.8 L359.2 297.3 L359.1 297.8 L359.0 298.3 L358.8 298.8 L358.7 299.2 L358.6 299.7 L358.5 300.2 L358.4 300.7 L358.3 301.2 L358.3 301.7 L358.2 302.2 L358.1 302.7 L358.1 303.2 L358.0 303.7 L358.0 304.2 L357.9 304.7 L357.9 305.2 L357.8 305.6 L357.8 306.1 L357.8 306.6 L357.7 307.1 L357.7 307.6 L357.7 308.1 L357.7 308.6 L357.4 308.6 L357.4 308.1 L357.4 307.6 L357.4 307.1 L357.3 306.6 L357.3 306.1 L357.3 305.6 L357.2 305.2 L357.2 304.7 L357.1 304.2 L357.1 303.7 L357.0 303.2 L357.0 302.7 L356.9 302.2 L356.8 301.7 L356.8 301.2 L356.7 300.7 L356.6 300.2 L356.5 299.7 L356.4 299.2 L356.3 298.8 L356.1 298.3 L356.0 297.8 L355.9 297.3 L355.7 296.8 L355.6 296.3 L355.4 295.8 L355.2 295.3 L355.0 294.8 L354.9 294.3 L354.7 293.8 L354.5 293.3 L354.3 292.8 L354.1 292.3 L353.8 291.9 L353.6 291.4 L353.4 290.9 L353.2 290.4 L352.9 289.9 L352.7 289.4 L352.5 288.9 L352.3 288.4 L352.1 287.9 L351.9 287.4 L351.7 286.9 L351.5 286.4 L351.3 285.9 L351.1 285.5 L350.9 285.0 L350.8 284.5 L350.6 284.0 L350.5 283.5 L350.4 283.0 L350.3 282.5 L350.2 282.0 L350.1 281.5 L350.1 281.0 L350.1 280.5 L350.1 280.0 L350.1 279.5 L350.1 279.1 L350.1 278.6 L350.2 278.1 L350.3 277.6 L350.4 277.1 L350.6 276.6 L350.7 276.1 L350.9 275.6 L351.1 275.1 L351.3 274.6 L351.5 274.1 L351.7 273.6 L351.9 273.1 L352.2 272.7 L352.4 272.2 L352.7 271.7 L352.9 271.2 L353.2 270.7 L353.4 270.2 L353.7 269.7 L353.9 269.2 L354.1 268.7 L354.4 268.2 L354.6 267.7 L354.8 267.2 L355.0 266.7 L355.2 266.3 L355.4 265.8 L355.6 265.3 L355.8 264.8 L355.9 264.3 L356.1 263.8 L356.2 263.3 L356.3 262.8 L356.5 262.3 L356.6 261.8 L356.7 261.3 L356.8 260.8 L356.9 260.3 L356.9 259.8 L357.0 259.4 L357.1 258.9 L357.1 258.4 L357.2 257.9 L357.2 257.4 L357.3 256.9 L357.3 256.4 L357.3 255.9 L357.4 255.4 L357.4 254.9 L357.4 254.4 L357.4 253.9 L357.4 253.4 L357.4 253.0 L357.4 252.5 L357.4 252.0 L357.4 251.5 L357.4 251.0 L357.4 250.5 L357.4 250.0Z" fill="#a718a7" stroke="#262626" stroke-width="0.8"/>
<line x1="357.6" y1="250.0" x2="357.6" y2="308.6" stroke="#3a3a3a" stroke-width="0.8"/>
<line x1="357.6" y1="274.1" x2="357.6" y2="286.5" stroke="#3a3a3a" stroke-width="2.6"/>
<circle cx="357.6" cy="280.0" r="0.9" fill="#fff"/>
<line x1="231.3" y1="295" x2="371.4" y2="295" stroke="#262626" stroke-width="1.1" stroke-dasharray="1.6 2.2"/>
<line x1="231.3" y1="301.7" x2="371.4" y2="301.7" stroke="#3a3a3a" stroke-width="1.5"/>
<line x1="371.3" y1="295" x2="380.8" y2="280.8" stroke="#262626" stroke-width="0.9" stroke-dasharray="1.2 1.6"/>
<line x1="371.3" y1="301.7" x2="381.3" y2="320" stroke="#262626" stroke-width="1"/>
<text x="383.3" y="281.7" font-size="10.2" fill="#111">6ew0</text>
<text x="388" y="318.3" font-size="10.2" fill="#111">3j6g,</text>
<text x="388" y="329.2" font-size="10.2" fill="#111">5syf</text>
<rect x="231.3" y="215.6" width="140.1" height="149.1" fill="none" stroke="#262626" stroke-width="1"/>
<line x1="227.9" y1="228.6" x2="231.3" y2="228.6" stroke="#262626" stroke-width="0.8"/>
<text x="224.4" y="233.6" font-size="13.8" text-anchor="end" fill="#111">0</text>
<line x1="227.9" y1="266.6" x2="231.3" y2="266.6" stroke="#262626" stroke-width="0.8"/>
<text x="224.4" y="271.6" font-size="13.8" text-anchor="end" fill="#111">−5</text>
<line x1="227.9" y1="304.6" x2="231.3" y2="304.6" stroke="#262626" stroke-width="0.8"/>
<text x="224.4" y="309.6" font-size="13.8" text-anchor="end" fill="#111">−10</text>
<line x1="227.9" y1="342.6" x2="231.3" y2="342.6" stroke="#262626" stroke-width="0.8"/>
<text x="224.4" y="347.6" font-size="13.8" text-anchor="end" fill="#111">−15</text>
<line x1="245.3" y1="364.7" x2="245.3" y2="368.09999999999997" stroke="#262626" stroke-width="0.8"/>
<text x="245.3" y="381.5" font-size="13.8" text-anchor="middle" fill="#111">1</text>
<line x1="273.4" y1="364.7" x2="273.4" y2="368.09999999999997" stroke="#262626" stroke-width="0.8"/>
<text x="273.4" y="381.5" font-size="13.8" text-anchor="middle" fill="#111">2</text>
<line x1="301.4" y1="364.7" x2="301.4" y2="368.09999999999997" stroke="#262626" stroke-width="0.8"/>
<text x="301.4" y="381.5" font-size="13.8" text-anchor="middle" fill="#111">3</text>
<line x1="329.5" y1="364.7" x2="329.5" y2="368.09999999999997" stroke="#262626" stroke-width="0.8"/>
<text x="329.5" y="381.5" font-size="13.8" text-anchor="middle" fill="#111">4</text>
<line x1="357.6" y1="364.7" x2="357.6" y2="368.09999999999997" stroke="#262626" stroke-width="0.8"/>
<text x="357.6" y="381.5" font-size="13.8" text-anchor="middle" fill="#111">5</text>
<text x="301.4" y="397.9" font-size="13.8" text-anchor="middle" fill="#111">Clusters</text>
<text transform="translate(199.4,289) rotate(-90)" font-size="13.8" text-anchor="middle" fill="#111">ΔG, kcal/mol</text>
</g>
<g id="E">
<text x="411.5" y="207" font-size="34">E</text>
<path d="M437 208 C441 222 447 240 455 250 C461 257 473 260 480 256 C487 250 486 236 481 226 C476 215 470 206 465 200" fill="none" stroke="#fcd4fc" stroke-width="3.1" stroke-linecap="round" stroke-linejoin="round"/>
<path d="M486.5 185 C486 196 489 203 497 205 C506 207 513 199 517 189 C521 179 517 173 511 175 C505 177 505 184 512 187 C520 190 530 187 542 184 C560 180 578 177 598 178 C612 179 624 183 631 194" fill="none" stroke="#fcd4fc" stroke-width="3.1" stroke-linecap="round" stroke-linejoin="round"/>
<path d="M416 380 C418 366 430 356 444 357 C458 358 466 372 465 384 C464 392 462 397 460 399" fill="none" stroke="#fcd4fc" stroke-width="3.1" stroke-linecap="round" stroke-linejoin="round"/>
<path d="M437 372 C431 376 429 385 435 387 C442 390 448 384 446 378 C444 372 439 371 437 372" fill="none" stroke="#fcd4fc" stroke-width="3.1" stroke-linecap="round" stroke-linejoin="round"/>
<path d="M499 390 C496 400 498 410 505 414 C515 418 528 416 540 414 C548 412 550 402 546 394 C541 386 528 385 523 392 C518 400 524 412 534 414 C545 416 556 416 565 414 C575 412 580 404 576 395 C572 387 560 386 556 394 C552 402 556 412 566 414 C578 416 590 414 598 413 C607 411 612 404 608 396 C604 388 592 388 590 395 C588 403 596 411 606 412 C616 413 626 408 629 398 C632 388 626 380 621 376 C614 368 612 355 612 340" fill="none" stroke="#fcd4fc" stroke-width="3.1" stroke-linecap="round" stroke-linejoin="round"/>
<path d="M612 340 C611 328 614 316 624 311 C634 307 648 310 655 318 C660 326 656 336 647 338 C640 339 635 332 637 326 C639 320 648 317 656 322 C664 328 672 340 684 346" fill="none" stroke="#fcd4fc" stroke-width="3.1" stroke-linecap="round" stroke-linejoin="round"/>
<path d="M686 351 C679 353 671 355 665 357" fill="none" stroke="#fcd4fc" stroke-width="3.1" stroke-linecap="round" stroke-linejoin="round"/>
<path d="M531.5 199 L584 252" stroke="#3ee6f0" stroke-width="1.7" stroke-dasharray="3.2 2.2" fill="none"/>
<path d="M561 209 L559 305 L558 320" stroke="#3ee6f0" stroke-width="1.7" stroke-dasharray="3.2 2.2" fill="none"/>
<path d="M570 223 L566 305" stroke="#3ee6f0" stroke-width="1.7" stroke-dasharray="3.2 2.2" fill="none"/>
<path d="M569 236 L629.5 297.5" stroke="#3ee6f0" stroke-width="1.7" stroke-dasharray="3.2 2.2" fill="none"/>
<path d="M609 226 L622 239" stroke="#3ee6f0" stroke-width="1.7" stroke-dasharray="3.2 2.2" fill="none"/>
<path d="M538.6 317.6 L557.6 365" stroke="#3ee6f0" stroke-width="1.7" stroke-dasharray="3.2 2.2" fill="none"/>
<path d="M562 222 L560 248" stroke="#3ee6f0" stroke-width="1.7" stroke-dasharray="3.2 2.2" fill="none"/>
<path d="M445.7 316.7 L470 324.5" stroke="#f5a443" stroke-width="1.2" stroke-dasharray="3 2" fill="none"/>
<path d="M641 252 L473.5 325" stroke="#f5a443" stroke-width="1.2" stroke-dasharray="3 2" fill="none"/>
<path d="M470 290 L534 366" stroke="#f5a443" stroke-width="1.2" stroke-dasharray="3 2" fill="none"/>
<path d="M468.5 321.5 L473.5 325.6 L467.2 326.3Z M477.2 320.3 L472.8 325.7 L479 326.6Z M533 361 L534.8 367.6 L529.5 363.9Z" fill="#f5a443"/>
<path d="M571.4 284 L583.8 289.8 L599 282.1 L610.5 290.7 L626.7 285 L627.6 268.8 L616.2 258.3 L601 261.2 L587 247.5 L568.6 249.5 L564.8 261.2 L571.4 269.8 L571.4 284 L557.1 288.8 L543.3 280.4 L548.6 264.5 L564.8 261.2" stroke="#262626" stroke-width="1" fill="none" stroke-linejoin="round"/>
<path d="M599 282.1 L601 261.2" stroke="#262626" stroke-width="1" fill="none" stroke-linejoin="round"/>
<path d="M571.4 269.8 L581 259.3" stroke="#262626" stroke-width="1" fill="none" stroke-linejoin="round"/>
<path d="M571.4 269.8 L585.7 276" stroke="#262626" stroke-width="1" fill="none" stroke-linejoin="round"/>
<path d="M548.6 264.5 L537.6 253.3" stroke="#262626" stroke-width="1" fill="none" stroke-linejoin="round"/>
<path d="M610.5 290.7 L616.2 303.1 L627.5 299.8" stroke="#262626" stroke-width="1" fill="none" stroke-linejoin="round"/>
<path d="M626.7 285 L627.6 297" stroke="#262626" stroke-width="1" fill="none" stroke-linejoin="round"/>
<path d="M587 247.5 L591 235" stroke="#262626" stroke-width="1" fill="none" stroke-linejoin="round"/>
<path d="M589 250 L593.6 236.4" stroke="#262626" stroke-width="1" fill="none" stroke-linejoin="round"/>
<path d="M558.5 236 L546 232.9 L536.4 243.6" stroke="#262626" stroke-width="1" fill="none" stroke-linejoin="round"/>
<path d="M546 232.9 L541 220.5" stroke="#262626" stroke-width="1" fill="none" stroke-linejoin="round"/>
<path d="M548.5 233.8 L543.6 221.5" stroke="#262626" stroke-width="1" fill="none" stroke-linejoin="round"/>
<path d="M583.8 307.5 L571.9 316.7 L576.7 332.6" stroke="#262626" stroke-width="1" fill="none" stroke-linejoin="round"/>
<path d="M571.9 316.7 L559.3 314" stroke="#262626" stroke-width="1" fill="none" stroke-linejoin="round"/>
<path d="M572.5 319.5 L560 316.8" stroke="#262626" stroke-width="1" fill="none" stroke-linejoin="round"/>
<path d="M597 303 L598.1 313.6 L585 323.1" stroke="#262626" stroke-width="1" fill="none" stroke-linejoin="round"/>
<path d="M598.1 313.6 L610 320.5" stroke="#262626" stroke-width="1" fill="none" stroke-linejoin="round"/>
<path d="M597 316.5 L608.7 323.2" stroke="#262626" stroke-width="1" fill="none" stroke-linejoin="round"/>
<path d="M526.6 287 L525.2 299 L508.1 301.9 L504.3 317.6 L487.6 320.5" stroke="#262626" stroke-width="1" fill="none" stroke-linejoin="round"/>
<path d="M525.2 299 L532.5 308.3" stroke="#262626" stroke-width="1" fill="none" stroke-linejoin="round"/>
<path d="M523 300.8 L530.2 310" stroke="#262626" stroke-width="1" fill="none" stroke-linejoin="round"/>
<path d="M516.7 332 L511.9 344.3 L520.7 356.2" stroke="#262626" stroke-width="1" fill="none" stroke-linejoin="round"/>
<path d="M511.9 344.3 L497.5 347" stroke="#262626" stroke-width="1" fill="none" stroke-linejoin="round"/>
<path d="M512.5 347 L498 349.7" stroke="#262626" stroke-width="1" fill="none" stroke-linejoin="round"/>
<path d="M548.6 264.5 L563.5 262" stroke="#262626" stroke-width="1" fill="none" stroke-linejoin="round"/>
<path d="M550.5 266.8 L563.8 264" stroke="#262626" stroke-width="1" fill="none" stroke-linejoin="round"/>
<path d="M543.3 280.4 L530.7 282.2 L531.3 284.8Z" fill="#1a1a1a"/>
<path d="M583.8 289.8 L582.5 304.0 L585.1 304.0Z" fill="#1a1a1a"/>
<path d="M610.5 290.7 L597.7 298.5 L599.3 300.5Z" fill="#1a1a1a"/>
<path d="M508.1 301.9 L499.4 292.5 L497.6 294.5Z" fill="#1a1a1a"/>
<path d="M504.3 317.6 L513.6 328.4 L515.4 326.6Z" fill="#1a1a1a"/>
<path d="M568.4 248.4 L567.7 248.8M567.5 246.5 L566.4 247.2M566.6 244.7 L565.1 245.6M565.6 242.8 L563.9 243.9M564.7 240.9 L562.6 242.3M563.8 239.1 L561.3 240.7" stroke="#262626" stroke-width="0.8"/>
<path d="M601.8 260.1 L601.0 259.9M602.7 257.7 L601.5 257.3M603.7 255.3 L602.1 254.8M604.6 252.9 L602.6 252.3M605.6 250.5 L603.2 249.8M606.6 248.2 L603.7 247.3" stroke="#262626" stroke-width="0.8"/>
<path d="M616.9 257.3 L616.1 257.1M617.6 255.3 L616.4 254.9M618.4 253.2 L616.8 252.8M619.1 251.1 L617.1 250.6M619.9 249.0 L617.4 248.4M620.7 246.9 L617.8 246.2" stroke="#262626" stroke-width="0.8"/>
<path d="M570.8 284.8 L571.6 285.0M570.3 286.6 L571.5 286.9M569.8 288.4 L571.4 288.7M569.2 290.2 L571.3 290.6M568.7 292.0 L571.2 292.5M568.2 293.8 L571.1 294.3" stroke="#262626" stroke-width="0.8"/>
<path d="M626.4 286.0 L627.3 285.9M626.5 288.0 L627.8 287.8M626.6 289.9 L628.3 289.7M626.7 291.9 L628.8 291.5M626.8 293.8 L629.3 293.4M626.9 295.8 L629.8 295.3" stroke="#262626" stroke-width="0.8"/>
<path d="M461 313.8 L477.1 309 L487.6 320.5 L483.8 336.7 L468.6 341 L457.1 330Z" stroke="#262626" stroke-width="1" fill="none" stroke-linejoin="round"/><path d="M464.6 315.7 L474.9 312.6" stroke="#262626" stroke-width="1" fill="none" stroke-linejoin="round"/><path d="M484.3 322.7 L481.9 333.1" stroke="#262626" stroke-width="1" fill="none" stroke-linejoin="round"/><path d="M468.5 337.0 L461.1 329.9" stroke="#262626" stroke-width="1" fill="none" stroke-linejoin="round"/>
<path d="M520.7 356.2 L536 351.4 L547.4 363.8 L543.6 378.1 L529.3 381.9 L516.9 370.5Z" stroke="#262626" stroke-width="1" fill="none" stroke-linejoin="round"/><path d="M536.2 355.5 L543.5 363.4" stroke="#262626" stroke-width="1" fill="none" stroke-linejoin="round"/><path d="M540.2 376.2 L531.0 378.6" stroke="#262626" stroke-width="1" fill="none" stroke-linejoin="round"/><path d="M520.3 368.7 L522.7 359.5" stroke="#262626" stroke-width="1" fill="none" stroke-linejoin="round"/>
<path d="M576.7 332.6 L591 333.8 L598.1 351.7 L589.8 363.6 L574.3 360 L567.1 345.7Z" stroke="#262626" stroke-width="1" fill="none" stroke-linejoin="round"/><path d="M589.9 338.1 L594.5 349.5" stroke="#262626" stroke-width="1" fill="none" stroke-linejoin="round"/><path d="M587.2 360.2 L577.2 357.9" stroke="#262626" stroke-width="1" fill="none" stroke-linejoin="round"/><path d="M571.0 345.1 L577.2 336.7" stroke="#262626" stroke-width="1" fill="none" stroke-linejoin="round"/>
<path d="M632.1 252.1 L636.4 244.3 L646.4 244.3 L650.7 252.1 L646.4 260.7 L636.4 260.7Z M638 246.6 L645 246.6 M647.8 252.1 L644.8 258.4 M637.8 258.4 L634.9 252.1 M650.7 252.1 L660.7 252.9 L665 246.9" stroke="#707070" stroke-width="1" fill="none"/>
<path d="M506.3 210.8 L515 210 L520 220 L530 219.2 M520 220 L518.3 227.5" stroke="#333" stroke-width="0.8" fill="none"/>
<path d="M506.7 181.7 L509.2 189.2 L518.3 190.8" stroke="#333" stroke-width="0.8" fill="none"/>
<path d="M495.7 254.3 L500.5 261 L494.8 270.5 L486.2 270.5 M494.8 270.5 L499 278" stroke="#333" stroke-width="0.8" fill="none"/>
<path d="M449.2 253.3 L454.2 257.5 L454.2 267.5 L460 273.3 L458.5 279" stroke="#333" stroke-width="0.8" fill="none"/>
<path d="M557 184.9 L565.1 193.8 L564.8 200.5" stroke="#333" stroke-width="0.8" fill="none"/>
<path d="M624.8 191.3 L619 194.8 L619 205.8 L608.5 211.3" stroke="#333" stroke-width="0.8" fill="none"/>
<path d="M429.5 294.8 L435.2 300.5 L435.2 306.2" stroke="#333" stroke-width="0.8" fill="none"/>
<path d="M441 356.7 L442.9 351 L453.3 347.1 L459 352.5" stroke="#333" stroke-width="0.8" fill="none"/>
<path d="M466.7 371.4 L472.4 366.7 L472.4 358.1 M472.4 366.7 L480 368.6" stroke="#333" stroke-width="0.8" fill="none"/>
<path d="M501.9 381 L507.6 376.2" stroke="#333" stroke-width="0.8" fill="none"/>
<path d="M528.3 409.5 L528.3 403.8 L538.8 397.1 L538.8 390.5 M538.8 397.1 L545.5 402.9" stroke="#333" stroke-width="0.8" fill="none"/>
<path d="M592.1 397.1 L594 390.5 L603.6 385.7 L610.5 390.5" stroke="#333" stroke-width="0.8" fill="none"/>
<path d="M612.4 358.8 L619.5 354 L619.5 346.4 M619.5 354 L630.2 358.8 L636.2 355.2" stroke="#333" stroke-width="0.8" fill="none"/>
<path d="M568.3 379 L569.3 390.5" stroke="#333" stroke-width="0.8" fill="none"/>
<path d="M565.5 205 L571.4 209.3 L578.5 207 M571.8 211.2 L578.3 209 M571.4 209.3 L569.5 217.5" stroke="#5a5ad8" stroke-width="0.8" fill="none"/>
<path d="M460 283.5 L466.7 286.7 L472.5 284.8 M467 288.6 L472.5 286.7 M466.7 286.7 L464.5 293.5" stroke="#5a5ad8" stroke-width="0.8" fill="none"/>
<path d="M436 310.5 L441 313.8 L446.5 312 M441.3 315.7 L446.5 313.9 M441 313.8 L440 320" stroke="#5a5ad8" stroke-width="0.8" fill="none"/>
<path d="M600.5 207 L608 211" stroke="#5a5ad8" stroke-width="0.8" fill="none"/>
<path d="M559 366.5 L565.5 364.8 L572 371 L568.3 379 L558.5 377.1 Z M567 366.8 L571 370.6 M560 375.5 L566.8 377.5" stroke="#5a5ad8" stroke-width="0.8" fill="none"/>
<path d="M608 212 L608 219.5 M610 212 L610 219.5" stroke="#e8382a" stroke-width="0.8" fill="none"/>
<path d="M453.3 347.1 L455 339 M455 347.5 L456.8 339.5" stroke="#e8382a" stroke-width="0.8" fill="none"/>
<path d="M603.6 385.7 L605 377.5 M605.5 386 L606.9 378" stroke="#e8382a" stroke-width="0.8" fill="none"/>
<path d="M503 193.5 L508 186" stroke="#e8382a" stroke-width="0.8" stroke-dasharray="0.8 0.8"/>
<text x="561.2" y="237.8" font-size="6.3" fill="#ee2222" text-anchor="middle" font-family="Liberation Sans, sans-serif" >O</text>
<text x="540" y="220.2" font-size="6.3" fill="#ee2222" text-anchor="middle" font-family="Liberation Sans, sans-serif" >O</text>
<text x="592" y="235.2" font-size="6.3" fill="#ee2222" text-anchor="middle" font-family="Liberation Sans, sans-serif" >O</text>
<text x="620.5" y="244" font-size="6.3" fill="#ee2222" text-anchor="middle" font-family="Liberation Sans, sans-serif" >OH</text>
<text x="568.5" y="300.5" font-size="6.3" fill="#ee2222" text-anchor="middle" font-family="Liberation Sans, sans-serif" >HO</text>
<text x="583.8" y="308.3" font-size="6.3" fill="#ee2222" text-anchor="middle" font-family="Liberation Sans, sans-serif" >O</text>
<text x="556.5" y="316" font-size="6.3" fill="#ee2222" text-anchor="middle" font-family="Liberation Sans, sans-serif" >O</text>
<text x="596.9" y="302.7" font-size="6.3" fill="#ee2222" text-anchor="middle" font-family="Liberation Sans, sans-serif" >O</text>
<text x="612.8" y="324.2" font-size="6.3" fill="#ee2222" text-anchor="middle" font-family="Liberation Sans, sans-serif" >O</text>
<text x="629.8" y="301.6" font-size="6.3" fill="#ee2222" text-anchor="middle" font-family="Liberation Sans, sans-serif" >O</text>
<text x="528.7" y="286.4" font-size="6.3" fill="#ee2222" text-anchor="middle" font-family="Liberation Sans, sans-serif" >O</text>
<text x="535.2" y="312.8" font-size="6.3" fill="#ee2222" text-anchor="middle" font-family="Liberation Sans, sans-serif" >O</text>
<text x="495.8" y="293.6" font-size="6.3" fill="#ee2222" text-anchor="middle" font-family="Liberation Sans, sans-serif" >HO</text>
<text x="494.5" y="349.3" font-size="6.3" fill="#ee2222" text-anchor="middle" font-family="Liberation Sans, sans-serif" >O</text>
<text x="608.2" y="223.6" font-size="6.3" fill="#ee2222" text-anchor="middle" font-family="Liberation Sans, sans-serif" >O</text>
<text x="455.2" y="338.9" font-size="6.3" fill="#ee2222" text-anchor="middle" font-family="Liberation Sans, sans-serif" >O</text>
<text x="461.5" y="356" font-size="6.3" fill="#ee2222" text-anchor="middle" font-family="Liberation Sans, sans-serif" >O⁻</text>
<text x="605.3" y="377.4" font-size="6.3" fill="#ee2222" text-anchor="middle" font-family="Liberation Sans, sans-serif" >O</text>
<text x="612.8" y="393.6" font-size="6.3" fill="#ee2222" text-anchor="middle" font-family="Liberation Sans, sans-serif" >O⁻</text>
<text x="500.8" y="200.3" font-size="4.8" fill="#ee2222" text-anchor="middle" font-family="Liberation Sans, sans-serif" transform="rotate(-35 500.8 198.3)">HO</text>
<text x="563" y="205.3" font-size="4.8" fill="#4444cc" text-anchor="middle" font-family="Liberation Sans, sans-serif" >HN</text>
<text x="584" y="208.4" font-size="4.8" fill="#4444cc" text-anchor="middle" font-family="Liberation Sans, sans-serif" >NH₂⁺</text>
<text x="568" y="222.7" font-size="4.8" fill="#4444cc" text-anchor="middle" font-family="Liberation Sans, sans-serif" >H₂N</text>
<text x="594" y="208.5" font-size="4.8" fill="#4444cc" text-anchor="middle" font-family="Liberation Sans, sans-serif" >NH₂</text>
<text x="517" y="331.2" font-size="6.4" fill="#4444cc" text-anchor="middle" font-family="Liberation Sans, sans-serif" >NH</text>
<text x="457.5" y="283.7" font-size="4.8" fill="#4444cc" text-anchor="middle" font-family="Liberation Sans, sans-serif" >HN</text>
<text x="476" y="286" font-size="4.8" fill="#4444cc" text-anchor="middle" font-family="Liberation Sans, sans-serif" >NH₂⁺</text>
<text x="461.7" y="298.7" font-size="4.8" fill="#4444cc" text-anchor="middle" font-family="Liberation Sans, sans-serif" >H₂N</text>
<text x="433.3" y="311" font-size="4.8" fill="#4444cc" text-anchor="middle" font-family="Liberation Sans, sans-serif" >HN</text>
<text x="450" y="313" font-size="4.8" fill="#4444cc" text-anchor="middle" font-family="Liberation Sans, sans-serif" >NH₂⁺</text>
<text x="438.1" y="324.4" font-size="4.8" fill="#4444cc" text-anchor="middle" font-family="Liberation Sans, sans-serif" >H₂N</text>
<text x="557" y="369.4" font-size="4.6" fill="#4444cc" text-anchor="middle" font-family="Liberation Sans, sans-serif" >HN</text>
<text x="575" y="375.2" font-size="4.6" fill="#4444cc" text-anchor="middle" font-family="Liberation Sans, sans-serif" >N</text>
<text x="482.5" y="213.3" font-size="7.1" font-weight="bold" fill="#1a1a1a">Leu273</text>
<text x="520" y="195.8" font-size="7.1" font-weight="bold" fill="#1a1a1a">Thr274</text>
<text x="559" y="181" font-size="7.1" font-weight="bold" fill="#1a1a1a">Arg276</text>
<text x="626.7" y="202.4" font-size="7.1" font-weight="bold" fill="#1a1a1a">Gln279</text>
<text x="661.7" y="243.1" font-size="7.1" font-weight="bold" fill="#1a1a1a">Phe270</text>
<text x="475.6" y="243.8" font-size="7.1" font-weight="bold" fill="#1a1a1a">Leu361</text>
<text x="475.7" y="251.4" font-size="7.1" font-weight="bold" fill="#1a1a1a">Gly360</text>
<text x="444.4" y="249.5" font-size="7.1" font-weight="bold" fill="#1a1a1a">Arg359</text>
<text x="416.7" y="290.3" font-size="7.1" font-weight="bold" fill="#1a1a1a">Arg318</text>
<text x="456.2" y="380.4" font-size="7.1" font-weight="bold" fill="#1a1a1a">Val23</text>
<text x="488" y="388" font-size="7.1" font-weight="bold" fill="#1a1a1a">Ala231</text>
<text x="502.2" y="409.5" font-size="7.1" font-weight="bold" fill="#1a1a1a">Leu228</text>
<text x="557.9" y="402.3" font-size="7.1" font-weight="bold" fill="#1a1a1a">His227</text>
<text x="636.7" y="352.9" font-size="7.1" font-weight="bold" fill="#1a1a1a">Leu215</text>
<text x="636.7" y="361.7" font-size="7.1" font-weight="bold" fill="#1a1a1a">Leu217</text>
<text x="432" y="366.1" font-size="7.1" font-weight="bold" fill="#ee2a2a">Glu27</text>
<text x="432.4" y="373.3" font-size="7.1" font-weight="bold" fill="#ee2a2a">Asp26</text>
<text x="585.5" y="402.9" font-size="7.1" font-weight="bold" fill="#ee2a2a">Asp224</text>
<text x="437.1" y="224.8" font-size="9.3" font-weight="bold" fill="#ff40ff">B9-B10 loop</text>
<text x="581.8" y="191" font-size="9.3" font-weight="bold" fill="#ff40ff">M-loop</text>
<text x="444.8" y="396.2" font-size="8.3" font-weight="bold" fill="#ff40ff">H1</text>
<text x="660" y="335.7" font-size="9.3" font-weight="bold" fill="#ff40ff">H6</text>
<text x="562.6" y="418.1" font-size="8.3" font-weight="bold" fill="#ff40ff">H7</text>
<text x="586" y="272.3" font-size="11.3" font-weight="bold" font-style="italic" fill="#1a1a1a" text-anchor="middle">1</text>
<text x="583" y="355.5" font-size="11.3" font-weight="bold" font-style="italic" fill="#1a1a1a" text-anchor="middle">2</text>
<text x="461" y="308.1" font-size="11.3" font-weight="bold" font-style="italic" fill="#1a1a1a" text-anchor="start">3a</text>
<text x="527.1" y="348.1" font-size="11.3" font-weight="bold" font-style="italic" fill="#1a1a1a" text-anchor="start">3b</text>
</g>
</svg>
</body></html>
